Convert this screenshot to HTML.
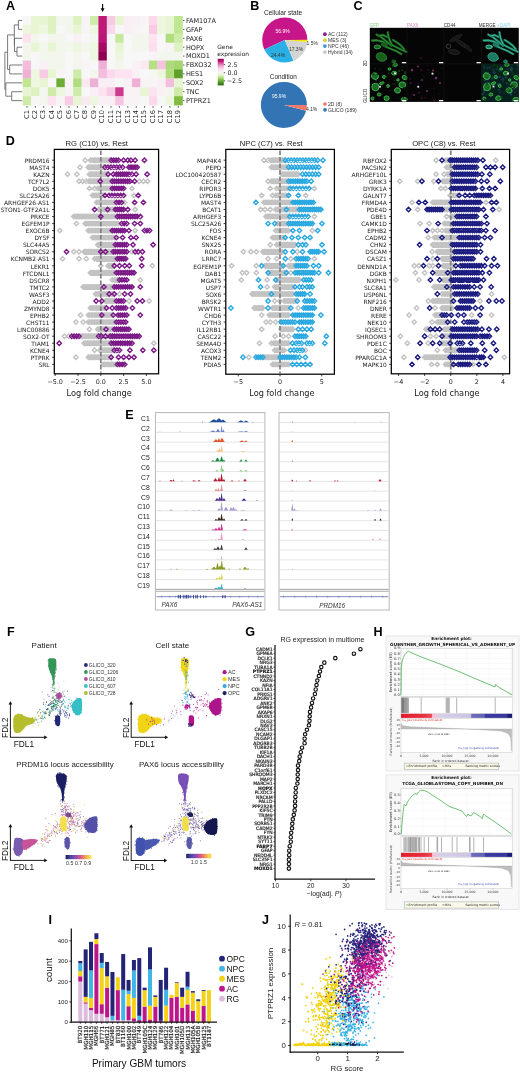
<!DOCTYPE html>
<html><head><meta charset="utf-8"><title>Figure</title>
<style>html,body{margin:0;padding:0;background:#fff;}svg{display:block;}</style></head>
<body><svg width="520" height="1072" viewBox="0 0 520 1072">
<rect width="520" height="1072" fill="#fff"/>
<text x="6.10" y="10.00" font-size="12.6" font-family='"Liberation Sans", Arial, sans-serif' font-weight="bold">A</text>
<rect x="22.70" y="16.00" width="8.71" height="9.21" fill="#f7f7f7" />
<rect x="31.11" y="16.00" width="8.71" height="9.21" fill="#e7f5d3" />
<rect x="39.52" y="16.00" width="8.71" height="9.21" fill="#e7f5d3" />
<rect x="47.93" y="16.00" width="8.71" height="9.21" fill="#ddf1c1" />
<rect x="56.34" y="16.00" width="8.71" height="9.21" fill="#f2f6ec" />
<rect x="64.75" y="16.00" width="8.71" height="9.21" fill="#f2f6ec" />
<rect x="73.16" y="16.00" width="8.71" height="9.21" fill="#ddf1c1" />
<rect x="81.57" y="16.00" width="8.71" height="9.21" fill="#f8f4f6" />
<rect x="89.98" y="16.00" width="8.71" height="9.21" fill="#cfebaa" />
<rect x="98.39" y="16.00" width="8.71" height="9.21" fill="#c01879" />
<rect x="106.81" y="16.00" width="8.71" height="9.21" fill="#f7cbe4" />
<rect x="115.22" y="16.00" width="8.71" height="9.21" fill="#e7f5d3" />
<rect x="123.63" y="16.00" width="8.71" height="9.21" fill="#f9f0f5" />
<rect x="132.04" y="16.00" width="8.71" height="9.21" fill="#f9f0f5" />
<rect x="140.45" y="16.00" width="8.71" height="9.21" fill="#f8f4f6" />
<rect x="148.86" y="16.00" width="8.71" height="9.21" fill="#fbd8eb" />
<rect x="157.27" y="16.00" width="8.71" height="9.21" fill="#edf6df" />
<rect x="165.68" y="16.00" width="8.71" height="9.21" fill="#e7f5d3" />
<rect x="174.09" y="16.00" width="8.71" height="9.21" fill="#c0e593" />
<rect x="22.70" y="24.91" width="8.71" height="9.21" fill="#edf6df" />
<rect x="31.11" y="24.91" width="8.71" height="9.21" fill="#e7f5d3" />
<rect x="39.52" y="24.91" width="8.71" height="9.21" fill="#edf6df" />
<rect x="47.93" y="24.91" width="8.71" height="9.21" fill="#ddf1c1" />
<rect x="56.34" y="24.91" width="8.71" height="9.21" fill="#f7f7f7" />
<rect x="64.75" y="24.91" width="8.71" height="9.21" fill="#f2f6ec" />
<rect x="73.16" y="24.91" width="8.71" height="9.21" fill="#e7f5d3" />
<rect x="81.57" y="24.91" width="8.71" height="9.21" fill="#f8f4f6" />
<rect x="89.98" y="24.91" width="8.71" height="9.21" fill="#edf6df" />
<rect x="98.39" y="24.91" width="8.71" height="9.21" fill="#c01879" />
<rect x="106.81" y="24.91" width="8.71" height="9.21" fill="#fbd8eb" />
<rect x="115.22" y="24.91" width="8.71" height="9.21" fill="#f7f7f7" />
<rect x="123.63" y="24.91" width="8.71" height="9.21" fill="#f9f0f5" />
<rect x="132.04" y="24.91" width="8.71" height="9.21" fill="#f8f4f6" />
<rect x="140.45" y="24.91" width="8.71" height="9.21" fill="#f7f7f7" />
<rect x="148.86" y="24.91" width="8.71" height="9.21" fill="#f7cbe4" />
<rect x="157.27" y="24.91" width="8.71" height="9.21" fill="#edf6df" />
<rect x="165.68" y="24.91" width="8.71" height="9.21" fill="#e7f5d3" />
<rect x="174.09" y="24.91" width="8.71" height="9.21" fill="#c0e593" />
<rect x="22.70" y="33.82" width="8.71" height="9.21" fill="#fde2f0" />
<rect x="31.11" y="33.82" width="8.71" height="9.21" fill="#f2f6ec" />
<rect x="39.52" y="33.82" width="8.71" height="9.21" fill="#f7f7f7" />
<rect x="47.93" y="33.82" width="8.71" height="9.21" fill="#f2f6ec" />
<rect x="56.34" y="33.82" width="8.71" height="9.21" fill="#f2f6ec" />
<rect x="64.75" y="33.82" width="8.71" height="9.21" fill="#f7f7f7" />
<rect x="73.16" y="33.82" width="8.71" height="9.21" fill="#f9f0f5" />
<rect x="81.57" y="33.82" width="8.71" height="9.21" fill="#f7f7f7" />
<rect x="89.98" y="33.82" width="8.71" height="9.21" fill="#f2f6ec" />
<rect x="98.39" y="33.82" width="8.71" height="9.21" fill="#bb1675" />
<rect x="106.81" y="33.82" width="8.71" height="9.21" fill="#f7f7f7" />
<rect x="115.22" y="33.82" width="8.71" height="9.21" fill="#c7e89f" />
<rect x="123.63" y="33.82" width="8.71" height="9.21" fill="#f7f7f7" />
<rect x="132.04" y="33.82" width="8.71" height="9.21" fill="#f2f6ec" />
<rect x="140.45" y="33.82" width="8.71" height="9.21" fill="#f2f6ec" />
<rect x="148.86" y="33.82" width="8.71" height="9.21" fill="#fde2f0" />
<rect x="157.27" y="33.82" width="8.71" height="9.21" fill="#f7f7f7" />
<rect x="165.68" y="33.82" width="8.71" height="9.21" fill="#b2dd7f" />
<rect x="174.09" y="33.82" width="8.71" height="9.21" fill="#cfebaa" />
<rect x="22.70" y="42.73" width="8.71" height="9.21" fill="#f2f6ec" />
<rect x="31.11" y="42.73" width="8.71" height="9.21" fill="#e7f5d3" />
<rect x="39.52" y="42.73" width="8.71" height="9.21" fill="#f2f6ec" />
<rect x="47.93" y="42.73" width="8.71" height="9.21" fill="#e7f5d3" />
<rect x="56.34" y="42.73" width="8.71" height="9.21" fill="#f2f6ec" />
<rect x="64.75" y="42.73" width="8.71" height="9.21" fill="#f2f6ec" />
<rect x="73.16" y="42.73" width="8.71" height="9.21" fill="#edf6df" />
<rect x="81.57" y="42.73" width="8.71" height="9.21" fill="#f2f6ec" />
<rect x="89.98" y="42.73" width="8.71" height="9.21" fill="#edf6df" />
<rect x="98.39" y="42.73" width="8.71" height="9.21" fill="#a40b63" />
<rect x="106.81" y="42.73" width="8.71" height="9.21" fill="#f7f7f7" />
<rect x="115.22" y="42.73" width="8.71" height="9.21" fill="#e7f5d3" />
<rect x="123.63" y="42.73" width="8.71" height="9.21" fill="#f7f7f7" />
<rect x="132.04" y="42.73" width="8.71" height="9.21" fill="#f2f6ec" />
<rect x="140.45" y="42.73" width="8.71" height="9.21" fill="#f2f6ec" />
<rect x="148.86" y="42.73" width="8.71" height="9.21" fill="#fddeee" />
<rect x="157.27" y="42.73" width="8.71" height="9.21" fill="#f7f7f7" />
<rect x="165.68" y="42.73" width="8.71" height="9.21" fill="#f8f4f6" />
<rect x="174.09" y="42.73" width="8.71" height="9.21" fill="#ddf1c1" />
<rect x="22.70" y="51.64" width="8.71" height="9.21" fill="#f2f6ec" />
<rect x="31.11" y="51.64" width="8.71" height="9.21" fill="#f7f7f7" />
<rect x="39.52" y="51.64" width="8.71" height="9.21" fill="#f2f6ec" />
<rect x="47.93" y="51.64" width="8.71" height="9.21" fill="#f2f6ec" />
<rect x="56.34" y="51.64" width="8.71" height="9.21" fill="#f2f6ec" />
<rect x="64.75" y="51.64" width="8.71" height="9.21" fill="#f7f7f7" />
<rect x="73.16" y="51.64" width="8.71" height="9.21" fill="#f2f6ec" />
<rect x="81.57" y="51.64" width="8.71" height="9.21" fill="#f7f7f7" />
<rect x="89.98" y="51.64" width="8.71" height="9.21" fill="#edf6df" />
<rect x="98.39" y="51.64" width="8.71" height="9.21" fill="#8e0152" />
<rect x="106.81" y="51.64" width="8.71" height="9.21" fill="#f7f7f7" />
<rect x="115.22" y="51.64" width="8.71" height="9.21" fill="#edf6df" />
<rect x="123.63" y="51.64" width="8.71" height="9.21" fill="#f7f7f7" />
<rect x="132.04" y="51.64" width="8.71" height="9.21" fill="#f7f7f7" />
<rect x="140.45" y="51.64" width="8.71" height="9.21" fill="#f7f7f7" />
<rect x="148.86" y="51.64" width="8.71" height="9.21" fill="#f8f4f6" />
<rect x="157.27" y="51.64" width="8.71" height="9.21" fill="#f2f6ec" />
<rect x="165.68" y="51.64" width="8.71" height="9.21" fill="#f2f6ec" />
<rect x="174.09" y="51.64" width="8.71" height="9.21" fill="#f2f6ec" />
<rect x="22.70" y="60.55" width="8.71" height="9.21" fill="#f3bdde" />
<rect x="31.11" y="60.55" width="8.71" height="9.21" fill="#f7f7f7" />
<rect x="39.52" y="60.55" width="8.71" height="9.21" fill="#f9f0f5" />
<rect x="47.93" y="60.55" width="8.71" height="9.21" fill="#f2f6ec" />
<rect x="56.34" y="60.55" width="8.71" height="9.21" fill="#f2f6ec" />
<rect x="64.75" y="60.55" width="8.71" height="9.21" fill="#f7f7f7" />
<rect x="73.16" y="60.55" width="8.71" height="9.21" fill="#f2f6ec" />
<rect x="81.57" y="60.55" width="8.71" height="9.21" fill="#f8f4f6" />
<rect x="89.98" y="60.55" width="8.71" height="9.21" fill="#f7f7f7" />
<rect x="98.39" y="60.55" width="8.71" height="9.21" fill="#efb0d6" />
<rect x="106.81" y="60.55" width="8.71" height="9.21" fill="#f7f7f7" />
<rect x="115.22" y="60.55" width="8.71" height="9.21" fill="#f2f6ec" />
<rect x="123.63" y="60.55" width="8.71" height="9.21" fill="#f7f7f7" />
<rect x="132.04" y="60.55" width="8.71" height="9.21" fill="#f9f0f5" />
<rect x="140.45" y="60.55" width="8.71" height="9.21" fill="#fbe9f2" />
<rect x="148.86" y="60.55" width="8.71" height="9.21" fill="#b7e085" />
<rect x="157.27" y="60.55" width="8.71" height="9.21" fill="#f5c4e1" />
<rect x="165.68" y="60.55" width="8.71" height="9.21" fill="#aeda7a" />
<rect x="174.09" y="60.55" width="8.71" height="9.21" fill="#a5d56f" />
<rect x="22.70" y="69.46" width="8.71" height="9.21" fill="#efb0d6" />
<rect x="31.11" y="69.46" width="8.71" height="9.21" fill="#edf6df" />
<rect x="39.52" y="69.46" width="8.71" height="9.21" fill="#f7cbe4" />
<rect x="47.93" y="69.46" width="8.71" height="9.21" fill="#e7f5d3" />
<rect x="56.34" y="69.46" width="8.71" height="9.21" fill="#f8f4f6" />
<rect x="64.75" y="69.46" width="8.71" height="9.21" fill="#f7f7f7" />
<rect x="73.16" y="69.46" width="8.71" height="9.21" fill="#cfebaa" />
<rect x="81.57" y="69.46" width="8.71" height="9.21" fill="#f7f7f7" />
<rect x="89.98" y="69.46" width="8.71" height="9.21" fill="#f2f6ec" />
<rect x="98.39" y="69.46" width="8.71" height="9.21" fill="#f3bdde" />
<rect x="106.81" y="69.46" width="8.71" height="9.21" fill="#fbd8eb" />
<rect x="115.22" y="69.46" width="8.71" height="9.21" fill="#fde2f0" />
<rect x="123.63" y="69.46" width="8.71" height="9.21" fill="#fde2f0" />
<rect x="132.04" y="69.46" width="8.71" height="9.21" fill="#f9f0f5" />
<rect x="140.45" y="69.46" width="8.71" height="9.21" fill="#f7f7f7" />
<rect x="148.86" y="69.46" width="8.71" height="9.21" fill="#f5f7f2" />
<rect x="157.27" y="69.46" width="8.71" height="9.21" fill="#edf6df" />
<rect x="165.68" y="69.46" width="8.71" height="9.21" fill="#b2dd7f" />
<rect x="174.09" y="69.46" width="8.71" height="9.21" fill="#5ea02c" />
<rect x="22.70" y="78.37" width="8.71" height="9.21" fill="#c0e593" />
<rect x="31.11" y="78.37" width="8.71" height="9.21" fill="#edf6df" />
<rect x="39.52" y="78.37" width="8.71" height="9.21" fill="#e7f5d3" />
<rect x="47.93" y="78.37" width="8.71" height="9.21" fill="#f7f7f7" />
<rect x="56.34" y="78.37" width="8.71" height="9.21" fill="#6dad36" />
<rect x="64.75" y="78.37" width="8.71" height="9.21" fill="#f8f4f6" />
<rect x="73.16" y="78.37" width="8.71" height="9.21" fill="#b2dd7f" />
<rect x="81.57" y="78.37" width="8.71" height="9.21" fill="#fbe9f2" />
<rect x="89.98" y="78.37" width="8.71" height="9.21" fill="#efb0d6" />
<rect x="98.39" y="78.37" width="8.71" height="9.21" fill="#f9f0f5" />
<rect x="106.81" y="78.37" width="8.71" height="9.21" fill="#f9f0f5" />
<rect x="115.22" y="78.37" width="8.71" height="9.21" fill="#f7f7f7" />
<rect x="123.63" y="78.37" width="8.71" height="9.21" fill="#f9f0f5" />
<rect x="132.04" y="78.37" width="8.71" height="9.21" fill="#efb0d6" />
<rect x="140.45" y="78.37" width="8.71" height="9.21" fill="#f8f4f6" />
<rect x="148.86" y="78.37" width="8.71" height="9.21" fill="#f8f4f6" />
<rect x="157.27" y="78.37" width="8.71" height="9.21" fill="#f9f0f5" />
<rect x="165.68" y="78.37" width="8.71" height="9.21" fill="#f3bdde" />
<rect x="174.09" y="78.37" width="8.71" height="9.21" fill="#e7f5d3" />
<rect x="22.70" y="87.28" width="8.71" height="9.21" fill="#e7f5d3" />
<rect x="31.11" y="87.28" width="8.71" height="9.21" fill="#ddf1c1" />
<rect x="39.52" y="87.28" width="8.71" height="9.21" fill="#f2f6ec" />
<rect x="47.93" y="87.28" width="8.71" height="9.21" fill="#cfebaa" />
<rect x="56.34" y="87.28" width="8.71" height="9.21" fill="#edf6df" />
<rect x="64.75" y="87.28" width="8.71" height="9.21" fill="#f8f4f6" />
<rect x="73.16" y="87.28" width="8.71" height="9.21" fill="#cfebaa" />
<rect x="81.57" y="87.28" width="8.71" height="9.21" fill="#f7f7f7" />
<rect x="89.98" y="87.28" width="8.71" height="9.21" fill="#f9f0f5" />
<rect x="98.39" y="87.28" width="8.71" height="9.21" fill="#fde2f0" />
<rect x="106.81" y="87.28" width="8.71" height="9.21" fill="#f7cbe4" />
<rect x="115.22" y="87.28" width="8.71" height="9.21" fill="#cd3a8d" />
<rect x="123.63" y="87.28" width="8.71" height="9.21" fill="#f8f4f6" />
<rect x="132.04" y="87.28" width="8.71" height="9.21" fill="#f8f4f6" />
<rect x="140.45" y="87.28" width="8.71" height="9.21" fill="#e7f5d3" />
<rect x="148.86" y="87.28" width="8.71" height="9.21" fill="#fde2f0" />
<rect x="157.27" y="87.28" width="8.71" height="9.21" fill="#f9f0f5" />
<rect x="165.68" y="87.28" width="8.71" height="9.21" fill="#f2f6ec" />
<rect x="174.09" y="87.28" width="8.71" height="9.21" fill="#cfebaa" />
<rect x="22.70" y="96.19" width="8.71" height="9.21" fill="#cfebaa" />
<rect x="31.11" y="96.19" width="8.71" height="9.21" fill="#f7f7f7" />
<rect x="39.52" y="96.19" width="8.71" height="9.21" fill="#f2f6ec" />
<rect x="47.93" y="96.19" width="8.71" height="9.21" fill="#fde2f0" />
<rect x="56.34" y="96.19" width="8.71" height="9.21" fill="#f8f4f6" />
<rect x="64.75" y="96.19" width="8.71" height="9.21" fill="#f7cbe4" />
<rect x="73.16" y="96.19" width="8.71" height="9.21" fill="#e7f5d3" />
<rect x="81.57" y="96.19" width="8.71" height="9.21" fill="#fbe9f2" />
<rect x="89.98" y="96.19" width="8.71" height="9.21" fill="#edf6df" />
<rect x="98.39" y="96.19" width="8.71" height="9.21" fill="#f9f0f5" />
<rect x="106.81" y="96.19" width="8.71" height="9.21" fill="#f9f0f5" />
<rect x="115.22" y="96.19" width="8.71" height="9.21" fill="#f5c4e1" />
<rect x="123.63" y="96.19" width="8.71" height="9.21" fill="#f8f4f6" />
<rect x="132.04" y="96.19" width="8.71" height="9.21" fill="#f8f4f6" />
<rect x="140.45" y="96.19" width="8.71" height="9.21" fill="#f5f7f2" />
<rect x="148.86" y="96.19" width="8.71" height="9.21" fill="#fbd8eb" />
<rect x="157.27" y="96.19" width="8.71" height="9.21" fill="#f5f7f2" />
<rect x="165.68" y="96.19" width="8.71" height="9.21" fill="#edf6df" />
<rect x="174.09" y="96.19" width="8.71" height="9.21" fill="#7fbc41" />
<line x1="102.60" y1="4.00" x2="102.60" y2="9.00" stroke="#000" stroke-width="1.1" />
<path d="M100.70,8.2 L104.50,8.2 L102.60,11.9 Z" fill="#000" />
<line x1="183.10" y1="20.45" x2="184.40" y2="20.45" stroke="#222" stroke-width="0.8" />
<text x="185.90" y="22.82" font-size="6.5" font-family='"DejaVu Sans", sans-serif' fill="#222">FAM107A</text>
<line x1="183.10" y1="29.37" x2="184.40" y2="29.37" stroke="#222" stroke-width="0.8" />
<text x="185.90" y="31.73" font-size="6.5" font-family='"DejaVu Sans", sans-serif' fill="#222">GFAP</text>
<line x1="183.10" y1="38.27" x2="184.40" y2="38.27" stroke="#222" stroke-width="0.8" />
<text x="185.90" y="40.64" font-size="6.5" font-family='"DejaVu Sans", sans-serif' fill="#222">PAX6</text>
<line x1="183.10" y1="47.19" x2="184.40" y2="47.19" stroke="#222" stroke-width="0.8" />
<text x="185.90" y="49.55" font-size="6.5" font-family='"DejaVu Sans", sans-serif' fill="#222">HOPX</text>
<line x1="183.10" y1="56.09" x2="184.40" y2="56.09" stroke="#222" stroke-width="0.8" />
<text x="185.90" y="58.46" font-size="6.5" font-family='"DejaVu Sans", sans-serif' fill="#222">MOXD1</text>
<line x1="183.10" y1="65.00" x2="184.40" y2="65.00" stroke="#222" stroke-width="0.8" />
<text x="185.90" y="67.37" font-size="6.5" font-family='"DejaVu Sans", sans-serif' fill="#222">FBXO32</text>
<line x1="183.10" y1="73.91" x2="184.40" y2="73.91" stroke="#222" stroke-width="0.8" />
<text x="185.90" y="76.28" font-size="6.5" font-family='"DejaVu Sans", sans-serif' fill="#222">HES1</text>
<line x1="183.10" y1="82.83" x2="184.40" y2="82.83" stroke="#222" stroke-width="0.8" />
<text x="185.90" y="85.19" font-size="6.5" font-family='"DejaVu Sans", sans-serif' fill="#222">SOX2</text>
<line x1="183.10" y1="91.73" x2="184.40" y2="91.73" stroke="#222" stroke-width="0.8" />
<text x="185.90" y="94.10" font-size="6.5" font-family='"DejaVu Sans", sans-serif' fill="#222">TNC</text>
<line x1="183.10" y1="100.64" x2="184.40" y2="100.64" stroke="#222" stroke-width="0.8" />
<text x="185.90" y="103.01" font-size="6.5" font-family='"DejaVu Sans", sans-serif' fill="#222">PTPRZ1</text>
<line x1="26.91" y1="106.10" x2="26.91" y2="107.70" stroke="#222" stroke-width="0.8" />
<text x="28.61" y="110.00" font-size="6.7" font-family='"DejaVu Sans", sans-serif' text-anchor="end" fill="#222" transform="rotate(-90 28.61 110.00)">C1</text>
<line x1="35.32" y1="106.10" x2="35.32" y2="107.70" stroke="#222" stroke-width="0.8" />
<text x="37.02" y="110.00" font-size="6.7" font-family='"DejaVu Sans", sans-serif' text-anchor="end" fill="#222" transform="rotate(-90 37.02 110.00)">C2</text>
<line x1="43.73" y1="106.10" x2="43.73" y2="107.70" stroke="#222" stroke-width="0.8" />
<text x="45.43" y="110.00" font-size="6.7" font-family='"DejaVu Sans", sans-serif' text-anchor="end" fill="#222" transform="rotate(-90 45.43 110.00)">C3</text>
<line x1="52.14" y1="106.10" x2="52.14" y2="107.70" stroke="#222" stroke-width="0.8" />
<text x="53.84" y="110.00" font-size="6.7" font-family='"DejaVu Sans", sans-serif' text-anchor="end" fill="#222" transform="rotate(-90 53.84 110.00)">C4</text>
<line x1="60.55" y1="106.10" x2="60.55" y2="107.70" stroke="#222" stroke-width="0.8" />
<text x="62.25" y="110.00" font-size="6.7" font-family='"DejaVu Sans", sans-serif' text-anchor="end" fill="#222" transform="rotate(-90 62.25 110.00)">C5</text>
<line x1="68.96" y1="106.10" x2="68.96" y2="107.70" stroke="#222" stroke-width="0.8" />
<text x="70.66" y="110.00" font-size="6.7" font-family='"DejaVu Sans", sans-serif' text-anchor="end" fill="#222" transform="rotate(-90 70.66 110.00)">C6</text>
<line x1="77.37" y1="106.10" x2="77.37" y2="107.70" stroke="#222" stroke-width="0.8" />
<text x="79.07" y="110.00" font-size="6.7" font-family='"DejaVu Sans", sans-serif' text-anchor="end" fill="#222" transform="rotate(-90 79.07 110.00)">C7</text>
<line x1="85.78" y1="106.10" x2="85.78" y2="107.70" stroke="#222" stroke-width="0.8" />
<text x="87.48" y="110.00" font-size="6.7" font-family='"DejaVu Sans", sans-serif' text-anchor="end" fill="#222" transform="rotate(-90 87.48 110.00)">C8</text>
<line x1="94.19" y1="106.10" x2="94.19" y2="107.70" stroke="#222" stroke-width="0.8" />
<text x="95.89" y="110.00" font-size="6.7" font-family='"DejaVu Sans", sans-serif' text-anchor="end" fill="#222" transform="rotate(-90 95.89 110.00)">C9</text>
<line x1="102.60" y1="106.10" x2="102.60" y2="107.70" stroke="#222" stroke-width="0.8" />
<text x="104.30" y="110.00" font-size="6.7" font-family='"DejaVu Sans", sans-serif' text-anchor="end" fill="#222" transform="rotate(-90 104.30 110.00)">C10</text>
<line x1="111.01" y1="106.10" x2="111.01" y2="107.70" stroke="#222" stroke-width="0.8" />
<text x="112.71" y="110.00" font-size="6.7" font-family='"DejaVu Sans", sans-serif' text-anchor="end" fill="#222" transform="rotate(-90 112.71 110.00)">C11</text>
<line x1="119.42" y1="106.10" x2="119.42" y2="107.70" stroke="#222" stroke-width="0.8" />
<text x="121.12" y="110.00" font-size="6.7" font-family='"DejaVu Sans", sans-serif' text-anchor="end" fill="#222" transform="rotate(-90 121.12 110.00)">C12</text>
<line x1="127.83" y1="106.10" x2="127.83" y2="107.70" stroke="#222" stroke-width="0.8" />
<text x="129.53" y="110.00" font-size="6.7" font-family='"DejaVu Sans", sans-serif' text-anchor="end" fill="#222" transform="rotate(-90 129.53 110.00)">C13</text>
<line x1="136.24" y1="106.10" x2="136.24" y2="107.70" stroke="#222" stroke-width="0.8" />
<text x="137.94" y="110.00" font-size="6.7" font-family='"DejaVu Sans", sans-serif' text-anchor="end" fill="#222" transform="rotate(-90 137.94 110.00)">C14</text>
<line x1="144.65" y1="106.10" x2="144.65" y2="107.70" stroke="#222" stroke-width="0.8" />
<text x="146.35" y="110.00" font-size="6.7" font-family='"DejaVu Sans", sans-serif' text-anchor="end" fill="#222" transform="rotate(-90 146.35 110.00)">C15</text>
<line x1="153.06" y1="106.10" x2="153.06" y2="107.70" stroke="#222" stroke-width="0.8" />
<text x="154.76" y="110.00" font-size="6.7" font-family='"DejaVu Sans", sans-serif' text-anchor="end" fill="#222" transform="rotate(-90 154.76 110.00)">C16</text>
<line x1="161.47" y1="106.10" x2="161.47" y2="107.70" stroke="#222" stroke-width="0.8" />
<text x="163.17" y="110.00" font-size="6.7" font-family='"DejaVu Sans", sans-serif' text-anchor="end" fill="#222" transform="rotate(-90 163.17 110.00)">C17</text>
<line x1="169.88" y1="106.10" x2="169.88" y2="107.70" stroke="#222" stroke-width="0.8" />
<text x="171.58" y="110.00" font-size="6.7" font-family='"DejaVu Sans", sans-serif' text-anchor="end" fill="#222" transform="rotate(-90 171.58 110.00)">C18</text>
<line x1="178.29" y1="106.10" x2="178.29" y2="107.70" stroke="#222" stroke-width="0.8" />
<text x="179.99" y="110.00" font-size="6.7" font-family='"DejaVu Sans", sans-serif' text-anchor="end" fill="#222" transform="rotate(-90 179.99 110.00)">C19</text>
<path d="M22.20,20.45 H18.40 V29.37 H22.20" fill="none" stroke="#6a6a6a" stroke-width="0.9" />
<path d="M22.20,47.19 H17.00 V56.09 H22.20" fill="none" stroke="#6a6a6a" stroke-width="0.9" />
<path d="M22.20,38.27 H14.50 V51.64 H17.00" fill="none" stroke="#6a6a6a" stroke-width="0.9" />
<path d="M18.40,24.91 H14.30 V44.96 H14.50" fill="none" stroke="#6a6a6a" stroke-width="0.9" />
<path d="M22.20,65.00 H9.70 V73.91 H22.20" fill="none" stroke="#6a6a6a" stroke-width="0.9" />
<path d="M14.30,34.93 H7.60 V69.46 H9.70" fill="none" stroke="#6a6a6a" stroke-width="0.9" />
<path d="M22.20,91.73 H11.70 V100.64 H22.20" fill="none" stroke="#6a6a6a" stroke-width="0.9" />
<path d="M22.20,82.83 H5.80 V96.19 H11.70" fill="none" stroke="#6a6a6a" stroke-width="0.9" />
<path d="M7.60,52.20 H4.90 V89.51 H5.80" fill="none" stroke="#6a6a6a" stroke-width="0.9" />
<defs><linearGradient id="gA" x1="0" y1="1" x2="0" y2="0"><stop offset="0.000" stop-color="#276419"/><stop offset="0.050" stop-color="#397a1d"/><stop offset="0.100" stop-color="#4c9121"/><stop offset="0.150" stop-color="#66a731"/><stop offset="0.200" stop-color="#7fbc41"/><stop offset="0.250" stop-color="#9ccf64"/><stop offset="0.300" stop-color="#b7e085"/><stop offset="0.350" stop-color="#cfebaa"/><stop offset="0.400" stop-color="#e6f5d0"/><stop offset="0.450" stop-color="#eff6e4"/><stop offset="0.500" stop-color="#f7f7f7"/><stop offset="0.550" stop-color="#faecf3"/><stop offset="0.600" stop-color="#fde0ef"/><stop offset="0.650" stop-color="#f7cbe4"/><stop offset="0.700" stop-color="#f1b5d9"/><stop offset="0.750" stop-color="#e795c3"/><stop offset="0.800" stop-color="#de77ae"/><stop offset="0.850" stop-color="#d14895"/><stop offset="0.900" stop-color="#c41a7c"/><stop offset="0.950" stop-color="#a80d66"/><stop offset="1.000" stop-color="#8e0152"/></linearGradient></defs>
<rect x="217.70" y="58.80" width="6.10" height="26.60" fill="url(#gA)" />
<line x1="223.80" y1="64.64" x2="225.10" y2="64.64" stroke="#222" stroke-width="0.8" />
<text x="227.50" y="66.94" font-size="6.3" font-family='"DejaVu Sans", sans-serif' fill="#222">2.5</text>
<line x1="223.80" y1="72.75" x2="225.10" y2="72.75" stroke="#222" stroke-width="0.8" />
<text x="227.50" y="75.05" font-size="6.3" font-family='"DejaVu Sans", sans-serif' fill="#222">0.0</text>
<line x1="223.80" y1="80.86" x2="225.10" y2="80.86" stroke="#222" stroke-width="0.8" />
<text x="226.70" y="83.15" font-size="6.3" font-family='"DejaVu Sans", sans-serif' fill="#222">−2.5</text>
<text x="217.30" y="49.40" font-size="5.9" font-family='"DejaVu Sans", sans-serif' fill="#222">Gene</text>
<text x="217.30" y="56.00" font-size="5.9" font-family='"DejaVu Sans", sans-serif' fill="#222">expression</text>
<text x="250.37" y="10.00" font-size="12.6" font-family='"Liberation Sans", Arial, sans-serif' font-weight="bold">B</text>
<text x="283.10" y="14.55" font-size="6.55" font-family='"Liberation Sans", Arial, sans-serif' text-anchor="middle" fill="#222">Cellular state</text>
<path d="M284.80,40.00 L307.40,40.00 A22.6,22.6 0 1 0 264.29,49.49 Z" fill="#c7168a" />
<path d="M284.80,40.00 L264.29,49.49 A22.6,22.6 0 0 0 293.51,60.85 Z" fill="#2ab0e4" />
<path d="M284.80,40.00 L293.51,60.85 A22.6,22.6 0 0 0 307.31,41.99 Z" fill="#d4d4d4" />
<path d="M284.80,40.00 L307.31,41.99 A22.6,22.6 0 0 0 307.40,39.86 Z" fill="#f2e600" />
<text x="282.60" y="33.02" font-size="5.0" font-family='"Liberation Sans", Arial, sans-serif' text-anchor="middle" fill="#fff">56.9%</text>
<text x="278.00" y="57.12" font-size="5.0" font-family='"Liberation Sans", Arial, sans-serif' text-anchor="middle" fill="#333">24.4%</text>
<text x="296.00" y="51.22" font-size="5.0" font-family='"Liberation Sans", Arial, sans-serif' text-anchor="middle" fill="#333">17.3%</text>
<text x="312.30" y="45.32" font-size="5.0" font-family='"Liberation Sans", Arial, sans-serif' text-anchor="middle" fill="#333">1.5%</text>
<circle cx="324.90" cy="34.20" r="1.85" fill="#8e1a8e" />
<text x="328.00" y="35.92" font-size="5.0" font-family='"Liberation Sans", Arial, sans-serif' fill="#333">AC (112)</text>
<circle cx="324.90" cy="40.15" r="1.85" fill="#cfd23a" />
<text x="328.00" y="41.87" font-size="5.0" font-family='"Liberation Sans", Arial, sans-serif' fill="#333">MES (3)</text>
<circle cx="324.90" cy="46.10" r="1.85" fill="#3a98d8" />
<text x="328.00" y="47.82" font-size="5.0" font-family='"Liberation Sans", Arial, sans-serif' fill="#333">NPC (46)</text>
<circle cx="324.90" cy="52.05" r="1.85" fill="#c8c8c8" />
<text x="328.00" y="53.77" font-size="5.0" font-family='"Liberation Sans", Arial, sans-serif' fill="#333">Hybrid (34)</text>
<text x="283.30" y="78.90" font-size="6.4" font-family='"Liberation Sans", Arial, sans-serif' text-anchor="middle" fill="#222">Condition</text>
<path d="M283.90,104.90 L306.90,104.90 A23.0,23.0 0 1 0 306.14,110.76 Z" fill="#3274b4" />
<path d="M283.90,104.90 L306.14,110.76 A23.0,23.0 0 0 0 306.90,104.90 Z" fill="#f07a6a" />
<text x="279.00" y="97.72" font-size="5.0" font-family='"Liberation Sans", Arial, sans-serif' text-anchor="middle" fill="#fff">95.9%</text>
<text x="311.60" y="111.12" font-size="5.0" font-family='"Liberation Sans", Arial, sans-serif' text-anchor="middle" fill="#333">4.1%</text>
<circle cx="325.00" cy="104.00" r="1.85" fill="#f07a6a" />
<text x="328.00" y="105.72" font-size="5.0" font-family='"Liberation Sans", Arial, sans-serif' fill="#333">2D (8)</text>
<circle cx="325.00" cy="109.80" r="1.85" fill="#3274b4" />
<text x="328.00" y="111.52" font-size="5.0" font-family='"Liberation Sans", Arial, sans-serif' fill="#333">GLICO (189)</text>
<text x="353.58" y="10.10" font-size="12.6" font-family='"Liberation Sans", Arial, sans-serif' font-weight="bold">C</text>
<defs><filter id="bl" x="-20%" y="-20%" width="140%" height="140%"><feGaussianBlur stdDeviation="0.6"/></filter><filter id="bl2" x="-20%" y="-20%" width="140%" height="140%"><feGaussianBlur stdDeviation="0.35"/></filter><clipPath id="cC"><rect x="369.8" y="27.8" width="149" height="74.1"/></clipPath></defs>
<rect x="369.80" y="27.80" width="149.00" height="74.10" fill="#050505" />
<g clip-path="url(#cC)">
<g filter="url(#bl2)" opacity="1.0" fill="none" stroke-linecap="round" stroke-linejoin="round">
<path d="M376.5 34.5 L381.0 37.0 L386.0 41.0 L391.5 45.8" stroke="#17601f" stroke-width="2.4"/>
<path d="M376.5 34.5 L381.0 37.0 L386.0 41.0 L391.5 45.8" stroke="#40a84c" stroke-width="0.7"/>
<path d="M387.8 32.3 L388.5 37.0 L390.0 41.0 L392.0 45.0" stroke="#17601f" stroke-width="2.4"/>
<path d="M387.8 32.3 L388.5 37.0 L390.0 41.0 L392.0 45.0" stroke="#40a84c" stroke-width="0.7"/>
<path d="M372.0 40.5 L377.0 40.3 L382.0 41.5 L386.0 43.0" stroke="#17601f" stroke-width="2.4"/>
<path d="M372.0 40.5 L377.0 40.3 L382.0 41.5 L386.0 43.0" stroke="#40a84c" stroke-width="0.7"/>
<path d="M384.0 45.8 L390.0 48.5 L396.0 51.0 L401.3 54.0" stroke="#17601f" stroke-width="2.4"/>
<path d="M384.0 45.8 L390.0 48.5 L396.0 51.0 L401.3 54.0" stroke="#40a84c" stroke-width="0.7"/>
<path d="M392.0 45.0 L397.0 47.5 L402.0 50.0 L406.5 51.8" stroke="#17601f" stroke-width="2.4"/>
<path d="M392.0 45.0 L397.0 47.5 L402.0 50.0 L406.5 51.8" stroke="#40a84c" stroke-width="0.7"/>
<path d="M379.0 36.0 L383.0 35.0 L387.0 37.0" stroke="#17601f" stroke-width="2.4"/>
<path d="M379.0 36.0 L383.0 35.0 L387.0 37.0" stroke="#40a84c" stroke-width="0.7"/>
<path d="M393.0 40.0 L397.0 42.5 L401.0 45.5 L404.0 49.0" stroke="#17601f" stroke-width="2.4"/>
<path d="M393.0 40.0 L397.0 42.5 L401.0 45.5 L404.0 49.0" stroke="#40a84c" stroke-width="0.7"/>
<ellipse cx="377.3" cy="46.9" rx="3.2" ry="1.9" fill="#17601f" stroke="#40a84c" stroke-width="0.9"/>
<ellipse cx="384.5" cy="44.5" rx="3.5" ry="2.2" fill="#17601f"/>
<ellipse cx="381.4" cy="57" rx="5.4" ry="4.2" fill="#17601f" stroke="#40a84c" stroke-width="0.5" transform="rotate(20 381.4 57)"/>
<ellipse cx="393.8" cy="61.5" rx="2.4" ry="2.0" fill="#17601f"/>
</g>
<g filter="url(#bl2)">
<circle cx="448.50" cy="46.30" r="2.20" fill="none" stroke="#6a6a6a" stroke-width="0.5" />
<ellipse cx="456.00" cy="38" rx="7" ry="1.8" fill="#161616" stroke="#2e2e2e" stroke-width="0.5" transform="rotate(-30 456.00 38)"/>
<ellipse cx="462.00" cy="44" rx="8" ry="1.8" fill="#161616" stroke="#2e2e2e" stroke-width="0.5" transform="rotate(35 462.00 44)"/>
<ellipse cx="454.00" cy="52" rx="6" ry="2.5" fill="#161616" stroke="#2e2e2e" stroke-width="0.5" transform="rotate(10 454.00 52)"/>
<ellipse cx="468.00" cy="48" rx="5" ry="1.5" fill="#161616" stroke="#2e2e2e" stroke-width="0.5" transform="rotate(40 468.00 48)"/>
</g>
<g filter="url(#bl2)" opacity="1.0" fill="none" stroke-linecap="round" stroke-linejoin="round">
<path d="M488.2 34.5 L492.7 37.0 L497.7 41.0 L503.2 45.8" stroke="#1b7a62" stroke-width="2.4"/>
<path d="M488.2 34.5 L492.7 37.0 L497.7 41.0 L503.2 45.8" stroke="#4ad0a8" stroke-width="0.7"/>
<path d="M499.5 32.3 L500.2 37.0 L501.7 41.0 L503.7 45.0" stroke="#1b7a62" stroke-width="2.4"/>
<path d="M499.5 32.3 L500.2 37.0 L501.7 41.0 L503.7 45.0" stroke="#4ad0a8" stroke-width="0.7"/>
<path d="M483.7 40.5 L488.7 40.3 L493.7 41.5 L497.7 43.0" stroke="#1b7a62" stroke-width="2.4"/>
<path d="M483.7 40.5 L488.7 40.3 L493.7 41.5 L497.7 43.0" stroke="#4ad0a8" stroke-width="0.7"/>
<path d="M495.7 45.8 L501.7 48.5 L507.7 51.0 L513.0 54.0" stroke="#1b7a62" stroke-width="2.4"/>
<path d="M495.7 45.8 L501.7 48.5 L507.7 51.0 L513.0 54.0" stroke="#4ad0a8" stroke-width="0.7"/>
<path d="M503.7 45.0 L508.7 47.5 L513.7 50.0 L518.2 51.8" stroke="#1b7a62" stroke-width="2.4"/>
<path d="M503.7 45.0 L508.7 47.5 L513.7 50.0 L518.2 51.8" stroke="#4ad0a8" stroke-width="0.7"/>
<path d="M490.7 36.0 L494.7 35.0 L498.7 37.0" stroke="#1b7a62" stroke-width="2.4"/>
<path d="M490.7 36.0 L494.7 35.0 L498.7 37.0" stroke="#4ad0a8" stroke-width="0.7"/>
<path d="M504.7 40.0 L508.7 42.5 L512.7 45.5 L515.7 49.0" stroke="#1b7a62" stroke-width="2.4"/>
<path d="M504.7 40.0 L508.7 42.5 L512.7 45.5 L515.7 49.0" stroke="#4ad0a8" stroke-width="0.7"/>
<ellipse cx="489.0" cy="46.9" rx="3.2" ry="1.9" fill="#1b7a62" stroke="#4ad0a8" stroke-width="0.9"/>
<ellipse cx="496.2" cy="44.5" rx="3.5" ry="2.2" fill="#1b7a62"/>
<ellipse cx="493.1" cy="57" rx="5.4" ry="4.2" fill="#1b7a62" stroke="#4ad0a8" stroke-width="0.5" transform="rotate(20 493.1 57)"/>
<ellipse cx="505.5" cy="61.5" rx="2.4" ry="2.0" fill="#1b7a62"/>
</g>
<circle cx="420.90" cy="58.00" r="1.50" fill="#2a0a20" />
<rect x="481.50" y="63.80" width="37.30" height="38.10" fill="#07201c" />
<g filter="url(#bl2)">
<circle cx="493.66" cy="69.88" r="1.19" fill="#123c44" />
<circle cx="511.57" cy="67.78" r="1.12" fill="#22305a" />
<circle cx="489.73" cy="67.48" r="0.98" fill="#183a5a" />
<circle cx="485.27" cy="80.01" r="1.34" fill="#123c44" />
<circle cx="516.11" cy="87.63" r="1.12" fill="#123c44" />
<circle cx="502.78" cy="78.98" r="1.48" fill="#123c44" />
<circle cx="502.04" cy="69.23" r="0.98" fill="#22305a" />
<circle cx="486.24" cy="75.71" r="1.33" fill="#183a5a" />
<circle cx="485.71" cy="85.43" r="0.77" fill="#123c44" />
<circle cx="501.72" cy="66.62" r="0.65" fill="#183a5a" />
<circle cx="499.87" cy="83.97" r="1.30" fill="#1a4a4a" />
<circle cx="503.08" cy="81.07" r="0.87" fill="#183a5a" />
<circle cx="507.16" cy="73.33" r="1.12" fill="#22305a" />
<circle cx="499.82" cy="77.01" r="1.00" fill="#22305a" />
<circle cx="517.29" cy="68.67" r="0.98" fill="#0f3030" />
<circle cx="487.47" cy="82.39" r="0.64" fill="#123c44" />
<circle cx="509.52" cy="85.50" r="1.39" fill="#0f3030" />
<circle cx="494.24" cy="77.26" r="1.05" fill="#1a4a4a" />
<circle cx="484.48" cy="67.76" r="0.84" fill="#123c44" />
<circle cx="484.18" cy="90.26" r="1.18" fill="#1a4a4a" />
<circle cx="492.25" cy="78.57" r="1.20" fill="#123c44" />
<circle cx="515.86" cy="77.45" r="1.15" fill="#1a4a4a" />
<circle cx="484.12" cy="92.72" r="0.72" fill="#183a5a" />
<circle cx="496.32" cy="98.22" r="1.05" fill="#183a5a" />
<circle cx="498.17" cy="84.63" r="1.40" fill="#1a4a4a" />
<circle cx="513.10" cy="74.60" r="0.97" fill="#0f3030" />
<circle cx="506.58" cy="78.38" r="0.81" fill="#123c44" />
<circle cx="488.34" cy="72.88" r="0.81" fill="#1a4a4a" />
<circle cx="511.92" cy="71.05" r="0.85" fill="#183a5a" />
<circle cx="497.08" cy="77.96" r="1.11" fill="#183a5a" />
<circle cx="506.86" cy="83.37" r="1.16" fill="#123c44" />
<circle cx="498.44" cy="96.53" r="1.46" fill="#22305a" />
<circle cx="496.13" cy="79.06" r="0.69" fill="#1a4a4a" />
<circle cx="484.24" cy="66.79" r="0.79" fill="#183a5a" />
<circle cx="485.96" cy="86.53" r="0.69" fill="#22305a" />
<circle cx="487.45" cy="68.05" r="0.93" fill="#123c44" />
<circle cx="484.53" cy="71.99" r="0.94" fill="#0f3030" />
<circle cx="516.40" cy="86.58" r="1.03" fill="#123c44" />
<circle cx="512.56" cy="101.04" r="1.02" fill="#1a4a4a" />
<circle cx="493.23" cy="69.63" r="1.27" fill="#0f3030" />
<circle cx="499.23" cy="89.91" r="1.06" fill="#183a5a" />
<circle cx="516.24" cy="83.85" r="0.73" fill="#22305a" />
<circle cx="514.91" cy="92.35" r="0.87" fill="#123c44" />
<circle cx="507.06" cy="73.96" r="0.93" fill="#183a5a" />
<circle cx="494.81" cy="72.54" r="1.09" fill="#22305a" />
<circle cx="493.87" cy="72.55" r="1.33" fill="#183a5a" />
<circle cx="511.02" cy="94.58" r="1.27" fill="#183a5a" />
<circle cx="489.20" cy="82.53" r="1.26" fill="#123c44" />
<circle cx="510.44" cy="81.77" r="0.77" fill="#22305a" />
<circle cx="516.43" cy="80.85" r="1.44" fill="#0f3030" />
<circle cx="516.38" cy="77.79" r="0.80" fill="#183a5a" />
<circle cx="498.92" cy="76.80" r="1.03" fill="#22305a" />
<circle cx="512.26" cy="82.04" r="1.19" fill="#123c44" />
<circle cx="512.05" cy="68.74" r="0.95" fill="#183a5a" />
<circle cx="499.21" cy="70.91" r="1.31" fill="#0f3030" />
<circle cx="485.12" cy="99.31" r="1.25" fill="#1a4a4a" />
<circle cx="496.45" cy="99.33" r="1.25" fill="#183a5a" />
<circle cx="517.75" cy="65.32" r="1.13" fill="#1a4a4a" />
<circle cx="511.03" cy="69.71" r="1.34" fill="#1a4a4a" />
<circle cx="505.66" cy="77.27" r="1.09" fill="#183a5a" />
<circle cx="482.77" cy="93.88" r="1.25" fill="#123c44" />
<circle cx="500.96" cy="98.84" r="0.99" fill="#183a5a" />
<circle cx="511.74" cy="72.11" r="0.83" fill="#0f3030" />
<circle cx="500.04" cy="92.56" r="0.89" fill="#22305a" />
<circle cx="497.08" cy="69.15" r="1.42" fill="#0f3030" />
<circle cx="514.32" cy="88.81" r="1.33" fill="#22305a" />
<circle cx="497.14" cy="98.26" r="1.05" fill="#22305a" />
<circle cx="487.47" cy="83.19" r="1.39" fill="#183a5a" />
<circle cx="503.91" cy="93.01" r="0.73" fill="#183a5a" />
<circle cx="499.05" cy="91.13" r="1.10" fill="#0f3030" />
<ellipse cx="375.0" cy="76.2" rx="3.6" ry="3.2" fill="#1a6a26" stroke="#46c456" stroke-width="0.8" transform="rotate(30 375.0 76.2)"/>
<ellipse cx="375.4" cy="87.0" rx="3.6" ry="3.8" fill="#1a6a26" stroke="#46c456" stroke-width="0.8" transform="rotate(0 375.4 87.0)"/>
<ellipse cx="384.0" cy="76.9" rx="1.6" ry="1.6" fill="#1a6a26" stroke="#46c456" stroke-width="0.8" transform="rotate(0 384.0 76.9)"/>
<ellipse cx="381.8" cy="83.3" rx="2.4" ry="1.2" fill="#1a6a26" stroke="#46c456" stroke-width="0.8" transform="rotate(-20 381.8 83.3)"/>
<ellipse cx="394.2" cy="73.2" rx="2.6" ry="1.9" fill="#1a6a26" stroke="#46c456" stroke-width="0.8" transform="rotate(0 394.2 73.2)"/>
<ellipse cx="402.4" cy="84.8" rx="3.4" ry="3.0" fill="#1a6a26" stroke="#46c456" stroke-width="0.8" transform="rotate(0 402.4 84.8)"/>
<ellipse cx="397.5" cy="90.4" rx="3.0" ry="2.6" fill="#1a6a26" stroke="#46c456" stroke-width="0.8" transform="rotate(20 397.5 90.4)"/>
<ellipse cx="386.6" cy="98.2" rx="2.6" ry="2.3" fill="#1a6a26" stroke="#46c456" stroke-width="0.8" transform="rotate(0 386.6 98.2)"/>
<ellipse cx="404.6" cy="77.6" rx="2.6" ry="1.9" fill="#1a6a26" stroke="#46c456" stroke-width="0.8" transform="rotate(30 404.6 77.6)"/>
<ellipse cx="379.2" cy="94.5" rx="1.9" ry="1.6" fill="#1a6a26" stroke="#46c456" stroke-width="0.8" transform="rotate(0 379.2 94.5)"/>
<ellipse cx="404.3" cy="99.4" rx="3.0" ry="2.0" fill="#1a6a26" stroke="#46c456" stroke-width="0.8" transform="rotate(0 404.3 99.4)"/>
<ellipse cx="395.2" cy="64.8" rx="2.2" ry="1.6" fill="#1a6a26" stroke="#46c456" stroke-width="0.8" transform="rotate(0 395.2 64.8)"/>
<ellipse cx="389.5" cy="69.0" rx="1.5" ry="1.2" fill="#1a6a26" stroke="#46c456" stroke-width="0.8" transform="rotate(0 389.5 69.0)"/>
<ellipse cx="372.5" cy="98.5" rx="1.5" ry="1.5" fill="#1a6a26" stroke="#46c456" stroke-width="0.8" transform="rotate(0 372.5 98.5)"/>
<ellipse cx="388.0" cy="86.0" rx="1.4" ry="1.4" fill="#1a6a26" stroke="#46c456" stroke-width="0.8" transform="rotate(0 388.0 86.0)"/>
<ellipse cx="398.0" cy="80.0" rx="1.2" ry="1.2" fill="#1a6a26" stroke="#46c456" stroke-width="0.8" transform="rotate(0 398.0 80.0)"/>
<circle cx="394.86" cy="83.94" r="0.84" fill="#0d3312" />
<circle cx="402.10" cy="66.40" r="0.63" fill="#0d3312" />
<circle cx="398.10" cy="83.09" r="0.89" fill="#0d3312" />
<circle cx="386.26" cy="86.96" r="0.85" fill="#0a2a0f" />
<circle cx="377.48" cy="74.56" r="0.86" fill="#123e18" />
<circle cx="388.58" cy="73.46" r="0.87" fill="#123e18" />
<circle cx="403.52" cy="97.33" r="0.64" fill="#123e18" />
<circle cx="375.24" cy="68.80" r="0.81" fill="#0d3312" />
<circle cx="394.46" cy="80.15" r="0.65" fill="#123e18" />
<circle cx="398.52" cy="97.49" r="0.61" fill="#0a2a0f" />
<circle cx="393.46" cy="77.85" r="0.68" fill="#0d3312" />
<circle cx="405.13" cy="72.42" r="1.17" fill="#123e18" />
<circle cx="402.16" cy="70.32" r="0.97" fill="#0d3312" />
<circle cx="376.11" cy="80.27" r="0.86" fill="#123e18" />
<circle cx="385.47" cy="77.49" r="0.56" fill="#123e18" />
<circle cx="371.00" cy="84.80" r="0.81" fill="#0d3312" />
<circle cx="384.14" cy="83.45" r="0.71" fill="#0d3312" />
<circle cx="374.36" cy="98.29" r="0.66" fill="#0d3312" />
<circle cx="373.33" cy="74.36" r="1.13" fill="#0d3312" />
<circle cx="380.04" cy="69.09" r="0.80" fill="#0a2a0f" />
<circle cx="399.78" cy="73.87" r="0.60" fill="#0a2a0f" />
<circle cx="390.84" cy="90.22" r="0.56" fill="#0d3312" />
<circle cx="399.09" cy="71.08" r="1.13" fill="#123e18" />
<circle cx="404.08" cy="87.77" r="1.06" fill="#0d3312" />
<circle cx="392.19" cy="72.53" r="0.69" fill="#0d3312" />
<circle cx="386.64" cy="76.85" r="0.89" fill="#123e18" />
<circle cx="392.68" cy="65.90" r="1.00" fill="#0d3312" />
<circle cx="405.19" cy="73.99" r="0.63" fill="#123e18" />
<circle cx="392.93" cy="83.95" r="0.64" fill="#123e18" />
<circle cx="388.30" cy="70.88" r="0.74" fill="#0d3312" />
<ellipse cx="486.7" cy="76.2" rx="3.6" ry="3.2" fill="#1a6a26" stroke="#46c456" stroke-width="0.8" transform="rotate(30 486.7 76.2)"/>
<ellipse cx="487.1" cy="87.0" rx="3.6" ry="3.8" fill="#1a6a26" stroke="#46c456" stroke-width="0.8" transform="rotate(0 487.1 87.0)"/>
<ellipse cx="495.7" cy="76.9" rx="1.6" ry="1.6" fill="#1a6a26" stroke="#46c456" stroke-width="0.8" transform="rotate(0 495.7 76.9)"/>
<ellipse cx="493.5" cy="83.3" rx="2.4" ry="1.2" fill="#1a6a26" stroke="#46c456" stroke-width="0.8" transform="rotate(-20 493.5 83.3)"/>
<ellipse cx="505.9" cy="73.2" rx="2.6" ry="1.9" fill="#1a6a26" stroke="#46c456" stroke-width="0.8" transform="rotate(0 505.9 73.2)"/>
<ellipse cx="514.1" cy="84.8" rx="3.4" ry="3.0" fill="#1a6a26" stroke="#46c456" stroke-width="0.8" transform="rotate(0 514.1 84.8)"/>
<ellipse cx="509.2" cy="90.4" rx="3.0" ry="2.6" fill="#1a6a26" stroke="#46c456" stroke-width="0.8" transform="rotate(20 509.2 90.4)"/>
<ellipse cx="498.3" cy="98.2" rx="2.6" ry="2.3" fill="#1a6a26" stroke="#46c456" stroke-width="0.8" transform="rotate(0 498.3 98.2)"/>
<ellipse cx="516.3" cy="77.6" rx="2.6" ry="1.9" fill="#1a6a26" stroke="#46c456" stroke-width="0.8" transform="rotate(30 516.3 77.6)"/>
<ellipse cx="490.9" cy="94.5" rx="1.9" ry="1.6" fill="#1a6a26" stroke="#46c456" stroke-width="0.8" transform="rotate(0 490.9 94.5)"/>
<ellipse cx="516.0" cy="99.4" rx="3.0" ry="2.0" fill="#1a6a26" stroke="#46c456" stroke-width="0.8" transform="rotate(0 516.0 99.4)"/>
<ellipse cx="506.9" cy="64.8" rx="2.2" ry="1.6" fill="#1a6a26" stroke="#46c456" stroke-width="0.8" transform="rotate(0 506.9 64.8)"/>
<ellipse cx="501.2" cy="69.0" rx="1.5" ry="1.2" fill="#1a6a26" stroke="#46c456" stroke-width="0.8" transform="rotate(0 501.2 69.0)"/>
<ellipse cx="484.2" cy="98.5" rx="1.5" ry="1.5" fill="#1a6a26" stroke="#46c456" stroke-width="0.8" transform="rotate(0 484.2 98.5)"/>
<ellipse cx="499.7" cy="86.0" rx="1.4" ry="1.4" fill="#1a6a26" stroke="#46c456" stroke-width="0.8" transform="rotate(0 499.7 86.0)"/>
<ellipse cx="509.7" cy="80.0" rx="1.2" ry="1.2" fill="#1a6a26" stroke="#46c456" stroke-width="0.8" transform="rotate(0 509.7 80.0)"/>
<circle cx="517.80" cy="65.67" r="0.51" fill="#0a2a0f" />
<circle cx="501.84" cy="71.31" r="0.83" fill="#123e18" />
<circle cx="485.83" cy="94.60" r="0.80" fill="#123e18" />
<circle cx="501.65" cy="97.18" r="1.18" fill="#123e18" />
<circle cx="506.76" cy="100.65" r="0.74" fill="#0a2a0f" />
<circle cx="508.24" cy="69.47" r="1.19" fill="#0d3312" />
<circle cx="512.13" cy="64.83" r="0.94" fill="#123e18" />
<circle cx="497.51" cy="66.35" r="0.97" fill="#123e18" />
<circle cx="513.34" cy="89.11" r="0.70" fill="#0d3312" />
<circle cx="506.94" cy="65.97" r="0.63" fill="#123e18" />
<circle cx="498.05" cy="74.04" r="1.17" fill="#0a2a0f" />
<circle cx="493.65" cy="65.57" r="1.12" fill="#0d3312" />
<circle cx="494.84" cy="64.34" r="0.77" fill="#123e18" />
<circle cx="492.04" cy="88.57" r="0.67" fill="#0d3312" />
<circle cx="485.27" cy="94.53" r="0.60" fill="#0a2a0f" />
<circle cx="483.50" cy="65.13" r="0.71" fill="#0d3312" />
<circle cx="485.04" cy="99.73" r="1.10" fill="#0d3312" />
<circle cx="505.67" cy="90.79" r="1.12" fill="#123e18" />
<circle cx="509.52" cy="90.97" r="0.85" fill="#123e18" />
<circle cx="508.07" cy="88.10" r="0.53" fill="#0a2a0f" />
<circle cx="514.11" cy="87.51" r="1.01" fill="#0a2a0f" />
<circle cx="487.02" cy="83.68" r="0.85" fill="#0d3312" />
<circle cx="511.75" cy="85.91" r="1.12" fill="#0a2a0f" />
<circle cx="516.42" cy="88.09" r="0.56" fill="#0d3312" />
<circle cx="486.79" cy="77.65" r="0.57" fill="#123e18" />
<circle cx="502.11" cy="87.53" r="0.94" fill="#0a2a0f" />
<circle cx="490.80" cy="74.06" r="0.82" fill="#0d3312" />
<circle cx="508.94" cy="82.91" r="0.87" fill="#0a2a0f" />
<circle cx="500.94" cy="91.89" r="0.83" fill="#0d3312" />
<circle cx="512.46" cy="72.99" r="1.03" fill="#0d3312" />
<circle cx="433.79" cy="99.93" r="0.70" fill="#4a1444" />
<circle cx="410.59" cy="97.58" r="0.57" fill="#3a1034" />
<circle cx="429.49" cy="87.94" r="0.45" fill="#3a1034" />
<circle cx="419.51" cy="88.26" r="0.82" fill="#2a0a28" />
<circle cx="427.77" cy="65.25" r="0.44" fill="#4a1444" />
<circle cx="441.94" cy="68.38" r="0.53" fill="#4a1444" />
<circle cx="418.08" cy="83.40" r="0.68" fill="#4a1444" />
<circle cx="434.75" cy="100.56" r="0.73" fill="#4a1444" />
<circle cx="442.13" cy="98.51" r="0.41" fill="#4a1444" />
<circle cx="410.58" cy="83.04" r="1.00" fill="#4a1444" />
<circle cx="421.44" cy="97.80" r="0.96" fill="#3a1034" />
<circle cx="428.25" cy="69.90" r="0.71" fill="#4a1444" />
<circle cx="412.54" cy="94.33" r="0.71" fill="#3a1034" />
<circle cx="432.52" cy="73.13" r="0.94" fill="#4a1444" />
<circle cx="421.69" cy="70.53" r="0.97" fill="#2a0a28" />
<circle cx="423.68" cy="75.67" r="0.48" fill="#4a1444" />
<circle cx="421.06" cy="69.15" r="0.60" fill="#4a1444" />
<circle cx="434.18" cy="95.01" r="0.47" fill="#3a1034" />
<circle cx="432.86" cy="97.26" r="0.57" fill="#4a1444" />
<circle cx="410.17" cy="78.85" r="0.92" fill="#3a1034" />
<circle cx="420.52" cy="80.21" r="0.57" fill="#3a1034" />
<circle cx="417.72" cy="66.66" r="0.80" fill="#2a0a28" />
<circle cx="440.65" cy="73.78" r="0.56" fill="#2a0a28" />
<circle cx="418.95" cy="92.63" r="0.87" fill="#4a1444" />
<circle cx="438.85" cy="94.03" r="0.78" fill="#2a0a28" />
<circle cx="427.12" cy="90.70" r="0.43" fill="#2a0a28" />
<circle cx="422.28" cy="86.94" r="0.48" fill="#4a1444" />
<circle cx="424.90" cy="97.63" r="0.73" fill="#3a1034" />
<circle cx="424.43" cy="77.17" r="0.58" fill="#2a0a28" />
<circle cx="433.76" cy="88.30" r="0.64" fill="#3a1034" />
<circle cx="412.00" cy="70.00" r="1.20" fill="#7a2c70" />
<circle cx="418.00" cy="66.50" r="1.00" fill="#7a2c70" />
<circle cx="436.00" cy="78.00" r="1.30" fill="#7a2c70" />
<circle cx="440.00" cy="83.00" r="1.00" fill="#7a2c70" />
<circle cx="427.00" cy="91.00" r="1.10" fill="#7a2c70" />
<circle cx="414.00" cy="95.00" r="0.90" fill="#7a2c70" />
<circle cx="433.00" cy="70.50" r="1.00" fill="#7a2c70" />
<circle cx="422.00" cy="80.00" r="0.90" fill="#7a2c70" />
</g>
<rect x="379.10" y="85.80" width="1.80" height="1.80" fill="#f0f0f0" />
<rect x="394.10" y="72.40" width="1.80" height="1.80" fill="#f0f0f0" />
<rect x="431.60" y="72.80" width="1.80" height="1.80" fill="#f0f0f0" />
<rect x="417.30" y="85.80" width="1.80" height="1.80" fill="#f0f0f0" />
<rect x="492.60" y="85.60" width="1.80" height="1.80" fill="#f0f0f0" />
<rect x="507.10" y="72.60" width="1.80" height="1.80" fill="#f0f0f0" />
</g>
<line x1="406.90" y1="27.80" x2="406.90" y2="101.90" stroke="#1c1c1c" stroke-width="0.5" />
<line x1="444.00" y1="27.80" x2="444.00" y2="101.90" stroke="#1c1c1c" stroke-width="0.5" />
<line x1="481.50" y1="27.80" x2="481.50" y2="101.90" stroke="#1c1c1c" stroke-width="0.5" />
<line x1="369.80" y1="63.80" x2="518.80" y2="63.80" stroke="#1c1c1c" stroke-width="0.5" />
<rect x="401.90" y="62.00" width="4.30" height="1.30" fill="#f2f2f2" />
<rect x="401.90" y="100.00" width="4.30" height="1.30" fill="#f2f2f2" />
<rect x="439.00" y="62.00" width="4.30" height="1.30" fill="#f2f2f2" />
<rect x="439.00" y="100.00" width="4.30" height="1.30" fill="#f2f2f2" />
<rect x="476.50" y="62.00" width="4.30" height="1.30" fill="#f2f2f2" />
<rect x="476.50" y="100.00" width="4.30" height="1.30" fill="#f2f2f2" />
<rect x="513.80" y="62.00" width="4.30" height="1.30" fill="#f2f2f2" />
<rect x="513.80" y="100.00" width="4.30" height="1.30" fill="#f2f2f2" />
<text x="369.60" y="26.58" font-size="4.6" font-family='"Liberation Sans", Arial, sans-serif' fill="#86cc86">GFP</text>
<text x="407.00" y="26.78" font-size="4.6" font-family='"Liberation Sans", Arial, sans-serif' fill="#d890c0">PAX6</text>
<text x="443.80" y="26.78" font-size="4.6" font-family='"Liberation Sans", Arial, sans-serif' fill="#333">CD44</text>
<text x="478.80" y="26.78" font-size="4.6" font-family='"Liberation Sans", Arial, sans-serif' fill="#333">MERGE</text>
<text x="497.20" y="26.78" font-size="4.6" font-family='"Liberation Sans", Arial, sans-serif' fill="#8ad4e0">+DAPI</text>
<text x="367.10" y="66.30" font-size="4.6" font-family='"Liberation Sans", Arial, sans-serif' fill="#333" transform="rotate(-90 367.10 66.30)">2D</text>
<text x="367.10" y="103.00" font-size="4.6" font-family='"Liberation Sans", Arial, sans-serif' fill="#333" transform="rotate(-90 367.10 103.00)">GLICO</text>
<text x="5.77" y="145.40" font-size="12.6" font-family='"Liberation Sans", Arial, sans-serif' font-weight="bold">D</text>
<text x="96.80" y="145.73" font-size="7.65" font-family='"Liberation Sans", Arial, sans-serif' text-anchor="middle" fill="#222">RG (C10) vs. Rest</text>
<path d="M83.0 160.2l2.2 -2.2 2.2 2.2 -2.2 2.2zM88.2 160.2l2.2 -2.2 2.2 2.2 -2.2 2.2zM90.3 160.2l2.2 -2.2 2.2 2.2 -2.2 2.2zM91.9 160.2l2.2 -2.2 2.2 2.2 -2.2 2.2zM93.4 160.2l2.2 -2.2 2.2 2.2 -2.2 2.2zM95.0 160.2l2.2 -2.2 2.2 2.2 -2.2 2.2zM96.5 160.2l2.2 -2.2 2.2 2.2 -2.2 2.2zM98.1 160.2l2.2 -2.2 2.2 2.2 -2.2 2.2zM99.6 160.2l2.2 -2.2 2.2 2.2 -2.2 2.2zM101.2 160.2l2.2 -2.2 2.2 2.2 -2.2 2.2zM102.8 160.2l2.2 -2.2 2.2 2.2 -2.2 2.2zM104.3 160.2l2.2 -2.2 2.2 2.2 -2.2 2.2zM105.9 160.2l2.2 -2.2 2.2 2.2 -2.2 2.2zM107.4 160.2l2.2 -2.2 2.2 2.2 -2.2 2.2zM109.0 160.2l2.2 -2.2 2.2 2.2 -2.2 2.2zM77.8 167.2l2.2 -2.2 2.2 2.2 -2.2 2.2zM86.1 167.2l2.2 -2.2 2.2 2.2 -2.2 2.2zM87.6 167.2l2.2 -2.2 2.2 2.2 -2.2 2.2zM89.1 167.2l2.2 -2.2 2.2 2.2 -2.2 2.2zM90.7 167.2l2.2 -2.2 2.2 2.2 -2.2 2.2zM92.2 167.2l2.2 -2.2 2.2 2.2 -2.2 2.2zM93.7 167.2l2.2 -2.2 2.2 2.2 -2.2 2.2zM95.2 167.2l2.2 -2.2 2.2 2.2 -2.2 2.2zM96.7 167.2l2.2 -2.2 2.2 2.2 -2.2 2.2zM98.2 167.2l2.2 -2.2 2.2 2.2 -2.2 2.2zM99.8 167.2l2.2 -2.2 2.2 2.2 -2.2 2.2zM101.3 167.2l2.2 -2.2 2.2 2.2 -2.2 2.2zM102.8 167.2l2.2 -2.2 2.2 2.2 -2.2 2.2zM65.4 174.3l2.2 -2.2 2.2 2.2 -2.2 2.2zM74.7 174.3l2.2 -2.2 2.2 2.2 -2.2 2.2zM87.2 174.3l2.2 -2.2 2.2 2.2 -2.2 2.2zM88.7 174.3l2.2 -2.2 2.2 2.2 -2.2 2.2zM90.1 174.3l2.2 -2.2 2.2 2.2 -2.2 2.2zM91.6 174.3l2.2 -2.2 2.2 2.2 -2.2 2.2zM93.1 174.3l2.2 -2.2 2.2 2.2 -2.2 2.2zM94.5 174.3l2.2 -2.2 2.2 2.2 -2.2 2.2zM96.0 174.3l2.2 -2.2 2.2 2.2 -2.2 2.2zM97.5 174.3l2.2 -2.2 2.2 2.2 -2.2 2.2zM98.9 174.3l2.2 -2.2 2.2 2.2 -2.2 2.2zM100.4 174.3l2.2 -2.2 2.2 2.2 -2.2 2.2zM101.9 174.3l2.2 -2.2 2.2 2.2 -2.2 2.2zM103.3 174.3l2.2 -2.2 2.2 2.2 -2.2 2.2zM104.8 174.3l2.2 -2.2 2.2 2.2 -2.2 2.2zM76.8 181.3l2.2 -2.2 2.2 2.2 -2.2 2.2zM80.4 181.3l2.2 -2.2 2.2 2.2 -2.2 2.2zM84.0 181.3l2.2 -2.2 2.2 2.2 -2.2 2.2zM86.7 181.3l2.2 -2.2 2.2 2.2 -2.2 2.2zM88.2 181.3l2.2 -2.2 2.2 2.2 -2.2 2.2zM89.7 181.3l2.2 -2.2 2.2 2.2 -2.2 2.2zM91.1 181.3l2.2 -2.2 2.2 2.2 -2.2 2.2zM92.6 181.3l2.2 -2.2 2.2 2.2 -2.2 2.2zM94.0 181.3l2.2 -2.2 2.2 2.2 -2.2 2.2zM95.5 181.3l2.2 -2.2 2.2 2.2 -2.2 2.2zM96.9 181.3l2.2 -2.2 2.2 2.2 -2.2 2.2zM98.4 181.3l2.2 -2.2 2.2 2.2 -2.2 2.2zM99.8 181.3l2.2 -2.2 2.2 2.2 -2.2 2.2zM101.3 181.3l2.2 -2.2 2.2 2.2 -2.2 2.2zM102.7 181.3l2.2 -2.2 2.2 2.2 -2.2 2.2zM104.2 181.3l2.2 -2.2 2.2 2.2 -2.2 2.2zM105.6 181.3l2.2 -2.2 2.2 2.2 -2.2 2.2zM107.1 181.3l2.2 -2.2 2.2 2.2 -2.2 2.2zM108.5 181.3l2.2 -2.2 2.2 2.2 -2.2 2.2zM110.0 181.3l2.2 -2.2 2.2 2.2 -2.2 2.2zM137.0 181.3l2.2 -2.2 2.2 2.2 -2.2 2.2zM141.2 181.3l2.2 -2.2 2.2 2.2 -2.2 2.2zM145.4 181.3l2.2 -2.2 2.2 2.2 -2.2 2.2zM87.2 188.4l2.2 -2.2 2.2 2.2 -2.2 2.2zM92.4 188.4l2.2 -2.2 2.2 2.2 -2.2 2.2zM95.5 188.4l2.2 -2.2 2.2 2.2 -2.2 2.2zM96.9 188.4l2.2 -2.2 2.2 2.2 -2.2 2.2zM98.4 188.4l2.2 -2.2 2.2 2.2 -2.2 2.2zM99.8 188.4l2.2 -2.2 2.2 2.2 -2.2 2.2zM101.3 188.4l2.2 -2.2 2.2 2.2 -2.2 2.2zM102.7 188.4l2.2 -2.2 2.2 2.2 -2.2 2.2zM104.2 188.4l2.2 -2.2 2.2 2.2 -2.2 2.2zM105.6 188.4l2.2 -2.2 2.2 2.2 -2.2 2.2zM107.1 188.4l2.2 -2.2 2.2 2.2 -2.2 2.2zM108.5 188.4l2.2 -2.2 2.2 2.2 -2.2 2.2zM110.0 188.4l2.2 -2.2 2.2 2.2 -2.2 2.2zM129.8 188.4l2.2 -2.2 2.2 2.2 -2.2 2.2zM90.3 195.4l2.2 -2.2 2.2 2.2 -2.2 2.2zM91.7 195.4l2.2 -2.2 2.2 2.2 -2.2 2.2zM93.2 195.4l2.2 -2.2 2.2 2.2 -2.2 2.2zM94.6 195.4l2.2 -2.2 2.2 2.2 -2.2 2.2zM96.0 195.4l2.2 -2.2 2.2 2.2 -2.2 2.2zM97.4 195.4l2.2 -2.2 2.2 2.2 -2.2 2.2zM98.9 195.4l2.2 -2.2 2.2 2.2 -2.2 2.2zM100.3 195.4l2.2 -2.2 2.2 2.2 -2.2 2.2zM101.7 195.4l2.2 -2.2 2.2 2.2 -2.2 2.2zM131.8 195.4l2.2 -2.2 2.2 2.2 -2.2 2.2zM94.4 202.4l2.2 -2.2 2.2 2.2 -2.2 2.2zM95.9 202.4l2.2 -2.2 2.2 2.2 -2.2 2.2zM97.4 202.4l2.2 -2.2 2.2 2.2 -2.2 2.2zM99.0 202.4l2.2 -2.2 2.2 2.2 -2.2 2.2zM100.5 202.4l2.2 -2.2 2.2 2.2 -2.2 2.2zM102.0 202.4l2.2 -2.2 2.2 2.2 -2.2 2.2zM103.5 202.4l2.2 -2.2 2.2 2.2 -2.2 2.2zM105.1 202.4l2.2 -2.2 2.2 2.2 -2.2 2.2zM106.6 202.4l2.2 -2.2 2.2 2.2 -2.2 2.2zM108.1 202.4l2.2 -2.2 2.2 2.2 -2.2 2.2zM109.6 202.4l2.2 -2.2 2.2 2.2 -2.2 2.2zM111.2 202.4l2.2 -2.2 2.2 2.2 -2.2 2.2zM112.7 202.4l2.2 -2.2 2.2 2.2 -2.2 2.2zM114.2 202.4l2.2 -2.2 2.2 2.2 -2.2 2.2zM122.5 202.4l2.2 -2.2 2.2 2.2 -2.2 2.2zM96.5 209.5l2.2 -2.2 2.2 2.2 -2.2 2.2zM98.1 209.5l2.2 -2.2 2.2 2.2 -2.2 2.2zM99.6 209.5l2.2 -2.2 2.2 2.2 -2.2 2.2zM101.2 209.5l2.2 -2.2 2.2 2.2 -2.2 2.2zM102.7 209.5l2.2 -2.2 2.2 2.2 -2.2 2.2zM104.3 209.5l2.2 -2.2 2.2 2.2 -2.2 2.2zM105.9 209.5l2.2 -2.2 2.2 2.2 -2.2 2.2zM107.4 209.5l2.2 -2.2 2.2 2.2 -2.2 2.2zM109.0 209.5l2.2 -2.2 2.2 2.2 -2.2 2.2zM110.5 209.5l2.2 -2.2 2.2 2.2 -2.2 2.2zM112.1 209.5l2.2 -2.2 2.2 2.2 -2.2 2.2zM132.9 209.5l2.2 -2.2 2.2 2.2 -2.2 2.2zM71.6 216.5l2.2 -2.2 2.2 2.2 -2.2 2.2zM73.1 216.5l2.2 -2.2 2.2 2.2 -2.2 2.2zM74.6 216.5l2.2 -2.2 2.2 2.2 -2.2 2.2zM76.2 216.5l2.2 -2.2 2.2 2.2 -2.2 2.2zM77.7 216.5l2.2 -2.2 2.2 2.2 -2.2 2.2zM79.2 216.5l2.2 -2.2 2.2 2.2 -2.2 2.2zM80.7 216.5l2.2 -2.2 2.2 2.2 -2.2 2.2zM82.3 216.5l2.2 -2.2 2.2 2.2 -2.2 2.2zM83.8 216.5l2.2 -2.2 2.2 2.2 -2.2 2.2zM85.3 216.5l2.2 -2.2 2.2 2.2 -2.2 2.2zM86.8 216.5l2.2 -2.2 2.2 2.2 -2.2 2.2zM88.3 216.5l2.2 -2.2 2.2 2.2 -2.2 2.2zM89.9 216.5l2.2 -2.2 2.2 2.2 -2.2 2.2zM91.4 216.5l2.2 -2.2 2.2 2.2 -2.2 2.2zM92.9 216.5l2.2 -2.2 2.2 2.2 -2.2 2.2zM94.4 216.5l2.2 -2.2 2.2 2.2 -2.2 2.2zM95.9 216.5l2.2 -2.2 2.2 2.2 -2.2 2.2zM97.5 216.5l2.2 -2.2 2.2 2.2 -2.2 2.2zM99.0 216.5l2.2 -2.2 2.2 2.2 -2.2 2.2zM100.5 216.5l2.2 -2.2 2.2 2.2 -2.2 2.2zM102.0 216.5l2.2 -2.2 2.2 2.2 -2.2 2.2zM103.5 216.5l2.2 -2.2 2.2 2.2 -2.2 2.2zM105.1 216.5l2.2 -2.2 2.2 2.2 -2.2 2.2zM106.6 216.5l2.2 -2.2 2.2 2.2 -2.2 2.2zM108.1 216.5l2.2 -2.2 2.2 2.2 -2.2 2.2zM109.6 216.5l2.2 -2.2 2.2 2.2 -2.2 2.2zM111.2 216.5l2.2 -2.2 2.2 2.2 -2.2 2.2zM112.7 216.5l2.2 -2.2 2.2 2.2 -2.2 2.2zM114.2 216.5l2.2 -2.2 2.2 2.2 -2.2 2.2zM74.2 223.6l2.2 -2.2 2.2 2.2 -2.2 2.2zM83.0 223.6l2.2 -2.2 2.2 2.2 -2.2 2.2zM84.5 223.6l2.2 -2.2 2.2 2.2 -2.2 2.2zM86.0 223.6l2.2 -2.2 2.2 2.2 -2.2 2.2zM87.5 223.6l2.2 -2.2 2.2 2.2 -2.2 2.2zM89.1 223.6l2.2 -2.2 2.2 2.2 -2.2 2.2zM90.6 223.6l2.2 -2.2 2.2 2.2 -2.2 2.2zM92.1 223.6l2.2 -2.2 2.2 2.2 -2.2 2.2zM93.6 223.6l2.2 -2.2 2.2 2.2 -2.2 2.2zM95.1 223.6l2.2 -2.2 2.2 2.2 -2.2 2.2zM96.6 223.6l2.2 -2.2 2.2 2.2 -2.2 2.2zM98.1 223.6l2.2 -2.2 2.2 2.2 -2.2 2.2zM99.6 223.6l2.2 -2.2 2.2 2.2 -2.2 2.2zM101.2 223.6l2.2 -2.2 2.2 2.2 -2.2 2.2zM102.7 223.6l2.2 -2.2 2.2 2.2 -2.2 2.2zM104.2 223.6l2.2 -2.2 2.2 2.2 -2.2 2.2zM105.7 223.6l2.2 -2.2 2.2 2.2 -2.2 2.2zM107.2 223.6l2.2 -2.2 2.2 2.2 -2.2 2.2zM108.7 223.6l2.2 -2.2 2.2 2.2 -2.2 2.2zM110.2 223.6l2.2 -2.2 2.2 2.2 -2.2 2.2zM111.8 223.6l2.2 -2.2 2.2 2.2 -2.2 2.2zM113.3 223.6l2.2 -2.2 2.2 2.2 -2.2 2.2zM114.8 223.6l2.2 -2.2 2.2 2.2 -2.2 2.2zM116.3 223.6l2.2 -2.2 2.2 2.2 -2.2 2.2zM57.6 230.6l2.2 -2.2 2.2 2.2 -2.2 2.2zM86.1 230.6l2.2 -2.2 2.2 2.2 -2.2 2.2zM87.6 230.6l2.2 -2.2 2.2 2.2 -2.2 2.2zM89.1 230.6l2.2 -2.2 2.2 2.2 -2.2 2.2zM90.6 230.6l2.2 -2.2 2.2 2.2 -2.2 2.2zM92.1 230.6l2.2 -2.2 2.2 2.2 -2.2 2.2zM93.6 230.6l2.2 -2.2 2.2 2.2 -2.2 2.2zM95.1 230.6l2.2 -2.2 2.2 2.2 -2.2 2.2zM96.6 230.6l2.2 -2.2 2.2 2.2 -2.2 2.2zM98.1 230.6l2.2 -2.2 2.2 2.2 -2.2 2.2zM99.5 230.6l2.2 -2.2 2.2 2.2 -2.2 2.2zM101.0 230.6l2.2 -2.2 2.2 2.2 -2.2 2.2zM102.5 230.6l2.2 -2.2 2.2 2.2 -2.2 2.2zM104.0 230.6l2.2 -2.2 2.2 2.2 -2.2 2.2zM105.5 230.6l2.2 -2.2 2.2 2.2 -2.2 2.2zM107.0 230.6l2.2 -2.2 2.2 2.2 -2.2 2.2zM108.5 230.6l2.2 -2.2 2.2 2.2 -2.2 2.2zM110.0 230.6l2.2 -2.2 2.2 2.2 -2.2 2.2zM132.9 230.6l2.2 -2.2 2.2 2.2 -2.2 2.2zM90.3 237.6l2.2 -2.2 2.2 2.2 -2.2 2.2zM91.8 237.6l2.2 -2.2 2.2 2.2 -2.2 2.2zM93.2 237.6l2.2 -2.2 2.2 2.2 -2.2 2.2zM94.7 237.6l2.2 -2.2 2.2 2.2 -2.2 2.2zM96.1 237.6l2.2 -2.2 2.2 2.2 -2.2 2.2zM97.6 237.6l2.2 -2.2 2.2 2.2 -2.2 2.2zM99.0 237.6l2.2 -2.2 2.2 2.2 -2.2 2.2zM100.5 237.6l2.2 -2.2 2.2 2.2 -2.2 2.2zM101.9 237.6l2.2 -2.2 2.2 2.2 -2.2 2.2zM103.4 237.6l2.2 -2.2 2.2 2.2 -2.2 2.2zM104.8 237.6l2.2 -2.2 2.2 2.2 -2.2 2.2zM106.3 237.6l2.2 -2.2 2.2 2.2 -2.2 2.2zM107.7 237.6l2.2 -2.2 2.2 2.2 -2.2 2.2zM109.2 237.6l2.2 -2.2 2.2 2.2 -2.2 2.2zM110.6 237.6l2.2 -2.2 2.2 2.2 -2.2 2.2zM112.1 237.6l2.2 -2.2 2.2 2.2 -2.2 2.2zM95.5 244.7l2.2 -2.2 2.2 2.2 -2.2 2.2zM97.0 244.7l2.2 -2.2 2.2 2.2 -2.2 2.2zM98.5 244.7l2.2 -2.2 2.2 2.2 -2.2 2.2zM100.0 244.7l2.2 -2.2 2.2 2.2 -2.2 2.2zM101.5 244.7l2.2 -2.2 2.2 2.2 -2.2 2.2zM103.0 244.7l2.2 -2.2 2.2 2.2 -2.2 2.2zM104.6 244.7l2.2 -2.2 2.2 2.2 -2.2 2.2zM106.1 244.7l2.2 -2.2 2.2 2.2 -2.2 2.2zM107.6 244.7l2.2 -2.2 2.2 2.2 -2.2 2.2zM109.1 244.7l2.2 -2.2 2.2 2.2 -2.2 2.2zM110.6 244.7l2.2 -2.2 2.2 2.2 -2.2 2.2zM112.1 244.7l2.2 -2.2 2.2 2.2 -2.2 2.2zM71.6 251.7l2.2 -2.2 2.2 2.2 -2.2 2.2zM76.8 251.7l2.2 -2.2 2.2 2.2 -2.2 2.2zM82.0 251.7l2.2 -2.2 2.2 2.2 -2.2 2.2zM83.5 251.7l2.2 -2.2 2.2 2.2 -2.2 2.2zM85.0 251.7l2.2 -2.2 2.2 2.2 -2.2 2.2zM86.5 251.7l2.2 -2.2 2.2 2.2 -2.2 2.2zM88.0 251.7l2.2 -2.2 2.2 2.2 -2.2 2.2zM89.5 251.7l2.2 -2.2 2.2 2.2 -2.2 2.2zM91.0 251.7l2.2 -2.2 2.2 2.2 -2.2 2.2zM92.5 251.7l2.2 -2.2 2.2 2.2 -2.2 2.2zM94.0 251.7l2.2 -2.2 2.2 2.2 -2.2 2.2zM95.5 251.7l2.2 -2.2 2.2 2.2 -2.2 2.2zM97.0 251.7l2.2 -2.2 2.2 2.2 -2.2 2.2zM98.6 251.7l2.2 -2.2 2.2 2.2 -2.2 2.2zM100.1 251.7l2.2 -2.2 2.2 2.2 -2.2 2.2zM101.6 251.7l2.2 -2.2 2.2 2.2 -2.2 2.2zM103.1 251.7l2.2 -2.2 2.2 2.2 -2.2 2.2zM104.6 251.7l2.2 -2.2 2.2 2.2 -2.2 2.2zM106.1 251.7l2.2 -2.2 2.2 2.2 -2.2 2.2zM107.6 251.7l2.2 -2.2 2.2 2.2 -2.2 2.2zM109.1 251.7l2.2 -2.2 2.2 2.2 -2.2 2.2zM110.6 251.7l2.2 -2.2 2.2 2.2 -2.2 2.2zM112.1 251.7l2.2 -2.2 2.2 2.2 -2.2 2.2zM129.6 251.7l2.2 -2.2 2.2 2.2 -2.2 2.2zM60.3 258.8l2.2 -2.2 2.2 2.2 -2.2 2.2zM76.8 258.8l2.2 -2.2 2.2 2.2 -2.2 2.2zM84.1 258.8l2.2 -2.2 2.2 2.2 -2.2 2.2zM92.4 258.8l2.2 -2.2 2.2 2.2 -2.2 2.2zM94.4 258.8l2.2 -2.2 2.2 2.2 -2.2 2.2zM95.9 258.8l2.2 -2.2 2.2 2.2 -2.2 2.2zM97.4 258.8l2.2 -2.2 2.2 2.2 -2.2 2.2zM99.0 258.8l2.2 -2.2 2.2 2.2 -2.2 2.2zM100.5 258.8l2.2 -2.2 2.2 2.2 -2.2 2.2zM102.0 258.8l2.2 -2.2 2.2 2.2 -2.2 2.2zM103.5 258.8l2.2 -2.2 2.2 2.2 -2.2 2.2zM105.1 258.8l2.2 -2.2 2.2 2.2 -2.2 2.2zM106.6 258.8l2.2 -2.2 2.2 2.2 -2.2 2.2zM108.1 258.8l2.2 -2.2 2.2 2.2 -2.2 2.2zM109.6 258.8l2.2 -2.2 2.2 2.2 -2.2 2.2zM111.2 258.8l2.2 -2.2 2.2 2.2 -2.2 2.2zM112.7 258.8l2.2 -2.2 2.2 2.2 -2.2 2.2zM114.2 258.8l2.2 -2.2 2.2 2.2 -2.2 2.2zM98.6 265.8l2.2 -2.2 2.2 2.2 -2.2 2.2zM105.9 265.8l2.2 -2.2 2.2 2.2 -2.2 2.2zM107.4 265.8l2.2 -2.2 2.2 2.2 -2.2 2.2zM109.0 265.8l2.2 -2.2 2.2 2.2 -2.2 2.2zM110.5 265.8l2.2 -2.2 2.2 2.2 -2.2 2.2zM112.1 265.8l2.2 -2.2 2.2 2.2 -2.2 2.2zM150.1 265.8l2.2 -2.2 2.2 2.2 -2.2 2.2zM88.2 272.8l2.2 -2.2 2.2 2.2 -2.2 2.2zM89.7 272.8l2.2 -2.2 2.2 2.2 -2.2 2.2zM91.2 272.8l2.2 -2.2 2.2 2.2 -2.2 2.2zM92.7 272.8l2.2 -2.2 2.2 2.2 -2.2 2.2zM94.2 272.8l2.2 -2.2 2.2 2.2 -2.2 2.2zM95.7 272.8l2.2 -2.2 2.2 2.2 -2.2 2.2zM97.2 272.8l2.2 -2.2 2.2 2.2 -2.2 2.2zM98.7 272.8l2.2 -2.2 2.2 2.2 -2.2 2.2zM100.2 272.8l2.2 -2.2 2.2 2.2 -2.2 2.2zM101.6 272.8l2.2 -2.2 2.2 2.2 -2.2 2.2zM103.1 272.8l2.2 -2.2 2.2 2.2 -2.2 2.2zM104.6 272.8l2.2 -2.2 2.2 2.2 -2.2 2.2zM106.1 272.8l2.2 -2.2 2.2 2.2 -2.2 2.2zM107.6 272.8l2.2 -2.2 2.2 2.2 -2.2 2.2zM109.1 272.8l2.2 -2.2 2.2 2.2 -2.2 2.2zM110.6 272.8l2.2 -2.2 2.2 2.2 -2.2 2.2zM112.1 272.8l2.2 -2.2 2.2 2.2 -2.2 2.2zM110.0 279.9l2.2 -2.2 2.2 2.2 -2.2 2.2zM112.3 279.9l2.2 -2.2 2.2 2.2 -2.2 2.2zM114.0 279.9l2.2 -2.2 2.2 2.2 -2.2 2.2zM115.6 279.9l2.2 -2.2 2.2 2.2 -2.2 2.2zM117.3 279.9l2.2 -2.2 2.2 2.2 -2.2 2.2zM138.1 279.9l2.2 -2.2 2.2 2.2 -2.2 2.2zM80.9 286.9l2.2 -2.2 2.2 2.2 -2.2 2.2zM82.4 286.9l2.2 -2.2 2.2 2.2 -2.2 2.2zM83.9 286.9l2.2 -2.2 2.2 2.2 -2.2 2.2zM85.4 286.9l2.2 -2.2 2.2 2.2 -2.2 2.2zM86.8 286.9l2.2 -2.2 2.2 2.2 -2.2 2.2zM88.3 286.9l2.2 -2.2 2.2 2.2 -2.2 2.2zM89.8 286.9l2.2 -2.2 2.2 2.2 -2.2 2.2zM91.3 286.9l2.2 -2.2 2.2 2.2 -2.2 2.2zM92.8 286.9l2.2 -2.2 2.2 2.2 -2.2 2.2zM94.3 286.9l2.2 -2.2 2.2 2.2 -2.2 2.2zM95.8 286.9l2.2 -2.2 2.2 2.2 -2.2 2.2zM97.2 286.9l2.2 -2.2 2.2 2.2 -2.2 2.2zM98.7 286.9l2.2 -2.2 2.2 2.2 -2.2 2.2zM100.2 286.9l2.2 -2.2 2.2 2.2 -2.2 2.2zM101.7 286.9l2.2 -2.2 2.2 2.2 -2.2 2.2zM103.2 286.9l2.2 -2.2 2.2 2.2 -2.2 2.2zM104.7 286.9l2.2 -2.2 2.2 2.2 -2.2 2.2zM106.2 286.9l2.2 -2.2 2.2 2.2 -2.2 2.2zM107.6 286.9l2.2 -2.2 2.2 2.2 -2.2 2.2zM109.1 286.9l2.2 -2.2 2.2 2.2 -2.2 2.2zM110.6 286.9l2.2 -2.2 2.2 2.2 -2.2 2.2zM112.1 286.9l2.2 -2.2 2.2 2.2 -2.2 2.2zM93.4 294.0l2.2 -2.2 2.2 2.2 -2.2 2.2zM95.0 294.0l2.2 -2.2 2.2 2.2 -2.2 2.2zM96.5 294.0l2.2 -2.2 2.2 2.2 -2.2 2.2zM98.1 294.0l2.2 -2.2 2.2 2.2 -2.2 2.2zM99.6 294.0l2.2 -2.2 2.2 2.2 -2.2 2.2zM101.2 294.0l2.2 -2.2 2.2 2.2 -2.2 2.2zM102.7 294.0l2.2 -2.2 2.2 2.2 -2.2 2.2zM104.3 294.0l2.2 -2.2 2.2 2.2 -2.2 2.2zM105.9 294.0l2.2 -2.2 2.2 2.2 -2.2 2.2zM107.4 294.0l2.2 -2.2 2.2 2.2 -2.2 2.2zM109.0 294.0l2.2 -2.2 2.2 2.2 -2.2 2.2zM110.5 294.0l2.2 -2.2 2.2 2.2 -2.2 2.2zM112.1 294.0l2.2 -2.2 2.2 2.2 -2.2 2.2zM117.3 294.0l2.2 -2.2 2.2 2.2 -2.2 2.2zM103.2 301.0l2.2 -2.2 2.2 2.2 -2.2 2.2zM104.6 301.0l2.2 -2.2 2.2 2.2 -2.2 2.2zM106.1 301.0l2.2 -2.2 2.2 2.2 -2.2 2.2zM107.6 301.0l2.2 -2.2 2.2 2.2 -2.2 2.2zM109.1 301.0l2.2 -2.2 2.2 2.2 -2.2 2.2zM110.6 301.0l2.2 -2.2 2.2 2.2 -2.2 2.2zM112.1 301.0l2.2 -2.2 2.2 2.2 -2.2 2.2zM126.9 301.0l2.2 -2.2 2.2 2.2 -2.2 2.2zM147.0 301.0l2.2 -2.2 2.2 2.2 -2.2 2.2zM88.2 308.0l2.2 -2.2 2.2 2.2 -2.2 2.2zM89.8 308.0l2.2 -2.2 2.2 2.2 -2.2 2.2zM91.3 308.0l2.2 -2.2 2.2 2.2 -2.2 2.2zM92.9 308.0l2.2 -2.2 2.2 2.2 -2.2 2.2zM94.4 308.0l2.2 -2.2 2.2 2.2 -2.2 2.2zM96.0 308.0l2.2 -2.2 2.2 2.2 -2.2 2.2zM97.6 308.0l2.2 -2.2 2.2 2.2 -2.2 2.2zM99.1 308.0l2.2 -2.2 2.2 2.2 -2.2 2.2zM100.7 308.0l2.2 -2.2 2.2 2.2 -2.2 2.2zM102.2 308.0l2.2 -2.2 2.2 2.2 -2.2 2.2zM103.8 308.0l2.2 -2.2 2.2 2.2 -2.2 2.2zM78.4 315.1l2.2 -2.2 2.2 2.2 -2.2 2.2zM86.1 315.1l2.2 -2.2 2.2 2.2 -2.2 2.2zM87.6 315.1l2.2 -2.2 2.2 2.2 -2.2 2.2zM89.1 315.1l2.2 -2.2 2.2 2.2 -2.2 2.2zM90.6 315.1l2.2 -2.2 2.2 2.2 -2.2 2.2zM92.1 315.1l2.2 -2.2 2.2 2.2 -2.2 2.2zM93.6 315.1l2.2 -2.2 2.2 2.2 -2.2 2.2zM95.1 315.1l2.2 -2.2 2.2 2.2 -2.2 2.2zM96.6 315.1l2.2 -2.2 2.2 2.2 -2.2 2.2zM98.1 315.1l2.2 -2.2 2.2 2.2 -2.2 2.2zM99.5 315.1l2.2 -2.2 2.2 2.2 -2.2 2.2zM101.0 315.1l2.2 -2.2 2.2 2.2 -2.2 2.2zM102.5 315.1l2.2 -2.2 2.2 2.2 -2.2 2.2zM104.0 315.1l2.2 -2.2 2.2 2.2 -2.2 2.2zM105.5 315.1l2.2 -2.2 2.2 2.2 -2.2 2.2zM107.0 315.1l2.2 -2.2 2.2 2.2 -2.2 2.2zM108.5 315.1l2.2 -2.2 2.2 2.2 -2.2 2.2zM110.0 315.1l2.2 -2.2 2.2 2.2 -2.2 2.2zM73.7 322.1l2.2 -2.2 2.2 2.2 -2.2 2.2zM80.9 322.1l2.2 -2.2 2.2 2.2 -2.2 2.2zM86.1 322.1l2.2 -2.2 2.2 2.2 -2.2 2.2zM87.6 322.1l2.2 -2.2 2.2 2.2 -2.2 2.2zM89.2 322.1l2.2 -2.2 2.2 2.2 -2.2 2.2zM90.7 322.1l2.2 -2.2 2.2 2.2 -2.2 2.2zM92.2 322.1l2.2 -2.2 2.2 2.2 -2.2 2.2zM93.8 322.1l2.2 -2.2 2.2 2.2 -2.2 2.2zM95.3 322.1l2.2 -2.2 2.2 2.2 -2.2 2.2zM96.8 322.1l2.2 -2.2 2.2 2.2 -2.2 2.2zM98.3 322.1l2.2 -2.2 2.2 2.2 -2.2 2.2zM99.9 322.1l2.2 -2.2 2.2 2.2 -2.2 2.2zM101.4 322.1l2.2 -2.2 2.2 2.2 -2.2 2.2zM102.9 322.1l2.2 -2.2 2.2 2.2 -2.2 2.2zM104.5 322.1l2.2 -2.2 2.2 2.2 -2.2 2.2zM106.0 322.1l2.2 -2.2 2.2 2.2 -2.2 2.2zM107.5 322.1l2.2 -2.2 2.2 2.2 -2.2 2.2zM109.0 322.1l2.2 -2.2 2.2 2.2 -2.2 2.2zM110.6 322.1l2.2 -2.2 2.2 2.2 -2.2 2.2zM112.1 322.1l2.2 -2.2 2.2 2.2 -2.2 2.2zM87.2 329.2l2.2 -2.2 2.2 2.2 -2.2 2.2zM95.5 329.2l2.2 -2.2 2.2 2.2 -2.2 2.2zM96.9 329.2l2.2 -2.2 2.2 2.2 -2.2 2.2zM98.4 329.2l2.2 -2.2 2.2 2.2 -2.2 2.2zM99.8 329.2l2.2 -2.2 2.2 2.2 -2.2 2.2zM101.3 329.2l2.2 -2.2 2.2 2.2 -2.2 2.2zM102.7 329.2l2.2 -2.2 2.2 2.2 -2.2 2.2zM104.2 329.2l2.2 -2.2 2.2 2.2 -2.2 2.2zM105.6 329.2l2.2 -2.2 2.2 2.2 -2.2 2.2zM107.1 329.2l2.2 -2.2 2.2 2.2 -2.2 2.2zM108.5 329.2l2.2 -2.2 2.2 2.2 -2.2 2.2zM110.0 329.2l2.2 -2.2 2.2 2.2 -2.2 2.2zM62.2 336.2l2.2 -2.2 2.2 2.2 -2.2 2.2zM66.4 336.2l2.2 -2.2 2.2 2.2 -2.2 2.2zM78.9 336.2l2.2 -2.2 2.2 2.2 -2.2 2.2zM80.4 336.2l2.2 -2.2 2.2 2.2 -2.2 2.2zM81.9 336.2l2.2 -2.2 2.2 2.2 -2.2 2.2zM83.4 336.2l2.2 -2.2 2.2 2.2 -2.2 2.2zM84.9 336.2l2.2 -2.2 2.2 2.2 -2.2 2.2zM86.4 336.2l2.2 -2.2 2.2 2.2 -2.2 2.2zM88.0 336.2l2.2 -2.2 2.2 2.2 -2.2 2.2zM89.5 336.2l2.2 -2.2 2.2 2.2 -2.2 2.2zM91.0 336.2l2.2 -2.2 2.2 2.2 -2.2 2.2zM92.5 336.2l2.2 -2.2 2.2 2.2 -2.2 2.2zM94.0 336.2l2.2 -2.2 2.2 2.2 -2.2 2.2zM95.5 336.2l2.2 -2.2 2.2 2.2 -2.2 2.2zM97.0 336.2l2.2 -2.2 2.2 2.2 -2.2 2.2zM98.5 336.2l2.2 -2.2 2.2 2.2 -2.2 2.2zM100.0 336.2l2.2 -2.2 2.2 2.2 -2.2 2.2zM101.5 336.2l2.2 -2.2 2.2 2.2 -2.2 2.2zM103.0 336.2l2.2 -2.2 2.2 2.2 -2.2 2.2zM104.6 336.2l2.2 -2.2 2.2 2.2 -2.2 2.2zM106.1 336.2l2.2 -2.2 2.2 2.2 -2.2 2.2zM107.6 336.2l2.2 -2.2 2.2 2.2 -2.2 2.2zM109.1 336.2l2.2 -2.2 2.2 2.2 -2.2 2.2zM110.6 336.2l2.2 -2.2 2.2 2.2 -2.2 2.2zM112.1 336.2l2.2 -2.2 2.2 2.2 -2.2 2.2zM82.0 343.2l2.2 -2.2 2.2 2.2 -2.2 2.2zM83.5 343.2l2.2 -2.2 2.2 2.2 -2.2 2.2zM85.1 343.2l2.2 -2.2 2.2 2.2 -2.2 2.2zM86.6 343.2l2.2 -2.2 2.2 2.2 -2.2 2.2zM88.1 343.2l2.2 -2.2 2.2 2.2 -2.2 2.2zM89.6 343.2l2.2 -2.2 2.2 2.2 -2.2 2.2zM91.2 343.2l2.2 -2.2 2.2 2.2 -2.2 2.2zM92.7 343.2l2.2 -2.2 2.2 2.2 -2.2 2.2zM94.2 343.2l2.2 -2.2 2.2 2.2 -2.2 2.2zM95.8 343.2l2.2 -2.2 2.2 2.2 -2.2 2.2zM97.3 343.2l2.2 -2.2 2.2 2.2 -2.2 2.2zM98.8 343.2l2.2 -2.2 2.2 2.2 -2.2 2.2zM100.3 343.2l2.2 -2.2 2.2 2.2 -2.2 2.2zM101.9 343.2l2.2 -2.2 2.2 2.2 -2.2 2.2zM103.4 343.2l2.2 -2.2 2.2 2.2 -2.2 2.2zM104.9 343.2l2.2 -2.2 2.2 2.2 -2.2 2.2zM106.5 343.2l2.2 -2.2 2.2 2.2 -2.2 2.2zM108.0 343.2l2.2 -2.2 2.2 2.2 -2.2 2.2zM151.6 343.2l2.2 -2.2 2.2 2.2 -2.2 2.2zM92.4 350.3l2.2 -2.2 2.2 2.2 -2.2 2.2zM97.7 350.3l2.2 -2.2 2.2 2.2 -2.2 2.2zM99.1 350.3l2.2 -2.2 2.2 2.2 -2.2 2.2zM100.6 350.3l2.2 -2.2 2.2 2.2 -2.2 2.2zM102.0 350.3l2.2 -2.2 2.2 2.2 -2.2 2.2zM103.5 350.3l2.2 -2.2 2.2 2.2 -2.2 2.2zM104.9 350.3l2.2 -2.2 2.2 2.2 -2.2 2.2zM106.3 350.3l2.2 -2.2 2.2 2.2 -2.2 2.2zM107.8 350.3l2.2 -2.2 2.2 2.2 -2.2 2.2zM109.2 350.3l2.2 -2.2 2.2 2.2 -2.2 2.2zM110.7 350.3l2.2 -2.2 2.2 2.2 -2.2 2.2zM112.1 350.3l2.2 -2.2 2.2 2.2 -2.2 2.2zM73.7 357.3l2.2 -2.2 2.2 2.2 -2.2 2.2zM86.1 357.3l2.2 -2.2 2.2 2.2 -2.2 2.2zM87.6 357.3l2.2 -2.2 2.2 2.2 -2.2 2.2zM89.0 357.3l2.2 -2.2 2.2 2.2 -2.2 2.2zM90.5 357.3l2.2 -2.2 2.2 2.2 -2.2 2.2zM91.9 357.3l2.2 -2.2 2.2 2.2 -2.2 2.2zM93.4 357.3l2.2 -2.2 2.2 2.2 -2.2 2.2zM94.9 357.3l2.2 -2.2 2.2 2.2 -2.2 2.2zM96.3 357.3l2.2 -2.2 2.2 2.2 -2.2 2.2zM97.8 357.3l2.2 -2.2 2.2 2.2 -2.2 2.2zM99.2 357.3l2.2 -2.2 2.2 2.2 -2.2 2.2zM100.7 357.3l2.2 -2.2 2.2 2.2 -2.2 2.2zM102.2 357.3l2.2 -2.2 2.2 2.2 -2.2 2.2zM103.6 357.3l2.2 -2.2 2.2 2.2 -2.2 2.2zM105.1 357.3l2.2 -2.2 2.2 2.2 -2.2 2.2zM106.5 357.3l2.2 -2.2 2.2 2.2 -2.2 2.2zM108.0 357.3l2.2 -2.2 2.2 2.2 -2.2 2.2zM100.7 364.4l2.2 -2.2 2.2 2.2 -2.2 2.2zM102.2 364.4l2.2 -2.2 2.2 2.2 -2.2 2.2zM103.7 364.4l2.2 -2.2 2.2 2.2 -2.2 2.2zM105.2 364.4l2.2 -2.2 2.2 2.2 -2.2 2.2zM106.7 364.4l2.2 -2.2 2.2 2.2 -2.2 2.2zM108.2 364.4l2.2 -2.2 2.2 2.2 -2.2 2.2zM109.7 364.4l2.2 -2.2 2.2 2.2 -2.2 2.2zM111.2 364.4l2.2 -2.2 2.2 2.2 -2.2 2.2zM112.7 364.4l2.2 -2.2 2.2 2.2 -2.2 2.2zM114.2 364.4l2.2 -2.2 2.2 2.2 -2.2 2.2z" fill="none" stroke="#c3c3c3" stroke-width="1.4" stroke-linejoin="miter"/>
<line x1="100.80" y1="150.40" x2="100.80" y2="372.80" stroke="#808080" stroke-width="1.7" stroke-dasharray="4.5,2"/>
<path d="M109.0 160.2l2.2 -2.2 2.2 2.2 -2.2 2.2zM111.4 160.2l2.2 -2.2 2.2 2.2 -2.2 2.2zM113.9 160.2l2.2 -2.2 2.2 2.2 -2.2 2.2zM116.3 160.2l2.2 -2.2 2.2 2.2 -2.2 2.2zM121.4 160.2l2.2 -2.2 2.2 2.2 -2.2 2.2zM125.6 160.2l2.2 -2.2 2.2 2.2 -2.2 2.2zM128.7 160.2l2.2 -2.2 2.2 2.2 -2.2 2.2zM132.9 160.2l2.2 -2.2 2.2 2.2 -2.2 2.2zM142.2 160.2l2.2 -2.2 2.2 2.2 -2.2 2.2zM102.8 167.2l2.2 -2.2 2.2 2.2 -2.2 2.2zM105.7 167.2l2.2 -2.2 2.2 2.2 -2.2 2.2zM108.7 167.2l2.2 -2.2 2.2 2.2 -2.2 2.2zM111.6 167.2l2.2 -2.2 2.2 2.2 -2.2 2.2zM114.5 167.2l2.2 -2.2 2.2 2.2 -2.2 2.2zM117.5 167.2l2.2 -2.2 2.2 2.2 -2.2 2.2zM120.4 167.2l2.2 -2.2 2.2 2.2 -2.2 2.2zM126.7 167.2l2.2 -2.2 2.2 2.2 -2.2 2.2zM128.8 167.2l2.2 -2.2 2.2 2.2 -2.2 2.2zM130.8 167.2l2.2 -2.2 2.2 2.2 -2.2 2.2zM132.9 167.2l2.2 -2.2 2.2 2.2 -2.2 2.2zM135.0 167.2l2.2 -2.2 2.2 2.2 -2.2 2.2zM105.9 174.3l2.2 -2.2 2.2 2.2 -2.2 2.2zM111.1 174.3l2.2 -2.2 2.2 2.2 -2.2 2.2zM114.1 174.3l2.2 -2.2 2.2 2.2 -2.2 2.2zM116.2 174.3l2.2 -2.2 2.2 2.2 -2.2 2.2zM118.4 174.3l2.2 -2.2 2.2 2.2 -2.2 2.2zM120.5 174.3l2.2 -2.2 2.2 2.2 -2.2 2.2zM122.6 174.3l2.2 -2.2 2.2 2.2 -2.2 2.2zM124.7 174.3l2.2 -2.2 2.2 2.2 -2.2 2.2zM126.9 174.3l2.2 -2.2 2.2 2.2 -2.2 2.2zM129.8 174.3l2.2 -2.2 2.2 2.2 -2.2 2.2zM133.9 174.3l2.2 -2.2 2.2 2.2 -2.2 2.2zM144.9 174.3l2.2 -2.2 2.2 2.2 -2.2 2.2zM98.0 181.3l2.2 -2.2 2.2 2.2 -2.2 2.2zM110.0 181.3l2.2 -2.2 2.2 2.2 -2.2 2.2zM112.2 181.3l2.2 -2.2 2.2 2.2 -2.2 2.2zM114.4 181.3l2.2 -2.2 2.2 2.2 -2.2 2.2zM116.6 181.3l2.2 -2.2 2.2 2.2 -2.2 2.2zM118.8 181.3l2.2 -2.2 2.2 2.2 -2.2 2.2zM121.1 181.3l2.2 -2.2 2.2 2.2 -2.2 2.2zM123.3 181.3l2.2 -2.2 2.2 2.2 -2.2 2.2zM125.5 181.3l2.2 -2.2 2.2 2.2 -2.2 2.2zM127.7 181.3l2.2 -2.2 2.2 2.2 -2.2 2.2zM132.4 181.3l2.2 -2.2 2.2 2.2 -2.2 2.2zM110.0 188.4l2.2 -2.2 2.2 2.2 -2.2 2.2zM112.3 188.4l2.2 -2.2 2.2 2.2 -2.2 2.2zM114.6 188.4l2.2 -2.2 2.2 2.2 -2.2 2.2zM116.8 188.4l2.2 -2.2 2.2 2.2 -2.2 2.2zM119.1 188.4l2.2 -2.2 2.2 2.2 -2.2 2.2zM121.4 188.4l2.2 -2.2 2.2 2.2 -2.2 2.2zM102.8 195.4l2.2 -2.2 2.2 2.2 -2.2 2.2zM106.8 195.4l2.2 -2.2 2.2 2.2 -2.2 2.2zM109.7 195.4l2.2 -2.2 2.2 2.2 -2.2 2.2zM112.6 195.4l2.2 -2.2 2.2 2.2 -2.2 2.2zM115.6 195.4l2.2 -2.2 2.2 2.2 -2.2 2.2zM118.5 195.4l2.2 -2.2 2.2 2.2 -2.2 2.2zM121.4 195.4l2.2 -2.2 2.2 2.2 -2.2 2.2zM136.0 195.4l2.2 -2.2 2.2 2.2 -2.2 2.2zM114.2 202.4l2.2 -2.2 2.2 2.2 -2.2 2.2zM116.8 202.4l2.2 -2.2 2.2 2.2 -2.2 2.2zM119.4 202.4l2.2 -2.2 2.2 2.2 -2.2 2.2zM132.4 202.4l2.2 -2.2 2.2 2.2 -2.2 2.2zM141.2 202.4l2.2 -2.2 2.2 2.2 -2.2 2.2zM92.4 209.5l2.2 -2.2 2.2 2.2 -2.2 2.2zM105.4 209.5l2.2 -2.2 2.2 2.2 -2.2 2.2zM113.2 209.5l2.2 -2.2 2.2 2.2 -2.2 2.2zM115.2 209.5l2.2 -2.2 2.2 2.2 -2.2 2.2zM117.3 209.5l2.2 -2.2 2.2 2.2 -2.2 2.2zM119.3 209.5l2.2 -2.2 2.2 2.2 -2.2 2.2zM121.4 209.5l2.2 -2.2 2.2 2.2 -2.2 2.2zM125.6 209.5l2.2 -2.2 2.2 2.2 -2.2 2.2zM98.6 216.5l2.2 -2.2 2.2 2.2 -2.2 2.2zM115.2 216.5l2.2 -2.2 2.2 2.2 -2.2 2.2zM117.4 216.5l2.2 -2.2 2.2 2.2 -2.2 2.2zM119.6 216.5l2.2 -2.2 2.2 2.2 -2.2 2.2zM121.8 216.5l2.2 -2.2 2.2 2.2 -2.2 2.2zM124.0 216.5l2.2 -2.2 2.2 2.2 -2.2 2.2zM126.2 216.5l2.2 -2.2 2.2 2.2 -2.2 2.2zM128.4 216.5l2.2 -2.2 2.2 2.2 -2.2 2.2zM130.6 216.5l2.2 -2.2 2.2 2.2 -2.2 2.2zM132.8 216.5l2.2 -2.2 2.2 2.2 -2.2 2.2zM135.0 216.5l2.2 -2.2 2.2 2.2 -2.2 2.2zM138.1 216.5l2.2 -2.2 2.2 2.2 -2.2 2.2zM119.4 223.6l2.2 -2.2 2.2 2.2 -2.2 2.2zM122.0 223.6l2.2 -2.2 2.2 2.2 -2.2 2.2zM124.6 223.6l2.2 -2.2 2.2 2.2 -2.2 2.2zM132.4 223.6l2.2 -2.2 2.2 2.2 -2.2 2.2zM138.1 223.6l2.2 -2.2 2.2 2.2 -2.2 2.2zM110.0 230.6l2.2 -2.2 2.2 2.2 -2.2 2.2zM112.1 230.6l2.2 -2.2 2.2 2.2 -2.2 2.2zM114.2 230.6l2.2 -2.2 2.2 2.2 -2.2 2.2zM116.2 230.6l2.2 -2.2 2.2 2.2 -2.2 2.2zM118.3 230.6l2.2 -2.2 2.2 2.2 -2.2 2.2zM120.4 230.6l2.2 -2.2 2.2 2.2 -2.2 2.2zM122.5 230.6l2.2 -2.2 2.2 2.2 -2.2 2.2zM126.7 230.6l2.2 -2.2 2.2 2.2 -2.2 2.2zM142.2 230.6l2.2 -2.2 2.2 2.2 -2.2 2.2zM144.8 230.6l2.2 -2.2 2.2 2.2 -2.2 2.2zM147.4 230.6l2.2 -2.2 2.2 2.2 -2.2 2.2zM114.2 237.6l2.2 -2.2 2.2 2.2 -2.2 2.2zM120.4 237.6l2.2 -2.2 2.2 2.2 -2.2 2.2zM128.7 237.6l2.2 -2.2 2.2 2.2 -2.2 2.2zM133.9 237.6l2.2 -2.2 2.2 2.2 -2.2 2.2zM113.2 244.7l2.2 -2.2 2.2 2.2 -2.2 2.2zM115.5 244.7l2.2 -2.2 2.2 2.2 -2.2 2.2zM117.8 244.7l2.2 -2.2 2.2 2.2 -2.2 2.2zM120.0 244.7l2.2 -2.2 2.2 2.2 -2.2 2.2zM122.3 244.7l2.2 -2.2 2.2 2.2 -2.2 2.2zM124.6 244.7l2.2 -2.2 2.2 2.2 -2.2 2.2zM130.8 244.7l2.2 -2.2 2.2 2.2 -2.2 2.2zM150.9 244.7l2.2 -2.2 2.2 2.2 -2.2 2.2zM64.3 251.7l2.2 -2.2 2.2 2.2 -2.2 2.2zM98.6 251.7l2.2 -2.2 2.2 2.2 -2.2 2.2zM103.3 251.7l2.2 -2.2 2.2 2.2 -2.2 2.2zM111.1 251.7l2.2 -2.2 2.2 2.2 -2.2 2.2zM113.3 251.7l2.2 -2.2 2.2 2.2 -2.2 2.2zM115.6 251.7l2.2 -2.2 2.2 2.2 -2.2 2.2zM117.8 251.7l2.2 -2.2 2.2 2.2 -2.2 2.2zM120.1 251.7l2.2 -2.2 2.2 2.2 -2.2 2.2zM122.3 251.7l2.2 -2.2 2.2 2.2 -2.2 2.2zM124.6 251.7l2.2 -2.2 2.2 2.2 -2.2 2.2zM132.9 251.7l2.2 -2.2 2.2 2.2 -2.2 2.2zM136.0 251.7l2.2 -2.2 2.2 2.2 -2.2 2.2zM140.2 251.7l2.2 -2.2 2.2 2.2 -2.2 2.2zM115.2 258.8l2.2 -2.2 2.2 2.2 -2.2 2.2zM117.3 258.8l2.2 -2.2 2.2 2.2 -2.2 2.2zM119.3 258.8l2.2 -2.2 2.2 2.2 -2.2 2.2zM121.4 258.8l2.2 -2.2 2.2 2.2 -2.2 2.2zM123.5 258.8l2.2 -2.2 2.2 2.2 -2.2 2.2zM139.5 258.8l2.2 -2.2 2.2 2.2 -2.2 2.2zM112.1 265.8l2.2 -2.2 2.2 2.2 -2.2 2.2zM117.3 265.8l2.2 -2.2 2.2 2.2 -2.2 2.2zM122.5 265.8l2.2 -2.2 2.2 2.2 -2.2 2.2zM127.1 265.8l2.2 -2.2 2.2 2.2 -2.2 2.2zM139.5 265.8l2.2 -2.2 2.2 2.2 -2.2 2.2zM114.2 272.8l2.2 -2.2 2.2 2.2 -2.2 2.2zM116.4 272.8l2.2 -2.2 2.2 2.2 -2.2 2.2zM118.6 272.8l2.2 -2.2 2.2 2.2 -2.2 2.2zM120.8 272.8l2.2 -2.2 2.2 2.2 -2.2 2.2zM123.0 272.8l2.2 -2.2 2.2 2.2 -2.2 2.2zM125.2 272.8l2.2 -2.2 2.2 2.2 -2.2 2.2zM127.4 272.8l2.2 -2.2 2.2 2.2 -2.2 2.2zM129.6 272.8l2.2 -2.2 2.2 2.2 -2.2 2.2zM131.8 272.8l2.2 -2.2 2.2 2.2 -2.2 2.2zM117.3 279.9l2.2 -2.2 2.2 2.2 -2.2 2.2zM119.7 279.9l2.2 -2.2 2.2 2.2 -2.2 2.2zM122.2 279.9l2.2 -2.2 2.2 2.2 -2.2 2.2zM124.6 279.9l2.2 -2.2 2.2 2.2 -2.2 2.2zM101.7 286.9l2.2 -2.2 2.2 2.2 -2.2 2.2zM112.1 286.9l2.2 -2.2 2.2 2.2 -2.2 2.2zM114.3 286.9l2.2 -2.2 2.2 2.2 -2.2 2.2zM116.5 286.9l2.2 -2.2 2.2 2.2 -2.2 2.2zM118.7 286.9l2.2 -2.2 2.2 2.2 -2.2 2.2zM120.9 286.9l2.2 -2.2 2.2 2.2 -2.2 2.2zM123.2 286.9l2.2 -2.2 2.2 2.2 -2.2 2.2zM125.4 286.9l2.2 -2.2 2.2 2.2 -2.2 2.2zM127.6 286.9l2.2 -2.2 2.2 2.2 -2.2 2.2zM129.8 286.9l2.2 -2.2 2.2 2.2 -2.2 2.2zM138.1 286.9l2.2 -2.2 2.2 2.2 -2.2 2.2zM106.9 294.0l2.2 -2.2 2.2 2.2 -2.2 2.2zM112.1 294.0l2.2 -2.2 2.2 2.2 -2.2 2.2zM122.5 294.0l2.2 -2.2 2.2 2.2 -2.2 2.2zM128.3 294.0l2.2 -2.2 2.2 2.2 -2.2 2.2zM93.9 301.0l2.2 -2.2 2.2 2.2 -2.2 2.2zM99.6 301.0l2.2 -2.2 2.2 2.2 -2.2 2.2zM114.2 301.0l2.2 -2.2 2.2 2.2 -2.2 2.2zM116.6 301.0l2.2 -2.2 2.2 2.2 -2.2 2.2zM119.0 301.0l2.2 -2.2 2.2 2.2 -2.2 2.2zM121.4 301.0l2.2 -2.2 2.2 2.2 -2.2 2.2zM135.0 301.0l2.2 -2.2 2.2 2.2 -2.2 2.2zM140.2 301.0l2.2 -2.2 2.2 2.2 -2.2 2.2zM104.3 308.0l2.2 -2.2 2.2 2.2 -2.2 2.2zM110.0 308.0l2.2 -2.2 2.2 2.2 -2.2 2.2zM114.2 308.0l2.2 -2.2 2.2 2.2 -2.2 2.2zM116.5 308.0l2.2 -2.2 2.2 2.2 -2.2 2.2zM118.8 308.0l2.2 -2.2 2.2 2.2 -2.2 2.2zM121.2 308.0l2.2 -2.2 2.2 2.2 -2.2 2.2zM123.5 308.0l2.2 -2.2 2.2 2.2 -2.2 2.2zM130.2 308.0l2.2 -2.2 2.2 2.2 -2.2 2.2zM99.6 315.1l2.2 -2.2 2.2 2.2 -2.2 2.2zM111.1 315.1l2.2 -2.2 2.2 2.2 -2.2 2.2zM115.8 315.1l2.2 -2.2 2.2 2.2 -2.2 2.2zM118.0 315.1l2.2 -2.2 2.2 2.2 -2.2 2.2zM120.2 315.1l2.2 -2.2 2.2 2.2 -2.2 2.2zM122.4 315.1l2.2 -2.2 2.2 2.2 -2.2 2.2zM124.6 315.1l2.2 -2.2 2.2 2.2 -2.2 2.2zM138.1 315.1l2.2 -2.2 2.2 2.2 -2.2 2.2zM114.2 322.1l2.2 -2.2 2.2 2.2 -2.2 2.2zM116.5 322.1l2.2 -2.2 2.2 2.2 -2.2 2.2zM118.8 322.1l2.2 -2.2 2.2 2.2 -2.2 2.2zM121.2 322.1l2.2 -2.2 2.2 2.2 -2.2 2.2zM123.5 322.1l2.2 -2.2 2.2 2.2 -2.2 2.2zM103.8 329.2l2.2 -2.2 2.2 2.2 -2.2 2.2zM112.1 329.2l2.2 -2.2 2.2 2.2 -2.2 2.2zM114.2 329.2l2.2 -2.2 2.2 2.2 -2.2 2.2zM116.3 329.2l2.2 -2.2 2.2 2.2 -2.2 2.2zM118.4 329.2l2.2 -2.2 2.2 2.2 -2.2 2.2zM120.4 329.2l2.2 -2.2 2.2 2.2 -2.2 2.2zM122.5 329.2l2.2 -2.2 2.2 2.2 -2.2 2.2zM124.6 329.2l2.2 -2.2 2.2 2.2 -2.2 2.2zM126.7 329.2l2.2 -2.2 2.2 2.2 -2.2 2.2zM69.5 336.2l2.2 -2.2 2.2 2.2 -2.2 2.2zM71.9 336.2l2.2 -2.2 2.2 2.2 -2.2 2.2zM74.4 336.2l2.2 -2.2 2.2 2.2 -2.2 2.2zM76.8 336.2l2.2 -2.2 2.2 2.2 -2.2 2.2zM96.5 336.2l2.2 -2.2 2.2 2.2 -2.2 2.2zM99.2 336.2l2.2 -2.2 2.2 2.2 -2.2 2.2zM103.3 336.2l2.2 -2.2 2.2 2.2 -2.2 2.2zM108.0 336.2l2.2 -2.2 2.2 2.2 -2.2 2.2zM110.2 336.2l2.2 -2.2 2.2 2.2 -2.2 2.2zM112.5 336.2l2.2 -2.2 2.2 2.2 -2.2 2.2zM114.7 336.2l2.2 -2.2 2.2 2.2 -2.2 2.2zM116.9 336.2l2.2 -2.2 2.2 2.2 -2.2 2.2zM119.1 336.2l2.2 -2.2 2.2 2.2 -2.2 2.2zM121.4 336.2l2.2 -2.2 2.2 2.2 -2.2 2.2zM123.6 336.2l2.2 -2.2 2.2 2.2 -2.2 2.2zM125.8 336.2l2.2 -2.2 2.2 2.2 -2.2 2.2zM128.1 336.2l2.2 -2.2 2.2 2.2 -2.2 2.2zM130.3 336.2l2.2 -2.2 2.2 2.2 -2.2 2.2zM132.5 336.2l2.2 -2.2 2.2 2.2 -2.2 2.2zM134.8 336.2l2.2 -2.2 2.2 2.2 -2.2 2.2zM137.0 336.2l2.2 -2.2 2.2 2.2 -2.2 2.2zM57.0 343.2l2.2 -2.2 2.2 2.2 -2.2 2.2zM109.0 343.2l2.2 -2.2 2.2 2.2 -2.2 2.2zM111.3 343.2l2.2 -2.2 2.2 2.2 -2.2 2.2zM113.6 343.2l2.2 -2.2 2.2 2.2 -2.2 2.2zM115.9 343.2l2.2 -2.2 2.2 2.2 -2.2 2.2zM118.2 343.2l2.2 -2.2 2.2 2.2 -2.2 2.2zM120.5 343.2l2.2 -2.2 2.2 2.2 -2.2 2.2zM122.9 343.2l2.2 -2.2 2.2 2.2 -2.2 2.2zM125.2 343.2l2.2 -2.2 2.2 2.2 -2.2 2.2zM127.5 343.2l2.2 -2.2 2.2 2.2 -2.2 2.2zM129.8 343.2l2.2 -2.2 2.2 2.2 -2.2 2.2zM112.1 350.3l2.2 -2.2 2.2 2.2 -2.2 2.2zM114.7 350.3l2.2 -2.2 2.2 2.2 -2.2 2.2zM117.3 350.3l2.2 -2.2 2.2 2.2 -2.2 2.2zM127.7 350.3l2.2 -2.2 2.2 2.2 -2.2 2.2zM140.6 350.3l2.2 -2.2 2.2 2.2 -2.2 2.2zM151.6 350.3l2.2 -2.2 2.2 2.2 -2.2 2.2zM109.0 357.3l2.2 -2.2 2.2 2.2 -2.2 2.2zM116.3 357.3l2.2 -2.2 2.2 2.2 -2.2 2.2zM121.4 357.3l2.2 -2.2 2.2 2.2 -2.2 2.2zM126.7 357.3l2.2 -2.2 2.2 2.2 -2.2 2.2zM131.8 357.3l2.2 -2.2 2.2 2.2 -2.2 2.2zM115.2 364.4l2.2 -2.2 2.2 2.2 -2.2 2.2zM117.6 364.4l2.2 -2.2 2.2 2.2 -2.2 2.2zM120.1 364.4l2.2 -2.2 2.2 2.2 -2.2 2.2zM122.5 364.4l2.2 -2.2 2.2 2.2 -2.2 2.2z" fill="none" stroke="#7b1a87" stroke-width="1.4" stroke-linejoin="miter"/>
<rect x="54.30" y="149.40" width="104.30" height="224.40" fill="none" stroke="#000" stroke-width="1.25" />
<line x1="52.10" y1="160.20" x2="54.30" y2="160.20" stroke="#111" stroke-width="0.8" />
<text x="49.60" y="162.92" font-size="5.95" font-family='"DejaVu Sans", sans-serif' text-anchor="end" fill="#222">PRDM16</text>
<line x1="52.10" y1="167.24" x2="54.30" y2="167.24" stroke="#111" stroke-width="0.8" />
<text x="49.60" y="169.96" font-size="5.95" font-family='"DejaVu Sans", sans-serif' text-anchor="end" fill="#222">MAST4</text>
<line x1="52.10" y1="174.28" x2="54.30" y2="174.28" stroke="#111" stroke-width="0.8" />
<text x="49.60" y="177.00" font-size="5.95" font-family='"DejaVu Sans", sans-serif' text-anchor="end" fill="#222">KAZN</text>
<line x1="52.10" y1="181.32" x2="54.30" y2="181.32" stroke="#111" stroke-width="0.8" />
<text x="49.60" y="184.04" font-size="5.95" font-family='"DejaVu Sans", sans-serif' text-anchor="end" fill="#222">TCF7L2</text>
<line x1="52.10" y1="188.36" x2="54.30" y2="188.36" stroke="#111" stroke-width="0.8" />
<text x="49.60" y="191.08" font-size="5.95" font-family='"DejaVu Sans", sans-serif' text-anchor="end" fill="#222">DOK5</text>
<line x1="52.10" y1="195.40" x2="54.30" y2="195.40" stroke="#111" stroke-width="0.8" />
<text x="49.60" y="198.12" font-size="5.95" font-family='"DejaVu Sans", sans-serif' text-anchor="end" fill="#222">SLC25A26</text>
<line x1="52.10" y1="202.44" x2="54.30" y2="202.44" stroke="#111" stroke-width="0.8" />
<text x="49.60" y="205.16" font-size="5.95" font-family='"DejaVu Sans", sans-serif' text-anchor="end" fill="#222">ARHGEF26-AS1</text>
<line x1="52.10" y1="209.48" x2="54.30" y2="209.48" stroke="#111" stroke-width="0.8" />
<text x="49.60" y="212.20" font-size="5.95" font-family='"DejaVu Sans", sans-serif' text-anchor="end" fill="#222">STON1-GTF2A1L</text>
<line x1="52.10" y1="216.52" x2="54.30" y2="216.52" stroke="#111" stroke-width="0.8" />
<text x="49.60" y="219.24" font-size="5.95" font-family='"DejaVu Sans", sans-serif' text-anchor="end" fill="#222">PRKCE</text>
<line x1="52.10" y1="223.56" x2="54.30" y2="223.56" stroke="#111" stroke-width="0.8" />
<text x="49.60" y="226.28" font-size="5.95" font-family='"DejaVu Sans", sans-serif' text-anchor="end" fill="#222">EGFEM1P</text>
<line x1="52.10" y1="230.60" x2="54.30" y2="230.60" stroke="#111" stroke-width="0.8" />
<text x="49.60" y="233.32" font-size="5.95" font-family='"DejaVu Sans", sans-serif' text-anchor="end" fill="#222">EXOC6B</text>
<line x1="52.10" y1="237.64" x2="54.30" y2="237.64" stroke="#111" stroke-width="0.8" />
<text x="49.60" y="240.36" font-size="5.95" font-family='"DejaVu Sans", sans-serif' text-anchor="end" fill="#222">DYSF</text>
<line x1="52.10" y1="244.68" x2="54.30" y2="244.68" stroke="#111" stroke-width="0.8" />
<text x="49.60" y="247.40" font-size="5.95" font-family='"DejaVu Sans", sans-serif' text-anchor="end" fill="#222">SLC44A5</text>
<line x1="52.10" y1="251.72" x2="54.30" y2="251.72" stroke="#111" stroke-width="0.8" />
<text x="49.60" y="254.44" font-size="5.95" font-family='"DejaVu Sans", sans-serif' text-anchor="end" fill="#222">SORCS2</text>
<line x1="52.10" y1="258.76" x2="54.30" y2="258.76" stroke="#111" stroke-width="0.8" />
<text x="49.60" y="261.48" font-size="5.95" font-family='"DejaVu Sans", sans-serif' text-anchor="end" fill="#222">KCNMB2-AS1</text>
<line x1="52.10" y1="265.80" x2="54.30" y2="265.80" stroke="#111" stroke-width="0.8" />
<text x="49.60" y="268.52" font-size="5.95" font-family='"DejaVu Sans", sans-serif' text-anchor="end" fill="#222">LEKR1</text>
<line x1="52.10" y1="272.84" x2="54.30" y2="272.84" stroke="#111" stroke-width="0.8" />
<text x="49.60" y="275.56" font-size="5.95" font-family='"DejaVu Sans", sans-serif' text-anchor="end" fill="#222">FTCDNL1</text>
<line x1="52.10" y1="279.88" x2="54.30" y2="279.88" stroke="#111" stroke-width="0.8" />
<text x="49.60" y="282.60" font-size="5.95" font-family='"DejaVu Sans", sans-serif' text-anchor="end" fill="#222">DSCR8</text>
<line x1="52.10" y1="286.92" x2="54.30" y2="286.92" stroke="#111" stroke-width="0.8" />
<text x="49.60" y="289.64" font-size="5.95" font-family='"DejaVu Sans", sans-serif' text-anchor="end" fill="#222">TMTC2</text>
<line x1="52.10" y1="293.96" x2="54.30" y2="293.96" stroke="#111" stroke-width="0.8" />
<text x="49.60" y="296.68" font-size="5.95" font-family='"DejaVu Sans", sans-serif' text-anchor="end" fill="#222">WASF3</text>
<line x1="52.10" y1="301.00" x2="54.30" y2="301.00" stroke="#111" stroke-width="0.8" />
<text x="49.60" y="303.72" font-size="5.95" font-family='"DejaVu Sans", sans-serif' text-anchor="end" fill="#222">ADD2</text>
<line x1="52.10" y1="308.04" x2="54.30" y2="308.04" stroke="#111" stroke-width="0.8" />
<text x="49.60" y="310.76" font-size="5.95" font-family='"DejaVu Sans", sans-serif' text-anchor="end" fill="#222">ZMYND8</text>
<line x1="52.10" y1="315.08" x2="54.30" y2="315.08" stroke="#111" stroke-width="0.8" />
<text x="49.60" y="317.80" font-size="5.95" font-family='"DejaVu Sans", sans-serif' text-anchor="end" fill="#222">EPHB2</text>
<line x1="52.10" y1="322.12" x2="54.30" y2="322.12" stroke="#111" stroke-width="0.8" />
<text x="49.60" y="324.84" font-size="5.95" font-family='"DejaVu Sans", sans-serif' text-anchor="end" fill="#222">CHST11</text>
<line x1="52.10" y1="329.16" x2="54.30" y2="329.16" stroke="#111" stroke-width="0.8" />
<text x="49.60" y="331.88" font-size="5.95" font-family='"DejaVu Sans", sans-serif' text-anchor="end" fill="#222">LINC00886</text>
<line x1="52.10" y1="336.20" x2="54.30" y2="336.20" stroke="#111" stroke-width="0.8" />
<text x="49.60" y="338.92" font-size="5.95" font-family='"DejaVu Sans", sans-serif' text-anchor="end" fill="#222">SOX2-OT</text>
<line x1="52.10" y1="343.24" x2="54.30" y2="343.24" stroke="#111" stroke-width="0.8" />
<text x="49.60" y="345.96" font-size="5.95" font-family='"DejaVu Sans", sans-serif' text-anchor="end" fill="#222">TIAM1</text>
<line x1="52.10" y1="350.28" x2="54.30" y2="350.28" stroke="#111" stroke-width="0.8" />
<text x="49.60" y="353.00" font-size="5.95" font-family='"DejaVu Sans", sans-serif' text-anchor="end" fill="#222">KCNE4</text>
<line x1="52.10" y1="357.32" x2="54.30" y2="357.32" stroke="#111" stroke-width="0.8" />
<text x="49.60" y="360.04" font-size="5.95" font-family='"DejaVu Sans", sans-serif' text-anchor="end" fill="#222">PTPRK</text>
<line x1="52.10" y1="364.36" x2="54.30" y2="364.36" stroke="#111" stroke-width="0.8" />
<text x="49.60" y="367.08" font-size="5.95" font-family='"DejaVu Sans", sans-serif' text-anchor="end" fill="#222">SRL</text>
<line x1="55.20" y1="373.80" x2="55.20" y2="376.00" stroke="#111" stroke-width="0.8" />
<text x="55.20" y="383.73" font-size="6.4" font-family='"DejaVu Sans", sans-serif' text-anchor="middle" fill="#222">−5.0</text>
<line x1="78.00" y1="373.80" x2="78.00" y2="376.00" stroke="#111" stroke-width="0.8" />
<text x="78.00" y="383.73" font-size="6.4" font-family='"DejaVu Sans", sans-serif' text-anchor="middle" fill="#222">−2.5</text>
<line x1="100.80" y1="373.80" x2="100.80" y2="376.00" stroke="#111" stroke-width="0.8" />
<text x="100.80" y="383.73" font-size="6.4" font-family='"DejaVu Sans", sans-serif' text-anchor="middle" fill="#222">0.0</text>
<line x1="123.60" y1="373.80" x2="123.60" y2="376.00" stroke="#111" stroke-width="0.8" />
<text x="123.60" y="383.73" font-size="6.4" font-family='"DejaVu Sans", sans-serif' text-anchor="middle" fill="#222">2.5</text>
<line x1="146.40" y1="373.80" x2="146.40" y2="376.00" stroke="#111" stroke-width="0.8" />
<text x="146.40" y="383.73" font-size="6.4" font-family='"DejaVu Sans", sans-serif' text-anchor="middle" fill="#222">5.0</text>
<text x="99.20" y="395.99" font-size="8.2" font-family='"DejaVu Sans", sans-serif' text-anchor="middle" fill="#222">Log fold change</text>
<text x="271.20" y="145.73" font-size="7.65" font-family='"Liberation Sans", Arial, sans-serif' text-anchor="middle" fill="#222">NPC (C7) vs. Rest</text>
<path d="M261.7 160.2l2.2 -2.2 2.2 2.2 -2.2 2.2zM265.9 160.2l2.2 -2.2 2.2 2.2 -2.2 2.2zM268.6 160.2l2.2 -2.2 2.2 2.2 -2.2 2.2zM270.3 160.2l2.2 -2.2 2.2 2.2 -2.2 2.2zM271.8 160.2l2.2 -2.2 2.2 2.2 -2.2 2.2zM273.2 160.2l2.2 -2.2 2.2 2.2 -2.2 2.2zM274.7 160.2l2.2 -2.2 2.2 2.2 -2.2 2.2zM276.2 160.2l2.2 -2.2 2.2 2.2 -2.2 2.2zM277.7 160.2l2.2 -2.2 2.2 2.2 -2.2 2.2zM279.2 160.2l2.2 -2.2 2.2 2.2 -2.2 2.2zM280.7 160.2l2.2 -2.2 2.2 2.2 -2.2 2.2zM282.1 160.2l2.2 -2.2 2.2 2.2 -2.2 2.2zM269.2 167.2l2.2 -2.2 2.2 2.2 -2.2 2.2zM270.8 167.2l2.2 -2.2 2.2 2.2 -2.2 2.2zM272.3 167.2l2.2 -2.2 2.2 2.2 -2.2 2.2zM273.9 167.2l2.2 -2.2 2.2 2.2 -2.2 2.2zM275.5 167.2l2.2 -2.2 2.2 2.2 -2.2 2.2zM277.0 167.2l2.2 -2.2 2.2 2.2 -2.2 2.2zM278.6 167.2l2.2 -2.2 2.2 2.2 -2.2 2.2zM280.1 167.2l2.2 -2.2 2.2 2.2 -2.2 2.2zM281.7 167.2l2.2 -2.2 2.2 2.2 -2.2 2.2zM283.3 167.2l2.2 -2.2 2.2 2.2 -2.2 2.2zM284.8 167.2l2.2 -2.2 2.2 2.2 -2.2 2.2zM286.4 167.2l2.2 -2.2 2.2 2.2 -2.2 2.2zM280.0 174.3l2.2 -2.2 2.2 2.2 -2.2 2.2zM281.4 174.3l2.2 -2.2 2.2 2.2 -2.2 2.2zM282.9 174.3l2.2 -2.2 2.2 2.2 -2.2 2.2zM284.4 174.3l2.2 -2.2 2.2 2.2 -2.2 2.2zM285.8 174.3l2.2 -2.2 2.2 2.2 -2.2 2.2zM287.3 174.3l2.2 -2.2 2.2 2.2 -2.2 2.2zM288.8 174.3l2.2 -2.2 2.2 2.2 -2.2 2.2zM290.2 174.3l2.2 -2.2 2.2 2.2 -2.2 2.2zM291.7 174.3l2.2 -2.2 2.2 2.2 -2.2 2.2zM293.2 174.3l2.2 -2.2 2.2 2.2 -2.2 2.2zM294.6 174.3l2.2 -2.2 2.2 2.2 -2.2 2.2zM296.1 174.3l2.2 -2.2 2.2 2.2 -2.2 2.2zM265.9 181.3l2.2 -2.2 2.2 2.2 -2.2 2.2zM269.2 181.3l2.2 -2.2 2.2 2.2 -2.2 2.2zM270.8 181.3l2.2 -2.2 2.2 2.2 -2.2 2.2zM272.3 181.3l2.2 -2.2 2.2 2.2 -2.2 2.2zM273.9 181.3l2.2 -2.2 2.2 2.2 -2.2 2.2zM275.5 181.3l2.2 -2.2 2.2 2.2 -2.2 2.2zM277.0 181.3l2.2 -2.2 2.2 2.2 -2.2 2.2zM278.6 181.3l2.2 -2.2 2.2 2.2 -2.2 2.2zM280.1 181.3l2.2 -2.2 2.2 2.2 -2.2 2.2zM281.7 181.3l2.2 -2.2 2.2 2.2 -2.2 2.2zM283.3 181.3l2.2 -2.2 2.2 2.2 -2.2 2.2zM284.8 181.3l2.2 -2.2 2.2 2.2 -2.2 2.2zM286.4 181.3l2.2 -2.2 2.2 2.2 -2.2 2.2zM268.1 188.4l2.2 -2.2 2.2 2.2 -2.2 2.2zM274.5 188.4l2.2 -2.2 2.2 2.2 -2.2 2.2zM277.0 188.4l2.2 -2.2 2.2 2.2 -2.2 2.2zM278.4 188.4l2.2 -2.2 2.2 2.2 -2.2 2.2zM279.9 188.4l2.2 -2.2 2.2 2.2 -2.2 2.2zM281.3 188.4l2.2 -2.2 2.2 2.2 -2.2 2.2zM282.8 188.4l2.2 -2.2 2.2 2.2 -2.2 2.2zM284.3 188.4l2.2 -2.2 2.2 2.2 -2.2 2.2zM285.7 188.4l2.2 -2.2 2.2 2.2 -2.2 2.2zM287.2 188.4l2.2 -2.2 2.2 2.2 -2.2 2.2zM288.7 188.4l2.2 -2.2 2.2 2.2 -2.2 2.2zM312.2 188.4l2.2 -2.2 2.2 2.2 -2.2 2.2zM259.5 195.4l2.2 -2.2 2.2 2.2 -2.2 2.2zM270.3 195.4l2.2 -2.2 2.2 2.2 -2.2 2.2zM273.6 195.4l2.2 -2.2 2.2 2.2 -2.2 2.2zM275.2 195.4l2.2 -2.2 2.2 2.2 -2.2 2.2zM276.7 195.4l2.2 -2.2 2.2 2.2 -2.2 2.2zM278.3 195.4l2.2 -2.2 2.2 2.2 -2.2 2.2zM279.8 195.4l2.2 -2.2 2.2 2.2 -2.2 2.2zM281.4 195.4l2.2 -2.2 2.2 2.2 -2.2 2.2zM282.9 195.4l2.2 -2.2 2.2 2.2 -2.2 2.2zM284.5 195.4l2.2 -2.2 2.2 2.2 -2.2 2.2zM303.6 195.4l2.2 -2.2 2.2 2.2 -2.2 2.2zM261.7 202.4l2.2 -2.2 2.2 2.2 -2.2 2.2zM263.2 202.4l2.2 -2.2 2.2 2.2 -2.2 2.2zM264.7 202.4l2.2 -2.2 2.2 2.2 -2.2 2.2zM266.2 202.4l2.2 -2.2 2.2 2.2 -2.2 2.2zM267.7 202.4l2.2 -2.2 2.2 2.2 -2.2 2.2zM269.2 202.4l2.2 -2.2 2.2 2.2 -2.2 2.2zM270.6 202.4l2.2 -2.2 2.2 2.2 -2.2 2.2zM272.1 202.4l2.2 -2.2 2.2 2.2 -2.2 2.2zM273.6 202.4l2.2 -2.2 2.2 2.2 -2.2 2.2zM275.1 202.4l2.2 -2.2 2.2 2.2 -2.2 2.2zM276.6 202.4l2.2 -2.2 2.2 2.2 -2.2 2.2zM278.1 202.4l2.2 -2.2 2.2 2.2 -2.2 2.2zM279.6 202.4l2.2 -2.2 2.2 2.2 -2.2 2.2zM281.1 202.4l2.2 -2.2 2.2 2.2 -2.2 2.2zM282.6 202.4l2.2 -2.2 2.2 2.2 -2.2 2.2zM284.1 202.4l2.2 -2.2 2.2 2.2 -2.2 2.2zM285.6 202.4l2.2 -2.2 2.2 2.2 -2.2 2.2zM287.1 202.4l2.2 -2.2 2.2 2.2 -2.2 2.2zM288.6 202.4l2.2 -2.2 2.2 2.2 -2.2 2.2zM258.4 209.5l2.2 -2.2 2.2 2.2 -2.2 2.2zM262.8 209.5l2.2 -2.2 2.2 2.2 -2.2 2.2zM268.1 209.5l2.2 -2.2 2.2 2.2 -2.2 2.2zM273.5 209.5l2.2 -2.2 2.2 2.2 -2.2 2.2zM275.0 209.5l2.2 -2.2 2.2 2.2 -2.2 2.2zM276.5 209.5l2.2 -2.2 2.2 2.2 -2.2 2.2zM278.0 209.5l2.2 -2.2 2.2 2.2 -2.2 2.2zM279.5 209.5l2.2 -2.2 2.2 2.2 -2.2 2.2zM281.0 209.5l2.2 -2.2 2.2 2.2 -2.2 2.2zM282.5 209.5l2.2 -2.2 2.2 2.2 -2.2 2.2zM284.0 209.5l2.2 -2.2 2.2 2.2 -2.2 2.2zM285.5 209.5l2.2 -2.2 2.2 2.2 -2.2 2.2zM287.0 209.5l2.2 -2.2 2.2 2.2 -2.2 2.2zM288.5 209.5l2.2 -2.2 2.2 2.2 -2.2 2.2zM290.1 209.5l2.2 -2.2 2.2 2.2 -2.2 2.2zM291.6 209.5l2.2 -2.2 2.2 2.2 -2.2 2.2zM293.1 209.5l2.2 -2.2 2.2 2.2 -2.2 2.2zM294.6 209.5l2.2 -2.2 2.2 2.2 -2.2 2.2zM296.1 209.5l2.2 -2.2 2.2 2.2 -2.2 2.2zM263.8 216.5l2.2 -2.2 2.2 2.2 -2.2 2.2zM265.3 216.5l2.2 -2.2 2.2 2.2 -2.2 2.2zM266.8 216.5l2.2 -2.2 2.2 2.2 -2.2 2.2zM268.3 216.5l2.2 -2.2 2.2 2.2 -2.2 2.2zM269.8 216.5l2.2 -2.2 2.2 2.2 -2.2 2.2zM271.3 216.5l2.2 -2.2 2.2 2.2 -2.2 2.2zM272.8 216.5l2.2 -2.2 2.2 2.2 -2.2 2.2zM274.3 216.5l2.2 -2.2 2.2 2.2 -2.2 2.2zM275.8 216.5l2.2 -2.2 2.2 2.2 -2.2 2.2zM277.3 216.5l2.2 -2.2 2.2 2.2 -2.2 2.2zM278.9 216.5l2.2 -2.2 2.2 2.2 -2.2 2.2zM280.4 216.5l2.2 -2.2 2.2 2.2 -2.2 2.2zM281.9 216.5l2.2 -2.2 2.2 2.2 -2.2 2.2zM283.4 216.5l2.2 -2.2 2.2 2.2 -2.2 2.2zM284.9 216.5l2.2 -2.2 2.2 2.2 -2.2 2.2zM286.4 216.5l2.2 -2.2 2.2 2.2 -2.2 2.2zM312.2 216.5l2.2 -2.2 2.2 2.2 -2.2 2.2zM275.3 223.6l2.2 -2.2 2.2 2.2 -2.2 2.2zM276.9 223.6l2.2 -2.2 2.2 2.2 -2.2 2.2zM278.5 223.6l2.2 -2.2 2.2 2.2 -2.2 2.2zM280.1 223.6l2.2 -2.2 2.2 2.2 -2.2 2.2zM281.6 223.6l2.2 -2.2 2.2 2.2 -2.2 2.2zM283.2 223.6l2.2 -2.2 2.2 2.2 -2.2 2.2zM284.8 223.6l2.2 -2.2 2.2 2.2 -2.2 2.2zM286.4 223.6l2.2 -2.2 2.2 2.2 -2.2 2.2zM273.5 230.6l2.2 -2.2 2.2 2.2 -2.2 2.2zM275.6 230.6l2.2 -2.2 2.2 2.2 -2.2 2.2zM277.2 230.6l2.2 -2.2 2.2 2.2 -2.2 2.2zM278.7 230.6l2.2 -2.2 2.2 2.2 -2.2 2.2zM280.2 230.6l2.2 -2.2 2.2 2.2 -2.2 2.2zM281.8 230.6l2.2 -2.2 2.2 2.2 -2.2 2.2zM283.3 230.6l2.2 -2.2 2.2 2.2 -2.2 2.2zM284.9 230.6l2.2 -2.2 2.2 2.2 -2.2 2.2zM286.4 230.6l2.2 -2.2 2.2 2.2 -2.2 2.2zM310.1 230.6l2.2 -2.2 2.2 2.2 -2.2 2.2zM270.3 237.6l2.2 -2.2 2.2 2.2 -2.2 2.2zM271.8 237.6l2.2 -2.2 2.2 2.2 -2.2 2.2zM273.4 237.6l2.2 -2.2 2.2 2.2 -2.2 2.2zM274.9 237.6l2.2 -2.2 2.2 2.2 -2.2 2.2zM276.4 237.6l2.2 -2.2 2.2 2.2 -2.2 2.2zM278.0 237.6l2.2 -2.2 2.2 2.2 -2.2 2.2zM279.5 237.6l2.2 -2.2 2.2 2.2 -2.2 2.2zM281.1 237.6l2.2 -2.2 2.2 2.2 -2.2 2.2zM268.1 244.7l2.2 -2.2 2.2 2.2 -2.2 2.2zM274.5 244.7l2.2 -2.2 2.2 2.2 -2.2 2.2zM276.7 244.7l2.2 -2.2 2.2 2.2 -2.2 2.2zM278.2 244.7l2.2 -2.2 2.2 2.2 -2.2 2.2zM279.6 244.7l2.2 -2.2 2.2 2.2 -2.2 2.2zM281.1 244.7l2.2 -2.2 2.2 2.2 -2.2 2.2zM282.6 244.7l2.2 -2.2 2.2 2.2 -2.2 2.2zM284.0 244.7l2.2 -2.2 2.2 2.2 -2.2 2.2zM285.5 244.7l2.2 -2.2 2.2 2.2 -2.2 2.2zM287.0 244.7l2.2 -2.2 2.2 2.2 -2.2 2.2zM288.4 244.7l2.2 -2.2 2.2 2.2 -2.2 2.2zM289.9 244.7l2.2 -2.2 2.2 2.2 -2.2 2.2zM291.4 244.7l2.2 -2.2 2.2 2.2 -2.2 2.2zM292.8 244.7l2.2 -2.2 2.2 2.2 -2.2 2.2zM241.2 251.7l2.2 -2.2 2.2 2.2 -2.2 2.2zM248.7 251.7l2.2 -2.2 2.2 2.2 -2.2 2.2zM254.1 251.7l2.2 -2.2 2.2 2.2 -2.2 2.2zM260.6 251.7l2.2 -2.2 2.2 2.2 -2.2 2.2zM262.1 251.7l2.2 -2.2 2.2 2.2 -2.2 2.2zM263.6 251.7l2.2 -2.2 2.2 2.2 -2.2 2.2zM265.1 251.7l2.2 -2.2 2.2 2.2 -2.2 2.2zM266.6 251.7l2.2 -2.2 2.2 2.2 -2.2 2.2zM268.0 251.7l2.2 -2.2 2.2 2.2 -2.2 2.2zM269.5 251.7l2.2 -2.2 2.2 2.2 -2.2 2.2zM271.0 251.7l2.2 -2.2 2.2 2.2 -2.2 2.2zM272.5 251.7l2.2 -2.2 2.2 2.2 -2.2 2.2zM274.0 251.7l2.2 -2.2 2.2 2.2 -2.2 2.2zM275.5 251.7l2.2 -2.2 2.2 2.2 -2.2 2.2zM277.0 251.7l2.2 -2.2 2.2 2.2 -2.2 2.2zM278.5 251.7l2.2 -2.2 2.2 2.2 -2.2 2.2zM280.0 251.7l2.2 -2.2 2.2 2.2 -2.2 2.2zM295.0 251.7l2.2 -2.2 2.2 2.2 -2.2 2.2zM265.9 258.8l2.2 -2.2 2.2 2.2 -2.2 2.2zM274.5 258.8l2.2 -2.2 2.2 2.2 -2.2 2.2zM288.6 258.8l2.2 -2.2 2.2 2.2 -2.2 2.2zM312.2 258.8l2.2 -2.2 2.2 2.2 -2.2 2.2zM229.4 265.8l2.2 -2.2 2.2 2.2 -2.2 2.2zM254.1 265.8l2.2 -2.2 2.2 2.2 -2.2 2.2zM262.8 265.8l2.2 -2.2 2.2 2.2 -2.2 2.2zM264.3 265.8l2.2 -2.2 2.2 2.2 -2.2 2.2zM265.9 265.8l2.2 -2.2 2.2 2.2 -2.2 2.2zM267.5 265.8l2.2 -2.2 2.2 2.2 -2.2 2.2zM269.0 265.8l2.2 -2.2 2.2 2.2 -2.2 2.2zM270.6 265.8l2.2 -2.2 2.2 2.2 -2.2 2.2zM272.2 265.8l2.2 -2.2 2.2 2.2 -2.2 2.2zM273.7 265.8l2.2 -2.2 2.2 2.2 -2.2 2.2zM275.3 265.8l2.2 -2.2 2.2 2.2 -2.2 2.2zM276.8 265.8l2.2 -2.2 2.2 2.2 -2.2 2.2zM278.4 265.8l2.2 -2.2 2.2 2.2 -2.2 2.2zM280.0 265.8l2.2 -2.2 2.2 2.2 -2.2 2.2zM286.2 265.8l2.2 -2.2 2.2 2.2 -2.2 2.2zM287.8 265.8l2.2 -2.2 2.2 2.2 -2.2 2.2zM289.5 265.8l2.2 -2.2 2.2 2.2 -2.2 2.2zM291.2 265.8l2.2 -2.2 2.2 2.2 -2.2 2.2zM292.8 265.8l2.2 -2.2 2.2 2.2 -2.2 2.2zM240.2 272.8l2.2 -2.2 2.2 2.2 -2.2 2.2zM244.4 272.8l2.2 -2.2 2.2 2.2 -2.2 2.2zM254.1 272.8l2.2 -2.2 2.2 2.2 -2.2 2.2zM267.0 272.8l2.2 -2.2 2.2 2.2 -2.2 2.2zM268.6 272.8l2.2 -2.2 2.2 2.2 -2.2 2.2zM270.2 272.8l2.2 -2.2 2.2 2.2 -2.2 2.2zM271.7 272.8l2.2 -2.2 2.2 2.2 -2.2 2.2zM273.3 272.8l2.2 -2.2 2.2 2.2 -2.2 2.2zM274.8 272.8l2.2 -2.2 2.2 2.2 -2.2 2.2zM276.4 272.8l2.2 -2.2 2.2 2.2 -2.2 2.2zM278.0 272.8l2.2 -2.2 2.2 2.2 -2.2 2.2zM279.5 272.8l2.2 -2.2 2.2 2.2 -2.2 2.2zM281.1 272.8l2.2 -2.2 2.2 2.2 -2.2 2.2zM282.7 272.8l2.2 -2.2 2.2 2.2 -2.2 2.2zM284.2 272.8l2.2 -2.2 2.2 2.2 -2.2 2.2zM288.6 272.8l2.2 -2.2 2.2 2.2 -2.2 2.2zM239.1 279.9l2.2 -2.2 2.2 2.2 -2.2 2.2zM264.9 279.9l2.2 -2.2 2.2 2.2 -2.2 2.2zM274.5 279.9l2.2 -2.2 2.2 2.2 -2.2 2.2zM276.1 279.9l2.2 -2.2 2.2 2.2 -2.2 2.2zM277.6 279.9l2.2 -2.2 2.2 2.2 -2.2 2.2zM279.1 279.9l2.2 -2.2 2.2 2.2 -2.2 2.2zM280.6 279.9l2.2 -2.2 2.2 2.2 -2.2 2.2zM282.1 279.9l2.2 -2.2 2.2 2.2 -2.2 2.2zM283.6 279.9l2.2 -2.2 2.2 2.2 -2.2 2.2zM285.1 279.9l2.2 -2.2 2.2 2.2 -2.2 2.2zM286.6 279.9l2.2 -2.2 2.2 2.2 -2.2 2.2zM288.1 279.9l2.2 -2.2 2.2 2.2 -2.2 2.2zM289.6 279.9l2.2 -2.2 2.2 2.2 -2.2 2.2zM291.1 279.9l2.2 -2.2 2.2 2.2 -2.2 2.2zM292.6 279.9l2.2 -2.2 2.2 2.2 -2.2 2.2zM294.2 279.9l2.2 -2.2 2.2 2.2 -2.2 2.2zM295.7 279.9l2.2 -2.2 2.2 2.2 -2.2 2.2zM297.2 279.9l2.2 -2.2 2.2 2.2 -2.2 2.2zM264.9 286.9l2.2 -2.2 2.2 2.2 -2.2 2.2zM272.5 286.9l2.2 -2.2 2.2 2.2 -2.2 2.2zM274.5 286.9l2.2 -2.2 2.2 2.2 -2.2 2.2zM276.0 286.9l2.2 -2.2 2.2 2.2 -2.2 2.2zM277.5 286.9l2.2 -2.2 2.2 2.2 -2.2 2.2zM279.0 286.9l2.2 -2.2 2.2 2.2 -2.2 2.2zM280.4 286.9l2.2 -2.2 2.2 2.2 -2.2 2.2zM281.9 286.9l2.2 -2.2 2.2 2.2 -2.2 2.2zM283.4 286.9l2.2 -2.2 2.2 2.2 -2.2 2.2zM284.9 286.9l2.2 -2.2 2.2 2.2 -2.2 2.2zM286.3 286.9l2.2 -2.2 2.2 2.2 -2.2 2.2zM287.8 286.9l2.2 -2.2 2.2 2.2 -2.2 2.2zM289.3 286.9l2.2 -2.2 2.2 2.2 -2.2 2.2zM290.7 286.9l2.2 -2.2 2.2 2.2 -2.2 2.2zM249.8 294.0l2.2 -2.2 2.2 2.2 -2.2 2.2zM251.4 294.0l2.2 -2.2 2.2 2.2 -2.2 2.2zM252.9 294.0l2.2 -2.2 2.2 2.2 -2.2 2.2zM254.4 294.0l2.2 -2.2 2.2 2.2 -2.2 2.2zM255.9 294.0l2.2 -2.2 2.2 2.2 -2.2 2.2zM257.4 294.0l2.2 -2.2 2.2 2.2 -2.2 2.2zM259.0 294.0l2.2 -2.2 2.2 2.2 -2.2 2.2zM260.5 294.0l2.2 -2.2 2.2 2.2 -2.2 2.2zM262.0 294.0l2.2 -2.2 2.2 2.2 -2.2 2.2zM263.5 294.0l2.2 -2.2 2.2 2.2 -2.2 2.2zM265.1 294.0l2.2 -2.2 2.2 2.2 -2.2 2.2zM266.6 294.0l2.2 -2.2 2.2 2.2 -2.2 2.2zM268.1 294.0l2.2 -2.2 2.2 2.2 -2.2 2.2zM270.3 294.0l2.2 -2.2 2.2 2.2 -2.2 2.2zM271.7 294.0l2.2 -2.2 2.2 2.2 -2.2 2.2zM273.2 294.0l2.2 -2.2 2.2 2.2 -2.2 2.2zM274.7 294.0l2.2 -2.2 2.2 2.2 -2.2 2.2zM276.1 294.0l2.2 -2.2 2.2 2.2 -2.2 2.2zM277.6 294.0l2.2 -2.2 2.2 2.2 -2.2 2.2zM279.1 294.0l2.2 -2.2 2.2 2.2 -2.2 2.2zM280.5 294.0l2.2 -2.2 2.2 2.2 -2.2 2.2zM282.0 294.0l2.2 -2.2 2.2 2.2 -2.2 2.2zM283.4 294.0l2.2 -2.2 2.2 2.2 -2.2 2.2zM284.9 294.0l2.2 -2.2 2.2 2.2 -2.2 2.2zM286.4 294.0l2.2 -2.2 2.2 2.2 -2.2 2.2zM287.8 294.0l2.2 -2.2 2.2 2.2 -2.2 2.2zM289.3 294.0l2.2 -2.2 2.2 2.2 -2.2 2.2zM290.7 294.0l2.2 -2.2 2.2 2.2 -2.2 2.2zM272.5 301.0l2.2 -2.2 2.2 2.2 -2.2 2.2zM277.8 301.0l2.2 -2.2 2.2 2.2 -2.2 2.2zM282.0 301.0l2.2 -2.2 2.2 2.2 -2.2 2.2zM283.5 301.0l2.2 -2.2 2.2 2.2 -2.2 2.2zM285.1 301.0l2.2 -2.2 2.2 2.2 -2.2 2.2zM286.6 301.0l2.2 -2.2 2.2 2.2 -2.2 2.2zM288.2 301.0l2.2 -2.2 2.2 2.2 -2.2 2.2zM289.7 301.0l2.2 -2.2 2.2 2.2 -2.2 2.2zM291.3 301.0l2.2 -2.2 2.2 2.2 -2.2 2.2zM292.8 301.0l2.2 -2.2 2.2 2.2 -2.2 2.2zM252.0 308.0l2.2 -2.2 2.2 2.2 -2.2 2.2zM253.4 308.0l2.2 -2.2 2.2 2.2 -2.2 2.2zM254.9 308.0l2.2 -2.2 2.2 2.2 -2.2 2.2zM256.3 308.0l2.2 -2.2 2.2 2.2 -2.2 2.2zM257.7 308.0l2.2 -2.2 2.2 2.2 -2.2 2.2zM259.2 308.0l2.2 -2.2 2.2 2.2 -2.2 2.2zM260.6 308.0l2.2 -2.2 2.2 2.2 -2.2 2.2zM270.3 308.0l2.2 -2.2 2.2 2.2 -2.2 2.2zM271.8 308.0l2.2 -2.2 2.2 2.2 -2.2 2.2zM273.2 308.0l2.2 -2.2 2.2 2.2 -2.2 2.2zM274.7 308.0l2.2 -2.2 2.2 2.2 -2.2 2.2zM276.1 308.0l2.2 -2.2 2.2 2.2 -2.2 2.2zM277.6 308.0l2.2 -2.2 2.2 2.2 -2.2 2.2zM279.1 308.0l2.2 -2.2 2.2 2.2 -2.2 2.2zM280.5 308.0l2.2 -2.2 2.2 2.2 -2.2 2.2zM282.0 308.0l2.2 -2.2 2.2 2.2 -2.2 2.2zM283.5 308.0l2.2 -2.2 2.2 2.2 -2.2 2.2zM284.9 308.0l2.2 -2.2 2.2 2.2 -2.2 2.2zM286.4 308.0l2.2 -2.2 2.2 2.2 -2.2 2.2zM296.1 308.0l2.2 -2.2 2.2 2.2 -2.2 2.2zM259.5 315.1l2.2 -2.2 2.2 2.2 -2.2 2.2zM267.0 315.1l2.2 -2.2 2.2 2.2 -2.2 2.2zM268.5 315.1l2.2 -2.2 2.2 2.2 -2.2 2.2zM270.0 315.1l2.2 -2.2 2.2 2.2 -2.2 2.2zM271.5 315.1l2.2 -2.2 2.2 2.2 -2.2 2.2zM273.0 315.1l2.2 -2.2 2.2 2.2 -2.2 2.2zM274.5 315.1l2.2 -2.2 2.2 2.2 -2.2 2.2zM276.0 315.1l2.2 -2.2 2.2 2.2 -2.2 2.2zM277.5 315.1l2.2 -2.2 2.2 2.2 -2.2 2.2zM278.9 315.1l2.2 -2.2 2.2 2.2 -2.2 2.2zM280.4 315.1l2.2 -2.2 2.2 2.2 -2.2 2.2zM281.9 315.1l2.2 -2.2 2.2 2.2 -2.2 2.2zM283.4 315.1l2.2 -2.2 2.2 2.2 -2.2 2.2zM284.9 315.1l2.2 -2.2 2.2 2.2 -2.2 2.2zM286.4 315.1l2.2 -2.2 2.2 2.2 -2.2 2.2zM263.8 322.1l2.2 -2.2 2.2 2.2 -2.2 2.2zM268.1 322.1l2.2 -2.2 2.2 2.2 -2.2 2.2zM273.5 322.1l2.2 -2.2 2.2 2.2 -2.2 2.2zM259.5 329.2l2.2 -2.2 2.2 2.2 -2.2 2.2zM278.9 329.2l2.2 -2.2 2.2 2.2 -2.2 2.2zM280.4 329.2l2.2 -2.2 2.2 2.2 -2.2 2.2zM281.8 329.2l2.2 -2.2 2.2 2.2 -2.2 2.2zM283.3 329.2l2.2 -2.2 2.2 2.2 -2.2 2.2zM284.8 329.2l2.2 -2.2 2.2 2.2 -2.2 2.2zM286.3 329.2l2.2 -2.2 2.2 2.2 -2.2 2.2zM287.8 329.2l2.2 -2.2 2.2 2.2 -2.2 2.2zM289.3 329.2l2.2 -2.2 2.2 2.2 -2.2 2.2zM290.7 329.2l2.2 -2.2 2.2 2.2 -2.2 2.2zM272.9 336.2l2.2 -2.2 2.2 2.2 -2.2 2.2zM281.1 336.2l2.2 -2.2 2.2 2.2 -2.2 2.2zM286.4 336.2l2.2 -2.2 2.2 2.2 -2.2 2.2zM257.3 343.2l2.2 -2.2 2.2 2.2 -2.2 2.2zM269.2 343.2l2.2 -2.2 2.2 2.2 -2.2 2.2zM271.4 343.2l2.2 -2.2 2.2 2.2 -2.2 2.2zM272.9 343.2l2.2 -2.2 2.2 2.2 -2.2 2.2zM274.4 343.2l2.2 -2.2 2.2 2.2 -2.2 2.2zM275.9 343.2l2.2 -2.2 2.2 2.2 -2.2 2.2zM277.4 343.2l2.2 -2.2 2.2 2.2 -2.2 2.2zM278.9 343.2l2.2 -2.2 2.2 2.2 -2.2 2.2zM280.4 343.2l2.2 -2.2 2.2 2.2 -2.2 2.2zM281.9 343.2l2.2 -2.2 2.2 2.2 -2.2 2.2zM283.4 343.2l2.2 -2.2 2.2 2.2 -2.2 2.2zM284.9 343.2l2.2 -2.2 2.2 2.2 -2.2 2.2zM286.4 343.2l2.2 -2.2 2.2 2.2 -2.2 2.2zM272.5 350.3l2.2 -2.2 2.2 2.2 -2.2 2.2zM274.1 350.3l2.2 -2.2 2.2 2.2 -2.2 2.2zM275.7 350.3l2.2 -2.2 2.2 2.2 -2.2 2.2zM277.3 350.3l2.2 -2.2 2.2 2.2 -2.2 2.2zM278.9 350.3l2.2 -2.2 2.2 2.2 -2.2 2.2zM280.5 350.3l2.2 -2.2 2.2 2.2 -2.2 2.2zM282.1 350.3l2.2 -2.2 2.2 2.2 -2.2 2.2zM303.2 350.3l2.2 -2.2 2.2 2.2 -2.2 2.2zM246.6 357.3l2.2 -2.2 2.2 2.2 -2.2 2.2zM261.7 357.3l2.2 -2.2 2.2 2.2 -2.2 2.2zM263.1 357.3l2.2 -2.2 2.2 2.2 -2.2 2.2zM264.6 357.3l2.2 -2.2 2.2 2.2 -2.2 2.2zM266.1 357.3l2.2 -2.2 2.2 2.2 -2.2 2.2zM267.5 357.3l2.2 -2.2 2.2 2.2 -2.2 2.2zM269.0 357.3l2.2 -2.2 2.2 2.2 -2.2 2.2zM270.5 357.3l2.2 -2.2 2.2 2.2 -2.2 2.2zM271.9 357.3l2.2 -2.2 2.2 2.2 -2.2 2.2zM273.4 357.3l2.2 -2.2 2.2 2.2 -2.2 2.2zM274.9 357.3l2.2 -2.2 2.2 2.2 -2.2 2.2zM276.3 357.3l2.2 -2.2 2.2 2.2 -2.2 2.2zM277.8 357.3l2.2 -2.2 2.2 2.2 -2.2 2.2zM270.3 364.4l2.2 -2.2 2.2 2.2 -2.2 2.2zM271.8 364.4l2.2 -2.2 2.2 2.2 -2.2 2.2zM273.2 364.4l2.2 -2.2 2.2 2.2 -2.2 2.2zM274.7 364.4l2.2 -2.2 2.2 2.2 -2.2 2.2zM276.1 364.4l2.2 -2.2 2.2 2.2 -2.2 2.2zM277.6 364.4l2.2 -2.2 2.2 2.2 -2.2 2.2zM279.1 364.4l2.2 -2.2 2.2 2.2 -2.2 2.2zM280.5 364.4l2.2 -2.2 2.2 2.2 -2.2 2.2zM282.0 364.4l2.2 -2.2 2.2 2.2 -2.2 2.2zM283.5 364.4l2.2 -2.2 2.2 2.2 -2.2 2.2zM284.9 364.4l2.2 -2.2 2.2 2.2 -2.2 2.2zM286.4 364.4l2.2 -2.2 2.2 2.2 -2.2 2.2z" fill="none" stroke="#c3c3c3" stroke-width="1.4" stroke-linejoin="miter"/>
<line x1="280.00" y1="150.40" x2="280.00" y2="373.20" stroke="#808080" stroke-width="1.7" stroke-dasharray="4.5,2"/>
<path d="M283.1 160.2l2.2 -2.2 2.2 2.2 -2.2 2.2zM286.1 160.2l2.2 -2.2 2.2 2.2 -2.2 2.2zM289.0 160.2l2.2 -2.2 2.2 2.2 -2.2 2.2zM291.9 160.2l2.2 -2.2 2.2 2.2 -2.2 2.2zM294.9 160.2l2.2 -2.2 2.2 2.2 -2.2 2.2zM297.8 160.2l2.2 -2.2 2.2 2.2 -2.2 2.2zM300.7 160.2l2.2 -2.2 2.2 2.2 -2.2 2.2zM303.7 160.2l2.2 -2.2 2.2 2.2 -2.2 2.2zM306.6 160.2l2.2 -2.2 2.2 2.2 -2.2 2.2zM309.5 160.2l2.2 -2.2 2.2 2.2 -2.2 2.2zM312.4 160.2l2.2 -2.2 2.2 2.2 -2.2 2.2zM315.4 160.2l2.2 -2.2 2.2 2.2 -2.2 2.2zM320.8 160.2l2.2 -2.2 2.2 2.2 -2.2 2.2zM286.4 167.2l2.2 -2.2 2.2 2.2 -2.2 2.2zM289.4 167.2l2.2 -2.2 2.2 2.2 -2.2 2.2zM292.4 167.2l2.2 -2.2 2.2 2.2 -2.2 2.2zM295.4 167.2l2.2 -2.2 2.2 2.2 -2.2 2.2zM298.5 167.2l2.2 -2.2 2.2 2.2 -2.2 2.2zM301.5 167.2l2.2 -2.2 2.2 2.2 -2.2 2.2zM304.5 167.2l2.2 -2.2 2.2 2.2 -2.2 2.2zM307.5 167.2l2.2 -2.2 2.2 2.2 -2.2 2.2zM310.5 167.2l2.2 -2.2 2.2 2.2 -2.2 2.2zM313.5 167.2l2.2 -2.2 2.2 2.2 -2.2 2.2zM316.5 167.2l2.2 -2.2 2.2 2.2 -2.2 2.2zM300.3 174.3l2.2 -2.2 2.2 2.2 -2.2 2.2zM303.6 174.3l2.2 -2.2 2.2 2.2 -2.2 2.2zM306.8 174.3l2.2 -2.2 2.2 2.2 -2.2 2.2zM310.1 174.3l2.2 -2.2 2.2 2.2 -2.2 2.2zM313.3 174.3l2.2 -2.2 2.2 2.2 -2.2 2.2zM316.5 174.3l2.2 -2.2 2.2 2.2 -2.2 2.2zM286.4 181.3l2.2 -2.2 2.2 2.2 -2.2 2.2zM288.7 181.3l2.2 -2.2 2.2 2.2 -2.2 2.2zM291.0 181.3l2.2 -2.2 2.2 2.2 -2.2 2.2zM293.3 181.3l2.2 -2.2 2.2 2.2 -2.2 2.2zM295.5 181.3l2.2 -2.2 2.2 2.2 -2.2 2.2zM297.8 181.3l2.2 -2.2 2.2 2.2 -2.2 2.2zM300.1 181.3l2.2 -2.2 2.2 2.2 -2.2 2.2zM302.4 181.3l2.2 -2.2 2.2 2.2 -2.2 2.2zM304.7 181.3l2.2 -2.2 2.2 2.2 -2.2 2.2zM309.0 181.3l2.2 -2.2 2.2 2.2 -2.2 2.2zM287.8 188.4l2.2 -2.2 2.2 2.2 -2.2 2.2zM291.0 188.4l2.2 -2.2 2.2 2.2 -2.2 2.2zM294.2 188.4l2.2 -2.2 2.2 2.2 -2.2 2.2zM297.3 188.4l2.2 -2.2 2.2 2.2 -2.2 2.2zM300.5 188.4l2.2 -2.2 2.2 2.2 -2.2 2.2zM303.7 188.4l2.2 -2.2 2.2 2.2 -2.2 2.2zM306.9 188.4l2.2 -2.2 2.2 2.2 -2.2 2.2zM286.4 195.4l2.2 -2.2 2.2 2.2 -2.2 2.2zM296.1 195.4l2.2 -2.2 2.2 2.2 -2.2 2.2zM253.7 202.4l2.2 -2.2 2.2 2.2 -2.2 2.2zM290.7 202.4l2.2 -2.2 2.2 2.2 -2.2 2.2zM293.0 202.4l2.2 -2.2 2.2 2.2 -2.2 2.2zM295.3 202.4l2.2 -2.2 2.2 2.2 -2.2 2.2zM297.6 202.4l2.2 -2.2 2.2 2.2 -2.2 2.2zM299.8 202.4l2.2 -2.2 2.2 2.2 -2.2 2.2zM302.1 202.4l2.2 -2.2 2.2 2.2 -2.2 2.2zM304.4 202.4l2.2 -2.2 2.2 2.2 -2.2 2.2zM306.7 202.4l2.2 -2.2 2.2 2.2 -2.2 2.2zM308.9 202.4l2.2 -2.2 2.2 2.2 -2.2 2.2zM311.2 202.4l2.2 -2.2 2.2 2.2 -2.2 2.2zM284.2 209.5l2.2 -2.2 2.2 2.2 -2.2 2.2zM297.2 209.5l2.2 -2.2 2.2 2.2 -2.2 2.2zM299.3 209.5l2.2 -2.2 2.2 2.2 -2.2 2.2zM301.5 209.5l2.2 -2.2 2.2 2.2 -2.2 2.2zM303.6 209.5l2.2 -2.2 2.2 2.2 -2.2 2.2zM305.8 209.5l2.2 -2.2 2.2 2.2 -2.2 2.2zM307.9 209.5l2.2 -2.2 2.2 2.2 -2.2 2.2zM310.1 209.5l2.2 -2.2 2.2 2.2 -2.2 2.2zM312.3 209.5l2.2 -2.2 2.2 2.2 -2.2 2.2zM314.4 209.5l2.2 -2.2 2.2 2.2 -2.2 2.2zM316.6 209.5l2.2 -2.2 2.2 2.2 -2.2 2.2zM318.7 209.5l2.2 -2.2 2.2 2.2 -2.2 2.2zM287.5 216.5l2.2 -2.2 2.2 2.2 -2.2 2.2zM290.5 216.5l2.2 -2.2 2.2 2.2 -2.2 2.2zM293.6 216.5l2.2 -2.2 2.2 2.2 -2.2 2.2zM296.6 216.5l2.2 -2.2 2.2 2.2 -2.2 2.2zM299.7 216.5l2.2 -2.2 2.2 2.2 -2.2 2.2zM302.7 216.5l2.2 -2.2 2.2 2.2 -2.2 2.2zM305.8 216.5l2.2 -2.2 2.2 2.2 -2.2 2.2zM265.9 223.6l2.2 -2.2 2.2 2.2 -2.2 2.2zM272.5 223.6l2.2 -2.2 2.2 2.2 -2.2 2.2zM286.4 223.6l2.2 -2.2 2.2 2.2 -2.2 2.2zM288.6 223.6l2.2 -2.2 2.2 2.2 -2.2 2.2zM290.7 223.6l2.2 -2.2 2.2 2.2 -2.2 2.2zM292.9 223.6l2.2 -2.2 2.2 2.2 -2.2 2.2zM295.0 223.6l2.2 -2.2 2.2 2.2 -2.2 2.2zM297.2 223.6l2.2 -2.2 2.2 2.2 -2.2 2.2zM299.3 223.6l2.2 -2.2 2.2 2.2 -2.2 2.2zM301.5 223.6l2.2 -2.2 2.2 2.2 -2.2 2.2zM303.6 223.6l2.2 -2.2 2.2 2.2 -2.2 2.2zM305.8 223.6l2.2 -2.2 2.2 2.2 -2.2 2.2zM308.0 223.6l2.2 -2.2 2.2 2.2 -2.2 2.2zM310.1 223.6l2.2 -2.2 2.2 2.2 -2.2 2.2zM319.8 223.6l2.2 -2.2 2.2 2.2 -2.2 2.2zM290.7 230.6l2.2 -2.2 2.2 2.2 -2.2 2.2zM297.2 230.6l2.2 -2.2 2.2 2.2 -2.2 2.2zM315.5 230.6l2.2 -2.2 2.2 2.2 -2.2 2.2zM283.1 237.6l2.2 -2.2 2.2 2.2 -2.2 2.2zM289.7 237.6l2.2 -2.2 2.2 2.2 -2.2 2.2zM296.1 237.6l2.2 -2.2 2.2 2.2 -2.2 2.2zM302.5 237.6l2.2 -2.2 2.2 2.2 -2.2 2.2zM307.9 237.6l2.2 -2.2 2.2 2.2 -2.2 2.2zM296.1 244.7l2.2 -2.2 2.2 2.2 -2.2 2.2zM300.3 244.7l2.2 -2.2 2.2 2.2 -2.2 2.2zM303.6 244.7l2.2 -2.2 2.2 2.2 -2.2 2.2zM319.8 244.7l2.2 -2.2 2.2 2.2 -2.2 2.2zM283.1 251.7l2.2 -2.2 2.2 2.2 -2.2 2.2zM290.7 251.7l2.2 -2.2 2.2 2.2 -2.2 2.2zM300.3 251.7l2.2 -2.2 2.2 2.2 -2.2 2.2zM307.9 251.7l2.2 -2.2 2.2 2.2 -2.2 2.2zM310.0 251.7l2.2 -2.2 2.2 2.2 -2.2 2.2zM312.2 251.7l2.2 -2.2 2.2 2.2 -2.2 2.2zM314.4 251.7l2.2 -2.2 2.2 2.2 -2.2 2.2zM316.5 251.7l2.2 -2.2 2.2 2.2 -2.2 2.2zM321.9 251.7l2.2 -2.2 2.2 2.2 -2.2 2.2zM283.1 258.8l2.2 -2.2 2.2 2.2 -2.2 2.2zM293.9 258.8l2.2 -2.2 2.2 2.2 -2.2 2.2zM296.3 258.8l2.2 -2.2 2.2 2.2 -2.2 2.2zM298.7 258.8l2.2 -2.2 2.2 2.2 -2.2 2.2zM301.0 258.8l2.2 -2.2 2.2 2.2 -2.2 2.2zM303.4 258.8l2.2 -2.2 2.2 2.2 -2.2 2.2zM305.8 258.8l2.2 -2.2 2.2 2.2 -2.2 2.2zM259.5 265.8l2.2 -2.2 2.2 2.2 -2.2 2.2zM281.1 265.8l2.2 -2.2 2.2 2.2 -2.2 2.2zM293.9 265.8l2.2 -2.2 2.2 2.2 -2.2 2.2zM296.1 265.8l2.2 -2.2 2.2 2.2 -2.2 2.2zM298.2 265.8l2.2 -2.2 2.2 2.2 -2.2 2.2zM300.4 265.8l2.2 -2.2 2.2 2.2 -2.2 2.2zM302.5 265.8l2.2 -2.2 2.2 2.2 -2.2 2.2zM304.7 265.8l2.2 -2.2 2.2 2.2 -2.2 2.2zM311.2 265.8l2.2 -2.2 2.2 2.2 -2.2 2.2zM316.5 265.8l2.2 -2.2 2.2 2.2 -2.2 2.2zM265.9 272.8l2.2 -2.2 2.2 2.2 -2.2 2.2zM284.2 272.8l2.2 -2.2 2.2 2.2 -2.2 2.2zM292.8 272.8l2.2 -2.2 2.2 2.2 -2.2 2.2zM295.0 272.8l2.2 -2.2 2.2 2.2 -2.2 2.2zM297.1 272.8l2.2 -2.2 2.2 2.2 -2.2 2.2zM299.3 272.8l2.2 -2.2 2.2 2.2 -2.2 2.2zM301.4 272.8l2.2 -2.2 2.2 2.2 -2.2 2.2zM303.6 272.8l2.2 -2.2 2.2 2.2 -2.2 2.2zM305.7 272.8l2.2 -2.2 2.2 2.2 -2.2 2.2zM307.9 272.8l2.2 -2.2 2.2 2.2 -2.2 2.2zM310.0 272.8l2.2 -2.2 2.2 2.2 -2.2 2.2zM312.2 272.8l2.2 -2.2 2.2 2.2 -2.2 2.2zM316.5 272.8l2.2 -2.2 2.2 2.2 -2.2 2.2zM326.2 272.8l2.2 -2.2 2.2 2.2 -2.2 2.2zM256.3 279.9l2.2 -2.2 2.2 2.2 -2.2 2.2zM273.5 279.9l2.2 -2.2 2.2 2.2 -2.2 2.2zM301.5 279.9l2.2 -2.2 2.2 2.2 -2.2 2.2zM304.0 279.9l2.2 -2.2 2.2 2.2 -2.2 2.2zM306.5 279.9l2.2 -2.2 2.2 2.2 -2.2 2.2zM309.0 279.9l2.2 -2.2 2.2 2.2 -2.2 2.2zM258.4 286.9l2.2 -2.2 2.2 2.2 -2.2 2.2zM292.8 286.9l2.2 -2.2 2.2 2.2 -2.2 2.2zM297.2 286.9l2.2 -2.2 2.2 2.2 -2.2 2.2zM300.3 286.9l2.2 -2.2 2.2 2.2 -2.2 2.2zM304.7 286.9l2.2 -2.2 2.2 2.2 -2.2 2.2zM307.4 286.9l2.2 -2.2 2.2 2.2 -2.2 2.2zM310.1 286.9l2.2 -2.2 2.2 2.2 -2.2 2.2zM269.2 294.0l2.2 -2.2 2.2 2.2 -2.2 2.2zM293.9 294.0l2.2 -2.2 2.2 2.2 -2.2 2.2zM296.1 294.0l2.2 -2.2 2.2 2.2 -2.2 2.2zM298.2 294.0l2.2 -2.2 2.2 2.2 -2.2 2.2zM300.4 294.0l2.2 -2.2 2.2 2.2 -2.2 2.2zM302.5 294.0l2.2 -2.2 2.2 2.2 -2.2 2.2zM307.9 294.0l2.2 -2.2 2.2 2.2 -2.2 2.2zM265.9 301.0l2.2 -2.2 2.2 2.2 -2.2 2.2zM295.0 301.0l2.2 -2.2 2.2 2.2 -2.2 2.2zM302.5 301.0l2.2 -2.2 2.2 2.2 -2.2 2.2zM304.9 301.0l2.2 -2.2 2.2 2.2 -2.2 2.2zM307.4 301.0l2.2 -2.2 2.2 2.2 -2.2 2.2zM309.8 301.0l2.2 -2.2 2.2 2.2 -2.2 2.2zM312.2 301.0l2.2 -2.2 2.2 2.2 -2.2 2.2zM228.7 308.0l2.2 -2.2 2.2 2.2 -2.2 2.2zM265.9 308.0l2.2 -2.2 2.2 2.2 -2.2 2.2zM288.6 308.0l2.2 -2.2 2.2 2.2 -2.2 2.2zM301.5 308.0l2.2 -2.2 2.2 2.2 -2.2 2.2zM303.7 308.0l2.2 -2.2 2.2 2.2 -2.2 2.2zM305.8 308.0l2.2 -2.2 2.2 2.2 -2.2 2.2zM307.9 308.0l2.2 -2.2 2.2 2.2 -2.2 2.2zM310.1 308.0l2.2 -2.2 2.2 2.2 -2.2 2.2zM312.2 308.0l2.2 -2.2 2.2 2.2 -2.2 2.2zM290.7 315.1l2.2 -2.2 2.2 2.2 -2.2 2.2zM292.9 315.1l2.2 -2.2 2.2 2.2 -2.2 2.2zM295.0 315.1l2.2 -2.2 2.2 2.2 -2.2 2.2zM297.2 315.1l2.2 -2.2 2.2 2.2 -2.2 2.2zM299.4 315.1l2.2 -2.2 2.2 2.2 -2.2 2.2zM301.5 315.1l2.2 -2.2 2.2 2.2 -2.2 2.2zM303.7 315.1l2.2 -2.2 2.2 2.2 -2.2 2.2zM305.8 315.1l2.2 -2.2 2.2 2.2 -2.2 2.2zM308.0 315.1l2.2 -2.2 2.2 2.2 -2.2 2.2zM310.1 315.1l2.2 -2.2 2.2 2.2 -2.2 2.2zM318.7 315.1l2.2 -2.2 2.2 2.2 -2.2 2.2zM278.9 322.1l2.2 -2.2 2.2 2.2 -2.2 2.2zM281.2 322.1l2.2 -2.2 2.2 2.2 -2.2 2.2zM283.5 322.1l2.2 -2.2 2.2 2.2 -2.2 2.2zM285.9 322.1l2.2 -2.2 2.2 2.2 -2.2 2.2zM288.2 322.1l2.2 -2.2 2.2 2.2 -2.2 2.2zM290.5 322.1l2.2 -2.2 2.2 2.2 -2.2 2.2zM292.8 322.1l2.2 -2.2 2.2 2.2 -2.2 2.2zM297.2 322.1l2.2 -2.2 2.2 2.2 -2.2 2.2zM299.3 322.1l2.2 -2.2 2.2 2.2 -2.2 2.2zM301.5 322.1l2.2 -2.2 2.2 2.2 -2.2 2.2zM303.6 322.1l2.2 -2.2 2.2 2.2 -2.2 2.2zM305.8 322.1l2.2 -2.2 2.2 2.2 -2.2 2.2zM308.0 322.1l2.2 -2.2 2.2 2.2 -2.2 2.2zM310.1 322.1l2.2 -2.2 2.2 2.2 -2.2 2.2zM296.1 329.2l2.2 -2.2 2.2 2.2 -2.2 2.2zM300.3 329.2l2.2 -2.2 2.2 2.2 -2.2 2.2zM304.7 329.2l2.2 -2.2 2.2 2.2 -2.2 2.2zM309.0 329.2l2.2 -2.2 2.2 2.2 -2.2 2.2zM292.8 336.2l2.2 -2.2 2.2 2.2 -2.2 2.2zM295.0 336.2l2.2 -2.2 2.2 2.2 -2.2 2.2zM297.1 336.2l2.2 -2.2 2.2 2.2 -2.2 2.2zM299.3 336.2l2.2 -2.2 2.2 2.2 -2.2 2.2zM301.4 336.2l2.2 -2.2 2.2 2.2 -2.2 2.2zM303.6 336.2l2.2 -2.2 2.2 2.2 -2.2 2.2zM324.1 336.2l2.2 -2.2 2.2 2.2 -2.2 2.2zM290.3 343.2l2.2 -2.2 2.2 2.2 -2.2 2.2zM293.9 343.2l2.2 -2.2 2.2 2.2 -2.2 2.2zM296.6 343.2l2.2 -2.2 2.2 2.2 -2.2 2.2zM299.3 343.2l2.2 -2.2 2.2 2.2 -2.2 2.2zM304.7 343.2l2.2 -2.2 2.2 2.2 -2.2 2.2zM307.4 343.2l2.2 -2.2 2.2 2.2 -2.2 2.2zM310.1 343.2l2.2 -2.2 2.2 2.2 -2.2 2.2zM322.6 343.2l2.2 -2.2 2.2 2.2 -2.2 2.2zM288.2 350.3l2.2 -2.2 2.2 2.2 -2.2 2.2zM291.8 350.3l2.2 -2.2 2.2 2.2 -2.2 2.2zM295.0 350.3l2.2 -2.2 2.2 2.2 -2.2 2.2zM297.7 350.3l2.2 -2.2 2.2 2.2 -2.2 2.2zM300.3 350.3l2.2 -2.2 2.2 2.2 -2.2 2.2zM240.8 357.3l2.2 -2.2 2.2 2.2 -2.2 2.2zM253.7 357.3l2.2 -2.2 2.2 2.2 -2.2 2.2zM256.0 357.3l2.2 -2.2 2.2 2.2 -2.2 2.2zM258.3 357.3l2.2 -2.2 2.2 2.2 -2.2 2.2zM260.6 357.3l2.2 -2.2 2.2 2.2 -2.2 2.2zM277.8 357.3l2.2 -2.2 2.2 2.2 -2.2 2.2zM280.1 357.3l2.2 -2.2 2.2 2.2 -2.2 2.2zM282.4 357.3l2.2 -2.2 2.2 2.2 -2.2 2.2zM284.7 357.3l2.2 -2.2 2.2 2.2 -2.2 2.2zM287.0 357.3l2.2 -2.2 2.2 2.2 -2.2 2.2zM289.3 357.3l2.2 -2.2 2.2 2.2 -2.2 2.2zM291.6 357.3l2.2 -2.2 2.2 2.2 -2.2 2.2zM293.9 357.3l2.2 -2.2 2.2 2.2 -2.2 2.2zM297.2 357.3l2.2 -2.2 2.2 2.2 -2.2 2.2zM303.2 357.3l2.2 -2.2 2.2 2.2 -2.2 2.2zM290.3 364.4l2.2 -2.2 2.2 2.2 -2.2 2.2zM294.5 364.4l2.2 -2.2 2.2 2.2 -2.2 2.2zM298.8 364.4l2.2 -2.2 2.2 2.2 -2.2 2.2zM303.2 364.4l2.2 -2.2 2.2 2.2 -2.2 2.2zM307.9 364.4l2.2 -2.2 2.2 2.2 -2.2 2.2z" fill="none" stroke="#2aa8e0" stroke-width="1.4" stroke-linejoin="miter"/>
<rect x="225.80" y="149.40" width="108.60" height="224.80" fill="none" stroke="#000" stroke-width="1.25" />
<line x1="223.60" y1="160.20" x2="225.80" y2="160.20" stroke="#111" stroke-width="0.8" />
<text x="221.30" y="162.92" font-size="5.95" font-family='"DejaVu Sans", sans-serif' text-anchor="end" fill="#222">MAP4K4</text>
<line x1="223.60" y1="167.24" x2="225.80" y2="167.24" stroke="#111" stroke-width="0.8" />
<text x="221.30" y="169.96" font-size="5.95" font-family='"DejaVu Sans", sans-serif' text-anchor="end" fill="#222">PEPD</text>
<line x1="223.60" y1="174.28" x2="225.80" y2="174.28" stroke="#111" stroke-width="0.8" />
<text x="221.30" y="177.00" font-size="5.95" font-family='"DejaVu Sans", sans-serif' text-anchor="end" fill="#222">LOC100420587</text>
<line x1="223.60" y1="181.32" x2="225.80" y2="181.32" stroke="#111" stroke-width="0.8" />
<text x="221.30" y="184.04" font-size="5.95" font-family='"DejaVu Sans", sans-serif' text-anchor="end" fill="#222">CECR2</text>
<line x1="223.60" y1="188.36" x2="225.80" y2="188.36" stroke="#111" stroke-width="0.8" />
<text x="221.30" y="191.08" font-size="5.95" font-family='"DejaVu Sans", sans-serif' text-anchor="end" fill="#222">RIPOR3</text>
<line x1="223.60" y1="195.40" x2="225.80" y2="195.40" stroke="#111" stroke-width="0.8" />
<text x="221.30" y="198.12" font-size="5.95" font-family='"DejaVu Sans", sans-serif' text-anchor="end" fill="#222">LYPD6B</text>
<line x1="223.60" y1="202.44" x2="225.80" y2="202.44" stroke="#111" stroke-width="0.8" />
<text x="221.30" y="205.16" font-size="5.95" font-family='"DejaVu Sans", sans-serif' text-anchor="end" fill="#222">MAST4</text>
<line x1="223.60" y1="209.48" x2="225.80" y2="209.48" stroke="#111" stroke-width="0.8" />
<text x="221.30" y="212.20" font-size="5.95" font-family='"DejaVu Sans", sans-serif' text-anchor="end" fill="#222">BCAT1</text>
<line x1="223.60" y1="216.52" x2="225.80" y2="216.52" stroke="#111" stroke-width="0.8" />
<text x="221.30" y="219.24" font-size="5.95" font-family='"DejaVu Sans", sans-serif' text-anchor="end" fill="#222">ARHGEF3</text>
<line x1="223.60" y1="223.56" x2="225.80" y2="223.56" stroke="#111" stroke-width="0.8" />
<text x="221.30" y="226.28" font-size="5.95" font-family='"DejaVu Sans", sans-serif' text-anchor="end" fill="#222">SLC25A26</text>
<line x1="223.60" y1="230.60" x2="225.80" y2="230.60" stroke="#111" stroke-width="0.8" />
<text x="221.30" y="233.32" font-size="5.95" font-family='"DejaVu Sans", sans-serif' text-anchor="end" fill="#222">FOS</text>
<line x1="223.60" y1="237.64" x2="225.80" y2="237.64" stroke="#111" stroke-width="0.8" />
<text x="221.30" y="240.36" font-size="5.95" font-family='"DejaVu Sans", sans-serif' text-anchor="end" fill="#222">KCNE4</text>
<line x1="223.60" y1="244.68" x2="225.80" y2="244.68" stroke="#111" stroke-width="0.8" />
<text x="221.30" y="247.40" font-size="5.95" font-family='"DejaVu Sans", sans-serif' text-anchor="end" fill="#222">SNX25</text>
<line x1="223.60" y1="251.72" x2="225.80" y2="251.72" stroke="#111" stroke-width="0.8" />
<text x="221.30" y="254.44" font-size="5.95" font-family='"DejaVu Sans", sans-serif' text-anchor="end" fill="#222">RORA</text>
<line x1="223.60" y1="258.76" x2="225.80" y2="258.76" stroke="#111" stroke-width="0.8" />
<text x="221.30" y="261.48" font-size="5.95" font-family='"DejaVu Sans", sans-serif' text-anchor="end" fill="#222">LRRC7</text>
<line x1="223.60" y1="265.80" x2="225.80" y2="265.80" stroke="#111" stroke-width="0.8" />
<text x="221.30" y="268.52" font-size="5.95" font-family='"DejaVu Sans", sans-serif' text-anchor="end" fill="#222">EGFEM1P</text>
<line x1="223.60" y1="272.84" x2="225.80" y2="272.84" stroke="#111" stroke-width="0.8" />
<text x="221.30" y="275.56" font-size="5.95" font-family='"DejaVu Sans", sans-serif' text-anchor="end" fill="#222">DAB1</text>
<line x1="223.60" y1="279.88" x2="225.80" y2="279.88" stroke="#111" stroke-width="0.8" />
<text x="221.30" y="282.60" font-size="5.95" font-family='"DejaVu Sans", sans-serif' text-anchor="end" fill="#222">MGAT5</text>
<line x1="223.60" y1="286.92" x2="225.80" y2="286.92" stroke="#111" stroke-width="0.8" />
<text x="221.30" y="289.64" font-size="5.95" font-family='"DejaVu Sans", sans-serif' text-anchor="end" fill="#222">USP7</text>
<line x1="223.60" y1="293.96" x2="225.80" y2="293.96" stroke="#111" stroke-width="0.8" />
<text x="221.30" y="296.68" font-size="5.95" font-family='"DejaVu Sans", sans-serif' text-anchor="end" fill="#222">SOX6</text>
<line x1="223.60" y1="301.00" x2="225.80" y2="301.00" stroke="#111" stroke-width="0.8" />
<text x="221.30" y="303.72" font-size="5.95" font-family='"DejaVu Sans", sans-serif' text-anchor="end" fill="#222">BRSK2</text>
<line x1="223.60" y1="308.04" x2="225.80" y2="308.04" stroke="#111" stroke-width="0.8" />
<text x="221.30" y="310.76" font-size="5.95" font-family='"DejaVu Sans", sans-serif' text-anchor="end" fill="#222">WWTR1</text>
<line x1="223.60" y1="315.08" x2="225.80" y2="315.08" stroke="#111" stroke-width="0.8" />
<text x="221.30" y="317.80" font-size="5.95" font-family='"DejaVu Sans", sans-serif' text-anchor="end" fill="#222">CHD6</text>
<line x1="223.60" y1="322.12" x2="225.80" y2="322.12" stroke="#111" stroke-width="0.8" />
<text x="221.30" y="324.84" font-size="5.95" font-family='"DejaVu Sans", sans-serif' text-anchor="end" fill="#222">CYTH3</text>
<line x1="223.60" y1="329.16" x2="225.80" y2="329.16" stroke="#111" stroke-width="0.8" />
<text x="221.30" y="331.88" font-size="5.95" font-family='"DejaVu Sans", sans-serif' text-anchor="end" fill="#222">IL12RB1</text>
<line x1="223.60" y1="336.20" x2="225.80" y2="336.20" stroke="#111" stroke-width="0.8" />
<text x="221.30" y="338.92" font-size="5.95" font-family='"DejaVu Sans", sans-serif' text-anchor="end" fill="#222">CASC22</text>
<line x1="223.60" y1="343.24" x2="225.80" y2="343.24" stroke="#111" stroke-width="0.8" />
<text x="221.30" y="345.96" font-size="5.95" font-family='"DejaVu Sans", sans-serif' text-anchor="end" fill="#222">SEMA4D</text>
<line x1="223.60" y1="350.28" x2="225.80" y2="350.28" stroke="#111" stroke-width="0.8" />
<text x="221.30" y="353.00" font-size="5.95" font-family='"DejaVu Sans", sans-serif' text-anchor="end" fill="#222">ACOX3</text>
<line x1="223.60" y1="357.32" x2="225.80" y2="357.32" stroke="#111" stroke-width="0.8" />
<text x="221.30" y="360.04" font-size="5.95" font-family='"DejaVu Sans", sans-serif' text-anchor="end" fill="#222">TENM2</text>
<line x1="223.60" y1="364.36" x2="225.80" y2="364.36" stroke="#111" stroke-width="0.8" />
<text x="221.30" y="367.08" font-size="5.95" font-family='"DejaVu Sans", sans-serif' text-anchor="end" fill="#222">PDIA5</text>
<line x1="238.25" y1="374.20" x2="238.25" y2="376.40" stroke="#111" stroke-width="0.8" />
<text x="238.25" y="383.73" font-size="6.4" font-family='"DejaVu Sans", sans-serif' text-anchor="middle" fill="#222">−5</text>
<line x1="280.00" y1="374.20" x2="280.00" y2="376.40" stroke="#111" stroke-width="0.8" />
<text x="280.00" y="383.73" font-size="6.4" font-family='"DejaVu Sans", sans-serif' text-anchor="middle" fill="#222">0</text>
<line x1="321.75" y1="374.20" x2="321.75" y2="376.40" stroke="#111" stroke-width="0.8" />
<text x="321.75" y="383.73" font-size="6.4" font-family='"DejaVu Sans", sans-serif' text-anchor="middle" fill="#222">5</text>
<text x="281.90" y="395.99" font-size="8.2" font-family='"DejaVu Sans", sans-serif' text-anchor="middle" fill="#222">Log fold change</text>
<text x="443.80" y="145.73" font-size="7.65" font-family='"Liberation Sans", Arial, sans-serif' text-anchor="middle" fill="#222">OPC (C8) vs. Rest</text>
<path d="M433.9 160.2l2.2 -2.2 2.2 2.2 -2.2 2.2zM443.3 160.2l2.2 -2.2 2.2 2.2 -2.2 2.2zM445.1 160.2l2.2 -2.2 2.2 2.2 -2.2 2.2zM446.8 160.2l2.2 -2.2 2.2 2.2 -2.2 2.2zM448.6 160.2l2.2 -2.2 2.2 2.2 -2.2 2.2zM493.6 160.2l2.2 -2.2 2.2 2.2 -2.2 2.2zM444.4 167.2l2.2 -2.2 2.2 2.2 -2.2 2.2zM446.0 167.2l2.2 -2.2 2.2 2.2 -2.2 2.2zM447.6 167.2l2.2 -2.2 2.2 2.2 -2.2 2.2zM449.2 167.2l2.2 -2.2 2.2 2.2 -2.2 2.2zM450.8 167.2l2.2 -2.2 2.2 2.2 -2.2 2.2zM452.5 167.2l2.2 -2.2 2.2 2.2 -2.2 2.2zM433.9 174.3l2.2 -2.2 2.2 2.2 -2.2 2.2zM442.0 174.3l2.2 -2.2 2.2 2.2 -2.2 2.2zM445.3 174.3l2.2 -2.2 2.2 2.2 -2.2 2.2zM446.9 174.3l2.2 -2.2 2.2 2.2 -2.2 2.2zM448.5 174.3l2.2 -2.2 2.2 2.2 -2.2 2.2zM450.1 174.3l2.2 -2.2 2.2 2.2 -2.2 2.2zM397.5 181.3l2.2 -2.2 2.2 2.2 -2.2 2.2zM415.5 181.3l2.2 -2.2 2.2 2.2 -2.2 2.2zM431.6 181.3l2.2 -2.2 2.2 2.2 -2.2 2.2zM440.7 181.3l2.2 -2.2 2.2 2.2 -2.2 2.2zM442.3 181.3l2.2 -2.2 2.2 2.2 -2.2 2.2zM443.9 181.3l2.2 -2.2 2.2 2.2 -2.2 2.2zM445.4 181.3l2.2 -2.2 2.2 2.2 -2.2 2.2zM447.0 181.3l2.2 -2.2 2.2 2.2 -2.2 2.2zM448.6 181.3l2.2 -2.2 2.2 2.2 -2.2 2.2zM450.1 181.3l2.2 -2.2 2.2 2.2 -2.2 2.2zM438.6 188.4l2.2 -2.2 2.2 2.2 -2.2 2.2zM443.2 188.4l2.2 -2.2 2.2 2.2 -2.2 2.2zM447.9 195.4l2.2 -2.2 2.2 2.2 -2.2 2.2zM449.3 195.4l2.2 -2.2 2.2 2.2 -2.2 2.2zM450.8 195.4l2.2 -2.2 2.2 2.2 -2.2 2.2zM452.2 195.4l2.2 -2.2 2.2 2.2 -2.2 2.2zM453.6 195.4l2.2 -2.2 2.2 2.2 -2.2 2.2zM455.1 195.4l2.2 -2.2 2.2 2.2 -2.2 2.2zM409.8 202.4l2.2 -2.2 2.2 2.2 -2.2 2.2zM430.5 202.4l2.2 -2.2 2.2 2.2 -2.2 2.2zM432.0 202.4l2.2 -2.2 2.2 2.2 -2.2 2.2zM433.4 202.4l2.2 -2.2 2.2 2.2 -2.2 2.2zM434.9 202.4l2.2 -2.2 2.2 2.2 -2.2 2.2zM436.3 202.4l2.2 -2.2 2.2 2.2 -2.2 2.2zM437.8 202.4l2.2 -2.2 2.2 2.2 -2.2 2.2zM439.2 202.4l2.2 -2.2 2.2 2.2 -2.2 2.2zM440.7 202.4l2.2 -2.2 2.2 2.2 -2.2 2.2zM442.1 202.4l2.2 -2.2 2.2 2.2 -2.2 2.2zM443.6 202.4l2.2 -2.2 2.2 2.2 -2.2 2.2zM445.0 202.4l2.2 -2.2 2.2 2.2 -2.2 2.2zM446.5 202.4l2.2 -2.2 2.2 2.2 -2.2 2.2zM447.9 202.4l2.2 -2.2 2.2 2.2 -2.2 2.2zM483.8 202.4l2.2 -2.2 2.2 2.2 -2.2 2.2zM415.5 209.5l2.2 -2.2 2.2 2.2 -2.2 2.2zM440.7 209.5l2.2 -2.2 2.2 2.2 -2.2 2.2zM442.3 209.5l2.2 -2.2 2.2 2.2 -2.2 2.2zM443.9 209.5l2.2 -2.2 2.2 2.2 -2.2 2.2zM445.4 209.5l2.2 -2.2 2.2 2.2 -2.2 2.2zM447.0 209.5l2.2 -2.2 2.2 2.2 -2.2 2.2zM448.6 209.5l2.2 -2.2 2.2 2.2 -2.2 2.2zM496.8 209.5l2.2 -2.2 2.2 2.2 -2.2 2.2zM444.4 216.5l2.2 -2.2 2.2 2.2 -2.2 2.2zM448.6 216.5l2.2 -2.2 2.2 2.2 -2.2 2.2zM450.3 216.5l2.2 -2.2 2.2 2.2 -2.2 2.2zM452.0 216.5l2.2 -2.2 2.2 2.2 -2.2 2.2zM453.8 216.5l2.2 -2.2 2.2 2.2 -2.2 2.2zM417.9 223.6l2.2 -2.2 2.2 2.2 -2.2 2.2zM427.0 223.6l2.2 -2.2 2.2 2.2 -2.2 2.2zM442.0 223.6l2.2 -2.2 2.2 2.2 -2.2 2.2zM443.6 223.6l2.2 -2.2 2.2 2.2 -2.2 2.2zM445.3 223.6l2.2 -2.2 2.2 2.2 -2.2 2.2zM446.9 223.6l2.2 -2.2 2.2 2.2 -2.2 2.2zM448.5 223.6l2.2 -2.2 2.2 2.2 -2.2 2.2zM450.1 223.6l2.2 -2.2 2.2 2.2 -2.2 2.2zM430.5 230.6l2.2 -2.2 2.2 2.2 -2.2 2.2zM435.1 230.6l2.2 -2.2 2.2 2.2 -2.2 2.2zM439.8 230.6l2.2 -2.2 2.2 2.2 -2.2 2.2zM443.3 230.6l2.2 -2.2 2.2 2.2 -2.2 2.2zM444.7 230.6l2.2 -2.2 2.2 2.2 -2.2 2.2zM446.0 230.6l2.2 -2.2 2.2 2.2 -2.2 2.2zM447.4 230.6l2.2 -2.2 2.2 2.2 -2.2 2.2zM448.8 230.6l2.2 -2.2 2.2 2.2 -2.2 2.2zM450.1 230.6l2.2 -2.2 2.2 2.2 -2.2 2.2zM426.0 237.6l2.2 -2.2 2.2 2.2 -2.2 2.2zM432.2 237.6l2.2 -2.2 2.2 2.2 -2.2 2.2zM433.8 237.6l2.2 -2.2 2.2 2.2 -2.2 2.2zM435.3 237.6l2.2 -2.2 2.2 2.2 -2.2 2.2zM436.8 237.6l2.2 -2.2 2.2 2.2 -2.2 2.2zM438.3 237.6l2.2 -2.2 2.2 2.2 -2.2 2.2zM439.9 237.6l2.2 -2.2 2.2 2.2 -2.2 2.2zM441.4 237.6l2.2 -2.2 2.2 2.2 -2.2 2.2zM442.9 237.6l2.2 -2.2 2.2 2.2 -2.2 2.2zM444.4 237.6l2.2 -2.2 2.2 2.2 -2.2 2.2zM445.9 237.6l2.2 -2.2 2.2 2.2 -2.2 2.2zM447.5 237.6l2.2 -2.2 2.2 2.2 -2.2 2.2zM449.0 237.6l2.2 -2.2 2.2 2.2 -2.2 2.2zM450.5 237.6l2.2 -2.2 2.2 2.2 -2.2 2.2zM452.0 237.6l2.2 -2.2 2.2 2.2 -2.2 2.2zM453.6 237.6l2.2 -2.2 2.2 2.2 -2.2 2.2zM455.1 237.6l2.2 -2.2 2.2 2.2 -2.2 2.2zM430.5 244.7l2.2 -2.2 2.2 2.2 -2.2 2.2zM432.1 244.7l2.2 -2.2 2.2 2.2 -2.2 2.2zM433.6 244.7l2.2 -2.2 2.2 2.2 -2.2 2.2zM435.2 244.7l2.2 -2.2 2.2 2.2 -2.2 2.2zM436.7 244.7l2.2 -2.2 2.2 2.2 -2.2 2.2zM438.3 244.7l2.2 -2.2 2.2 2.2 -2.2 2.2zM439.8 244.7l2.2 -2.2 2.2 2.2 -2.2 2.2zM441.4 244.7l2.2 -2.2 2.2 2.2 -2.2 2.2zM442.9 244.7l2.2 -2.2 2.2 2.2 -2.2 2.2zM444.4 244.7l2.2 -2.2 2.2 2.2 -2.2 2.2zM446.0 244.7l2.2 -2.2 2.2 2.2 -2.2 2.2zM447.5 244.7l2.2 -2.2 2.2 2.2 -2.2 2.2zM449.1 244.7l2.2 -2.2 2.2 2.2 -2.2 2.2zM429.9 251.7l2.2 -2.2 2.2 2.2 -2.2 2.2zM435.1 251.7l2.2 -2.2 2.2 2.2 -2.2 2.2zM436.6 251.7l2.2 -2.2 2.2 2.2 -2.2 2.2zM438.0 251.7l2.2 -2.2 2.2 2.2 -2.2 2.2zM439.5 251.7l2.2 -2.2 2.2 2.2 -2.2 2.2zM440.9 251.7l2.2 -2.2 2.2 2.2 -2.2 2.2zM442.4 251.7l2.2 -2.2 2.2 2.2 -2.2 2.2zM443.9 251.7l2.2 -2.2 2.2 2.2 -2.2 2.2zM445.3 251.7l2.2 -2.2 2.2 2.2 -2.2 2.2zM446.8 251.7l2.2 -2.2 2.2 2.2 -2.2 2.2zM448.2 251.7l2.2 -2.2 2.2 2.2 -2.2 2.2zM449.7 251.7l2.2 -2.2 2.2 2.2 -2.2 2.2zM451.2 251.7l2.2 -2.2 2.2 2.2 -2.2 2.2zM430.5 258.8l2.2 -2.2 2.2 2.2 -2.2 2.2zM439.8 258.8l2.2 -2.2 2.2 2.2 -2.2 2.2zM441.2 258.8l2.2 -2.2 2.2 2.2 -2.2 2.2zM442.7 258.8l2.2 -2.2 2.2 2.2 -2.2 2.2zM444.1 258.8l2.2 -2.2 2.2 2.2 -2.2 2.2zM445.5 258.8l2.2 -2.2 2.2 2.2 -2.2 2.2zM447.0 258.8l2.2 -2.2 2.2 2.2 -2.2 2.2zM448.4 258.8l2.2 -2.2 2.2 2.2 -2.2 2.2zM449.9 258.8l2.2 -2.2 2.2 2.2 -2.2 2.2zM412.0 265.8l2.2 -2.2 2.2 2.2 -2.2 2.2zM416.7 265.8l2.2 -2.2 2.2 2.2 -2.2 2.2zM427.0 265.8l2.2 -2.2 2.2 2.2 -2.2 2.2zM430.5 265.8l2.2 -2.2 2.2 2.2 -2.2 2.2zM441.0 265.8l2.2 -2.2 2.2 2.2 -2.2 2.2zM442.4 265.8l2.2 -2.2 2.2 2.2 -2.2 2.2zM443.9 265.8l2.2 -2.2 2.2 2.2 -2.2 2.2zM445.3 265.8l2.2 -2.2 2.2 2.2 -2.2 2.2zM446.8 265.8l2.2 -2.2 2.2 2.2 -2.2 2.2zM448.3 265.8l2.2 -2.2 2.2 2.2 -2.2 2.2zM449.7 265.8l2.2 -2.2 2.2 2.2 -2.2 2.2zM451.2 265.8l2.2 -2.2 2.2 2.2 -2.2 2.2zM413.2 272.8l2.2 -2.2 2.2 2.2 -2.2 2.2zM422.4 272.8l2.2 -2.2 2.2 2.2 -2.2 2.2zM433.9 272.8l2.2 -2.2 2.2 2.2 -2.2 2.2zM435.4 272.8l2.2 -2.2 2.2 2.2 -2.2 2.2zM437.0 272.8l2.2 -2.2 2.2 2.2 -2.2 2.2zM438.5 272.8l2.2 -2.2 2.2 2.2 -2.2 2.2zM440.0 272.8l2.2 -2.2 2.2 2.2 -2.2 2.2zM441.5 272.8l2.2 -2.2 2.2 2.2 -2.2 2.2zM443.0 272.8l2.2 -2.2 2.2 2.2 -2.2 2.2zM444.5 272.8l2.2 -2.2 2.2 2.2 -2.2 2.2zM446.0 272.8l2.2 -2.2 2.2 2.2 -2.2 2.2zM447.6 272.8l2.2 -2.2 2.2 2.2 -2.2 2.2zM449.1 272.8l2.2 -2.2 2.2 2.2 -2.2 2.2zM393.6 279.9l2.2 -2.2 2.2 2.2 -2.2 2.2zM416.7 279.9l2.2 -2.2 2.2 2.2 -2.2 2.2zM441.0 279.9l2.2 -2.2 2.2 2.2 -2.2 2.2zM442.6 279.9l2.2 -2.2 2.2 2.2 -2.2 2.2zM444.2 279.9l2.2 -2.2 2.2 2.2 -2.2 2.2zM445.8 279.9l2.2 -2.2 2.2 2.2 -2.2 2.2zM447.5 279.9l2.2 -2.2 2.2 2.2 -2.2 2.2zM449.1 279.9l2.2 -2.2 2.2 2.2 -2.2 2.2zM431.7 286.9l2.2 -2.2 2.2 2.2 -2.2 2.2zM433.2 286.9l2.2 -2.2 2.2 2.2 -2.2 2.2zM434.6 286.9l2.2 -2.2 2.2 2.2 -2.2 2.2zM436.1 286.9l2.2 -2.2 2.2 2.2 -2.2 2.2zM437.5 286.9l2.2 -2.2 2.2 2.2 -2.2 2.2zM438.9 286.9l2.2 -2.2 2.2 2.2 -2.2 2.2zM440.4 286.9l2.2 -2.2 2.2 2.2 -2.2 2.2zM441.8 286.9l2.2 -2.2 2.2 2.2 -2.2 2.2zM443.3 286.9l2.2 -2.2 2.2 2.2 -2.2 2.2zM444.7 286.9l2.2 -2.2 2.2 2.2 -2.2 2.2zM446.2 286.9l2.2 -2.2 2.2 2.2 -2.2 2.2zM447.6 286.9l2.2 -2.2 2.2 2.2 -2.2 2.2zM449.1 286.9l2.2 -2.2 2.2 2.2 -2.2 2.2zM439.8 294.0l2.2 -2.2 2.2 2.2 -2.2 2.2zM442.0 294.0l2.2 -2.2 2.2 2.2 -2.2 2.2zM443.6 294.0l2.2 -2.2 2.2 2.2 -2.2 2.2zM445.2 294.0l2.2 -2.2 2.2 2.2 -2.2 2.2zM446.7 294.0l2.2 -2.2 2.2 2.2 -2.2 2.2zM448.3 294.0l2.2 -2.2 2.2 2.2 -2.2 2.2zM449.9 294.0l2.2 -2.2 2.2 2.2 -2.2 2.2zM489.4 294.0l2.2 -2.2 2.2 2.2 -2.2 2.2zM426.0 301.0l2.2 -2.2 2.2 2.2 -2.2 2.2zM430.5 301.0l2.2 -2.2 2.2 2.2 -2.2 2.2zM432.0 301.0l2.2 -2.2 2.2 2.2 -2.2 2.2zM433.5 301.0l2.2 -2.2 2.2 2.2 -2.2 2.2zM435.0 301.0l2.2 -2.2 2.2 2.2 -2.2 2.2zM436.5 301.0l2.2 -2.2 2.2 2.2 -2.2 2.2zM438.0 301.0l2.2 -2.2 2.2 2.2 -2.2 2.2zM439.5 301.0l2.2 -2.2 2.2 2.2 -2.2 2.2zM440.9 301.0l2.2 -2.2 2.2 2.2 -2.2 2.2zM442.4 301.0l2.2 -2.2 2.2 2.2 -2.2 2.2zM443.9 301.0l2.2 -2.2 2.2 2.2 -2.2 2.2zM445.4 301.0l2.2 -2.2 2.2 2.2 -2.2 2.2zM446.9 301.0l2.2 -2.2 2.2 2.2 -2.2 2.2zM448.4 301.0l2.2 -2.2 2.2 2.2 -2.2 2.2zM449.9 301.0l2.2 -2.2 2.2 2.2 -2.2 2.2zM477.9 301.0l2.2 -2.2 2.2 2.2 -2.2 2.2zM414.4 308.0l2.2 -2.2 2.2 2.2 -2.2 2.2zM432.9 308.0l2.2 -2.2 2.2 2.2 -2.2 2.2zM439.8 308.0l2.2 -2.2 2.2 2.2 -2.2 2.2zM441.2 308.0l2.2 -2.2 2.2 2.2 -2.2 2.2zM442.7 308.0l2.2 -2.2 2.2 2.2 -2.2 2.2zM444.1 308.0l2.2 -2.2 2.2 2.2 -2.2 2.2zM445.5 308.0l2.2 -2.2 2.2 2.2 -2.2 2.2zM447.0 308.0l2.2 -2.2 2.2 2.2 -2.2 2.2zM448.4 308.0l2.2 -2.2 2.2 2.2 -2.2 2.2zM449.9 308.0l2.2 -2.2 2.2 2.2 -2.2 2.2zM406.8 315.1l2.2 -2.2 2.2 2.2 -2.2 2.2zM432.9 315.1l2.2 -2.2 2.2 2.2 -2.2 2.2zM434.3 315.1l2.2 -2.2 2.2 2.2 -2.2 2.2zM435.7 315.1l2.2 -2.2 2.2 2.2 -2.2 2.2zM437.0 315.1l2.2 -2.2 2.2 2.2 -2.2 2.2zM438.4 315.1l2.2 -2.2 2.2 2.2 -2.2 2.2zM439.8 315.1l2.2 -2.2 2.2 2.2 -2.2 2.2zM469.4 315.1l2.2 -2.2 2.2 2.2 -2.2 2.2zM489.4 315.1l2.2 -2.2 2.2 2.2 -2.2 2.2zM412.0 322.1l2.2 -2.2 2.2 2.2 -2.2 2.2zM429.9 322.1l2.2 -2.2 2.2 2.2 -2.2 2.2zM435.1 322.1l2.2 -2.2 2.2 2.2 -2.2 2.2zM436.6 322.1l2.2 -2.2 2.2 2.2 -2.2 2.2zM438.1 322.1l2.2 -2.2 2.2 2.2 -2.2 2.2zM439.6 322.1l2.2 -2.2 2.2 2.2 -2.2 2.2zM441.1 322.1l2.2 -2.2 2.2 2.2 -2.2 2.2zM442.6 322.1l2.2 -2.2 2.2 2.2 -2.2 2.2zM444.1 322.1l2.2 -2.2 2.2 2.2 -2.2 2.2zM445.5 322.1l2.2 -2.2 2.2 2.2 -2.2 2.2zM423.8 329.2l2.2 -2.2 2.2 2.2 -2.2 2.2zM425.2 329.2l2.2 -2.2 2.2 2.2 -2.2 2.2zM426.7 329.2l2.2 -2.2 2.2 2.2 -2.2 2.2zM428.2 329.2l2.2 -2.2 2.2 2.2 -2.2 2.2zM442.0 329.2l2.2 -2.2 2.2 2.2 -2.2 2.2zM443.6 329.2l2.2 -2.2 2.2 2.2 -2.2 2.2zM445.2 329.2l2.2 -2.2 2.2 2.2 -2.2 2.2zM446.7 329.2l2.2 -2.2 2.2 2.2 -2.2 2.2zM448.3 329.2l2.2 -2.2 2.2 2.2 -2.2 2.2zM449.9 329.2l2.2 -2.2 2.2 2.2 -2.2 2.2zM398.2 336.2l2.2 -2.2 2.2 2.2 -2.2 2.2zM428.2 336.2l2.2 -2.2 2.2 2.2 -2.2 2.2zM433.9 336.2l2.2 -2.2 2.2 2.2 -2.2 2.2zM442.0 336.2l2.2 -2.2 2.2 2.2 -2.2 2.2zM443.4 336.2l2.2 -2.2 2.2 2.2 -2.2 2.2zM444.8 336.2l2.2 -2.2 2.2 2.2 -2.2 2.2zM446.3 336.2l2.2 -2.2 2.2 2.2 -2.2 2.2zM447.7 336.2l2.2 -2.2 2.2 2.2 -2.2 2.2zM449.1 336.2l2.2 -2.2 2.2 2.2 -2.2 2.2zM405.1 343.2l2.2 -2.2 2.2 2.2 -2.2 2.2zM426.0 343.2l2.2 -2.2 2.2 2.2 -2.2 2.2zM439.8 343.2l2.2 -2.2 2.2 2.2 -2.2 2.2zM441.4 343.2l2.2 -2.2 2.2 2.2 -2.2 2.2zM442.9 343.2l2.2 -2.2 2.2 2.2 -2.2 2.2zM444.4 343.2l2.2 -2.2 2.2 2.2 -2.2 2.2zM446.0 343.2l2.2 -2.2 2.2 2.2 -2.2 2.2zM447.5 343.2l2.2 -2.2 2.2 2.2 -2.2 2.2zM449.1 343.2l2.2 -2.2 2.2 2.2 -2.2 2.2zM435.1 350.3l2.2 -2.2 2.2 2.2 -2.2 2.2zM443.3 350.3l2.2 -2.2 2.2 2.2 -2.2 2.2zM444.8 350.3l2.2 -2.2 2.2 2.2 -2.2 2.2zM446.2 350.3l2.2 -2.2 2.2 2.2 -2.2 2.2zM447.6 350.3l2.2 -2.2 2.2 2.2 -2.2 2.2zM449.1 350.3l2.2 -2.2 2.2 2.2 -2.2 2.2zM450.5 350.3l2.2 -2.2 2.2 2.2 -2.2 2.2zM451.9 350.3l2.2 -2.2 2.2 2.2 -2.2 2.2zM453.4 350.3l2.2 -2.2 2.2 2.2 -2.2 2.2zM454.8 350.3l2.2 -2.2 2.2 2.2 -2.2 2.2zM401.7 357.3l2.2 -2.2 2.2 2.2 -2.2 2.2zM422.4 357.3l2.2 -2.2 2.2 2.2 -2.2 2.2zM423.9 357.3l2.2 -2.2 2.2 2.2 -2.2 2.2zM425.4 357.3l2.2 -2.2 2.2 2.2 -2.2 2.2zM426.9 357.3l2.2 -2.2 2.2 2.2 -2.2 2.2zM428.4 357.3l2.2 -2.2 2.2 2.2 -2.2 2.2zM429.9 357.3l2.2 -2.2 2.2 2.2 -2.2 2.2zM431.4 357.3l2.2 -2.2 2.2 2.2 -2.2 2.2zM432.9 357.3l2.2 -2.2 2.2 2.2 -2.2 2.2zM434.4 357.3l2.2 -2.2 2.2 2.2 -2.2 2.2zM435.9 357.3l2.2 -2.2 2.2 2.2 -2.2 2.2zM437.4 357.3l2.2 -2.2 2.2 2.2 -2.2 2.2zM438.9 357.3l2.2 -2.2 2.2 2.2 -2.2 2.2zM440.4 357.3l2.2 -2.2 2.2 2.2 -2.2 2.2zM441.9 357.3l2.2 -2.2 2.2 2.2 -2.2 2.2zM443.4 357.3l2.2 -2.2 2.2 2.2 -2.2 2.2zM444.9 357.3l2.2 -2.2 2.2 2.2 -2.2 2.2zM446.4 357.3l2.2 -2.2 2.2 2.2 -2.2 2.2zM447.9 357.3l2.2 -2.2 2.2 2.2 -2.2 2.2zM502.1 357.3l2.2 -2.2 2.2 2.2 -2.2 2.2zM429.4 364.4l2.2 -2.2 2.2 2.2 -2.2 2.2zM435.1 364.4l2.2 -2.2 2.2 2.2 -2.2 2.2zM443.3 364.4l2.2 -2.2 2.2 2.2 -2.2 2.2zM445.0 364.4l2.2 -2.2 2.2 2.2 -2.2 2.2zM446.6 364.4l2.2 -2.2 2.2 2.2 -2.2 2.2zM448.2 364.4l2.2 -2.2 2.2 2.2 -2.2 2.2zM449.9 364.4l2.2 -2.2 2.2 2.2 -2.2 2.2zM471.0 364.4l2.2 -2.2 2.2 2.2 -2.2 2.2z" fill="none" stroke="#c3c3c3" stroke-width="1.4" stroke-linejoin="miter"/>
<line x1="450.75" y1="150.40" x2="450.75" y2="372.80" stroke="#808080" stroke-width="1.7" stroke-dasharray="4.5,2"/>
<path d="M439.8 160.2l2.2 -2.2 2.2 2.2 -2.2 2.2zM447.9 160.2l2.2 -2.2 2.2 2.2 -2.2 2.2zM450.0 160.2l2.2 -2.2 2.2 2.2 -2.2 2.2zM452.2 160.2l2.2 -2.2 2.2 2.2 -2.2 2.2zM454.3 160.2l2.2 -2.2 2.2 2.2 -2.2 2.2zM456.4 160.2l2.2 -2.2 2.2 2.2 -2.2 2.2zM458.5 160.2l2.2 -2.2 2.2 2.2 -2.2 2.2zM460.7 160.2l2.2 -2.2 2.2 2.2 -2.2 2.2zM462.8 160.2l2.2 -2.2 2.2 2.2 -2.2 2.2zM464.9 160.2l2.2 -2.2 2.2 2.2 -2.2 2.2zM467.1 160.2l2.2 -2.2 2.2 2.2 -2.2 2.2zM469.2 160.2l2.2 -2.2 2.2 2.2 -2.2 2.2zM471.3 160.2l2.2 -2.2 2.2 2.2 -2.2 2.2zM473.4 160.2l2.2 -2.2 2.2 2.2 -2.2 2.2zM475.6 160.2l2.2 -2.2 2.2 2.2 -2.2 2.2zM480.7 160.2l2.2 -2.2 2.2 2.2 -2.2 2.2zM452.5 167.2l2.2 -2.2 2.2 2.2 -2.2 2.2zM454.7 167.2l2.2 -2.2 2.2 2.2 -2.2 2.2zM456.8 167.2l2.2 -2.2 2.2 2.2 -2.2 2.2zM459.0 167.2l2.2 -2.2 2.2 2.2 -2.2 2.2zM461.2 167.2l2.2 -2.2 2.2 2.2 -2.2 2.2zM463.4 167.2l2.2 -2.2 2.2 2.2 -2.2 2.2zM465.6 167.2l2.2 -2.2 2.2 2.2 -2.2 2.2zM467.8 167.2l2.2 -2.2 2.2 2.2 -2.2 2.2zM470.0 167.2l2.2 -2.2 2.2 2.2 -2.2 2.2zM472.2 167.2l2.2 -2.2 2.2 2.2 -2.2 2.2zM474.4 167.2l2.2 -2.2 2.2 2.2 -2.2 2.2zM483.7 167.2l2.2 -2.2 2.2 2.2 -2.2 2.2zM488.2 167.2l2.2 -2.2 2.2 2.2 -2.2 2.2zM492.9 167.2l2.2 -2.2 2.2 2.2 -2.2 2.2zM500.5 167.2l2.2 -2.2 2.2 2.2 -2.2 2.2zM450.1 174.3l2.2 -2.2 2.2 2.2 -2.2 2.2zM452.2 174.3l2.2 -2.2 2.2 2.2 -2.2 2.2zM454.4 174.3l2.2 -2.2 2.2 2.2 -2.2 2.2zM456.5 174.3l2.2 -2.2 2.2 2.2 -2.2 2.2zM458.6 174.3l2.2 -2.2 2.2 2.2 -2.2 2.2zM460.7 174.3l2.2 -2.2 2.2 2.2 -2.2 2.2zM462.8 174.3l2.2 -2.2 2.2 2.2 -2.2 2.2zM465.0 174.3l2.2 -2.2 2.2 2.2 -2.2 2.2zM467.1 174.3l2.2 -2.2 2.2 2.2 -2.2 2.2zM469.2 174.3l2.2 -2.2 2.2 2.2 -2.2 2.2zM471.3 174.3l2.2 -2.2 2.2 2.2 -2.2 2.2zM473.4 174.3l2.2 -2.2 2.2 2.2 -2.2 2.2zM475.6 174.3l2.2 -2.2 2.2 2.2 -2.2 2.2zM479.7 174.3l2.2 -2.2 2.2 2.2 -2.2 2.2zM487.6 174.3l2.2 -2.2 2.2 2.2 -2.2 2.2zM419.7 181.3l2.2 -2.2 2.2 2.2 -2.2 2.2zM436.3 181.3l2.2 -2.2 2.2 2.2 -2.2 2.2zM450.1 181.3l2.2 -2.2 2.2 2.2 -2.2 2.2zM452.4 181.3l2.2 -2.2 2.2 2.2 -2.2 2.2zM454.7 181.3l2.2 -2.2 2.2 2.2 -2.2 2.2zM457.0 181.3l2.2 -2.2 2.2 2.2 -2.2 2.2zM459.4 181.3l2.2 -2.2 2.2 2.2 -2.2 2.2zM461.7 181.3l2.2 -2.2 2.2 2.2 -2.2 2.2zM464.0 181.3l2.2 -2.2 2.2 2.2 -2.2 2.2zM466.3 181.3l2.2 -2.2 2.2 2.2 -2.2 2.2zM468.6 181.3l2.2 -2.2 2.2 2.2 -2.2 2.2zM470.9 181.3l2.2 -2.2 2.2 2.2 -2.2 2.2zM473.2 181.3l2.2 -2.2 2.2 2.2 -2.2 2.2zM479.1 181.3l2.2 -2.2 2.2 2.2 -2.2 2.2zM484.8 181.3l2.2 -2.2 2.2 2.2 -2.2 2.2zM498.1 181.3l2.2 -2.2 2.2 2.2 -2.2 2.2zM449.1 188.4l2.2 -2.2 2.2 2.2 -2.2 2.2zM451.3 188.4l2.2 -2.2 2.2 2.2 -2.2 2.2zM453.5 188.4l2.2 -2.2 2.2 2.2 -2.2 2.2zM455.7 188.4l2.2 -2.2 2.2 2.2 -2.2 2.2zM457.9 188.4l2.2 -2.2 2.2 2.2 -2.2 2.2zM460.0 188.4l2.2 -2.2 2.2 2.2 -2.2 2.2zM462.2 188.4l2.2 -2.2 2.2 2.2 -2.2 2.2zM464.4 188.4l2.2 -2.2 2.2 2.2 -2.2 2.2zM466.6 188.4l2.2 -2.2 2.2 2.2 -2.2 2.2zM468.8 188.4l2.2 -2.2 2.2 2.2 -2.2 2.2zM471.0 188.4l2.2 -2.2 2.2 2.2 -2.2 2.2zM473.2 188.4l2.2 -2.2 2.2 2.2 -2.2 2.2zM480.1 188.4l2.2 -2.2 2.2 2.2 -2.2 2.2zM487.2 188.4l2.2 -2.2 2.2 2.2 -2.2 2.2zM492.9 188.4l2.2 -2.2 2.2 2.2 -2.2 2.2zM457.0 195.4l2.2 -2.2 2.2 2.2 -2.2 2.2zM462.9 195.4l2.2 -2.2 2.2 2.2 -2.2 2.2zM467.5 195.4l2.2 -2.2 2.2 2.2 -2.2 2.2zM472.0 195.4l2.2 -2.2 2.2 2.2 -2.2 2.2zM474.4 195.4l2.2 -2.2 2.2 2.2 -2.2 2.2zM476.7 195.4l2.2 -2.2 2.2 2.2 -2.2 2.2zM479.0 195.4l2.2 -2.2 2.2 2.2 -2.2 2.2zM481.3 195.4l2.2 -2.2 2.2 2.2 -2.2 2.2zM483.6 195.4l2.2 -2.2 2.2 2.2 -2.2 2.2zM485.9 195.4l2.2 -2.2 2.2 2.2 -2.2 2.2zM488.2 195.4l2.2 -2.2 2.2 2.2 -2.2 2.2zM416.7 202.4l2.2 -2.2 2.2 2.2 -2.2 2.2zM423.0 202.4l2.2 -2.2 2.2 2.2 -2.2 2.2zM449.1 202.4l2.2 -2.2 2.2 2.2 -2.2 2.2zM451.3 202.4l2.2 -2.2 2.2 2.2 -2.2 2.2zM453.5 202.4l2.2 -2.2 2.2 2.2 -2.2 2.2zM455.7 202.4l2.2 -2.2 2.2 2.2 -2.2 2.2zM457.9 202.4l2.2 -2.2 2.2 2.2 -2.2 2.2zM460.2 202.4l2.2 -2.2 2.2 2.2 -2.2 2.2zM462.4 202.4l2.2 -2.2 2.2 2.2 -2.2 2.2zM464.6 202.4l2.2 -2.2 2.2 2.2 -2.2 2.2zM466.8 202.4l2.2 -2.2 2.2 2.2 -2.2 2.2zM469.0 202.4l2.2 -2.2 2.2 2.2 -2.2 2.2zM471.3 202.4l2.2 -2.2 2.2 2.2 -2.2 2.2zM473.5 202.4l2.2 -2.2 2.2 2.2 -2.2 2.2zM475.7 202.4l2.2 -2.2 2.2 2.2 -2.2 2.2zM477.9 202.4l2.2 -2.2 2.2 2.2 -2.2 2.2zM489.4 202.4l2.2 -2.2 2.2 2.2 -2.2 2.2zM494.1 202.4l2.2 -2.2 2.2 2.2 -2.2 2.2zM406.3 209.5l2.2 -2.2 2.2 2.2 -2.2 2.2zM424.8 209.5l2.2 -2.2 2.2 2.2 -2.2 2.2zM426.9 209.5l2.2 -2.2 2.2 2.2 -2.2 2.2zM429.1 209.5l2.2 -2.2 2.2 2.2 -2.2 2.2zM431.2 209.5l2.2 -2.2 2.2 2.2 -2.2 2.2zM433.4 209.5l2.2 -2.2 2.2 2.2 -2.2 2.2zM435.5 209.5l2.2 -2.2 2.2 2.2 -2.2 2.2zM437.7 209.5l2.2 -2.2 2.2 2.2 -2.2 2.2zM439.8 209.5l2.2 -2.2 2.2 2.2 -2.2 2.2zM449.1 209.5l2.2 -2.2 2.2 2.2 -2.2 2.2zM451.2 209.5l2.2 -2.2 2.2 2.2 -2.2 2.2zM453.3 209.5l2.2 -2.2 2.2 2.2 -2.2 2.2zM455.5 209.5l2.2 -2.2 2.2 2.2 -2.2 2.2zM457.6 209.5l2.2 -2.2 2.2 2.2 -2.2 2.2zM459.7 209.5l2.2 -2.2 2.2 2.2 -2.2 2.2zM461.8 209.5l2.2 -2.2 2.2 2.2 -2.2 2.2zM464.0 209.5l2.2 -2.2 2.2 2.2 -2.2 2.2zM466.1 209.5l2.2 -2.2 2.2 2.2 -2.2 2.2zM468.2 209.5l2.2 -2.2 2.2 2.2 -2.2 2.2zM470.4 209.5l2.2 -2.2 2.2 2.2 -2.2 2.2zM472.5 209.5l2.2 -2.2 2.2 2.2 -2.2 2.2zM474.6 209.5l2.2 -2.2 2.2 2.2 -2.2 2.2zM476.7 209.5l2.2 -2.2 2.2 2.2 -2.2 2.2zM481.3 209.5l2.2 -2.2 2.2 2.2 -2.2 2.2zM490.6 209.5l2.2 -2.2 2.2 2.2 -2.2 2.2zM454.8 216.5l2.2 -2.2 2.2 2.2 -2.2 2.2zM457.0 216.5l2.2 -2.2 2.2 2.2 -2.2 2.2zM459.2 216.5l2.2 -2.2 2.2 2.2 -2.2 2.2zM461.3 216.5l2.2 -2.2 2.2 2.2 -2.2 2.2zM463.5 216.5l2.2 -2.2 2.2 2.2 -2.2 2.2zM465.7 216.5l2.2 -2.2 2.2 2.2 -2.2 2.2zM467.9 216.5l2.2 -2.2 2.2 2.2 -2.2 2.2zM470.0 216.5l2.2 -2.2 2.2 2.2 -2.2 2.2zM472.2 216.5l2.2 -2.2 2.2 2.2 -2.2 2.2zM474.4 216.5l2.2 -2.2 2.2 2.2 -2.2 2.2zM483.7 216.5l2.2 -2.2 2.2 2.2 -2.2 2.2zM435.9 223.6l2.2 -2.2 2.2 2.2 -2.2 2.2zM451.3 223.6l2.2 -2.2 2.2 2.2 -2.2 2.2zM453.4 223.6l2.2 -2.2 2.2 2.2 -2.2 2.2zM455.6 223.6l2.2 -2.2 2.2 2.2 -2.2 2.2zM457.7 223.6l2.2 -2.2 2.2 2.2 -2.2 2.2zM459.8 223.6l2.2 -2.2 2.2 2.2 -2.2 2.2zM462.0 223.6l2.2 -2.2 2.2 2.2 -2.2 2.2zM464.1 223.6l2.2 -2.2 2.2 2.2 -2.2 2.2zM466.3 223.6l2.2 -2.2 2.2 2.2 -2.2 2.2zM468.4 223.6l2.2 -2.2 2.2 2.2 -2.2 2.2zM470.5 223.6l2.2 -2.2 2.2 2.2 -2.2 2.2zM472.7 223.6l2.2 -2.2 2.2 2.2 -2.2 2.2zM474.8 223.6l2.2 -2.2 2.2 2.2 -2.2 2.2zM476.9 223.6l2.2 -2.2 2.2 2.2 -2.2 2.2zM479.1 223.6l2.2 -2.2 2.2 2.2 -2.2 2.2zM484.8 223.6l2.2 -2.2 2.2 2.2 -2.2 2.2zM424.8 230.6l2.2 -2.2 2.2 2.2 -2.2 2.2zM450.1 230.6l2.2 -2.2 2.2 2.2 -2.2 2.2zM452.3 230.6l2.2 -2.2 2.2 2.2 -2.2 2.2zM454.6 230.6l2.2 -2.2 2.2 2.2 -2.2 2.2zM456.8 230.6l2.2 -2.2 2.2 2.2 -2.2 2.2zM459.0 230.6l2.2 -2.2 2.2 2.2 -2.2 2.2zM461.3 230.6l2.2 -2.2 2.2 2.2 -2.2 2.2zM463.5 230.6l2.2 -2.2 2.2 2.2 -2.2 2.2zM465.7 230.6l2.2 -2.2 2.2 2.2 -2.2 2.2zM467.9 230.6l2.2 -2.2 2.2 2.2 -2.2 2.2zM470.2 230.6l2.2 -2.2 2.2 2.2 -2.2 2.2zM472.4 230.6l2.2 -2.2 2.2 2.2 -2.2 2.2zM474.6 230.6l2.2 -2.2 2.2 2.2 -2.2 2.2zM476.9 230.6l2.2 -2.2 2.2 2.2 -2.2 2.2zM479.1 230.6l2.2 -2.2 2.2 2.2 -2.2 2.2zM483.7 230.6l2.2 -2.2 2.2 2.2 -2.2 2.2zM492.9 230.6l2.2 -2.2 2.2 2.2 -2.2 2.2zM439.8 237.6l2.2 -2.2 2.2 2.2 -2.2 2.2zM457.0 237.6l2.2 -2.2 2.2 2.2 -2.2 2.2zM459.2 237.6l2.2 -2.2 2.2 2.2 -2.2 2.2zM461.4 237.6l2.2 -2.2 2.2 2.2 -2.2 2.2zM463.6 237.6l2.2 -2.2 2.2 2.2 -2.2 2.2zM465.8 237.6l2.2 -2.2 2.2 2.2 -2.2 2.2zM468.0 237.6l2.2 -2.2 2.2 2.2 -2.2 2.2zM470.2 237.6l2.2 -2.2 2.2 2.2 -2.2 2.2zM472.4 237.6l2.2 -2.2 2.2 2.2 -2.2 2.2zM474.5 237.6l2.2 -2.2 2.2 2.2 -2.2 2.2zM476.7 237.6l2.2 -2.2 2.2 2.2 -2.2 2.2zM482.5 237.6l2.2 -2.2 2.2 2.2 -2.2 2.2zM488.2 237.6l2.2 -2.2 2.2 2.2 -2.2 2.2zM417.4 244.7l2.2 -2.2 2.2 2.2 -2.2 2.2zM450.1 244.7l2.2 -2.2 2.2 2.2 -2.2 2.2zM452.3 244.7l2.2 -2.2 2.2 2.2 -2.2 2.2zM454.5 244.7l2.2 -2.2 2.2 2.2 -2.2 2.2zM456.7 244.7l2.2 -2.2 2.2 2.2 -2.2 2.2zM458.9 244.7l2.2 -2.2 2.2 2.2 -2.2 2.2zM461.1 244.7l2.2 -2.2 2.2 2.2 -2.2 2.2zM463.4 244.7l2.2 -2.2 2.2 2.2 -2.2 2.2zM465.6 244.7l2.2 -2.2 2.2 2.2 -2.2 2.2zM467.8 244.7l2.2 -2.2 2.2 2.2 -2.2 2.2zM470.0 244.7l2.2 -2.2 2.2 2.2 -2.2 2.2zM472.2 244.7l2.2 -2.2 2.2 2.2 -2.2 2.2zM474.4 244.7l2.2 -2.2 2.2 2.2 -2.2 2.2zM478.3 244.7l2.2 -2.2 2.2 2.2 -2.2 2.2zM452.5 251.7l2.2 -2.2 2.2 2.2 -2.2 2.2zM454.7 251.7l2.2 -2.2 2.2 2.2 -2.2 2.2zM456.8 251.7l2.2 -2.2 2.2 2.2 -2.2 2.2zM459.0 251.7l2.2 -2.2 2.2 2.2 -2.2 2.2zM461.2 251.7l2.2 -2.2 2.2 2.2 -2.2 2.2zM463.4 251.7l2.2 -2.2 2.2 2.2 -2.2 2.2zM465.6 251.7l2.2 -2.2 2.2 2.2 -2.2 2.2zM467.8 251.7l2.2 -2.2 2.2 2.2 -2.2 2.2zM470.0 251.7l2.2 -2.2 2.2 2.2 -2.2 2.2zM472.2 251.7l2.2 -2.2 2.2 2.2 -2.2 2.2zM474.4 251.7l2.2 -2.2 2.2 2.2 -2.2 2.2zM478.3 251.7l2.2 -2.2 2.2 2.2 -2.2 2.2zM424.8 258.8l2.2 -2.2 2.2 2.2 -2.2 2.2zM435.1 258.8l2.2 -2.2 2.2 2.2 -2.2 2.2zM451.3 258.8l2.2 -2.2 2.2 2.2 -2.2 2.2zM453.5 258.8l2.2 -2.2 2.2 2.2 -2.2 2.2zM455.7 258.8l2.2 -2.2 2.2 2.2 -2.2 2.2zM457.9 258.8l2.2 -2.2 2.2 2.2 -2.2 2.2zM460.0 258.8l2.2 -2.2 2.2 2.2 -2.2 2.2zM462.2 258.8l2.2 -2.2 2.2 2.2 -2.2 2.2zM464.4 258.8l2.2 -2.2 2.2 2.2 -2.2 2.2zM466.6 258.8l2.2 -2.2 2.2 2.2 -2.2 2.2zM468.8 258.8l2.2 -2.2 2.2 2.2 -2.2 2.2zM471.0 258.8l2.2 -2.2 2.2 2.2 -2.2 2.2zM484.3 258.8l2.2 -2.2 2.2 2.2 -2.2 2.2zM491.7 258.8l2.2 -2.2 2.2 2.2 -2.2 2.2zM421.3 265.8l2.2 -2.2 2.2 2.2 -2.2 2.2zM436.3 265.8l2.2 -2.2 2.2 2.2 -2.2 2.2zM453.6 265.8l2.2 -2.2 2.2 2.2 -2.2 2.2zM458.2 265.8l2.2 -2.2 2.2 2.2 -2.2 2.2zM460.5 265.8l2.2 -2.2 2.2 2.2 -2.2 2.2zM462.8 265.8l2.2 -2.2 2.2 2.2 -2.2 2.2zM465.2 265.8l2.2 -2.2 2.2 2.2 -2.2 2.2zM467.5 265.8l2.2 -2.2 2.2 2.2 -2.2 2.2zM469.8 265.8l2.2 -2.2 2.2 2.2 -2.2 2.2zM472.1 265.8l2.2 -2.2 2.2 2.2 -2.2 2.2zM474.4 265.8l2.2 -2.2 2.2 2.2 -2.2 2.2zM476.8 265.8l2.2 -2.2 2.2 2.2 -2.2 2.2zM479.1 265.8l2.2 -2.2 2.2 2.2 -2.2 2.2zM482.5 265.8l2.2 -2.2 2.2 2.2 -2.2 2.2zM489.4 265.8l2.2 -2.2 2.2 2.2 -2.2 2.2zM495.3 265.8l2.2 -2.2 2.2 2.2 -2.2 2.2zM430.5 272.8l2.2 -2.2 2.2 2.2 -2.2 2.2zM445.5 272.8l2.2 -2.2 2.2 2.2 -2.2 2.2zM451.3 272.8l2.2 -2.2 2.2 2.2 -2.2 2.2zM453.4 272.8l2.2 -2.2 2.2 2.2 -2.2 2.2zM455.5 272.8l2.2 -2.2 2.2 2.2 -2.2 2.2zM457.7 272.8l2.2 -2.2 2.2 2.2 -2.2 2.2zM459.8 272.8l2.2 -2.2 2.2 2.2 -2.2 2.2zM461.9 272.8l2.2 -2.2 2.2 2.2 -2.2 2.2zM464.0 272.8l2.2 -2.2 2.2 2.2 -2.2 2.2zM466.1 272.8l2.2 -2.2 2.2 2.2 -2.2 2.2zM468.3 272.8l2.2 -2.2 2.2 2.2 -2.2 2.2zM470.4 272.8l2.2 -2.2 2.2 2.2 -2.2 2.2zM472.5 272.8l2.2 -2.2 2.2 2.2 -2.2 2.2zM474.6 272.8l2.2 -2.2 2.2 2.2 -2.2 2.2zM476.7 272.8l2.2 -2.2 2.2 2.2 -2.2 2.2zM480.1 272.8l2.2 -2.2 2.2 2.2 -2.2 2.2zM487.2 272.8l2.2 -2.2 2.2 2.2 -2.2 2.2zM428.2 279.9l2.2 -2.2 2.2 2.2 -2.2 2.2zM437.5 279.9l2.2 -2.2 2.2 2.2 -2.2 2.2zM449.1 279.9l2.2 -2.2 2.2 2.2 -2.2 2.2zM451.2 279.9l2.2 -2.2 2.2 2.2 -2.2 2.2zM453.3 279.9l2.2 -2.2 2.2 2.2 -2.2 2.2zM455.5 279.9l2.2 -2.2 2.2 2.2 -2.2 2.2zM457.6 279.9l2.2 -2.2 2.2 2.2 -2.2 2.2zM459.7 279.9l2.2 -2.2 2.2 2.2 -2.2 2.2zM461.8 279.9l2.2 -2.2 2.2 2.2 -2.2 2.2zM464.0 279.9l2.2 -2.2 2.2 2.2 -2.2 2.2zM466.1 279.9l2.2 -2.2 2.2 2.2 -2.2 2.2zM468.2 279.9l2.2 -2.2 2.2 2.2 -2.2 2.2zM470.4 279.9l2.2 -2.2 2.2 2.2 -2.2 2.2zM472.5 279.9l2.2 -2.2 2.2 2.2 -2.2 2.2zM474.6 279.9l2.2 -2.2 2.2 2.2 -2.2 2.2zM476.7 279.9l2.2 -2.2 2.2 2.2 -2.2 2.2zM481.3 279.9l2.2 -2.2 2.2 2.2 -2.2 2.2zM444.6 286.9l2.2 -2.2 2.2 2.2 -2.2 2.2zM451.3 286.9l2.2 -2.2 2.2 2.2 -2.2 2.2zM453.6 286.9l2.2 -2.2 2.2 2.2 -2.2 2.2zM455.9 286.9l2.2 -2.2 2.2 2.2 -2.2 2.2zM458.2 286.9l2.2 -2.2 2.2 2.2 -2.2 2.2zM460.5 286.9l2.2 -2.2 2.2 2.2 -2.2 2.2zM462.8 286.9l2.2 -2.2 2.2 2.2 -2.2 2.2zM465.2 286.9l2.2 -2.2 2.2 2.2 -2.2 2.2zM467.5 286.9l2.2 -2.2 2.2 2.2 -2.2 2.2zM472.0 286.9l2.2 -2.2 2.2 2.2 -2.2 2.2zM477.9 286.9l2.2 -2.2 2.2 2.2 -2.2 2.2zM489.0 286.9l2.2 -2.2 2.2 2.2 -2.2 2.2zM435.1 294.0l2.2 -2.2 2.2 2.2 -2.2 2.2zM452.5 294.0l2.2 -2.2 2.2 2.2 -2.2 2.2zM454.8 294.0l2.2 -2.2 2.2 2.2 -2.2 2.2zM457.1 294.0l2.2 -2.2 2.2 2.2 -2.2 2.2zM459.4 294.0l2.2 -2.2 2.2 2.2 -2.2 2.2zM461.7 294.0l2.2 -2.2 2.2 2.2 -2.2 2.2zM464.0 294.0l2.2 -2.2 2.2 2.2 -2.2 2.2zM466.3 294.0l2.2 -2.2 2.2 2.2 -2.2 2.2zM468.6 294.0l2.2 -2.2 2.2 2.2 -2.2 2.2zM470.9 294.0l2.2 -2.2 2.2 2.2 -2.2 2.2zM473.3 294.0l2.2 -2.2 2.2 2.2 -2.2 2.2zM475.6 294.0l2.2 -2.2 2.2 2.2 -2.2 2.2zM451.3 301.0l2.2 -2.2 2.2 2.2 -2.2 2.2zM458.2 301.0l2.2 -2.2 2.2 2.2 -2.2 2.2zM460.3 301.0l2.2 -2.2 2.2 2.2 -2.2 2.2zM462.5 301.0l2.2 -2.2 2.2 2.2 -2.2 2.2zM464.6 301.0l2.2 -2.2 2.2 2.2 -2.2 2.2zM466.7 301.0l2.2 -2.2 2.2 2.2 -2.2 2.2zM468.9 301.0l2.2 -2.2 2.2 2.2 -2.2 2.2zM471.0 301.0l2.2 -2.2 2.2 2.2 -2.2 2.2zM486.7 301.0l2.2 -2.2 2.2 2.2 -2.2 2.2zM494.1 301.0l2.2 -2.2 2.2 2.2 -2.2 2.2zM499.8 301.0l2.2 -2.2 2.2 2.2 -2.2 2.2zM427.5 308.0l2.2 -2.2 2.2 2.2 -2.2 2.2zM454.8 308.0l2.2 -2.2 2.2 2.2 -2.2 2.2zM456.9 308.0l2.2 -2.2 2.2 2.2 -2.2 2.2zM459.0 308.0l2.2 -2.2 2.2 2.2 -2.2 2.2zM461.1 308.0l2.2 -2.2 2.2 2.2 -2.2 2.2zM463.3 308.0l2.2 -2.2 2.2 2.2 -2.2 2.2zM465.4 308.0l2.2 -2.2 2.2 2.2 -2.2 2.2zM467.5 308.0l2.2 -2.2 2.2 2.2 -2.2 2.2zM473.2 308.0l2.2 -2.2 2.2 2.2 -2.2 2.2zM479.1 308.0l2.2 -2.2 2.2 2.2 -2.2 2.2zM439.8 315.1l2.2 -2.2 2.2 2.2 -2.2 2.2zM442.1 315.1l2.2 -2.2 2.2 2.2 -2.2 2.2zM444.4 315.1l2.2 -2.2 2.2 2.2 -2.2 2.2zM449.1 315.1l2.2 -2.2 2.2 2.2 -2.2 2.2zM456.0 315.1l2.2 -2.2 2.2 2.2 -2.2 2.2zM461.7 315.1l2.2 -2.2 2.2 2.2 -2.2 2.2zM477.9 315.1l2.2 -2.2 2.2 2.2 -2.2 2.2zM445.5 322.1l2.2 -2.2 2.2 2.2 -2.2 2.2zM452.5 322.1l2.2 -2.2 2.2 2.2 -2.2 2.2zM461.7 322.1l2.2 -2.2 2.2 2.2 -2.2 2.2zM465.1 322.1l2.2 -2.2 2.2 2.2 -2.2 2.2zM467.4 322.1l2.2 -2.2 2.2 2.2 -2.2 2.2zM469.8 322.1l2.2 -2.2 2.2 2.2 -2.2 2.2zM472.1 322.1l2.2 -2.2 2.2 2.2 -2.2 2.2zM474.4 322.1l2.2 -2.2 2.2 2.2 -2.2 2.2zM428.2 329.2l2.2 -2.2 2.2 2.2 -2.2 2.2zM432.9 329.2l2.2 -2.2 2.2 2.2 -2.2 2.2zM437.5 329.2l2.2 -2.2 2.2 2.2 -2.2 2.2zM450.1 329.2l2.2 -2.2 2.2 2.2 -2.2 2.2zM452.2 329.2l2.2 -2.2 2.2 2.2 -2.2 2.2zM454.4 329.2l2.2 -2.2 2.2 2.2 -2.2 2.2zM456.5 329.2l2.2 -2.2 2.2 2.2 -2.2 2.2zM458.6 329.2l2.2 -2.2 2.2 2.2 -2.2 2.2zM460.7 329.2l2.2 -2.2 2.2 2.2 -2.2 2.2zM462.8 329.2l2.2 -2.2 2.2 2.2 -2.2 2.2zM465.0 329.2l2.2 -2.2 2.2 2.2 -2.2 2.2zM467.1 329.2l2.2 -2.2 2.2 2.2 -2.2 2.2zM469.2 329.2l2.2 -2.2 2.2 2.2 -2.2 2.2zM471.3 329.2l2.2 -2.2 2.2 2.2 -2.2 2.2zM473.4 329.2l2.2 -2.2 2.2 2.2 -2.2 2.2zM475.6 329.2l2.2 -2.2 2.2 2.2 -2.2 2.2zM479.7 329.2l2.2 -2.2 2.2 2.2 -2.2 2.2zM486.7 329.2l2.2 -2.2 2.2 2.2 -2.2 2.2zM494.5 329.2l2.2 -2.2 2.2 2.2 -2.2 2.2zM422.4 336.2l2.2 -2.2 2.2 2.2 -2.2 2.2zM439.8 336.2l2.2 -2.2 2.2 2.2 -2.2 2.2zM449.1 336.2l2.2 -2.2 2.2 2.2 -2.2 2.2zM451.2 336.2l2.2 -2.2 2.2 2.2 -2.2 2.2zM453.3 336.2l2.2 -2.2 2.2 2.2 -2.2 2.2zM455.4 336.2l2.2 -2.2 2.2 2.2 -2.2 2.2zM457.5 336.2l2.2 -2.2 2.2 2.2 -2.2 2.2zM459.6 336.2l2.2 -2.2 2.2 2.2 -2.2 2.2zM461.7 336.2l2.2 -2.2 2.2 2.2 -2.2 2.2zM463.8 336.2l2.2 -2.2 2.2 2.2 -2.2 2.2zM465.9 336.2l2.2 -2.2 2.2 2.2 -2.2 2.2zM468.1 336.2l2.2 -2.2 2.2 2.2 -2.2 2.2zM470.2 336.2l2.2 -2.2 2.2 2.2 -2.2 2.2zM472.3 336.2l2.2 -2.2 2.2 2.2 -2.2 2.2zM474.4 336.2l2.2 -2.2 2.2 2.2 -2.2 2.2zM477.9 336.2l2.2 -2.2 2.2 2.2 -2.2 2.2zM480.2 336.2l2.2 -2.2 2.2 2.2 -2.2 2.2zM482.5 336.2l2.2 -2.2 2.2 2.2 -2.2 2.2zM484.9 336.2l2.2 -2.2 2.2 2.2 -2.2 2.2zM487.2 336.2l2.2 -2.2 2.2 2.2 -2.2 2.2zM417.9 343.2l2.2 -2.2 2.2 2.2 -2.2 2.2zM430.5 343.2l2.2 -2.2 2.2 2.2 -2.2 2.2zM437.5 343.2l2.2 -2.2 2.2 2.2 -2.2 2.2zM447.9 343.2l2.2 -2.2 2.2 2.2 -2.2 2.2zM455.1 343.2l2.2 -2.2 2.2 2.2 -2.2 2.2zM457.7 343.2l2.2 -2.2 2.2 2.2 -2.2 2.2zM460.3 343.2l2.2 -2.2 2.2 2.2 -2.2 2.2zM468.6 343.2l2.2 -2.2 2.2 2.2 -2.2 2.2zM480.1 343.2l2.2 -2.2 2.2 2.2 -2.2 2.2zM491.2 343.2l2.2 -2.2 2.2 2.2 -2.2 2.2zM457.0 350.3l2.2 -2.2 2.2 2.2 -2.2 2.2zM459.2 350.3l2.2 -2.2 2.2 2.2 -2.2 2.2zM461.4 350.3l2.2 -2.2 2.2 2.2 -2.2 2.2zM463.5 350.3l2.2 -2.2 2.2 2.2 -2.2 2.2zM465.7 350.3l2.2 -2.2 2.2 2.2 -2.2 2.2zM467.9 350.3l2.2 -2.2 2.2 2.2 -2.2 2.2zM470.0 350.3l2.2 -2.2 2.2 2.2 -2.2 2.2zM472.2 350.3l2.2 -2.2 2.2 2.2 -2.2 2.2zM474.4 350.3l2.2 -2.2 2.2 2.2 -2.2 2.2zM482.5 350.3l2.2 -2.2 2.2 2.2 -2.2 2.2zM494.1 350.3l2.2 -2.2 2.2 2.2 -2.2 2.2zM415.5 357.3l2.2 -2.2 2.2 2.2 -2.2 2.2zM447.9 357.3l2.2 -2.2 2.2 2.2 -2.2 2.2zM450.1 357.3l2.2 -2.2 2.2 2.2 -2.2 2.2zM452.3 357.3l2.2 -2.2 2.2 2.2 -2.2 2.2zM454.5 357.3l2.2 -2.2 2.2 2.2 -2.2 2.2zM456.7 357.3l2.2 -2.2 2.2 2.2 -2.2 2.2zM458.9 357.3l2.2 -2.2 2.2 2.2 -2.2 2.2zM461.1 357.3l2.2 -2.2 2.2 2.2 -2.2 2.2zM463.4 357.3l2.2 -2.2 2.2 2.2 -2.2 2.2zM465.6 357.3l2.2 -2.2 2.2 2.2 -2.2 2.2zM467.8 357.3l2.2 -2.2 2.2 2.2 -2.2 2.2zM470.0 357.3l2.2 -2.2 2.2 2.2 -2.2 2.2zM472.2 357.3l2.2 -2.2 2.2 2.2 -2.2 2.2zM474.4 357.3l2.2 -2.2 2.2 2.2 -2.2 2.2zM477.3 357.3l2.2 -2.2 2.2 2.2 -2.2 2.2zM479.2 357.3l2.2 -2.2 2.2 2.2 -2.2 2.2zM481.2 357.3l2.2 -2.2 2.2 2.2 -2.2 2.2zM488.2 357.3l2.2 -2.2 2.2 2.2 -2.2 2.2zM409.8 364.4l2.2 -2.2 2.2 2.2 -2.2 2.2zM451.3 364.4l2.2 -2.2 2.2 2.2 -2.2 2.2zM456.0 364.4l2.2 -2.2 2.2 2.2 -2.2 2.2zM458.3 364.4l2.2 -2.2 2.2 2.2 -2.2 2.2zM460.6 364.4l2.2 -2.2 2.2 2.2 -2.2 2.2zM462.9 364.4l2.2 -2.2 2.2 2.2 -2.2 2.2zM465.2 364.4l2.2 -2.2 2.2 2.2 -2.2 2.2zM467.5 364.4l2.2 -2.2 2.2 2.2 -2.2 2.2zM476.7 364.4l2.2 -2.2 2.2 2.2 -2.2 2.2zM483.7 364.4l2.2 -2.2 2.2 2.2 -2.2 2.2z" fill="none" stroke="#1c1c80" stroke-width="1.4" stroke-linejoin="miter"/>
<rect x="391.30" y="149.40" width="118.30" height="224.40" fill="none" stroke="#000" stroke-width="1.25" />
<line x1="389.10" y1="160.20" x2="391.30" y2="160.20" stroke="#111" stroke-width="0.8" />
<text x="386.80" y="162.92" font-size="5.95" font-family='"DejaVu Sans", sans-serif' text-anchor="end" fill="#222">RBFOX2</text>
<line x1="389.10" y1="167.24" x2="391.30" y2="167.24" stroke="#111" stroke-width="0.8" />
<text x="386.80" y="169.96" font-size="5.95" font-family='"DejaVu Sans", sans-serif' text-anchor="end" fill="#222">PACSIN2</text>
<line x1="389.10" y1="174.28" x2="391.30" y2="174.28" stroke="#111" stroke-width="0.8" />
<text x="386.80" y="177.00" font-size="5.95" font-family='"DejaVu Sans", sans-serif' text-anchor="end" fill="#222">ARHGEF10L</text>
<line x1="389.10" y1="181.32" x2="391.30" y2="181.32" stroke="#111" stroke-width="0.8" />
<text x="386.80" y="184.04" font-size="5.95" font-family='"DejaVu Sans", sans-serif' text-anchor="end" fill="#222">GRIK3</text>
<line x1="389.10" y1="188.36" x2="391.30" y2="188.36" stroke="#111" stroke-width="0.8" />
<text x="386.80" y="191.08" font-size="5.95" font-family='"DejaVu Sans", sans-serif' text-anchor="end" fill="#222">DYRK1A</text>
<line x1="389.10" y1="195.40" x2="391.30" y2="195.40" stroke="#111" stroke-width="0.8" />
<text x="386.80" y="198.12" font-size="5.95" font-family='"DejaVu Sans", sans-serif' text-anchor="end" fill="#222">GALNT7</text>
<line x1="389.10" y1="202.44" x2="391.30" y2="202.44" stroke="#111" stroke-width="0.8" />
<text x="386.80" y="205.16" font-size="5.95" font-family='"DejaVu Sans", sans-serif' text-anchor="end" fill="#222">FRMD4A</text>
<line x1="389.10" y1="209.48" x2="391.30" y2="209.48" stroke="#111" stroke-width="0.8" />
<text x="386.80" y="212.20" font-size="5.95" font-family='"DejaVu Sans", sans-serif' text-anchor="end" fill="#222">PDE4D</text>
<line x1="389.10" y1="216.52" x2="391.30" y2="216.52" stroke="#111" stroke-width="0.8" />
<text x="386.80" y="219.24" font-size="5.95" font-family='"DejaVu Sans", sans-serif' text-anchor="end" fill="#222">GBE1</text>
<line x1="389.10" y1="223.56" x2="391.30" y2="223.56" stroke="#111" stroke-width="0.8" />
<text x="386.80" y="226.28" font-size="5.95" font-family='"DejaVu Sans", sans-serif' text-anchor="end" fill="#222">CAMK1D</text>
<line x1="389.10" y1="230.60" x2="391.30" y2="230.60" stroke="#111" stroke-width="0.8" />
<text x="386.80" y="233.32" font-size="5.95" font-family='"DejaVu Sans", sans-serif' text-anchor="end" fill="#222">EPHB2</text>
<line x1="389.10" y1="237.64" x2="391.30" y2="237.64" stroke="#111" stroke-width="0.8" />
<text x="386.80" y="240.36" font-size="5.95" font-family='"DejaVu Sans", sans-serif' text-anchor="end" fill="#222">CADM2</text>
<line x1="389.10" y1="244.68" x2="391.30" y2="244.68" stroke="#111" stroke-width="0.8" />
<text x="386.80" y="247.40" font-size="5.95" font-family='"DejaVu Sans", sans-serif' text-anchor="end" fill="#222">CHN2</text>
<line x1="389.10" y1="251.72" x2="391.30" y2="251.72" stroke="#111" stroke-width="0.8" />
<text x="386.80" y="254.44" font-size="5.95" font-family='"DejaVu Sans", sans-serif' text-anchor="end" fill="#222">DSCAM</text>
<line x1="389.10" y1="258.76" x2="391.30" y2="258.76" stroke="#111" stroke-width="0.8" />
<text x="386.80" y="261.48" font-size="5.95" font-family='"DejaVu Sans", sans-serif' text-anchor="end" fill="#222">CASZ1</text>
<line x1="389.10" y1="265.80" x2="391.30" y2="265.80" stroke="#111" stroke-width="0.8" />
<text x="386.80" y="268.52" font-size="5.95" font-family='"DejaVu Sans", sans-serif' text-anchor="end" fill="#222">DENND1A</text>
<line x1="389.10" y1="272.84" x2="391.30" y2="272.84" stroke="#111" stroke-width="0.8" />
<text x="386.80" y="275.56" font-size="5.95" font-family='"DejaVu Sans", sans-serif' text-anchor="end" fill="#222">DGKB</text>
<line x1="389.10" y1="279.88" x2="391.30" y2="279.88" stroke="#111" stroke-width="0.8" />
<text x="386.80" y="282.60" font-size="5.95" font-family='"DejaVu Sans", sans-serif' text-anchor="end" fill="#222">NXPH1</text>
<line x1="389.10" y1="286.92" x2="391.30" y2="286.92" stroke="#111" stroke-width="0.8" />
<text x="386.80" y="289.64" font-size="5.95" font-family='"DejaVu Sans", sans-serif' text-anchor="end" fill="#222">SLC8A1</text>
<line x1="389.10" y1="293.96" x2="391.30" y2="293.96" stroke="#111" stroke-width="0.8" />
<text x="386.80" y="296.68" font-size="5.95" font-family='"DejaVu Sans", sans-serif' text-anchor="end" fill="#222">USP6NL</text>
<line x1="389.10" y1="301.00" x2="391.30" y2="301.00" stroke="#111" stroke-width="0.8" />
<text x="386.80" y="303.72" font-size="5.95" font-family='"DejaVu Sans", sans-serif' text-anchor="end" fill="#222">RNF216</text>
<line x1="389.10" y1="308.04" x2="391.30" y2="308.04" stroke="#111" stroke-width="0.8" />
<text x="386.80" y="310.76" font-size="5.95" font-family='"DejaVu Sans", sans-serif' text-anchor="end" fill="#222">DNER</text>
<line x1="389.10" y1="315.08" x2="391.30" y2="315.08" stroke="#111" stroke-width="0.8" />
<text x="386.80" y="317.80" font-size="5.95" font-family='"DejaVu Sans", sans-serif' text-anchor="end" fill="#222">RERE</text>
<line x1="389.10" y1="322.12" x2="391.30" y2="322.12" stroke="#111" stroke-width="0.8" />
<text x="386.80" y="324.84" font-size="5.95" font-family='"DejaVu Sans", sans-serif' text-anchor="end" fill="#222">NEK10</text>
<line x1="389.10" y1="329.16" x2="391.30" y2="329.16" stroke="#111" stroke-width="0.8" />
<text x="386.80" y="331.88" font-size="5.95" font-family='"DejaVu Sans", sans-serif' text-anchor="end" fill="#222">IQSEC1</text>
<line x1="389.10" y1="336.20" x2="391.30" y2="336.20" stroke="#111" stroke-width="0.8" />
<text x="386.80" y="338.92" font-size="5.95" font-family='"DejaVu Sans", sans-serif' text-anchor="end" fill="#222">SHROOM3</text>
<line x1="389.10" y1="343.24" x2="391.30" y2="343.24" stroke="#111" stroke-width="0.8" />
<text x="386.80" y="345.96" font-size="5.95" font-family='"DejaVu Sans", sans-serif' text-anchor="end" fill="#222">PDE1C</text>
<line x1="389.10" y1="350.28" x2="391.30" y2="350.28" stroke="#111" stroke-width="0.8" />
<text x="386.80" y="353.00" font-size="5.95" font-family='"DejaVu Sans", sans-serif' text-anchor="end" fill="#222">BOC</text>
<line x1="389.10" y1="357.32" x2="391.30" y2="357.32" stroke="#111" stroke-width="0.8" />
<text x="386.80" y="360.04" font-size="5.95" font-family='"DejaVu Sans", sans-serif' text-anchor="end" fill="#222">PPARGC1A</text>
<line x1="389.10" y1="364.36" x2="391.30" y2="364.36" stroke="#111" stroke-width="0.8" />
<text x="386.80" y="367.08" font-size="5.95" font-family='"DejaVu Sans", sans-serif' text-anchor="end" fill="#222">MAPK10</text>
<line x1="398.55" y1="373.80" x2="398.55" y2="376.00" stroke="#111" stroke-width="0.8" />
<text x="398.55" y="383.73" font-size="6.4" font-family='"DejaVu Sans", sans-serif' text-anchor="middle" fill="#222">−4</text>
<line x1="424.65" y1="373.80" x2="424.65" y2="376.00" stroke="#111" stroke-width="0.8" />
<text x="424.65" y="383.73" font-size="6.4" font-family='"DejaVu Sans", sans-serif' text-anchor="middle" fill="#222">−2</text>
<line x1="450.75" y1="373.80" x2="450.75" y2="376.00" stroke="#111" stroke-width="0.8" />
<text x="450.75" y="383.73" font-size="6.4" font-family='"DejaVu Sans", sans-serif' text-anchor="middle" fill="#222">0</text>
<line x1="476.85" y1="373.80" x2="476.85" y2="376.00" stroke="#111" stroke-width="0.8" />
<text x="476.85" y="383.73" font-size="6.4" font-family='"DejaVu Sans", sans-serif' text-anchor="middle" fill="#222">2</text>
<line x1="502.95" y1="373.80" x2="502.95" y2="376.00" stroke="#111" stroke-width="0.8" />
<text x="502.95" y="383.73" font-size="6.4" font-family='"DejaVu Sans", sans-serif' text-anchor="middle" fill="#222">4</text>
<text x="446.90" y="395.99" font-size="8.2" font-family='"DejaVu Sans", sans-serif' text-anchor="middle" fill="#222">Log fold change</text>
<text x="125.27" y="418.50" font-size="12.6" font-family='"Liberation Sans", Arial, sans-serif' font-weight="bold">E</text>
<rect x="155.40" y="412.60" width="109.50" height="197.40" fill="#fff" stroke="#b8b8b8" stroke-width="1.0" />
<rect x="279.00" y="412.60" width="110.20" height="197.40" fill="#fff" stroke="#b8b8b8" stroke-width="1.0" />
<line x1="155.90" y1="422.55" x2="264.40" y2="422.55" stroke="#d4d4d4" stroke-width="0.6" />
<line x1="279.50" y1="422.55" x2="388.70" y2="422.55" stroke="#d4d4d4" stroke-width="0.6" />
<text x="149.70" y="421.04" font-size="6.8" font-family='"Liberation Sans", Arial, sans-serif' text-anchor="end" fill="#222">C1</text>
<path d="M202.2 422.3L202.2 421.8L202.5 421.5L202.9 421.7L203.2 422.1L203.2 422.3ZM208.5 422.3L208.5 422.2L208.8 422.1L209.2 422.0L209.5 421.9L209.9 421.7L210.2 421.6L210.6 421.4L210.9 421.2L211.3 420.9L211.6 420.6L212.0 420.4L212.3 420.1L212.7 419.9L213.0 419.7L213.4 419.5L213.7 419.5L214.1 419.4L214.4 419.5L214.8 419.6L215.1 419.8L215.5 420.0L215.8 420.3L216.2 420.5L216.5 420.5L216.9 420.1L217.2 419.7L217.6 419.3L217.9 418.9L218.3 418.6L218.6 418.5L219.0 418.4L219.3 418.5L219.7 418.6L220.0 418.9L220.4 419.3L220.7 419.7L221.1 420.1L221.4 420.5L221.8 420.3L222.1 420.0L222.5 419.8L222.8 419.7L223.2 419.7L223.5 419.8L223.9 420.1L224.2 420.4L224.6 420.7L224.9 421.0L225.3 421.4L225.6 421.6L226.0 421.8L226.3 422.0L226.7 422.1L226.7 422.3ZM237.5 422.3L237.5 422.1L237.9 422.0L238.2 421.9L238.6 421.7L238.9 421.5L239.3 421.3L239.6 421.0L240.0 420.8L240.3 420.6L240.7 420.5L241.0 420.5L241.4 420.5L241.7 420.7L242.1 420.9L242.4 421.1L242.8 421.3L243.1 421.6L243.5 421.8L243.8 421.9L244.2 421.7L244.5 421.4L244.9 421.1L245.2 420.9L245.6 420.7L245.9 420.6L246.3 420.7L246.6 420.8L247.0 421.0L247.3 421.3L247.7 421.6L248.0 421.8L248.4 422.0L248.7 422.1L248.7 422.3ZM252.2 422.3L252.2 422.1L252.6 421.9L252.9 421.8L253.3 421.9L253.6 422.1L253.6 422.3Z" fill="#23509e" />
<path d="M291.9 422.3L291.9 421.8L292.3 421.5L292.6 421.7L293.0 422.1L293.0 422.3ZM354.6 422.3L354.6 422.0L354.9 421.8L355.3 421.9L355.6 422.1L355.6 422.3ZM380.5 422.3L380.5 422.1L380.8 421.8L381.2 421.8L381.5 422.1L381.5 422.3Z" fill="#23509e" />
<line x1="155.90" y1="432.36" x2="264.40" y2="432.36" stroke="#d4d4d4" stroke-width="0.6" />
<line x1="279.50" y1="432.36" x2="388.70" y2="432.36" stroke="#d4d4d4" stroke-width="0.6" />
<text x="149.70" y="430.85" font-size="6.8" font-family='"Liberation Sans", Arial, sans-serif' text-anchor="end" fill="#222">C2</text>
<path d="M159.5 432.1L159.5 431.9L159.8 431.6L160.2 431.7L160.5 431.9L160.5 432.1ZM179.4 432.1L179.4 431.8L179.8 431.6L180.1 431.6L180.5 431.8L180.8 432.0L180.8 432.1ZM209.5 432.1L209.5 432.0L209.9 431.9L210.2 431.7L210.6 431.6L210.9 431.4L211.3 431.2L211.6 431.0L212.0 430.8L212.3 430.7L212.7 430.6L213.0 430.6L213.4 430.6L213.7 430.7L214.1 430.9L214.4 431.1L214.8 431.3L215.1 431.5L215.5 431.6L215.8 431.8L216.2 431.5L216.5 431.1L216.9 430.4L217.2 429.7L217.6 429.1L217.9 428.9L218.3 429.0L218.6 429.5L219.0 430.2L219.3 430.9L219.7 431.4L220.0 431.8L220.4 432.0L220.7 431.0L221.1 428.6L221.4 426.0L221.8 426.2L222.1 429.0L222.5 431.2L222.8 430.9L223.2 429.9L223.5 429.5L223.9 430.2L224.2 431.2L224.6 431.8L224.6 432.1ZM236.8 432.1L236.8 432.0L237.2 431.9L237.5 431.9L237.9 431.8L238.2 431.7L238.6 431.7L238.9 431.6L239.3 431.5L239.6 431.5L240.0 431.4L240.3 431.4L240.7 431.3L241.0 431.3L241.4 431.3L241.7 431.4L242.1 431.4L242.4 431.5L242.8 431.5L243.1 431.6L243.5 431.7L243.8 431.8L244.2 431.7L244.5 431.6L244.9 431.4L245.2 431.2L245.6 431.1L245.9 431.1L246.3 431.1L246.6 431.2L247.0 431.3L247.3 431.5L247.7 431.7L248.0 431.8L248.4 431.9L248.4 432.1Z" fill="#6f84c9" />
<path d="M291.9 432.1L291.9 431.8L292.3 431.5L292.6 431.7L292.6 432.1Z" fill="#6f84c9" />
<line x1="155.90" y1="442.17" x2="264.40" y2="442.17" stroke="#d4d4d4" stroke-width="0.6" />
<line x1="279.50" y1="442.17" x2="388.70" y2="442.17" stroke="#d4d4d4" stroke-width="0.6" />
<text x="149.70" y="440.66" font-size="6.8" font-family='"Liberation Sans", Arial, sans-serif' text-anchor="end" fill="#222">C3</text>
<path d="M213.0 441.9L213.0 441.7L213.4 441.6L213.7 441.4L214.1 441.0L214.4 440.7L214.8 440.2L215.1 439.8L215.5 439.5L215.8 439.3L216.2 439.4L216.5 439.5L216.9 439.9L217.2 440.3L217.6 440.7L217.9 440.5L218.3 439.5L218.6 438.6L219.0 438.3L219.3 438.6L219.7 439.5L220.0 440.5L220.4 440.4L220.7 439.7L221.1 439.0L221.4 438.4L221.8 438.1L222.1 438.1L222.5 438.4L222.8 438.9L223.2 439.6L223.5 440.3L223.9 440.9L224.2 441.3L224.6 441.6L224.6 441.9ZM239.3 441.9L239.3 441.8L239.6 441.7L240.0 441.5L240.3 441.3L240.7 441.1L241.0 440.9L241.4 440.8L241.7 440.6L242.1 440.6L242.4 440.7L242.8 440.8L243.1 441.0L243.5 441.3L243.8 441.5L244.2 441.6L244.5 441.7L244.9 441.4L245.2 441.1L245.6 440.8L245.9 440.6L246.3 440.7L246.6 441.0L247.0 441.4L247.3 441.6L247.3 441.9Z" fill="#e4572e" />
<path d="M291.6 441.9L291.6 441.6L291.9 440.7L292.3 439.9L292.6 440.4L293.0 441.4L293.0 441.9Z" fill="#e4572e" />
<line x1="155.90" y1="451.98" x2="264.40" y2="451.98" stroke="#d4d4d4" stroke-width="0.6" />
<line x1="279.50" y1="451.98" x2="388.70" y2="451.98" stroke="#d4d4d4" stroke-width="0.6" />
<text x="149.70" y="450.47" font-size="6.8" font-family='"Liberation Sans", Arial, sans-serif' text-anchor="end" fill="#222">C4</text>
<path d="M216.2 451.7L216.2 451.6L216.5 451.4L216.9 451.0L217.2 450.5L217.6 450.0L217.9 449.8L218.3 449.9L218.6 450.4L219.0 449.5L219.3 448.2L219.7 448.4L220.0 449.7L220.4 450.9L220.7 450.1L221.1 447.7L221.4 445.5L221.8 445.7L222.1 448.0L222.5 450.3L222.8 451.4L222.8 451.7ZM240.7 451.7L240.7 451.6L241.0 451.5L241.4 451.4L241.7 451.2L242.1 451.1L242.4 451.0L242.8 451.0L243.1 451.0L243.5 451.0L243.8 451.1L244.2 451.2L244.5 451.4L244.9 451.5L245.2 451.6L245.2 451.7Z" fill="#f3c07e" />
<line x1="155.90" y1="461.79" x2="264.40" y2="461.79" stroke="#d4d4d4" stroke-width="0.6" />
<line x1="279.50" y1="461.79" x2="388.70" y2="461.79" stroke="#d4d4d4" stroke-width="0.6" />
<text x="149.70" y="460.28" font-size="6.8" font-family='"Liberation Sans", Arial, sans-serif' text-anchor="end" fill="#222">C5</text>
<path d="M210.9 461.5L210.9 461.4L211.3 461.3L211.6 461.0L212.0 460.8L212.3 460.5L212.7 460.3L213.0 460.2L213.4 460.3L213.7 460.6L214.1 460.9L214.4 461.1L214.8 461.3L215.1 461.0L215.5 460.7L215.8 460.1L216.2 459.5L216.5 458.7L216.9 458.1L217.2 457.7L217.6 457.7L217.9 457.9L218.3 458.5L218.6 459.2L219.0 459.8L219.3 460.4L219.7 460.9L220.0 460.6L220.4 459.7L220.7 458.4L221.1 457.2L221.4 456.4L221.8 456.5L222.1 457.3L222.5 458.6L222.8 459.8L223.2 460.6L223.5 460.0L223.9 459.6L224.2 459.7L224.6 460.3L224.9 460.9L225.3 461.3L225.3 461.5ZM239.3 461.5L239.3 461.4L239.6 461.1L240.0 460.7L240.3 460.2L240.7 459.7L241.0 459.6L241.4 459.8L241.7 460.3L242.1 460.8L242.4 461.2L242.8 461.4L242.8 461.5ZM244.2 461.5L244.2 461.4L244.5 461.2L244.9 460.8L245.2 460.3L245.6 459.8L245.9 459.6L246.3 459.7L246.6 460.2L247.0 460.7L247.3 461.1L247.7 461.4L247.7 461.5Z" fill="#1d8a3c" />
<path d="M291.6 461.5L291.6 461.4L291.9 460.9L292.3 460.5L292.6 460.8L293.0 461.3L293.0 461.5Z" fill="#1d8a3c" />
<line x1="155.90" y1="471.60" x2="264.40" y2="471.60" stroke="#d4d4d4" stroke-width="0.6" />
<line x1="279.50" y1="471.60" x2="388.70" y2="471.60" stroke="#d4d4d4" stroke-width="0.6" />
<text x="149.70" y="470.09" font-size="6.8" font-family='"Liberation Sans", Arial, sans-serif' text-anchor="end" fill="#222">C6</text>
<path d="M215.5 471.4L215.5 471.2L215.8 470.9L216.2 470.6L216.5 470.3L216.9 470.1L217.2 470.1L217.6 470.4L217.9 470.7L218.3 471.0L218.6 471.2L218.6 471.4ZM220.4 471.4L220.4 470.9L220.7 469.7L221.1 467.3L221.4 465.1L221.8 465.3L222.1 467.7L222.5 469.7L222.8 468.9L223.2 468.9L223.5 469.9L223.9 470.8L224.2 471.2L224.2 471.4ZM239.6 471.4L239.6 471.1L240.0 470.8L240.3 470.4L240.7 470.1L241.0 470.1L241.4 470.2L241.7 470.5L242.1 470.9L242.4 471.1L242.4 471.4ZM244.5 471.4L244.5 471.1L244.9 470.9L245.2 470.5L245.6 470.2L245.9 470.1L246.3 470.1L246.6 470.4L247.0 470.8L247.3 471.1L247.3 471.4Z" fill="#88c880" />
<line x1="155.90" y1="481.41" x2="264.40" y2="481.41" stroke="#d4d4d4" stroke-width="0.6" />
<line x1="279.50" y1="481.41" x2="388.70" y2="481.41" stroke="#d4d4d4" stroke-width="0.6" />
<text x="149.70" y="479.90" font-size="6.8" font-family='"Liberation Sans", Arial, sans-serif' text-anchor="end" fill="#222">C7</text>
<path d="M159.5 481.2L159.5 480.9L159.8 480.6L160.2 480.6L160.5 480.9L160.5 481.2ZM169.6 481.2L169.6 480.9L170.0 480.6L170.3 480.2L170.7 480.0L171.0 479.9L171.4 480.0L171.7 480.3L172.1 480.7L172.4 480.9L172.8 480.4L173.1 479.7L173.5 479.3L173.8 479.7L174.2 480.4L174.5 480.9L174.5 481.2ZM181.5 481.2L181.5 480.9L181.9 480.7L182.2 480.7L182.6 481.0L182.6 481.2ZM192.4 481.2L192.4 480.9L192.7 480.8L193.1 480.6L193.4 480.4L193.8 480.3L194.1 480.3L194.5 480.4L194.8 480.5L195.2 480.7L195.5 480.9L195.9 481.0L195.9 481.2ZM197.6 481.2L197.6 480.9L198.0 480.7L198.3 480.4L198.7 480.2L199.0 480.1L199.4 480.2L199.7 480.5L200.1 480.8L200.4 481.0L200.4 481.2ZM213.4 481.2L213.4 480.9L213.7 480.6L214.1 480.2L214.4 479.6L214.8 479.0L215.1 478.5L215.5 478.3L215.8 478.5L216.2 479.0L216.5 479.6L216.9 480.2L217.2 480.6L217.6 480.8L217.9 480.1L218.3 479.0L218.6 477.8L219.0 477.3L219.3 477.8L219.7 479.0L220.0 480.1L220.4 479.8L220.7 478.0L221.1 475.6L221.4 473.8L221.8 474.0L222.1 475.9L222.5 478.3L222.8 480.0L223.2 480.2L223.5 479.5L223.9 479.1L224.2 479.2L224.6 479.8L224.9 480.5L225.3 480.9L225.3 481.2ZM230.5 481.2L230.5 480.9L230.9 480.8L231.2 480.7L231.6 480.6L231.9 480.5L232.3 480.5L232.6 480.6L233.0 480.8L233.3 480.9L233.7 481.0L233.7 481.2ZM238.2 481.2L238.2 480.9L238.6 480.7L238.9 480.5L239.3 480.6L239.6 480.9L239.6 481.2ZM243.1 481.2L243.1 481.0L243.5 480.8L243.8 480.4L244.2 479.8L244.5 479.2L244.9 478.8L245.2 478.9L245.6 479.4L245.9 480.1L246.3 480.6L246.6 480.9L246.6 481.2Z" fill="#b3182c" />
<path d="M291.2 481.2L291.2 481.0L291.6 480.6L291.9 480.0L292.3 479.6L292.6 479.8L293.0 480.5L293.3 480.9L293.3 481.2ZM296.1 481.2L296.1 480.9L296.5 480.6L296.8 480.6L297.2 480.9L297.2 481.2ZM309.1 481.2L309.1 480.9L309.4 480.6L309.8 480.3L310.1 480.3L310.5 480.4L310.8 480.7L311.2 481.0L311.2 481.2ZM333.9 481.2L333.9 481.0L334.3 480.8L334.6 480.5L335.0 480.4L335.3 480.5L335.7 480.7L336.0 480.9L336.0 481.2ZM336.7 481.2L336.7 480.9L337.1 480.6L337.4 480.4L337.8 480.5L338.1 480.8L338.5 481.0L338.5 481.2ZM378.4 481.2L378.4 481.0L378.7 480.7L379.1 480.2L379.4 479.7L379.8 479.3L380.1 479.2L380.5 479.5L380.8 480.0L381.2 480.5L381.5 480.9L381.5 481.2Z" fill="#b3182c" />
<line x1="155.90" y1="491.22" x2="264.40" y2="491.22" stroke="#d4d4d4" stroke-width="0.6" />
<line x1="279.50" y1="491.22" x2="388.70" y2="491.22" stroke="#d4d4d4" stroke-width="0.6" />
<text x="149.70" y="489.71" font-size="6.8" font-family='"Liberation Sans", Arial, sans-serif' text-anchor="end" fill="#222">C8</text>
<path d="M214.8 491.0L214.8 490.6L215.1 490.2L215.5 489.5L215.8 489.1L216.2 489.1L216.5 489.6L216.9 490.2L217.2 490.6L217.6 490.0L217.9 489.2L218.3 488.5L218.6 488.4L219.0 489.0L219.3 489.9L219.7 490.5L220.0 490.8L220.4 490.5L220.7 489.3L221.1 486.9L221.4 484.7L221.8 484.9L222.1 487.3L222.5 489.5L222.8 490.6L222.8 491.0ZM243.1 491.0L243.1 490.8L243.5 490.7L243.8 490.5L244.2 490.2L244.5 490.0L244.9 489.9L245.2 490.0L245.6 490.1L245.9 490.3L246.3 490.5L246.6 490.7L247.0 490.8L247.0 491.0Z" fill="#e38a8a" />
<path d="M291.9 491.0L291.9 490.7L292.3 490.5L292.6 490.6L292.6 491.0ZM374.5 491.0L374.5 490.8L374.9 490.5L375.2 490.5L375.6 490.8L375.6 491.0Z" fill="#e38a8a" />
<line x1="155.90" y1="501.03" x2="264.40" y2="501.03" stroke="#d4d4d4" stroke-width="0.6" />
<line x1="279.50" y1="501.03" x2="388.70" y2="501.03" stroke="#d4d4d4" stroke-width="0.6" />
<text x="149.70" y="499.52" font-size="6.8" font-family='"Liberation Sans", Arial, sans-serif' text-anchor="end" fill="#222">C9</text>
<path d="M214.8 500.8L214.8 500.6L215.1 500.4L215.5 500.0L215.8 499.5L216.2 498.9L216.5 498.4L216.9 498.2L217.2 498.3L217.6 498.6L217.9 499.2L218.3 499.7L218.6 499.1L219.0 497.9L219.3 497.0L219.7 497.1L220.0 498.1L220.4 499.3L220.7 498.1L221.1 495.4L221.4 493.2L221.8 493.4L222.1 495.8L222.5 498.4L222.8 499.9L223.2 499.3L223.5 498.6L223.9 498.2L224.2 498.3L224.6 498.9L224.9 499.6L225.3 500.1L225.6 500.5L225.6 500.8ZM241.4 500.8L241.4 500.6L241.7 500.4L242.1 500.2L242.4 499.8L242.8 499.4L243.1 499.0L243.5 498.6L243.8 498.5L244.2 498.5L244.5 498.7L244.9 499.0L245.2 499.5L245.6 499.9L245.9 500.2L246.3 500.5L246.6 500.6L246.6 500.8ZM256.1 500.8L256.1 500.6L256.4 500.4L256.8 500.2L257.1 500.2L257.5 500.4L257.8 500.6L257.8 500.8Z" fill="#4a2a8c" />
<path d="M291.9 500.8L291.9 500.5L292.3 500.3L292.6 500.4L292.6 500.8Z" fill="#4a2a8c" />
<line x1="155.90" y1="510.84" x2="264.40" y2="510.84" stroke="#d4d4d4" stroke-width="0.6" />
<line x1="279.50" y1="510.84" x2="388.70" y2="510.84" stroke="#d4d4d4" stroke-width="0.6" />
<text x="149.70" y="509.33" font-size="6.8" font-family='"Liberation Sans", Arial, sans-serif' text-anchor="end" fill="#222">C10</text>
<path d="M159.1 510.6L159.1 510.4L159.5 510.3L159.8 510.2L160.2 510.2L160.5 510.3L160.9 510.4L160.9 510.6ZM169.6 510.6L169.6 510.3L170.0 510.0L170.3 509.7L170.7 509.4L171.0 509.3L171.4 509.5L171.7 509.8L172.1 510.1L172.4 510.4L172.4 510.6ZM183.3 510.6L183.3 510.4L183.6 510.4L184.0 510.4L184.3 510.3L184.7 510.3L185.0 510.2L185.4 510.2L185.7 510.2L186.1 510.2L186.4 510.2L186.8 510.2L187.1 510.3L187.5 510.3L187.8 510.3L188.2 510.4L188.5 510.4L188.9 510.5L188.9 510.6ZM192.0 510.6L192.0 510.4L192.4 510.3L192.7 510.3L193.1 510.2L193.4 510.1L193.8 510.1L194.1 510.1L194.5 510.1L194.8 510.2L195.2 510.3L195.5 510.3L195.9 510.4L195.9 510.6ZM197.3 510.6L197.3 510.4L197.6 510.3L198.0 510.1L198.3 510.0L198.7 509.8L199.0 509.8L199.4 509.9L199.7 510.0L200.1 510.2L200.4 510.3L200.8 510.5L200.8 510.6ZM216.9 510.6L216.9 510.4L217.2 510.2L217.6 509.9L217.9 509.4L218.3 509.0L218.6 508.6L219.0 508.5L219.3 508.6L219.7 509.0L220.0 509.4L220.4 509.9L220.7 508.2L221.1 504.9L221.4 501.9L221.8 502.1L222.1 505.4L222.5 508.6L222.8 510.1L222.8 510.6ZM223.5 510.6L223.5 510.4L223.9 510.1L224.2 509.7L224.6 509.1L224.9 508.4L225.3 507.7L225.6 507.2L226.0 507.0L226.3 507.2L226.7 507.7L227.0 508.4L227.4 509.1L227.7 509.7L228.1 510.1L228.4 510.4L228.4 510.6ZM229.1 510.6L229.1 510.4L229.5 510.1L229.8 509.5L230.2 508.6L230.5 507.7L230.9 507.2L231.2 507.4L231.6 508.1L231.9 509.0L232.3 509.5L232.6 508.6L233.0 507.6L233.3 507.0L233.7 507.1L234.0 507.8L234.4 508.7L234.7 509.6L235.1 509.7L235.4 509.5L235.8 509.3L236.1 509.3L236.5 509.5L236.8 509.7L237.2 510.0L237.5 510.2L237.9 510.4L237.9 510.6ZM240.0 510.6L240.0 510.4L240.3 510.4L240.7 510.3L241.0 510.3L241.4 510.2L241.7 510.2L242.1 510.1L242.4 510.1L242.8 510.1L243.1 510.1L243.5 510.1L243.8 510.1L244.2 510.2L244.5 510.2L244.9 510.3L245.2 510.3L245.6 510.4L245.9 510.4L246.3 510.5L246.3 510.6Z" fill="#a393cf" />
<path d="M291.2 510.6L291.2 510.2L291.6 508.8L291.9 505.8L292.3 503.5L292.6 504.9L293.0 508.0L293.3 510.0L293.7 509.8L294.0 509.1L294.4 508.7L294.7 508.7L295.1 509.2L295.4 509.9L295.8 510.3L295.8 510.6ZM296.5 510.6L296.5 510.3L296.8 509.9L297.2 509.9L297.5 510.3L297.5 510.6ZM367.2 510.6L367.2 510.4L367.5 510.1L367.9 509.8L368.2 509.9L368.6 510.1L368.9 510.4L368.9 510.6ZM374.2 510.6L374.2 510.3L374.5 509.9L374.9 509.6L375.2 509.6L375.6 510.0L375.9 510.4L375.9 510.6ZM379.1 510.6L379.1 510.4L379.4 510.1L379.8 509.5L380.1 508.9L380.5 508.5L380.8 508.7L381.2 509.3L381.5 510.0L381.9 510.4L381.9 510.6ZM384.3 510.6L384.3 510.5L384.7 510.2L385.0 509.9L385.4 510.2L385.7 510.5L385.7 510.6Z" fill="#a393cf" />
<line x1="155.90" y1="520.65" x2="264.40" y2="520.65" stroke="#d4d4d4" stroke-width="0.6" />
<line x1="279.50" y1="520.65" x2="388.70" y2="520.65" stroke="#d4d4d4" stroke-width="0.6" />
<text x="149.70" y="519.14" font-size="6.8" font-family='"Liberation Sans", Arial, sans-serif' text-anchor="end" fill="#222">C11</text>
<path d="M214.4 520.4L214.4 520.2L214.8 520.0L215.1 519.7L215.5 519.3L215.8 519.1L216.2 519.1L216.5 519.4L216.9 519.7L217.2 520.0L217.6 519.8L217.9 519.1L218.3 518.2L218.6 517.5L219.0 517.1L219.3 517.5L219.7 518.2L220.0 519.1L220.4 519.2L220.7 517.7L221.1 515.6L221.4 514.1L221.8 514.2L222.1 515.9L222.5 517.9L222.8 519.4L223.2 519.5L223.5 518.9L223.9 518.5L224.2 518.6L224.6 519.1L224.9 519.7L225.3 520.1L225.3 520.4ZM240.3 520.4L240.3 520.3L240.7 520.1L241.0 519.8L241.4 519.4L241.7 519.2L242.1 519.1L242.4 519.3L242.8 519.6L243.1 520.0L243.5 520.2L243.5 520.4ZM244.5 520.4L244.5 520.2L244.9 519.9L245.2 519.6L245.6 519.3L245.9 519.1L246.3 519.2L246.6 519.5L247.0 519.8L247.3 520.1L247.3 520.4Z" fill="#3b2518" />
<path d="M291.6 520.4L291.6 520.0L291.9 519.0L292.3 518.1L292.6 518.7L293.0 519.8L293.0 520.4ZM374.2 520.4L374.2 520.0L374.5 519.4L374.9 518.9L375.2 519.0L375.6 519.5L375.9 520.1L375.9 520.4ZM379.4 520.4L379.4 520.2L379.8 519.7L380.1 519.0L380.5 518.5L380.8 518.8L381.2 519.5L381.5 520.1L381.5 520.4Z" fill="#3b2518" />
<line x1="155.90" y1="530.46" x2="264.40" y2="530.46" stroke="#d4d4d4" stroke-width="0.6" />
<line x1="279.50" y1="530.46" x2="388.70" y2="530.46" stroke="#d4d4d4" stroke-width="0.6" />
<text x="149.70" y="528.95" font-size="6.8" font-family='"Liberation Sans", Arial, sans-serif' text-anchor="end" fill="#222">C13</text>
<path d="M212.0 530.2L212.0 529.9L212.3 529.6L212.7 529.3L213.0 529.2L213.4 529.4L213.7 529.7L214.1 529.9L214.4 529.6L214.8 529.2L215.1 528.8L215.5 528.4L215.8 528.2L216.2 528.2L216.5 528.4L216.9 528.9L217.2 529.3L217.6 529.7L217.9 529.3L218.3 528.3L218.6 527.3L219.0 526.8L219.3 527.3L219.7 528.3L220.0 529.3L220.4 529.4L220.7 528.0L221.1 525.7L221.4 523.9L221.8 524.1L222.1 526.1L222.5 528.3L222.8 529.6L222.8 530.2ZM242.4 530.2L242.4 530.1L242.8 530.0L243.1 529.8L243.5 529.7L243.8 529.5L244.2 529.4L244.5 529.2L244.9 529.2L245.2 529.2L245.6 529.3L245.9 529.4L246.3 529.6L246.6 529.8L247.0 529.9L247.3 530.0L247.3 530.2Z" fill="#d0238c" />
<path d="M291.6 530.2L291.6 530.1L291.9 529.6L292.3 529.2L292.6 529.4L293.0 530.0L293.0 530.2Z" fill="#d0238c" />
<line x1="155.90" y1="540.27" x2="264.40" y2="540.27" stroke="#d4d4d4" stroke-width="0.6" />
<line x1="279.50" y1="540.27" x2="388.70" y2="540.27" stroke="#d4d4d4" stroke-width="0.6" />
<text x="149.70" y="538.76" font-size="6.8" font-family='"Liberation Sans", Arial, sans-serif' text-anchor="end" fill="#222">C14</text>
<path d="M211.3 540.0L211.3 539.9L211.6 539.6L212.0 539.4L212.3 539.6L212.7 539.9L212.7 540.0ZM215.1 540.0L215.1 539.7L215.5 539.5L215.8 539.4L216.2 539.4L216.5 539.6L216.9 539.8L216.9 540.0ZM217.6 540.0L217.6 539.9L217.9 539.7L218.3 539.3L218.6 538.9L219.0 538.7L219.3 538.9L219.7 539.3L220.0 539.7L220.4 539.1L220.7 537.3L221.1 534.6L221.4 532.5L221.8 532.7L222.1 535.0L222.5 537.7L222.8 539.2L222.8 540.0ZM241.7 540.0L241.7 539.9L242.1 539.6L242.4 539.3L242.8 539.0L243.1 539.0L243.5 539.2L243.8 539.6L244.2 539.8L244.2 540.0Z" fill="#ef9cc2" />
<path d="M372.1 540.0L372.1 539.7L372.4 539.2L372.8 538.5L373.1 538.4L373.5 538.9L373.8 539.5L374.2 539.9L374.2 540.0ZM379.1 540.0L379.1 539.7L379.4 539.0L379.8 538.3L380.1 538.1L380.5 538.7L380.8 539.4L381.2 539.9L381.2 540.0Z" fill="#ef9cc2" />
<line x1="155.90" y1="550.08" x2="264.40" y2="550.08" stroke="#d4d4d4" stroke-width="0.6" />
<line x1="279.50" y1="550.08" x2="388.70" y2="550.08" stroke="#d4d4d4" stroke-width="0.6" />
<text x="149.70" y="548.57" font-size="6.8" font-family='"Liberation Sans", Arial, sans-serif' text-anchor="end" fill="#222">C15</text>
<path d="M213.0 549.8L213.0 549.6L213.4 549.4L213.7 549.2L214.1 548.8L214.4 548.5L214.8 548.3L215.1 548.3L215.5 548.5L215.8 548.8L216.2 549.1L216.5 548.8L216.9 548.1L217.2 547.4L217.6 546.8L217.9 546.6L218.3 546.7L218.6 547.2L219.0 547.9L219.3 548.6L219.7 549.1L220.0 549.5L220.4 548.9L220.7 547.6L221.1 546.0L221.4 544.8L221.8 544.9L222.1 546.2L222.5 547.9L222.8 549.0L223.2 549.6L223.2 549.8ZM244.2 549.8L244.2 549.6L244.5 549.3L244.9 548.8L245.2 548.3L245.6 547.7L245.9 547.5L246.3 547.6L246.6 548.1L247.0 548.7L247.3 549.2L247.7 549.5L247.7 549.8Z" fill="#3a3a3a" />
<line x1="155.90" y1="559.89" x2="264.40" y2="559.89" stroke="#d4d4d4" stroke-width="0.6" />
<line x1="279.50" y1="559.89" x2="388.70" y2="559.89" stroke="#d4d4d4" stroke-width="0.6" />
<text x="149.70" y="558.38" font-size="6.8" font-family='"Liberation Sans", Arial, sans-serif' text-anchor="end" fill="#222">C16</text>
<path d="M216.9 559.6L216.9 559.4L217.2 559.1L217.6 558.8L217.9 558.6L218.3 558.7L218.6 559.0L219.0 559.3L219.0 559.6ZM220.4 559.6L220.4 559.4L220.7 558.6L221.1 557.2L221.4 555.9L221.8 556.0L222.1 557.4L222.5 558.8L222.8 559.4L222.8 559.6Z" fill="#c4c4c4" />
<line x1="155.90" y1="569.70" x2="264.40" y2="569.70" stroke="#d4d4d4" stroke-width="0.6" />
<line x1="279.50" y1="569.70" x2="388.70" y2="569.70" stroke="#d4d4d4" stroke-width="0.6" />
<text x="149.70" y="568.19" font-size="6.8" font-family='"Liberation Sans", Arial, sans-serif' text-anchor="end" fill="#222">C17</text>
<path d="M170.3 569.5L170.3 569.1L170.7 568.8L171.0 568.7L171.4 568.9L171.7 569.2L171.7 569.5ZM176.3 569.5L176.3 569.1L176.6 568.8L177.0 568.7L177.3 568.8L177.7 569.1L177.7 569.5ZM206.0 569.5L206.0 569.2L206.4 569.0L206.7 568.8L207.1 568.8L207.4 568.9L207.8 569.1L208.1 569.3L208.1 569.5ZM210.9 569.5L210.9 569.3L211.3 569.2L211.6 569.0L212.0 568.7L212.3 568.3L212.7 567.9L213.0 567.5L213.4 567.1L213.7 566.9L214.1 566.9L214.4 567.0L214.8 567.3L215.1 567.7L215.5 568.1L215.8 568.5L216.2 567.9L216.5 566.4L216.9 564.6L217.2 563.3L217.6 563.0L217.9 564.0L218.3 565.6L218.6 567.3L219.0 567.8L219.3 566.7L219.7 565.8L220.0 565.6L220.4 566.0L220.7 567.0L221.1 564.4L221.4 561.6L221.8 560.4L222.1 561.6L222.5 564.4L222.8 567.0L223.2 567.9L223.5 567.3L223.9 566.9L224.2 567.0L224.6 567.5L224.9 568.2L225.3 568.8L225.6 569.2L225.6 569.5ZM228.1 569.5L228.1 569.2L228.4 568.9L228.8 568.5L229.1 568.5L229.5 568.8L229.8 569.2L229.8 569.5ZM238.9 569.5L238.9 569.2L239.3 568.9L239.6 568.6L240.0 568.4L240.3 568.6L240.7 568.9L241.0 569.2L241.0 569.5ZM242.8 569.5L242.8 569.3L243.1 569.0L243.5 568.7L243.8 568.2L244.2 567.6L244.5 567.1L244.9 566.9L245.2 566.9L245.6 567.3L245.9 567.8L246.3 568.4L246.6 568.8L247.0 569.1L247.3 568.7L247.7 568.3L248.0 568.2L248.4 568.4L248.7 568.8L249.1 569.1L249.1 569.5Z" fill="#8a9a22" />
<path d="M291.9 569.5L291.9 569.0L292.3 568.7L292.6 568.9L293.0 569.3L293.0 569.5Z" fill="#8a9a22" />
<line x1="155.90" y1="579.51" x2="264.40" y2="579.51" stroke="#d4d4d4" stroke-width="0.6" />
<line x1="279.50" y1="579.51" x2="388.70" y2="579.51" stroke="#d4d4d4" stroke-width="0.6" />
<text x="149.70" y="578.00" font-size="6.8" font-family='"Liberation Sans", Arial, sans-serif' text-anchor="end" fill="#222">C18</text>
<path d="M215.1 579.3L215.1 579.1L215.5 578.9L215.8 578.6L216.2 578.3L216.5 578.1L216.9 578.0L217.2 578.0L217.6 578.2L217.9 578.5L218.3 578.7L218.6 578.3L219.0 577.5L219.3 577.0L219.7 577.0L220.0 577.6L220.4 578.4L220.7 577.5L221.1 575.7L221.4 574.2L221.8 574.4L222.1 575.9L222.5 577.7L222.8 578.7L222.8 579.3ZM244.2 579.3L244.2 579.1L244.5 578.9L244.9 578.7L245.2 578.8L245.6 579.0L245.6 579.3Z" fill="#d6d640" />
<line x1="155.90" y1="589.32" x2="264.40" y2="589.32" stroke="#d4d4d4" stroke-width="0.6" />
<line x1="279.50" y1="589.32" x2="388.70" y2="589.32" stroke="#d4d4d4" stroke-width="0.6" />
<text x="149.70" y="587.81" font-size="6.8" font-family='"Liberation Sans", Arial, sans-serif' text-anchor="end" fill="#222">C19</text>
<path d="M214.1 589.1L214.1 588.9L214.4 588.7L214.8 588.5L215.1 588.2L215.5 587.9L215.8 587.8L216.2 587.8L216.5 588.0L216.9 588.2L217.2 588.5L217.6 588.6L217.9 588.0L218.3 587.3L218.6 586.7L219.0 586.5L219.3 586.7L219.7 587.3L220.0 588.0L220.4 588.1L220.7 586.9L221.1 585.2L221.4 584.0L221.8 584.1L222.1 585.5L222.5 587.1L222.8 588.3L223.2 588.8L223.2 589.1ZM244.2 589.1L244.2 588.8L244.5 588.4L244.9 588.0L245.2 588.1L245.6 588.5L245.9 588.9L245.9 589.1Z" fill="#2eb6c8" />
<line x1="155.90" y1="589.40" x2="264.40" y2="589.40" stroke="#8a8a8a" stroke-width="0.7" />
<line x1="155.90" y1="591.30" x2="264.40" y2="591.30" stroke="#8a8a8a" stroke-width="0.7" />
<line x1="279.50" y1="589.40" x2="388.70" y2="589.40" stroke="#8a8a8a" stroke-width="0.7" />
<line x1="279.50" y1="591.30" x2="388.70" y2="591.30" stroke="#8a8a8a" stroke-width="0.7" />
<line x1="156.50" y1="596.70" x2="264.00" y2="596.70" stroke="#2b3990" stroke-width="0.6" />
<line x1="280.00" y1="596.70" x2="388.20" y2="596.70" stroke="#2b3990" stroke-width="0.6" />
<path d="M161.3 595.9l0.9 0.8-0.9 0.8" fill="none" stroke="#2b3990" stroke-width="0.4" />
<path d="M169.3 595.9l0.9 0.8-0.9 0.8" fill="none" stroke="#2b3990" stroke-width="0.4" />
<path d="M175.3 595.9l0.9 0.8-0.9 0.8" fill="none" stroke="#2b3990" stroke-width="0.4" />
<path d="M189.3 595.9l0.9 0.8-0.9 0.8" fill="none" stroke="#2b3990" stroke-width="0.4" />
<path d="M196.3 595.9l0.9 0.8-0.9 0.8" fill="none" stroke="#2b3990" stroke-width="0.4" />
<path d="M205.3 595.9l0.9 0.8-0.9 0.8" fill="none" stroke="#2b3990" stroke-width="0.4" />
<path d="M213.3 595.9l0.9 0.8-0.9 0.8" fill="none" stroke="#2b3990" stroke-width="0.4" />
<path d="M230.3 595.9l0.9 0.8-0.9 0.8" fill="none" stroke="#2b3990" stroke-width="0.4" />
<path d="M239.3 595.9l0.9 0.8-0.9 0.8" fill="none" stroke="#2b3990" stroke-width="0.4" />
<path d="M248.3 595.9l0.9 0.8-0.9 0.8" fill="none" stroke="#2b3990" stroke-width="0.4" />
<path d="M257.3 595.9l0.9 0.8-0.9 0.8" fill="none" stroke="#2b3990" stroke-width="0.4" />
<path d="M283.3 595.9l0.9 0.8-0.9 0.8" fill="none" stroke="#2b3990" stroke-width="0.4" />
<path d="M294.3 595.9l0.9 0.8-0.9 0.8" fill="none" stroke="#2b3990" stroke-width="0.4" />
<path d="M305.3 595.9l0.9 0.8-0.9 0.8" fill="none" stroke="#2b3990" stroke-width="0.4" />
<path d="M316.3 595.9l0.9 0.8-0.9 0.8" fill="none" stroke="#2b3990" stroke-width="0.4" />
<path d="M327.3 595.9l0.9 0.8-0.9 0.8" fill="none" stroke="#2b3990" stroke-width="0.4" />
<path d="M338.3 595.9l0.9 0.8-0.9 0.8" fill="none" stroke="#2b3990" stroke-width="0.4" />
<path d="M349.3 595.9l0.9 0.8-0.9 0.8" fill="none" stroke="#2b3990" stroke-width="0.4" />
<path d="M360.3 595.9l0.9 0.8-0.9 0.8" fill="none" stroke="#2b3990" stroke-width="0.4" />
<path d="M371.3 595.9l0.9 0.8-0.9 0.8" fill="none" stroke="#2b3990" stroke-width="0.4" />
<path d="M382.3 595.9l0.9 0.8-0.9 0.8" fill="none" stroke="#2b3990" stroke-width="0.4" />
<rect x="177.85" y="595.10" width="0.90" height="3.20" fill="#1f2f8a" />
<rect x="179.70" y="594.90" width="1.20" height="3.60" fill="#1f2f8a" />
<rect x="182.80" y="594.90" width="0.80" height="3.60" fill="#1f2f8a" />
<rect x="184.60" y="594.90" width="0.80" height="3.60" fill="#1f2f8a" />
<rect x="186.15" y="594.90" width="0.90" height="3.60" fill="#1f2f8a" />
<rect x="187.70" y="594.90" width="1.00" height="3.60" fill="#1f2f8a" />
<rect x="190.45" y="595.20" width="0.70" height="3.00" fill="#1f2f8a" />
<rect x="193.20" y="594.90" width="0.80" height="3.60" fill="#1f2f8a" />
<rect x="195.40" y="594.90" width="0.80" height="3.60" fill="#1f2f8a" />
<rect x="197.25" y="594.90" width="0.70" height="3.60" fill="#1f2f8a" />
<rect x="200.15" y="595.20" width="0.70" height="3.00" fill="#1f2f8a" />
<rect x="203.15" y="595.20" width="0.70" height="3.00" fill="#1f2f8a" />
<rect x="205.70" y="595.40" width="0.60" height="2.60" fill="#1f2f8a" />
<rect x="222.30" y="595.20" width="1.00" height="3.00" fill="#1f2f8a" />
<rect x="224.60" y="595.20" width="1.00" height="3.00" fill="#1f2f8a" />
<text x="161.50" y="607.40" font-size="6.4" font-family='"Liberation Sans", Arial, sans-serif' font-style="italic" fill="#333">PAX6</text>
<text x="262.30" y="607.40" font-size="6.4" font-family='"Liberation Sans", Arial, sans-serif' text-anchor="end" font-style="italic" fill="#333">PAX6-AS1</text>
<text x="332.20" y="607.60" font-size="6.4" font-family='"Liberation Sans", Arial, sans-serif' text-anchor="middle" font-style="italic" fill="#333">PRDM16</text>
<text x="6.97" y="636.00" font-size="12.6" font-family='"Liberation Sans", Arial, sans-serif' font-weight="bold">F</text>
<text x="44.20" y="648.39" font-size="8.1" font-family='"Liberation Sans", Arial, sans-serif' text-anchor="middle" fill="#222">Patient</text>
<path d="M38.1 711.9h0M40.6 713.8h0M34.8 717.9h0M52.8 710.4h0M38.4 715.6h0M43.0 719.6h0M46.9 710.1h0M34.3 720.6h0M38.8 718.8h0M39.3 716.0h0M43.3 710.7h0M46.1 711.7h0M60.3 705.9h0M48.3 712.2h0M45.1 718.7h0M44.6 712.7h0M54.2 706.6h0M41.9 716.2h0M53.7 706.9h0M48.0 709.4h0M33.2 726.0h0M51.7 711.1h0M41.7 721.3h0M35.7 717.2h0M38.6 716.7h0M50.1 713.3h0M38.3 725.2h0M49.1 714.4h0M34.9 721.2h0M54.7 716.3h0M39.0 722.6h0M41.3 717.1h0M35.0 718.6h0M44.9 714.2h0M50.5 707.0h0M53.0 709.5h0M54.0 705.4h0M38.4 711.5h0M44.4 716.3h0M45.9 712.6h0M37.8 719.9h0M48.9 715.6h0M46.5 713.7h0M51.2 711.0h0M48.5 709.5h0" fill="none" stroke="#b5bd2a" stroke-width="0.9" stroke-linecap="round"/>
<path d="M42.2 715.9h0M35.0 723.8h0M37.4 722.5h0M48.2 714.4h0M56.9 707.1h0M47.5 709.9h0M41.8 721.2h0M49.6 710.4h0M43.2 712.0h0M42.5 716.2h0M45.4 706.8h0M48.3 705.2h0M50.8 710.7h0M55.0 705.4h0M53.2 706.4h0M44.8 714.1h0M50.7 713.8h0M58.2 703.0h0M42.4 711.5h0M44.4 713.4h0M53.7 710.5h0M45.2 718.1h0M40.2 709.4h0M42.5 717.3h0M49.1 712.5h0M51.5 704.9h0M50.9 711.3h0M34.4 720.2h0M55.3 705.4h0M46.0 713.6h0M47.8 708.9h0M51.4 709.6h0M36.2 719.1h0M35.9 719.8h0M42.7 718.5h0" fill="none" stroke="#35bfc6" stroke-width="0.9" stroke-linecap="round"/>
<path d="M53.6 706.6h0M36.2 719.9h0M47.0 709.3h0M52.3 709.3h0M49.3 715.0h0M40.3 718.1h0M43.9 712.9h0M50.6 704.6h0M49.7 713.8h0M41.7 718.5h0M50.2 712.3h0M40.8 712.6h0M47.4 709.0h0M51.8 708.5h0M53.4 705.6h0M39.7 709.8h0M37.3 712.9h0M53.9 708.0h0M49.3 715.5h0M48.6 705.3h0M45.6 713.2h0M49.7 705.2h0M46.1 713.2h0M44.6 717.3h0M46.4 709.5h0" fill="none" stroke="#232a7a" stroke-width="0.9" stroke-linecap="round"/>
<path d="M68.7 705.9h0M67.9 708.2h0M60.5 708.8h0M58.8 700.8h0M62.3 709.8h0M56.1 692.7h0M52.6 690.6h0M43.4 704.7h0M61.6 706.2h0M53.1 703.2h0M56.9 695.5h0M46.6 702.4h0M53.2 702.1h0M49.5 711.9h0M61.3 701.6h0M67.3 691.3h0M50.3 702.8h0M60.3 711.1h0M49.8 703.8h0M73.6 706.7h0M52.0 703.4h0M60.4 696.7h0M48.8 704.5h0M64.8 707.0h0M45.1 711.8h0M62.2 701.8h0M54.9 704.5h0M47.9 708.5h0M63.5 700.0h0M56.4 707.6h0M47.9 694.8h0M65.2 711.6h0M61.9 704.6h0M59.3 713.1h0M55.5 709.1h0M55.9 702.1h0M57.6 701.0h0M53.5 703.7h0M60.4 711.0h0M52.6 706.3h0M51.7 707.8h0M60.2 707.4h0M52.2 697.7h0M46.5 701.8h0M49.0 696.4h0M59.1 713.8h0M62.8 692.0h0M55.9 708.8h0M61.7 702.0h0M70.5 703.9h0" fill="none" stroke="#232a7a" stroke-width="0.9" stroke-linecap="round"/>
<path d="M66.0 707.8h0M62.3 701.2h0M72.3 710.4h0M53.7 709.2h0M67.3 708.6h0M62.6 704.1h0M65.8 712.2h0M76.4 698.1h0M68.3 708.9h0M63.4 699.1h0M61.5 702.0h0M65.6 706.0h0M70.4 706.5h0M55.3 704.4h0M65.3 707.5h0M66.3 714.2h0M76.7 704.3h0M64.8 706.0h0M69.4 703.3h0M63.5 700.6h0M55.9 706.2h0M55.6 707.9h0M72.3 705.6h0M65.1 702.4h0M53.6 707.3h0M59.7 706.8h0M66.7 710.2h0M75.6 706.0h0M66.0 697.6h0M68.4 699.6h0M56.3 708.8h0M45.9 704.6h0M64.6 701.4h0M71.4 700.6h0M64.9 696.0h0M52.4 711.0h0M69.7 699.7h0M64.1 696.5h0M55.0 709.5h0M68.0 707.0h0M62.1 705.1h0M57.7 710.6h0M59.9 702.4h0M71.4 702.5h0M58.4 711.3h0M56.3 702.4h0M43.3 718.6h0M57.2 698.9h0M64.2 691.0h0M71.2 706.0h0" fill="none" stroke="#35bfc6" stroke-width="0.9" stroke-linecap="round"/>
<path d="M56.7 695.4h0M55.7 701.1h0M58.6 705.5h0M60.1 702.6h0M62.2 695.8h0M43.9 699.2h0M42.2 691.9h0M51.1 691.7h0M63.0 703.7h0M57.1 698.2h0M59.7 698.5h0M54.0 700.6h0M50.1 700.2h0M68.2 705.2h0M51.6 703.5h0M53.1 696.7h0M55.4 708.5h0M53.2 698.2h0M56.1 695.1h0M60.7 700.4h0M59.8 700.9h0M57.1 694.0h0M63.6 694.0h0M71.2 705.6h0M58.8 699.2h0M61.4 696.4h0M43.7 702.3h0M57.2 707.3h0M64.4 696.3h0M43.4 703.3h0" fill="none" stroke="#ac4f9c" stroke-width="0.9" stroke-linecap="round"/>
<path d="M67.4 714.7h0M64.9 714.9h0M59.5 712.0h0M63.3 711.9h0M60.8 712.0h0M61.0 713.8h0M69.4 714.3h0M63.9 710.3h0M65.2 715.7h0M64.4 713.7h0M66.4 713.2h0M66.9 712.4h0M69.5 715.7h0M60.2 714.3h0M60.3 712.2h0M59.7 710.1h0M64.7 716.2h0M60.3 715.6h0M69.3 715.8h0M65.7 712.8h0M60.8 713.6h0M66.1 717.4h0M68.7 718.2h0M69.3 714.0h0M67.0 715.8h0" fill="none" stroke="#232a7a" stroke-width="0.9" stroke-linecap="round"/>
<path d="M48.5 659.5C48.9 657.9 50.0 658.4 51.0 658.3C52.0 658.1 53.6 658.1 54.5 658.6C55.4 659.1 56.0 659.6 56.3 661.0C56.5 662.4 56.2 665.0 56.0 667.0C55.8 669.0 55.2 671.2 55.0 673.0C54.8 674.8 54.7 676.2 54.6 678.0C54.5 679.8 54.5 682.9 54.3 684.0C54.1 685.1 53.5 685.3 53.2 684.5C52.9 683.7 53.0 680.8 52.6 679.0C52.2 677.2 51.7 675.8 51.0 674.0C50.3 672.2 49.0 670.4 48.6 668.0C48.2 665.6 48.1 661.1 48.5 659.5Z" fill="#35965a" />
<path d="M48.4 659.8h0M53.0 671.0h0M54.1 665.8h0M55.0 659.6h0M48.5 665.9h0M54.5 676.8h0M50.4 661.5h0M51.1 660.8h0M54.4 673.3h0M56.3 669.7h0M55.2 666.0h0M50.7 668.6h0M50.0 667.6h0M51.1 667.6h0M51.4 668.3h0M55.2 672.5h0M55.6 673.1h0M56.0 665.3h0M52.8 673.3h0M55.3 659.3h0M52.8 679.4h0M48.5 659.8h0M54.6 682.5h0M53.8 664.3h0M52.6 678.8h0M51.4 666.9h0M52.3 672.4h0M54.5 677.2h0M56.3 668.9h0M55.5 676.0h0M52.6 677.2h0M55.2 669.2h0M51.7 661.6h0M51.2 662.2h0M49.6 669.3h0M48.3 666.1h0M55.0 662.5h0M53.2 682.8h0M48.0 660.5h0M49.4 663.5h0M53.3 663.7h0M49.4 665.3h0M50.6 672.7h0M55.4 670.8h0M56.3 667.0h0M52.8 684.1h0M52.2 663.6h0M55.2 668.2h0M52.7 671.8h0M53.9 664.1h0" fill="none" stroke="#35965a" stroke-width="1.0" stroke-linecap="round"/>
<path d="M52.2 687.7h0M53.4 690.8h0M54.5 689.0h0M52.7 684.7h0M53.2 685.7h0M55.0 688.2h0M54.2 692.7h0M53.1 688.3h0M52.7 690.6h0M54.9 691.1h0M52.5 685.8h0M54.5 684.1h0" fill="none" stroke="#35965a" stroke-width="1.0" stroke-linecap="round"/>
<path d="M51.9 703.6h0M58.6 701.5h0M56.5 700.3h0M55.7 699.0h0M56.1 702.1h0M55.9 700.6h0M51.7 701.7h0M57.9 709.3h0M54.1 706.2h0M57.1 704.6h0M50.7 704.3h0M52.3 707.7h0M57.2 705.5h0M47.9 705.5h0M57.0 697.9h0M57.7 703.3h0M54.5 700.1h0M52.1 701.3h0M63.6 703.8h0M55.6 700.4h0M53.3 700.8h0M52.5 706.5h0M54.2 706.5h0M51.8 706.7h0M54.9 705.7h0M54.7 699.4h0M58.4 701.3h0M54.6 699.5h0M55.6 701.4h0M55.8 704.4h0M53.1 697.4h0M56.2 706.7h0M56.9 698.4h0M56.7 704.5h0M55.8 704.7h0M54.1 703.9h0M57.6 701.0h0M51.0 702.6h0M55.5 695.6h0M53.1 705.4h0M54.6 703.4h0M51.5 706.6h0M59.9 702.2h0M52.9 698.4h0M57.5 703.4h0" fill="none" stroke="#35965a" stroke-width="1.0" stroke-linecap="round"/>
<path d="M53.6 692.9h0M58.3 690.4h0M50.7 687.6h0M57.9 683.1h0M58.8 693.7h0M59.1 685.1h0M53.9 691.8h0M59.0 692.9h0M59.6 687.6h0M54.8 680.6h0M58.4 697.1h0M54.6 686.1h0M57.9 689.5h0M51.9 685.1h0M52.7 696.1h0M53.8 691.4h0M61.8 695.6h0M60.3 694.5h0M52.3 686.6h0M53.8 686.8h0M63.9 681.3h0M57.7 683.1h0M60.0 693.2h0M54.5 696.3h0M56.2 693.2h0" fill="none" stroke="#b9d8c4" stroke-width="0.9" stroke-linecap="round"/>
<path d="M56.4 694.5C56.7 693.6 57.7 692.9 58.5 692.8C59.3 692.7 60.9 693.2 61.4 694.0C61.9 694.8 62.0 696.7 61.6 697.5C61.2 698.3 59.8 698.9 59.0 699.0C58.2 699.1 57.0 698.8 56.6 698.0C56.2 697.2 56.1 695.4 56.4 694.5Z" fill="#ac4f9c" />
<path d="M61.2 693.4h0M59.3 692.6h0M60.1 694.4h0M60.2 697.8h0M58.2 696.6h0M57.0 695.7h0M56.6 695.0h0M59.5 693.4h0M59.1 694.1h0M59.5 694.6h0M60.2 693.1h0M62.1 696.7h0M58.8 695.2h0M59.8 697.4h0M60.8 697.9h0M58.9 699.8h0M58.4 695.4h0M59.4 699.1h0M59.2 696.1h0M58.5 699.1h0" fill="none" stroke="#ac4f9c" stroke-width="1.0" stroke-linecap="round"/>
<path d="M71.5 706.5C71.6 704.7 72.9 702.4 74.0 701.0C75.1 699.6 76.8 698.8 78.0 698.4C79.2 698.0 80.7 697.8 81.4 698.6C82.1 699.4 81.9 700.9 82.0 703.0C82.1 705.1 82.1 709.1 81.8 711.0C81.5 712.9 80.9 713.9 80.0 714.6C79.1 715.3 77.6 715.6 76.5 715.2C75.4 714.8 74.3 713.5 73.5 712.0C72.7 710.5 71.4 708.3 71.5 706.5Z" fill="#35bfc6" />
<path d="M79.5 714.2h0M79.6 708.6h0M79.8 703.2h0M77.9 698.9h0M72.2 705.8h0M76.8 704.9h0M77.1 702.0h0M74.4 704.9h0M78.8 713.5h0M75.8 712.4h0M73.4 711.3h0M77.6 714.2h0M72.2 707.5h0M73.7 703.1h0M81.5 712.6h0M75.5 704.2h0M77.8 698.4h0M74.4 706.8h0M76.4 701.4h0M81.6 701.2h0M80.8 704.1h0M76.4 700.8h0M73.1 709.2h0M79.5 703.4h0M79.3 700.1h0M79.1 714.9h0M76.1 699.1h0M73.4 703.3h0M79.3 701.2h0M72.9 701.9h0M78.7 712.1h0M75.2 709.8h0M81.4 708.5h0M73.5 703.1h0M81.9 709.9h0M74.0 709.4h0M76.0 707.3h0M77.1 698.4h0M78.0 702.8h0M73.7 712.4h0M79.8 702.1h0M74.1 707.7h0M76.3 711.4h0M75.4 714.7h0M76.7 700.9h0" fill="none" stroke="#35bfc6" stroke-width="1.0" stroke-linecap="round"/>
<path d="M55.2 717.0C55.5 715.5 56.3 715.4 57.0 715.2C57.7 715.0 59.1 715.2 59.6 716.0C60.1 716.8 60.3 718.5 60.3 720.0C60.3 721.5 60.2 724.0 59.8 725.0C59.4 726.0 58.5 726.4 57.8 726.2C57.0 726.0 55.7 725.5 55.3 724.0C54.9 722.5 54.9 718.5 55.2 717.0Z" fill="#232a7a" />
<path d="M58.1 722.5h0M56.8 722.7h0M59.6 720.9h0M57.8 725.1h0M59.0 721.0h0M59.6 716.5h0M58.5 717.4h0M57.4 724.1h0M59.7 724.4h0M56.0 720.6h0M55.9 721.7h0M57.7 714.8h0M58.4 723.4h0M58.2 725.4h0M55.6 716.3h0M54.5 720.7h0M57.3 720.0h0M56.2 724.5h0M58.2 721.2h0M59.7 717.4h0" fill="none" stroke="#232a7a" stroke-width="1.0" stroke-linecap="round"/>
<path d="M13.8 718.0C14.2 715.8 14.8 715.2 16.0 714.6C17.2 714.0 19.5 713.9 21.0 714.2C22.5 714.5 23.7 716.0 25.0 716.5C26.3 717.0 27.7 717.2 29.0 717.5C30.3 717.8 32.0 717.5 33.0 718.0C34.0 718.5 34.8 719.6 34.8 720.5C34.8 721.4 34.3 722.7 33.0 723.5C31.7 724.3 28.5 724.7 27.0 725.5C25.5 726.3 25.2 727.3 24.0 728.5C22.8 729.7 21.5 732.0 20.0 732.6C18.5 733.2 16.1 733.2 15.0 732.4C13.9 731.6 13.6 730.4 13.4 728.0C13.2 725.6 13.4 720.2 13.8 718.0Z" fill="#b5bd2a" />
<path d="M16.0 719.6h0M13.6 719.7h0M26.9 723.9h0M18.7 725.2h0M14.6 729.8h0M16.5 718.5h0M16.3 727.2h0M14.0 721.6h0M21.0 717.7h0M23.9 728.6h0M23.1 728.3h0M13.5 718.2h0M21.6 719.4h0M22.4 714.9h0M17.9 718.5h0M25.3 718.2h0M21.0 720.1h0M13.5 721.5h0M20.5 727.3h0M33.0 722.7h0M21.6 730.3h0M21.4 729.0h0M17.6 720.3h0M16.8 724.4h0M16.4 717.5h0M17.5 722.8h0M19.7 722.3h0M32.4 717.5h0M21.4 714.9h0M28.5 720.7h0M18.9 713.8h0M16.8 718.6h0M29.0 718.8h0M20.9 716.5h0M34.1 720.6h0M20.0 721.1h0M14.5 731.0h0M20.1 728.8h0M21.7 718.2h0M19.8 721.9h0M25.1 716.1h0M28.9 718.6h0M16.0 717.5h0M19.0 727.7h0M21.9 721.1h0M32.5 717.9h0M19.3 720.3h0M17.6 714.2h0M13.2 726.0h0M17.6 727.2h0M32.6 718.1h0M22.4 721.2h0M14.0 721.1h0M20.1 723.3h0M19.0 716.6h0" fill="none" stroke="#b5bd2a" stroke-width="1.0" stroke-linecap="round"/>
<circle cx="85.90" cy="665.00" r="1.90" fill="#232a7a" />
<text x="88.80" y="666.72" font-size="5.0" font-family='"Liberation Sans", Arial, sans-serif' fill="#333">GLICO_320</text>
<circle cx="85.90" cy="672.00" r="1.90" fill="#35965a" />
<text x="88.80" y="673.72" font-size="5.0" font-family='"Liberation Sans", Arial, sans-serif' fill="#333">GLICO_1206</text>
<circle cx="85.90" cy="679.00" r="1.90" fill="#ac4f9c" />
<text x="88.80" y="680.72" font-size="5.0" font-family='"Liberation Sans", Arial, sans-serif' fill="#333">GLICO_810</text>
<circle cx="85.90" cy="686.00" r="1.90" fill="#35bfc6" />
<text x="88.80" y="687.72" font-size="5.0" font-family='"Liberation Sans", Arial, sans-serif' fill="#333">GLICO_607</text>
<circle cx="85.90" cy="693.00" r="1.90" fill="#b5bd2a" />
<text x="88.80" y="694.72" font-size="5.0" font-family='"Liberation Sans", Arial, sans-serif' fill="#333">GLICO_728</text>
<line x1="10.40" y1="737.30" x2="10.40" y2="703.80" stroke="#111" stroke-width="0.95" />
<path d="M8.5 704.5L10.4 701.3L12.3 704.5Z" fill="#111" />
<line x1="9.95" y1="737.30" x2="44.90" y2="737.30" stroke="#111" stroke-width="0.95" />
<path d="M44.2 735.4L47.4 737.3L44.2 739.2Z" fill="#111" />
<text x="8.50" y="727.80" font-size="8.3" font-family='"Liberation Sans", Arial, sans-serif' text-anchor="middle" fill="#111" transform="rotate(-90 8.50 727.80)">FDL2</text>
<text x="23.90" y="747.16" font-size="8.3" font-family='"Liberation Sans", Arial, sans-serif' text-anchor="middle" fill="#111">FDL1</text>
<text x="172.40" y="648.39" font-size="8.1" font-family='"Liberation Sans", Arial, sans-serif' text-anchor="middle" fill="#222">Cell state</text>
<path d="M171.6 715.2h0M179.9 712.3h0M170.4 716.6h0M176.7 708.9h0M183.4 710.9h0M175.0 716.6h0M161.0 720.3h0M174.0 715.9h0M160.5 725.5h0M177.0 716.7h0M164.1 719.0h0M184.6 709.5h0M187.2 703.0h0M176.3 713.2h0M172.9 711.8h0M173.5 714.9h0M164.3 718.9h0M173.8 715.4h0M168.7 722.3h0M172.7 717.5h0M173.3 718.4h0M175.7 710.1h0M180.8 706.2h0M168.3 720.8h0M170.2 712.1h0M185.4 709.5h0M164.9 716.4h0M175.7 714.2h0M179.9 709.3h0M168.7 718.8h0M176.8 714.0h0M168.5 722.6h0M161.5 720.8h0M178.2 718.6h0M186.9 708.7h0" fill="none" stroke="#c9c9d6" stroke-width="0.9" stroke-linecap="round"/>
<path d="M176.7 710.7h0M181.0 714.7h0M169.1 720.2h0M185.9 705.2h0M172.7 710.9h0M184.4 707.2h0M171.7 713.6h0M171.6 718.6h0M188.1 706.6h0M176.9 712.6h0M180.8 711.6h0M164.2 718.9h0M163.4 724.8h0M189.8 707.8h0M160.9 719.8h0" fill="none" stroke="#ad168b" stroke-width="0.9" stroke-linecap="round"/>
<path d="M196.9 707.7h0M206.5 693.1h0M200.0 709.8h0M191.7 697.1h0M209.6 703.3h0M198.3 696.9h0M203.1 700.8h0M203.4 706.5h0M207.3 702.1h0M197.7 704.2h0M201.0 705.1h0M197.6 702.7h0M197.2 700.6h0M203.0 710.8h0M197.6 707.5h0M204.5 704.7h0M207.1 700.8h0M206.2 705.8h0M174.5 706.1h0M206.5 715.5h0M193.5 704.6h0M204.5 698.4h0M211.2 706.7h0M195.5 697.0h0M198.5 718.0h0M218.7 689.5h0M187.5 708.0h0M200.9 700.3h0M206.5 704.6h0M204.0 705.6h0M193.3 711.8h0M198.2 710.7h0M207.2 704.3h0M202.9 703.8h0M187.3 702.1h0M205.1 694.6h0M190.1 710.4h0M208.1 694.9h0M205.4 703.8h0M209.4 702.1h0M200.0 699.6h0M203.2 703.3h0M196.6 702.0h0M195.8 707.7h0M193.7 694.9h0M194.2 710.4h0M197.8 707.9h0M207.6 701.0h0M207.7 707.0h0M201.4 699.9h0M201.3 696.5h0M199.6 700.6h0M205.2 706.1h0M196.7 709.1h0M211.2 704.4h0M195.9 707.0h0M182.5 700.6h0M206.4 715.9h0M195.9 713.1h0M220.1 715.2h0" fill="none" stroke="#ad168b" stroke-width="0.9" stroke-linecap="round"/>
<path d="M182.8 702.5h0M186.8 702.0h0M186.2 694.0h0M186.1 704.4h0M187.8 695.6h0M187.1 701.3h0M187.4 696.8h0M185.5 693.3h0M185.8 694.3h0M184.0 690.0h0M187.9 691.5h0M184.4 696.8h0M188.8 703.3h0M185.9 691.9h0M185.7 692.5h0M185.6 699.4h0M184.8 693.1h0M186.1 696.9h0M185.3 693.1h0M184.7 693.3h0M187.3 695.8h0M181.6 700.1h0M186.4 692.7h0M186.1 682.0h0M183.9 702.8h0M189.9 707.9h0M185.3 697.2h0M187.7 690.9h0M189.3 693.4h0M187.1 691.3h0M187.1 696.9h0M188.2 691.3h0M186.5 706.1h0M184.6 698.8h0M187.2 694.5h0M186.1 704.1h0M188.3 699.8h0M186.9 691.3h0M186.6 706.0h0M188.2 690.2h0M183.2 693.7h0M186.8 694.3h0M186.0 698.7h0M187.9 698.1h0M188.5 689.9h0" fill="none" stroke="#3aa9e2" stroke-width="1.0" stroke-linecap="round"/>
<path d="M181.1 659.5C181.5 657.9 182.6 658.4 183.6 658.3C184.6 658.1 186.2 658.1 187.1 658.6C188.0 659.1 188.7 659.6 188.9 661.0C189.2 662.4 188.8 665.0 188.6 667.0C188.4 669.0 187.9 671.2 187.6 673.0C187.4 674.8 187.3 676.2 187.2 678.0C187.1 679.8 187.2 682.9 186.9 684.0C186.7 685.1 186.1 685.3 185.8 684.5C185.5 683.7 185.6 680.8 185.2 679.0C184.9 677.2 184.3 675.8 183.6 674.0C183.0 672.2 181.6 670.4 181.2 668.0C180.8 665.6 180.7 661.1 181.1 659.5Z" fill="#f0d416" />
<path d="M181.4 662.6h0M186.1 682.6h0M184.4 657.9h0M183.5 666.3h0M186.2 665.2h0M186.0 676.8h0M182.0 661.1h0M186.8 670.5h0M181.5 660.7h0M183.7 663.0h0M187.2 667.5h0M183.2 668.8h0M184.2 670.2h0M185.1 683.7h0M186.7 670.1h0M189.1 668.3h0M187.3 674.2h0M184.5 659.3h0M184.3 665.3h0M186.6 664.3h0M184.2 661.2h0M188.7 664.5h0M184.3 667.0h0M185.9 672.7h0M181.1 667.6h0M186.6 667.1h0M184.7 667.6h0M184.7 666.3h0M186.6 674.3h0M188.1 675.6h0M184.1 675.7h0M182.3 667.8h0M181.7 668.5h0M187.3 659.8h0M186.2 678.1h0M187.2 679.1h0M181.4 670.5h0M180.5 667.3h0M185.4 672.3h0M183.2 671.6h0M181.5 660.0h0M185.1 665.7h0M187.6 664.4h0M184.2 659.0h0M182.4 670.1h0M185.6 670.3h0M188.3 660.4h0M188.3 661.8h0M184.1 674.5h0M184.2 657.8h0" fill="none" stroke="#f0d416" stroke-width="1.0" stroke-linecap="round"/>
<path d="M185.5 691.1h0M187.4 690.0h0M185.5 688.3h0M185.1 684.3h0M187.1 691.3h0M185.2 687.2h0M185.3 685.7h0M186.1 687.9h0M187.1 691.7h0M188.1 688.7h0M186.6 691.9h0M186.3 686.1h0" fill="none" stroke="#f0d416" stroke-width="1.0" stroke-linecap="round"/>
<path d="M186.5 666.6h0M185.9 677.5h0M185.8 673.0h0M185.7 675.2h0M187.9 676.1h0M187.4 675.2h0M185.7 669.9h0M186.6 675.2h0M186.0 676.4h0M185.9 672.5h0M186.5 663.9h0M187.3 672.4h0M186.6 671.8h0M184.8 662.1h0M185.8 679.1h0M186.0 676.3h0M185.7 666.1h0M186.1 679.5h0M185.2 670.8h0M186.8 673.0h0M186.5 677.6h0M186.7 664.9h0M187.0 666.5h0M186.2 682.3h0M188.5 682.3h0" fill="none" stroke="#3aa9e2" stroke-width="0.9" stroke-linecap="round"/>
<path d="M186.1 660.3h0M184.7 664.0h0M186.0 659.4h0M187.5 662.4h0M187.2 662.1h0M183.0 660.4h0M185.4 661.3h0M187.4 660.5h0M185.5 661.4h0M185.5 659.9h0M184.1 657.6h0M186.0 661.2h0M185.9 659.9h0M185.6 660.0h0" fill="none" stroke="#1f2270" stroke-width="1.2" stroke-linecap="round"/>
<path d="M191.0 696.0h0M193.5 696.4h0M192.4 694.9h0M194.6 697.4h0M191.6 693.9h0M193.1 696.0h0M191.1 699.0h0M189.3 694.2h0M192.9 697.0h0M189.7 694.9h0M194.7 697.6h0M192.1 695.6h0M191.2 696.1h0M190.9 692.4h0M190.2 695.6h0M190.5 697.2h0M194.4 697.0h0M193.5 697.2h0" fill="none" stroke="#1f2270" stroke-width="1.1" stroke-linecap="round"/>
<path d="M187.4 707.7h0M187.8 707.6h0M185.4 705.6h0M185.4 707.7h0M187.8 705.4h0M185.4 705.7h0M188.4 706.3h0M186.6 705.5h0M186.8 708.8h0M185.9 706.0h0M189.7 707.5h0M185.2 708.0h0M185.0 707.3h0M182.9 705.1h0M188.5 705.7h0M185.8 706.6h0M187.0 705.8h0M185.9 709.0h0M189.4 707.0h0M185.2 705.8h0M186.5 707.2h0M189.6 705.8h0M187.2 705.9h0M187.2 705.5h0M187.6 708.1h0M186.4 706.0h0M187.2 704.7h0M189.9 704.6h0M186.4 705.3h0M189.4 705.8h0" fill="none" stroke="#ad168b" stroke-width="1.2" stroke-linecap="round"/>
<path d="M208.8 706.5C208.9 704.7 210.5 702.4 211.8 701.0C213.1 699.6 215.1 698.8 216.6 698.4C218.0 698.0 219.8 697.8 220.6 698.6C221.4 699.4 221.3 700.9 221.4 703.0C221.4 705.1 221.5 709.1 221.1 711.0C220.7 712.9 220.0 713.9 219.0 714.6C217.9 715.3 216.1 715.6 214.8 715.2C213.5 714.8 212.2 713.5 211.2 712.0C210.2 710.5 208.7 708.3 208.8 706.5Z" fill="#ad168b" />
<path d="M212.1 713.4h0M218.3 702.5h0M215.6 702.3h0M212.1 702.3h0M209.8 706.5h0M211.8 702.8h0M211.9 707.0h0M220.4 700.5h0M220.2 713.3h0M216.6 707.6h0M218.4 707.4h0M217.3 714.5h0M219.0 702.4h0M213.1 712.1h0M211.3 705.9h0M213.2 711.0h0M221.4 706.9h0M216.0 704.0h0M217.3 698.9h0M220.8 699.5h0M216.0 699.8h0M222.0 703.3h0M220.3 698.7h0M217.4 698.8h0M221.9 710.2h0M220.1 712.0h0M215.4 699.0h0M215.4 701.0h0M215.4 704.1h0M215.0 701.2h0M218.0 705.3h0M214.9 699.0h0M214.9 707.9h0M221.8 707.9h0M209.9 703.1h0M212.7 710.5h0M208.2 706.6h0M216.3 710.2h0M216.7 708.9h0M221.2 699.2h0M215.3 715.3h0M219.7 710.3h0M215.3 708.3h0M218.7 712.5h0M219.8 705.1h0" fill="none" stroke="#ad168b" stroke-width="1.0" stroke-linecap="round"/>
<path d="M188.8 717.0C189.1 715.5 190.0 715.4 190.7 715.2C191.5 715.0 192.9 715.2 193.5 716.0C194.0 716.8 194.2 718.5 194.2 720.0C194.2 721.5 194.1 724.0 193.7 725.0C193.2 726.0 192.4 726.4 191.6 726.2C190.8 726.0 189.4 725.5 189.0 724.0C188.5 722.5 188.6 718.5 188.8 717.0Z" fill="#ad168b" />
<path d="M190.4 718.8h0M189.9 721.8h0M191.7 718.6h0M192.7 720.1h0M189.3 716.3h0M189.8 720.4h0M193.5 718.6h0M189.7 722.6h0M189.9 721.0h0M189.8 725.5h0M189.3 717.3h0M190.1 718.6h0M193.1 722.9h0M193.5 721.2h0M188.6 724.0h0M189.7 717.1h0M190.6 718.9h0M190.7 716.1h0M193.5 724.3h0M190.4 724.4h0" fill="none" stroke="#ad168b" stroke-width="1.0" stroke-linecap="round"/>
<path d="M189.6 725.1h0M188.8 723.6h0M188.4 724.8h0M191.4 724.6h0M189.9 724.8h0M190.7 724.2h0M190.8 726.5h0M192.4 723.9h0M188.9 726.4h0M191.2 725.7h0M190.8 724.3h0M191.2 725.6h0" fill="none" stroke="#1f2270" stroke-width="1.2" stroke-linecap="round"/>
<path d="M138.4 718.0C138.9 715.8 139.5 715.2 140.8 714.6C142.2 714.0 144.7 713.9 146.3 714.2C148.0 714.5 149.3 716.0 150.7 716.5C152.2 717.0 153.7 717.2 155.1 717.5C156.6 717.8 158.5 717.5 159.5 718.0C160.6 718.5 161.5 719.6 161.5 720.5C161.5 721.4 161.0 722.7 159.5 723.5C158.1 724.3 154.6 724.7 152.9 725.5C151.3 726.3 150.9 727.3 149.6 728.5C148.4 729.7 146.9 732.0 145.2 732.6C143.6 733.2 141.0 733.2 139.7 732.4C138.5 731.6 138.2 730.4 138.0 728.0C137.8 725.6 138.0 720.2 138.4 718.0Z" fill="#f0d416" />
<path d="M161.1 722.5h0M146.5 715.8h0M144.1 732.2h0M139.0 717.1h0M145.9 714.4h0M144.9 717.1h0M140.3 723.9h0M150.8 724.8h0M156.4 723.9h0M142.8 714.9h0M145.0 728.6h0M160.4 723.5h0M141.2 720.0h0M151.5 719.3h0M148.7 725.5h0M158.5 722.7h0M142.0 732.3h0M156.4 721.4h0M138.5 716.7h0M141.5 728.1h0M142.5 713.8h0M142.7 729.4h0M149.7 726.5h0M148.9 717.1h0M137.6 719.5h0M138.2 718.6h0M152.7 720.8h0M149.1 725.9h0M145.2 720.5h0M147.7 724.2h0M148.8 720.0h0M160.2 718.1h0M144.4 716.8h0M155.4 718.1h0M151.9 716.6h0M161.0 719.1h0M139.6 727.1h0M145.9 724.6h0M150.1 721.0h0M144.0 724.9h0M153.1 722.6h0M139.4 723.4h0M149.3 726.2h0M148.3 715.1h0M157.3 718.1h0M143.6 731.5h0M149.9 721.9h0M149.5 723.0h0M144.5 730.2h0M149.8 720.2h0M142.1 717.7h0M157.3 716.9h0M157.7 719.5h0M143.3 731.8h0M137.8 723.6h0" fill="none" stroke="#f0d416" stroke-width="1.0" stroke-linecap="round"/>
<path d="M148.6 724.2h0M146.8 719.9h0M154.3 721.1h0M154.4 722.9h0M156.5 724.7h0M152.5 721.1h0M152.5 724.1h0M151.4 717.7h0M150.1 721.5h0M150.9 721.5h0M153.9 720.1h0M152.1 719.0h0" fill="none" stroke="#ad168b" stroke-width="1.0" stroke-linecap="round"/>
<circle cx="224.60" cy="672.20" r="2.10" fill="#ad168b" />
<text x="227.90" y="674.09" font-size="5.5" font-family='"Liberation Sans", Arial, sans-serif' fill="#333">AC</text>
<circle cx="224.60" cy="679.15" r="2.10" fill="#f0d416" />
<text x="227.90" y="681.04" font-size="5.5" font-family='"Liberation Sans", Arial, sans-serif' fill="#333">MES</text>
<circle cx="224.60" cy="686.10" r="2.10" fill="#3aa9e2" />
<text x="227.90" y="687.99" font-size="5.5" font-family='"Liberation Sans", Arial, sans-serif' fill="#333">NPC</text>
<circle cx="224.60" cy="693.05" r="2.10" fill="#1f2270" />
<text x="227.90" y="694.94" font-size="5.5" font-family='"Liberation Sans", Arial, sans-serif' fill="#333">OPC</text>
<line x1="131.20" y1="737.30" x2="131.20" y2="703.80" stroke="#111" stroke-width="0.95" />
<path d="M129.3 704.5L131.2 701.3L133.1 704.5Z" fill="#111" />
<line x1="130.75" y1="737.30" x2="165.70" y2="737.30" stroke="#111" stroke-width="0.95" />
<path d="M165.0 735.4L168.2 737.3L165.0 739.2Z" fill="#111" />
<text x="129.30" y="727.80" font-size="8.3" font-family='"Liberation Sans", Arial, sans-serif' text-anchor="middle" fill="#111" transform="rotate(-90 129.30 727.80)">FDL2</text>
<text x="144.70" y="747.16" font-size="8.3" font-family='"Liberation Sans", Arial, sans-serif' text-anchor="middle" fill="#111">FDL1</text>
<text x="65.00" y="766.93" font-size="7.95" font-family='"Liberation Sans", Arial, sans-serif' text-anchor="middle" fill="#222">PRDM16 locus accessibility</text>
<path d="M57.0 830.8h0M49.2 835.5h0M44.3 846.1h0M42.9 833.8h0M53.0 829.9h0M48.4 841.4h0M57.9 829.4h0M62.6 824.9h0M55.4 820.6h0M56.0 830.9h0M51.2 833.2h0M55.8 826.6h0M56.6 831.3h0M53.3 834.8h0M45.1 841.7h0M56.1 831.7h0M47.9 836.2h0M52.4 833.6h0M48.1 830.0h0M48.2 827.1h0M59.9 830.4h0M60.0 824.7h0" fill="none" stroke="#efd24a" stroke-width="0.9" stroke-linecap="round"/>
<path d="M70.3 820.3h0M75.9 831.2h0M68.2 835.6h0M69.0 816.1h0M71.2 811.5h0M67.6 814.5h0M66.5 824.6h0M50.3 826.1h0M72.1 821.2h0M75.7 825.7h0M67.1 814.9h0M75.8 829.1h0M58.2 817.1h0M60.5 829.6h0M65.4 813.0h0M82.1 826.6h0M71.9 824.9h0M68.5 823.2h0M77.1 826.5h0M66.3 823.7h0M85.0 818.5h0M59.4 823.9h0" fill="none" stroke="#efd24a" stroke-width="0.9" stroke-linecap="round"/>
<path d="M49.1 836.5h0M48.5 842.7h0M49.1 835.0h0M59.4 832.2h0M53.2 830.9h0M47.7 835.3h0M51.9 832.7h0M54.0 829.8h0M56.7 827.9h0M65.1 826.0h0M47.1 830.8h0M46.0 829.7h0M53.2 828.1h0M55.5 836.0h0M55.0 832.5h0M59.0 830.2h0M56.8 833.1h0M38.0 843.9h0M46.0 838.1h0M55.7 826.9h0M45.2 832.8h0M56.9 825.1h0" fill="none" stroke="#9c5aa8" stroke-width="0.9" stroke-linecap="round"/>
<path d="M69.9 835.5h0M60.7 819.2h0M74.3 822.6h0M71.4 816.0h0M67.1 803.6h0M68.4 833.2h0M60.8 821.3h0M75.6 832.7h0M79.3 815.7h0M66.5 837.1h0M66.1 825.2h0M63.0 817.5h0M45.8 818.4h0M52.0 814.6h0M61.9 833.8h0M76.0 826.1h0M65.6 811.6h0M73.7 816.1h0M68.9 830.5h0M68.3 822.6h0M61.7 831.3h0M74.1 828.6h0" fill="none" stroke="#9c5aa8" stroke-width="0.9" stroke-linecap="round"/>
<path d="M61.4 826.2h0M45.7 839.8h0M57.5 826.2h0M51.0 833.0h0M59.5 826.5h0M54.9 827.5h0M60.1 830.4h0M42.5 838.6h0M46.1 826.7h0M46.4 842.3h0M46.8 838.8h0M45.1 836.9h0M59.4 824.8h0M47.9 833.9h0M61.0 825.4h0M49.3 840.5h0M41.6 840.2h0M54.8 826.6h0M45.7 841.1h0M56.8 821.7h0M42.8 841.3h0M56.7 832.3h0" fill="none" stroke="#d0609a" stroke-width="0.9" stroke-linecap="round"/>
<path d="M63.9 812.3h0M66.1 831.1h0M67.5 833.0h0M65.3 828.9h0M70.0 829.7h0M69.9 824.4h0M66.0 833.0h0M69.5 826.9h0M75.1 815.6h0M63.1 822.5h0M80.2 814.3h0M61.6 814.8h0M66.7 814.2h0M63.2 827.1h0M61.0 822.8h0M60.3 821.2h0M74.1 806.6h0M70.3 824.7h0M69.4 824.9h0M73.2 812.3h0M68.8 828.1h0M80.3 811.8h0" fill="none" stroke="#d0609a" stroke-width="0.9" stroke-linecap="round"/>
<path d="M53.6 825.8h0M47.5 836.6h0M66.2 826.7h0M60.6 828.8h0M57.9 824.5h0M49.8 834.0h0M70.2 829.5h0M43.1 844.2h0M57.4 833.6h0M56.1 828.0h0M51.8 831.0h0M54.4 831.5h0M42.0 839.5h0M44.3 834.3h0M42.2 846.0h0M50.1 840.6h0M51.7 835.3h0M41.6 838.5h0M57.3 823.2h0M47.4 842.2h0M44.2 840.3h0M37.0 840.5h0" fill="none" stroke="#6a5aa8" stroke-width="0.9" stroke-linecap="round"/>
<path d="M67.3 828.6h0M72.4 818.5h0M62.7 814.7h0M72.2 822.1h0M62.8 820.0h0M72.7 817.5h0M68.9 818.0h0M49.0 823.6h0M70.4 829.5h0M80.4 817.1h0M74.7 825.1h0M70.5 829.6h0M77.0 812.7h0M81.8 821.5h0M64.5 817.3h0M68.1 813.9h0M78.7 826.4h0M62.7 829.6h0M71.8 823.6h0M77.7 822.2h0M67.8 827.0h0M55.2 813.3h0" fill="none" stroke="#6a5aa8" stroke-width="0.9" stroke-linecap="round"/>
<path d="M41.3 838.9h0M55.0 828.1h0M44.8 837.6h0M61.1 827.7h0M53.1 830.6h0M57.0 824.5h0M42.9 839.6h0M45.1 839.4h0M58.5 828.0h0M44.3 837.9h0M61.7 826.8h0M47.6 838.5h0M44.1 837.2h0M41.7 838.5h0M40.9 838.0h0M48.3 835.5h0M54.9 834.1h0M44.2 839.3h0M42.4 833.5h0M40.3 842.9h0M47.1 829.4h0M41.3 843.7h0" fill="none" stroke="#f4b850" stroke-width="0.9" stroke-linecap="round"/>
<path d="M70.0 809.0h0M64.3 805.7h0M73.1 830.4h0M78.2 812.1h0M87.0 837.5h0M69.0 807.0h0M62.9 831.3h0M86.5 818.6h0M55.1 815.2h0M85.3 822.9h0M58.7 806.1h0M75.0 829.4h0M66.1 821.3h0M70.6 820.2h0M65.5 818.3h0M65.2 832.8h0M73.1 831.1h0M84.7 804.6h0M69.4 830.6h0M68.2 818.1h0M73.1 818.7h0M63.2 820.5h0" fill="none" stroke="#f4b850" stroke-width="0.9" stroke-linecap="round"/>
<path d="M63.1 800.0h0M62.6 809.8h0M66.0 810.6h0M60.7 803.8h0M65.4 812.2h0M62.2 805.6h0M61.4 811.7h0M64.0 798.2h0M62.5 802.4h0M62.2 801.1h0M61.6 809.9h0M64.6 814.8h0M60.1 801.3h0M60.7 809.3h0M65.1 807.1h0M63.1 800.8h0M65.0 803.2h0M60.8 800.1h0M65.1 806.8h0M65.2 809.6h0" fill="none" stroke="#6a5aa8" stroke-width="0.9" stroke-linecap="round"/>
<path d="M80.7 818.7h0M82.2 831.7h0M77.6 823.2h0M75.2 826.5h0M74.9 822.0h0M66.0 815.8h0M84.6 823.1h0M69.0 821.4h0M77.8 819.2h0M71.1 821.6h0M87.4 827.0h0M68.4 816.8h0M66.2 821.4h0M77.5 825.1h0M75.7 819.4h0M71.2 815.4h0M74.9 824.6h0M84.8 826.1h0M66.9 821.3h0M71.7 817.2h0M70.6 817.5h0M66.3 815.1h0M83.0 822.9h0M65.6 816.0h0M74.9 819.2h0" fill="none" stroke="#e9c84a" stroke-width="0.9" stroke-linecap="round"/>
<path d="M75.0 816.9h0M67.4 815.3h0M73.5 810.9h0M62.3 805.5h0M73.9 809.9h0M62.6 807.3h0M64.8 801.3h0M61.3 812.0h0M66.7 814.9h0M67.7 812.0h0M64.9 808.8h0M70.5 818.3h0M71.4 816.8h0M63.0 808.9h0M74.3 806.4h0" fill="none" stroke="#e9c84a" stroke-width="0.9" stroke-linecap="round"/>
<path d="M72.5 818.5h0M71.2 825.1h0M69.6 826.3h0M77.8 818.4h0M72.5 819.0h0M78.1 824.2h0M81.6 828.6h0M73.0 822.8h0M84.6 826.5h0M81.2 831.2h0M71.3 821.2h0M70.1 821.6h0M84.6 824.8h0M79.8 826.4h0M75.4 821.9h0M81.5 823.2h0M77.2 823.6h0M69.1 828.8h0M80.0 817.6h0M81.7 827.1h0M68.0 818.2h0M67.8 819.8h0M77.3 822.4h0M83.6 820.6h0M76.5 816.7h0" fill="none" stroke="#b05aa0" stroke-width="0.9" stroke-linecap="round"/>
<path d="M61.4 806.4h0M65.9 806.5h0M69.0 806.1h0M65.2 807.1h0M67.9 806.3h0M62.2 811.7h0M66.2 805.5h0M69.1 815.8h0M73.3 816.1h0M63.8 811.9h0M65.7 809.5h0M68.3 815.5h0M64.8 806.9h0M66.2 810.9h0M77.8 812.8h0" fill="none" stroke="#b05aa0" stroke-width="0.9" stroke-linecap="round"/>
<path d="M79.9 826.1h0M83.4 824.3h0M83.5 816.6h0M72.9 821.1h0M77.9 815.3h0M77.9 824.1h0M68.5 815.4h0M76.8 825.7h0M72.8 824.6h0M78.2 820.5h0M77.7 823.4h0M73.6 821.8h0M61.8 822.4h0M84.4 825.3h0M73.2 822.7h0M79.3 819.8h0M71.3 819.8h0M80.9 829.7h0M82.6 825.5h0M73.7 814.8h0M69.7 821.4h0M76.3 819.1h0M85.1 822.2h0M85.3 824.9h0M85.8 832.0h0" fill="none" stroke="#7a5ab0" stroke-width="0.9" stroke-linecap="round"/>
<path d="M63.5 810.2h0M68.0 813.8h0M72.2 813.5h0M63.7 808.5h0M70.9 808.8h0M71.3 816.8h0M67.0 816.6h0M67.8 807.0h0M63.6 814.8h0M71.0 809.3h0M62.6 809.5h0M68.4 809.4h0M66.4 809.4h0M74.0 812.1h0M62.2 811.2h0" fill="none" stroke="#7a5ab0" stroke-width="0.9" stroke-linecap="round"/>
<path d="M73.3 821.8h0M73.7 822.6h0M73.8 823.9h0M85.8 821.2h0M74.6 824.4h0M70.9 821.6h0M87.3 826.7h0M71.6 818.5h0M65.4 818.9h0M85.5 829.5h0M70.4 815.1h0M77.2 830.7h0M69.0 823.7h0M82.5 822.3h0M67.9 813.2h0M72.9 816.8h0M65.4 818.7h0M75.8 813.4h0M67.3 819.9h0M81.2 825.4h0M70.9 821.9h0M85.1 819.8h0M83.7 823.0h0M67.0 821.2h0M71.3 831.6h0" fill="none" stroke="#d8609a" stroke-width="0.9" stroke-linecap="round"/>
<path d="M67.4 809.2h0M64.5 801.1h0M64.5 808.1h0M70.9 813.6h0M73.7 804.4h0M62.6 815.3h0M65.8 814.8h0M65.5 809.2h0M73.5 820.7h0M66.6 816.5h0M75.7 814.3h0M71.0 811.9h0M63.7 799.4h0M70.2 816.2h0M61.0 815.1h0" fill="none" stroke="#d8609a" stroke-width="0.9" stroke-linecap="round"/>
<path d="M56.2 775.0C56.6 773.6 57.6 773.6 58.8 773.4C60.0 773.2 62.2 773.4 63.5 773.8C64.8 774.2 66.1 774.6 66.6 776.0C67.1 777.4 66.6 780.0 66.3 782.0C66.0 784.0 65.2 786.0 64.8 788.0C64.4 790.0 64.2 791.9 64.0 794.0C63.8 796.1 63.9 799.3 63.6 800.5C63.3 801.7 62.5 802.1 62.2 801.0C61.9 799.9 62.1 796.2 61.7 794.0C61.3 791.8 60.9 790.0 60.0 788.0C59.1 786.0 57.2 784.2 56.6 782.0C56.0 779.8 55.8 776.4 56.2 775.0Z" fill="#1b1f62" />
<path d="M63.5 792.0h0M63.7 783.3h0M63.1 774.6h0M65.0 786.1h0M57.9 785.8h0M63.6 788.6h0M60.2 779.7h0M58.1 779.1h0M62.7 794.0h0M62.8 782.9h0M59.5 774.7h0M63.4 774.2h0M63.6 799.2h0M63.4 790.3h0M60.9 773.0h0M62.8 791.2h0M59.8 772.7h0M66.2 784.2h0M60.1 780.6h0M63.7 775.4h0M59.1 784.1h0M58.1 773.0h0M58.9 786.9h0M61.7 780.4h0M61.8 774.5h0M59.6 780.9h0M63.8 790.0h0M56.1 776.4h0M64.4 797.1h0M62.9 790.3h0M61.5 780.4h0M58.5 779.0h0M56.3 775.5h0M66.8 776.3h0M64.0 788.0h0M65.2 787.1h0M60.8 773.4h0M63.8 773.7h0M61.7 799.6h0M63.5 776.0h0M64.1 793.1h0M62.3 784.7h0M61.7 780.6h0M59.8 778.2h0M62.5 774.4h0M57.4 774.0h0M62.7 790.8h0M66.9 781.2h0M58.2 779.1h0M61.3 784.9h0" fill="none" stroke="#1b1f62" stroke-width="1.0" stroke-linecap="round"/>
<path d="M60.5 818.5C60.9 817.0 61.9 817.0 62.8 816.8C63.7 816.6 65.2 816.5 65.8 817.5C66.4 818.5 66.5 820.9 66.6 823.0C66.7 825.1 67.1 829.0 66.3 830.3C65.5 831.6 63.0 831.3 62.0 830.6C61.0 829.9 60.5 828.0 60.3 826.0C60.0 824.0 60.1 820.0 60.5 818.5Z" fill="#f4e04c" />
<path d="M62.4 830.6h0M62.0 828.7h0M63.7 817.6h0M59.7 825.4h0M65.0 819.6h0M64.9 828.8h0M65.2 819.8h0M66.7 830.2h0M63.8 816.8h0M62.4 830.0h0M60.0 820.5h0M62.3 817.3h0M62.3 819.1h0M62.9 825.5h0M64.7 817.5h0M63.7 816.9h0M63.0 828.4h0M61.6 828.7h0M61.4 822.1h0M63.9 824.3h0M65.1 830.6h0M65.0 819.4h0M61.1 823.4h0M61.7 824.5h0M60.2 826.7h0M62.8 816.8h0M66.2 829.6h0M62.6 831.2h0M60.8 827.2h0M66.9 819.2h0" fill="none" stroke="#f4e04c" stroke-width="1.0" stroke-linecap="round"/>
<path d="M65.6 814.5C65.6 813.8 66.7 812.8 67.5 812.6C68.3 812.4 70.0 812.6 70.6 813.2C71.2 813.8 71.4 815.8 70.9 816.4C70.4 817.0 68.4 817.2 67.5 816.9C66.6 816.6 65.6 815.2 65.6 814.5Z" fill="#7a4a90" />
<path d="M69.0 814.6h0M65.6 815.6h0M68.9 815.6h0M70.3 816.7h0M65.7 813.6h0M65.8 814.7h0M69.5 816.6h0M68.2 817.2h0M70.6 816.7h0M70.4 813.1h0M67.2 812.1h0M70.1 814.6h0M67.8 816.9h0M71.5 816.3h0" fill="none" stroke="#7a4a90" stroke-width="1.0" stroke-linecap="round"/>
<path d="M84.4 825.5C84.6 823.9 85.7 821.4 87.0 820.0C88.3 818.6 90.4 817.6 92.0 817.0C93.6 816.4 95.9 815.8 96.8 816.6C97.7 817.4 97.4 819.8 97.4 822.0C97.4 824.2 97.5 828.2 97.0 830.0C96.5 831.8 95.8 832.4 94.5 832.8C93.2 833.2 90.4 833.0 89.0 832.5C87.6 832.0 86.8 830.7 86.0 829.5C85.2 828.3 84.2 827.1 84.4 825.5Z" fill="#5352a8" />
<path d="M87.6 826.8h0M84.5 827.8h0M97.5 824.8h0M85.7 825.9h0M84.6 824.0h0M84.8 823.2h0M95.5 829.0h0M96.1 823.9h0M95.1 825.9h0M89.6 818.4h0M89.8 818.2h0M95.7 826.7h0M96.3 825.7h0M85.9 820.7h0M95.9 826.2h0M93.0 827.1h0M89.9 830.8h0M97.4 826.3h0M91.8 823.1h0M97.2 819.5h0M96.3 818.5h0M83.8 826.1h0M87.2 826.7h0M96.9 829.1h0M87.7 826.6h0M87.8 829.3h0M87.4 831.3h0M93.5 831.7h0M88.6 832.8h0M92.1 820.4h0M93.0 821.3h0M92.5 820.1h0M85.7 829.2h0M87.6 822.3h0M97.2 830.5h0M92.4 832.4h0M92.7 826.2h0M88.3 822.6h0M91.9 820.2h0M93.0 831.2h0M94.1 819.8h0M89.9 830.9h0M91.6 825.0h0M92.4 825.6h0M93.5 825.7h0" fill="none" stroke="#5352a8" stroke-width="1.0" stroke-linecap="round"/>
<path d="M64.8 839.5C65.2 838.2 66.0 837.2 66.8 837.0C67.6 836.8 68.9 837.0 69.4 838.0C69.9 839.0 69.9 841.3 69.9 843.0C69.9 844.7 69.8 847.4 69.2 848.4C68.6 849.4 67.3 849.4 66.5 848.8C65.7 848.2 64.9 846.5 64.6 845.0C64.3 843.5 64.4 840.8 64.8 839.5Z" fill="#5a56aa" />
<path d="M67.6 839.4h0M64.7 842.1h0M65.8 843.9h0M67.4 842.3h0M65.0 846.8h0M64.4 839.3h0M65.7 838.9h0M67.4 838.5h0M68.2 844.2h0M68.1 842.6h0M68.0 840.2h0M67.0 845.4h0M65.3 846.0h0M67.8 849.3h0M68.1 843.6h0M69.1 840.1h0M66.4 842.0h0M68.9 845.8h0M70.6 842.8h0M66.5 837.4h0" fill="none" stroke="#5a56aa" stroke-width="1.0" stroke-linecap="round"/>
<path d="M14.2 840.0C14.6 837.8 15.4 838.1 16.5 837.8C17.6 837.5 19.8 837.8 21.0 838.2C22.2 838.7 23.0 839.2 23.5 840.5C24.0 841.8 24.0 844.1 23.8 846.0C23.6 847.9 23.1 850.4 22.5 852.0C21.9 853.6 21.1 855.1 20.0 855.6C18.9 856.1 17.0 856.1 16.0 855.3C15.0 854.5 14.1 853.5 13.8 851.0C13.5 848.5 13.8 842.2 14.2 840.0Z" fill="#7b5cb0" />
<path d="M13.2 848.5h0M21.3 848.9h0M22.1 845.5h0M21.6 848.7h0M20.4 847.6h0M20.7 847.9h0M14.1 850.1h0M21.2 845.3h0M24.3 846.3h0M14.9 846.9h0M17.2 840.2h0M23.3 840.4h0M21.3 840.3h0M19.0 856.3h0M23.5 845.7h0M20.4 845.9h0M14.9 843.9h0M18.1 853.9h0M14.3 847.5h0M18.5 847.7h0M22.2 848.6h0M16.8 855.5h0M19.9 842.3h0M19.4 853.8h0M13.5 849.6h0M18.7 842.6h0M14.8 841.5h0M18.1 845.2h0M20.0 842.2h0M20.2 846.2h0M22.2 852.6h0M19.3 843.5h0M16.0 850.8h0M18.1 850.3h0M16.0 853.7h0M16.1 853.9h0M18.1 844.8h0M19.7 847.1h0M19.4 847.9h0M22.5 842.3h0" fill="none" stroke="#7b5cb0" stroke-width="1.0" stroke-linecap="round"/>
<path d="M22.5 841.0C23.2 839.4 25.4 839.8 27.0 839.5C28.6 839.2 30.2 838.9 32.0 839.0C33.8 839.1 36.8 839.3 37.5 840.0C38.2 840.7 37.1 841.9 36.0 843.0C34.9 844.1 32.7 845.4 31.0 846.5C29.3 847.6 27.3 849.1 26.0 849.5C24.7 849.9 23.6 850.4 23.0 849.0C22.4 847.6 21.8 842.6 22.5 841.0Z" fill="#c8549a" />
<path d="M26.9 844.1h0M25.7 842.7h0M29.7 839.5h0M25.0 844.1h0M35.1 841.5h0M31.5 839.3h0M25.7 840.5h0M30.1 846.5h0M25.5 846.5h0M30.2 840.3h0M23.1 846.0h0M23.1 844.8h0M25.0 841.4h0M34.4 843.6h0M24.1 846.4h0M29.1 844.7h0M34.7 841.2h0M34.6 839.5h0M23.8 844.3h0M24.8 845.0h0M26.4 849.6h0M28.9 848.1h0M34.5 844.2h0M28.3 839.7h0M33.1 842.0h0M30.4 842.5h0M28.2 847.6h0M21.8 844.0h0M30.2 840.0h0M33.9 841.3h0M28.4 841.2h0M31.6 843.4h0M33.1 843.3h0M23.4 844.2h0M25.9 841.8h0" fill="none" stroke="#c8549a" stroke-width="1.0" stroke-linecap="round"/>
<defs><linearGradient id="gF1" x1="0" x2="1"><stop offset="0.000" stop-color="#1b1e5e"/><stop offset="0.143" stop-color="#3f3f98"/><stop offset="0.286" stop-color="#6a4fb0"/><stop offset="0.429" stop-color="#a04fa8"/><stop offset="0.571" stop-color="#d8588a"/><stop offset="0.714" stop-color="#f08a60"/><stop offset="0.857" stop-color="#f6c850"/><stop offset="1.000" stop-color="#f8e85a"/></linearGradient></defs>
<rect x="65.60" y="855.00" width="25.80" height="4.20" fill="url(#gF1)" />
<text x="78.60" y="864.80" font-size="5.3" font-family='"Liberation Sans", Arial, sans-serif' text-anchor="middle" fill="#333">0.5 0.7 0.9</text>
<line x1="10.40" y1="860.40" x2="10.40" y2="826.50" stroke="#111" stroke-width="0.95" />
<path d="M8.5 827.2L10.4 824.0L12.3 827.2Z" fill="#111" />
<line x1="9.95" y1="860.40" x2="44.90" y2="860.40" stroke="#111" stroke-width="0.95" />
<path d="M44.2 858.5L47.4 860.4L44.2 862.3Z" fill="#111" />
<text x="8.50" y="850.90" font-size="8.3" font-family='"Liberation Sans", Arial, sans-serif' text-anchor="middle" fill="#111" transform="rotate(-90 8.50 850.90)">FDL2</text>
<text x="23.90" y="870.26" font-size="8.3" font-family='"Liberation Sans", Arial, sans-serif' text-anchor="middle" fill="#111">FDL1</text>
<text x="181.50" y="766.53" font-size="7.95" font-family='"Liberation Sans", Arial, sans-serif' text-anchor="middle" fill="#222">PAX6 locus accessibility</text>
<path d="M178.0 826.5h0M165.2 838.3h0M168.1 838.7h0M184.9 825.9h0M162.8 837.4h0M164.1 840.1h0M168.8 833.0h0M162.5 837.7h0M173.8 831.4h0M165.8 844.2h0M171.4 832.9h0M173.0 830.0h0M174.6 826.5h0M186.1 820.7h0M175.3 829.5h0M163.9 838.3h0M172.0 830.3h0M172.2 837.2h0M179.6 828.4h0M166.6 837.7h0M176.5 826.1h0M178.8 820.3h0" fill="none" stroke="#efd24a" stroke-width="0.9" stroke-linecap="round"/>
<path d="M183.7 825.8h0M188.0 817.3h0M196.0 815.7h0M182.9 819.6h0M191.2 823.9h0M190.4 832.0h0M196.1 821.7h0M209.6 810.7h0M193.7 816.7h0M208.4 825.0h0M198.1 825.8h0M203.1 818.5h0M198.8 809.4h0M196.1 831.5h0M198.5 827.4h0M177.3 823.4h0M189.1 834.5h0M195.9 827.8h0M201.8 826.8h0M181.2 816.5h0M175.5 832.1h0M190.2 812.8h0" fill="none" stroke="#efd24a" stroke-width="0.9" stroke-linecap="round"/>
<path d="M182.4 829.4h0M168.5 828.3h0M184.2 832.5h0M174.2 838.9h0M178.5 828.3h0M165.1 838.3h0M168.9 835.2h0M168.8 838.2h0M173.8 830.0h0M178.5 823.9h0M171.2 835.5h0M181.0 835.0h0M179.5 834.8h0M164.1 841.3h0M168.9 837.7h0M175.9 838.2h0M169.7 832.9h0M186.9 822.2h0M186.6 824.1h0M170.7 834.4h0M168.7 839.5h0M163.2 840.7h0" fill="none" stroke="#7b6ac0" stroke-width="0.9" stroke-linecap="round"/>
<path d="M183.8 827.3h0M198.2 813.5h0M199.1 832.5h0M193.0 834.0h0M174.9 833.3h0M186.0 825.0h0M184.6 841.7h0M188.5 827.9h0M180.4 820.4h0M195.0 821.8h0M185.9 834.3h0M179.7 823.4h0M190.4 819.9h0M196.8 824.6h0M190.3 827.8h0M191.1 826.8h0M201.6 824.6h0M192.2 818.3h0M202.7 830.2h0M195.9 825.1h0M185.3 823.4h0M194.1 813.7h0" fill="none" stroke="#7b6ac0" stroke-width="0.9" stroke-linecap="round"/>
<path d="M173.5 833.6h0M175.9 831.6h0M161.8 841.7h0M172.5 842.5h0M186.5 826.0h0M175.6 827.5h0M164.6 836.6h0M179.7 831.1h0M165.6 836.7h0M169.7 833.6h0M169.0 837.2h0M171.7 842.7h0M174.6 825.1h0M173.7 831.5h0M169.8 832.6h0M174.3 834.5h0M164.2 838.7h0M176.2 833.8h0M179.7 832.8h0M180.1 822.0h0M182.1 828.3h0M171.3 834.6h0" fill="none" stroke="#5a5ab0" stroke-width="0.9" stroke-linecap="round"/>
<path d="M185.8 824.2h0M179.8 818.5h0M198.1 815.7h0M190.8 820.0h0M182.1 807.5h0M185.0 816.8h0M183.8 822.4h0M194.3 827.8h0M194.7 813.7h0M202.7 825.6h0M197.6 812.8h0M200.4 840.8h0M196.0 831.7h0M187.3 824.2h0M191.5 828.1h0M193.1 825.0h0M184.8 813.6h0M191.8 842.7h0M184.2 827.1h0M202.4 817.9h0M179.0 825.8h0M191.6 816.1h0" fill="none" stroke="#5a5ab0" stroke-width="0.9" stroke-linecap="round"/>
<path d="M163.9 835.9h0M179.3 835.1h0M167.9 835.0h0M178.9 832.5h0M179.0 830.1h0M174.2 831.6h0M172.8 840.9h0M180.1 825.7h0M180.6 829.4h0M170.5 836.3h0M165.9 834.2h0M173.8 840.2h0M186.6 823.4h0M164.5 836.2h0M180.7 824.3h0M180.3 826.2h0M177.3 827.3h0M181.9 832.3h0M181.0 827.7h0M170.1 826.6h0M173.9 827.5h0M164.9 836.3h0" fill="none" stroke="#3a3a9a" stroke-width="0.9" stroke-linecap="round"/>
<path d="M193.4 829.3h0M183.5 832.9h0M185.3 820.7h0M205.2 827.8h0M192.4 807.8h0M192.7 820.2h0M190.3 831.7h0M187.7 837.3h0M192.4 824.3h0M189.5 823.8h0M202.7 825.0h0M184.1 816.9h0M201.3 827.4h0M185.3 822.0h0M192.8 827.6h0M184.4 823.8h0M181.7 816.9h0M190.2 833.8h0M191.3 836.2h0M195.1 833.3h0M190.8 808.7h0M174.7 819.6h0" fill="none" stroke="#3a3a9a" stroke-width="0.9" stroke-linecap="round"/>
<path d="M184.5 822.5h0M167.5 836.3h0M170.3 841.4h0M175.9 832.8h0M172.7 835.2h0M168.8 845.0h0M177.6 837.4h0M171.5 832.3h0M186.3 827.2h0M183.2 832.0h0M169.6 835.2h0M169.2 843.4h0M186.0 824.1h0M165.5 836.9h0M176.9 825.8h0M167.4 840.1h0M170.3 841.9h0M164.1 839.7h0M167.0 839.3h0M172.9 830.3h0M173.3 839.6h0M166.3 832.4h0" fill="none" stroke="#a070c0" stroke-width="0.9" stroke-linecap="round"/>
<path d="M199.5 826.9h0M180.8 837.8h0M188.2 819.3h0M190.7 823.4h0M189.0 822.7h0M198.2 830.3h0M186.6 821.7h0M186.0 819.5h0M191.2 820.5h0M196.7 815.7h0M195.1 828.9h0M189.5 820.4h0M196.8 820.0h0M189.4 824.7h0M172.3 828.5h0M193.9 827.6h0M181.1 819.7h0M195.5 827.4h0M187.3 819.4h0M204.1 825.1h0M201.8 812.3h0M195.4 818.6h0" fill="none" stroke="#a070c0" stroke-width="0.9" stroke-linecap="round"/>
<path d="M183.5 803.3h0M184.5 809.0h0M185.7 803.9h0M188.4 810.4h0M188.5 817.7h0M187.2 809.4h0M185.1 806.0h0M187.0 803.8h0M185.9 810.8h0M183.0 813.3h0M185.4 802.5h0M185.3 803.8h0M184.5 803.0h0M185.7 812.6h0M183.0 810.1h0M184.8 808.4h0M187.6 809.3h0M183.8 809.3h0M185.6 815.1h0M184.5 809.9h0" fill="none" stroke="#7a50b8" stroke-width="0.9" stroke-linecap="round"/>
<path d="M202.6 824.4h0M195.7 827.4h0M201.6 826.1h0M209.6 830.4h0M196.7 821.4h0M205.2 822.6h0M199.0 817.6h0M204.2 826.0h0M194.1 826.5h0M205.4 831.2h0M203.4 822.3h0M205.7 826.2h0M204.2 832.3h0M201.2 828.4h0M206.9 817.8h0M187.5 814.8h0M204.9 824.8h0M192.9 821.4h0M198.3 825.5h0M188.9 813.0h0M182.2 818.4h0M189.5 820.2h0M194.6 813.9h0M199.5 828.8h0M206.4 828.0h0" fill="none" stroke="#e9c84a" stroke-width="0.9" stroke-linecap="round"/>
<path d="M191.7 812.7h0M181.2 809.0h0M188.8 811.4h0M182.4 804.7h0M189.1 807.8h0M187.4 812.2h0M181.1 799.1h0M191.4 812.4h0M185.2 818.1h0M183.7 807.7h0M194.2 820.3h0M184.2 805.2h0M189.9 814.4h0M193.3 818.5h0M194.8 813.9h0" fill="none" stroke="#e9c84a" stroke-width="0.9" stroke-linecap="round"/>
<path d="M205.1 828.4h0M190.5 819.0h0M190.3 822.2h0M203.3 823.1h0M197.1 827.0h0M196.4 823.9h0M198.7 819.0h0M198.5 827.0h0M189.4 823.6h0M188.8 819.6h0M193.4 822.9h0M201.7 824.4h0M197.0 826.7h0M202.4 823.7h0M191.4 823.7h0M206.9 820.4h0M193.4 818.7h0M200.1 822.4h0M193.7 817.6h0M198.2 827.2h0M189.5 820.0h0M199.5 820.3h0M195.9 833.0h0M203.8 825.8h0M186.9 817.4h0" fill="none" stroke="#5a5ab0" stroke-width="0.9" stroke-linecap="round"/>
<path d="M197.6 816.1h0M192.3 807.7h0M188.5 814.0h0M190.5 810.2h0M188.9 804.2h0M186.7 814.0h0M195.0 808.6h0M189.7 808.4h0M187.6 810.5h0M197.6 810.3h0M189.7 815.8h0M188.0 805.5h0M182.4 808.3h0M183.6 809.8h0M181.5 820.6h0" fill="none" stroke="#5a5ab0" stroke-width="0.9" stroke-linecap="round"/>
<path d="M194.1 819.1h0M202.6 826.6h0M204.4 824.9h0M207.3 826.0h0M201.8 821.5h0M193.7 827.8h0M203.8 825.4h0M198.4 821.3h0M195.1 814.4h0M199.5 828.4h0M207.7 829.2h0M192.9 827.1h0M201.8 822.8h0M195.5 826.0h0M209.7 825.1h0M209.3 825.7h0M204.8 827.3h0M203.8 827.5h0M196.0 823.2h0M194.2 830.7h0M198.3 825.2h0M189.0 814.0h0M194.3 822.8h0M206.9 827.9h0M201.5 828.8h0" fill="none" stroke="#3a3a9a" stroke-width="0.9" stroke-linecap="round"/>
<path d="M186.9 816.3h0M181.4 804.3h0M187.6 806.2h0M192.2 814.9h0M186.4 809.8h0M179.4 803.8h0M188.9 813.2h0M188.5 808.8h0M194.2 809.1h0M194.3 807.9h0M180.7 814.9h0M188.5 813.4h0M190.7 811.1h0M183.9 804.2h0M189.9 813.1h0" fill="none" stroke="#3a3a9a" stroke-width="0.9" stroke-linecap="round"/>
<path d="M196.0 822.0h0M198.5 828.4h0M189.1 824.8h0M194.1 816.2h0M203.7 825.2h0M203.7 829.8h0M201.4 825.1h0M195.3 820.4h0M193.8 823.2h0M202.6 825.9h0M204.2 822.7h0M200.6 822.3h0M202.4 823.6h0M191.8 819.5h0M193.1 821.8h0M197.4 824.7h0M207.4 826.9h0M193.7 819.6h0M187.0 812.2h0M206.5 824.7h0M208.7 822.4h0M206.0 821.6h0M197.2 827.1h0M204.2 827.0h0M200.9 818.5h0" fill="none" stroke="#8a6ac0" stroke-width="0.9" stroke-linecap="round"/>
<path d="M194.3 808.9h0M185.2 801.2h0M189.5 803.7h0M194.2 816.3h0M188.9 814.0h0M186.3 809.1h0M185.9 809.9h0M190.0 804.6h0M185.6 815.3h0M185.7 815.0h0M192.1 814.3h0M184.5 799.2h0M190.6 802.7h0M189.9 811.4h0M193.8 819.6h0" fill="none" stroke="#8a6ac0" stroke-width="0.9" stroke-linecap="round"/>
<path d="M178.2 775.0C178.6 773.6 179.6 773.6 180.8 773.4C182.0 773.2 184.2 773.4 185.5 773.8C186.8 774.2 188.1 774.6 188.6 776.0C189.1 777.4 188.6 780.0 188.3 782.0C188.0 784.0 187.2 786.0 186.8 788.0C186.4 790.0 186.2 791.9 186.0 794.0C185.8 796.1 185.9 799.3 185.6 800.5C185.3 801.7 184.5 802.1 184.2 801.0C183.9 799.9 184.1 796.2 183.7 794.0C183.3 791.8 182.8 790.0 182.0 788.0C181.2 786.0 179.2 784.2 178.6 782.0C178.0 779.8 177.8 776.4 178.2 775.0Z" fill="#7a4fb8" />
<path d="M188.7 776.1h0M185.8 788.7h0M182.3 779.4h0M187.6 781.9h0M186.1 800.3h0M182.4 774.5h0M187.5 787.0h0M179.4 779.3h0M187.7 779.6h0M186.3 783.0h0M186.6 791.9h0M182.5 786.0h0M184.1 792.8h0M182.2 787.8h0M179.7 776.6h0M183.4 800.4h0M183.4 791.2h0M185.6 791.0h0M182.5 792.5h0M186.7 778.6h0M181.8 780.1h0M183.4 776.3h0M181.9 775.0h0M182.2 785.8h0M183.8 777.4h0M183.6 784.6h0M183.3 784.6h0M185.5 789.9h0M183.0 794.8h0M184.8 787.4h0M179.8 783.7h0M184.4 780.3h0M183.0 782.0h0M184.3 791.5h0M184.5 800.0h0M182.7 783.4h0M186.4 788.8h0M180.1 774.8h0M183.9 799.2h0M184.7 787.5h0M180.9 777.4h0M187.0 788.5h0M184.5 784.8h0M185.5 783.1h0M186.3 784.9h0M185.7 787.3h0M185.0 799.5h0M185.4 775.4h0M183.5 780.8h0M185.2 777.5h0" fill="none" stroke="#7a4fb8" stroke-width="1.0" stroke-linecap="round"/>
<path d="M182.5 818.5C182.9 817.0 183.9 817.0 184.8 816.8C185.7 816.6 187.2 816.5 187.8 817.5C188.4 818.5 188.5 820.9 188.6 823.0C188.7 825.1 189.1 829.0 188.3 830.3C187.5 831.6 185.0 831.3 184.0 830.6C183.0 829.9 182.6 828.0 182.3 826.0C182.1 824.0 182.1 820.0 182.5 818.5Z" fill="#f2de4a" />
<path d="M183.9 819.9h0M183.7 824.7h0M188.3 825.9h0M186.6 827.7h0M184.6 822.6h0M186.6 819.2h0M187.5 830.2h0M188.7 819.4h0M182.5 825.5h0M184.2 818.8h0M186.3 824.3h0M185.7 823.9h0M186.4 828.0h0M187.2 826.9h0M188.0 823.2h0M186.6 817.7h0M182.1 823.0h0M186.9 819.6h0M189.1 820.5h0M185.4 823.2h0M183.5 825.8h0M184.4 821.3h0M185.0 824.9h0M183.4 830.4h0M182.3 826.7h0M182.0 824.2h0M184.1 830.6h0M185.0 828.9h0M181.7 819.6h0M189.3 821.7h0" fill="none" stroke="#f2de4a" stroke-width="1.0" stroke-linecap="round"/>
<path d="M187.6 814.5C187.6 813.8 188.7 812.8 189.5 812.6C190.3 812.4 192.0 812.6 192.6 813.2C193.2 813.8 193.4 815.8 192.9 816.4C192.4 817.0 190.4 817.2 189.5 816.9C188.6 816.6 187.6 815.2 187.6 814.5Z" fill="#1e2060" />
<path d="M189.3 814.9h0M189.4 813.6h0M190.1 814.6h0M188.1 814.9h0M190.8 815.2h0M191.9 814.5h0M187.6 813.6h0M189.7 814.2h0M188.9 815.0h0M191.0 812.6h0M189.8 812.6h0M190.5 816.1h0M187.6 814.5h0M191.4 814.0h0" fill="none" stroke="#1e2060" stroke-width="1.0" stroke-linecap="round"/>
<path d="M203.8 827.5C203.9 825.9 205.2 823.4 206.5 822.0C207.8 820.6 210.0 819.6 211.8 819.0C213.5 818.4 215.8 817.8 216.8 818.6C217.7 819.4 217.4 821.8 217.4 824.0C217.5 826.2 217.5 830.2 217.0 832.0C216.5 833.8 215.8 834.4 214.4 834.8C213.0 835.2 210.1 835.0 208.6 834.5C207.1 834.0 206.3 832.7 205.4 831.5C204.6 830.3 203.6 829.1 203.8 827.5Z" fill="#15184f" />
<path d="M217.4 826.6h0M216.2 819.0h0M208.9 830.2h0M215.7 826.6h0M216.1 831.3h0M209.3 830.4h0M210.8 819.8h0M216.7 832.8h0M216.6 822.0h0M214.8 818.5h0M210.6 823.2h0M210.7 824.6h0M211.4 825.5h0M214.5 829.5h0M207.2 821.3h0M206.6 823.6h0M209.4 826.8h0M214.6 835.3h0M207.0 823.1h0M212.7 818.5h0M212.0 828.2h0M214.2 831.0h0M208.4 833.5h0M211.7 827.3h0M215.0 823.3h0M216.7 829.0h0M213.5 828.0h0M206.2 827.8h0M208.0 823.3h0M206.9 831.5h0M212.9 820.2h0M213.7 833.4h0M212.1 833.5h0M211.4 826.8h0M209.2 827.9h0M216.9 828.4h0M214.3 826.1h0M216.4 831.5h0M210.7 823.2h0M212.7 819.1h0M210.9 825.4h0M212.1 822.8h0M216.8 826.4h0M215.6 822.4h0M216.5 827.5h0" fill="none" stroke="#15184f" stroke-width="1.0" stroke-linecap="round"/>
<path d="M186.8 839.5C187.2 838.2 188.0 837.2 188.8 837.0C189.6 836.8 190.9 837.0 191.4 838.0C191.9 839.0 191.9 841.3 191.9 843.0C191.9 844.7 191.8 847.4 191.2 848.4C190.6 849.4 189.3 849.4 188.5 848.8C187.7 848.2 186.9 846.5 186.6 845.0C186.3 843.5 186.4 840.8 186.8 839.5Z" fill="#5a5aaa" />
<path d="M189.6 842.0h0M192.3 843.7h0M189.5 841.1h0M189.0 839.8h0M188.9 839.7h0M186.3 841.1h0M186.0 845.1h0M188.0 839.8h0M189.6 840.1h0M190.8 840.3h0M190.5 839.7h0M190.2 841.0h0M189.3 839.9h0M189.5 844.9h0M191.6 839.6h0M189.7 843.8h0M191.8 842.6h0M188.6 841.6h0M192.5 844.0h0M189.5 846.6h0" fill="none" stroke="#5a5aaa" stroke-width="1.0" stroke-linecap="round"/>
<path d="M136.2 840.0C136.6 837.8 137.4 838.1 138.5 837.8C139.6 837.5 141.8 837.8 143.0 838.2C144.2 838.7 145.0 839.2 145.5 840.5C146.0 841.8 146.0 844.1 145.8 846.0C145.6 847.9 145.1 850.4 144.5 852.0C143.9 853.6 143.1 855.1 142.0 855.6C140.9 856.1 139.0 856.1 138.0 855.3C137.0 854.5 136.1 853.5 135.8 851.0C135.5 848.5 135.8 842.2 136.2 840.0Z" fill="#4152ae" />
<path d="M142.0 847.1h0M142.6 842.1h0M139.4 837.2h0M143.4 853.0h0M143.8 839.1h0M138.7 854.9h0M144.2 839.9h0M137.4 851.2h0M142.6 837.6h0M141.1 840.7h0M145.0 847.4h0M135.2 844.7h0M145.3 850.9h0M138.1 849.6h0M143.9 847.8h0M136.3 841.8h0M143.5 839.4h0M139.4 855.1h0M139.7 840.0h0M142.5 843.8h0M144.2 844.1h0M144.6 853.0h0M137.1 847.6h0M140.2 839.4h0M145.6 843.6h0M142.1 838.2h0M142.9 839.5h0M142.7 846.1h0M140.5 841.2h0M136.8 853.4h0M142.0 851.5h0M143.6 844.8h0M141.4 842.9h0M142.6 845.4h0M144.1 842.7h0M139.4 838.6h0M135.5 841.2h0M135.2 845.2h0M139.4 854.1h0M136.1 853.1h0" fill="none" stroke="#4152ae" stroke-width="1.0" stroke-linecap="round"/>
<path d="M144.5 841.0C145.2 839.4 147.4 839.8 149.0 839.5C150.6 839.2 152.2 838.9 154.0 839.0C155.8 839.1 158.8 839.3 159.5 840.0C160.2 840.7 159.1 841.9 158.0 843.0C156.9 844.1 154.7 845.4 153.0 846.5C151.3 847.6 149.3 849.1 148.0 849.5C146.7 849.9 145.6 850.4 145.0 849.0C144.4 847.6 143.8 842.6 144.5 841.0Z" fill="#4a58b0" />
<path d="M149.6 841.2h0M153.8 842.5h0M156.5 842.3h0M152.3 841.6h0M147.9 843.3h0M149.5 846.9h0M154.5 842.8h0M155.5 843.9h0M156.1 838.7h0M150.5 847.2h0M155.2 844.3h0M156.5 844.1h0M145.7 844.5h0M156.2 840.2h0M151.4 848.3h0M149.5 842.6h0M155.3 845.1h0M148.5 840.1h0M158.9 840.1h0M146.1 848.4h0M144.0 844.5h0M154.1 840.9h0M144.8 843.9h0M152.9 843.9h0M153.3 838.9h0M149.7 848.2h0M148.5 840.5h0M146.7 849.6h0M158.1 843.1h0M149.2 842.7h0M155.0 839.6h0M159.3 840.2h0M156.0 842.5h0M144.3 846.2h0M147.9 848.9h0" fill="none" stroke="#4a58b0" stroke-width="1.0" stroke-linecap="round"/>
<rect x="186.20" y="853.80" width="25.30" height="4.40" fill="url(#gF1)" />
<text x="198.80" y="864.00" font-size="5.3" font-family='"Liberation Sans", Arial, sans-serif' text-anchor="middle" fill="#333">1.0 1.5</text>
<line x1="131.20" y1="860.50" x2="131.20" y2="826.70" stroke="#111" stroke-width="0.95" />
<path d="M129.3 827.4L131.2 824.2L133.1 827.4Z" fill="#111" />
<line x1="130.75" y1="860.50" x2="164.70" y2="860.50" stroke="#111" stroke-width="0.95" />
<path d="M164.0 858.6L167.2 860.5L164.0 862.4Z" fill="#111" />
<text x="129.30" y="851.00" font-size="8.3" font-family='"Liberation Sans", Arial, sans-serif' text-anchor="middle" fill="#111" transform="rotate(-90 129.30 851.00)">FDL2</text>
<text x="144.70" y="870.36" font-size="8.3" font-family='"Liberation Sans", Arial, sans-serif' text-anchor="middle" fill="#111">FDL1</text>
<text x="245.28" y="636.20" font-size="12.6" font-family='"Liberation Sans", Arial, sans-serif' font-weight="bold">G</text>
<text x="322.40" y="641.91" font-size="7.0" font-family='"Liberation Sans", Arial, sans-serif' text-anchor="middle" fill="#222">RG expression in multiome</text>
<g stroke="#222" stroke-width="0.18">
<line x1="273.40" y1="649.20" x2="275.00" y2="649.20" stroke="#111" stroke-width="0.6" />
<text x="272.60" y="650.86" font-size="4.55" font-family='"DejaVu Sans", sans-serif' text-anchor="end" fill="#262626">CADM1</text>
<line x1="273.40" y1="653.68" x2="275.00" y2="653.68" stroke="#111" stroke-width="0.6" />
<text x="272.60" y="655.34" font-size="4.55" font-family='"DejaVu Sans", sans-serif' text-anchor="end" fill="#262626">GPM6A</text>
<line x1="273.40" y1="658.16" x2="275.00" y2="658.16" stroke="#111" stroke-width="0.6" />
<text x="272.60" y="659.81" font-size="4.55" font-family='"DejaVu Sans", sans-serif' text-anchor="end" fill="#262626">DCLK1</text>
<line x1="273.40" y1="662.63" x2="275.00" y2="662.63" stroke="#111" stroke-width="0.6" />
<text x="272.60" y="664.29" font-size="4.55" font-family='"DejaVu Sans", sans-serif' text-anchor="end" fill="#262626">NRG3</text>
<line x1="273.40" y1="667.11" x2="275.00" y2="667.11" stroke="#111" stroke-width="0.6" />
<text x="272.60" y="668.77" font-size="4.55" font-family='"DejaVu Sans", sans-serif' text-anchor="end" fill="#262626">TUBA1A</text>
<line x1="273.40" y1="671.59" x2="275.00" y2="671.59" stroke="#111" stroke-width="0.6" />
<text x="272.60" y="673.25" font-size="4.55" font-family='"DejaVu Sans", sans-serif' text-anchor="end" font-weight="bold" fill="#111">PTPRZ1</text>
<line x1="273.40" y1="676.07" x2="275.00" y2="676.07" stroke="#111" stroke-width="0.6" />
<text x="272.60" y="677.72" font-size="4.55" font-family='"DejaVu Sans", sans-serif' text-anchor="end" fill="#262626">CTNND2</text>
<line x1="273.40" y1="680.54" x2="275.00" y2="680.54" stroke="#111" stroke-width="0.6" />
<text x="272.60" y="682.20" font-size="4.55" font-family='"DejaVu Sans", sans-serif' text-anchor="end" fill="#262626">KAZN</text>
<line x1="273.40" y1="685.02" x2="275.00" y2="685.02" stroke="#111" stroke-width="0.6" />
<text x="272.60" y="686.68" font-size="4.55" font-family='"DejaVu Sans", sans-serif' text-anchor="end" fill="#262626">NFIA</text>
<line x1="273.40" y1="689.50" x2="275.00" y2="689.50" stroke="#111" stroke-width="0.6" />
<text x="272.60" y="691.16" font-size="4.55" font-family='"DejaVu Sans", sans-serif' text-anchor="end" fill="#262626">COL11A1</text>
<line x1="273.40" y1="693.98" x2="275.00" y2="693.98" stroke="#111" stroke-width="0.6" />
<text x="272.60" y="695.63" font-size="4.55" font-family='"DejaVu Sans", sans-serif' text-anchor="end" fill="#262626">PRKG1</text>
<line x1="273.40" y1="698.45" x2="275.00" y2="698.45" stroke="#111" stroke-width="0.6" />
<text x="272.60" y="700.11" font-size="4.55" font-family='"DejaVu Sans", sans-serif' text-anchor="end" fill="#262626">ADGRV1</text>
<line x1="273.40" y1="702.93" x2="275.00" y2="702.93" stroke="#111" stroke-width="0.6" />
<text x="272.60" y="704.59" font-size="4.55" font-family='"DejaVu Sans", sans-serif' text-anchor="end" fill="#262626">ANK2</text>
<line x1="273.40" y1="707.41" x2="275.00" y2="707.41" stroke="#111" stroke-width="0.6" />
<text x="272.60" y="709.07" font-size="4.55" font-family='"DejaVu Sans", sans-serif' text-anchor="end" fill="#262626">GPM6B</text>
<line x1="273.40" y1="711.89" x2="275.00" y2="711.89" stroke="#111" stroke-width="0.6" />
<text x="272.60" y="713.54" font-size="4.55" font-family='"DejaVu Sans", sans-serif' text-anchor="end" fill="#262626">AKAP6</text>
<line x1="273.40" y1="716.36" x2="275.00" y2="716.36" stroke="#111" stroke-width="0.6" />
<text x="272.60" y="718.02" font-size="4.55" font-family='"DejaVu Sans", sans-serif' text-anchor="end" fill="#262626">NRXN1</text>
<line x1="273.40" y1="720.84" x2="275.00" y2="720.84" stroke="#111" stroke-width="0.6" />
<text x="272.60" y="722.50" font-size="4.55" font-family='"DejaVu Sans", sans-serif' text-anchor="end" fill="#262626">DLG2</text>
<line x1="273.40" y1="725.32" x2="275.00" y2="725.32" stroke="#111" stroke-width="0.6" />
<text x="272.60" y="726.98" font-size="4.55" font-family='"DejaVu Sans", sans-serif' text-anchor="end" fill="#262626">NAV3</text>
<line x1="273.40" y1="729.80" x2="275.00" y2="729.80" stroke="#111" stroke-width="0.6" />
<text x="272.60" y="731.45" font-size="4.55" font-family='"DejaVu Sans", sans-serif' text-anchor="end" fill="#262626">CASC15</text>
<line x1="273.40" y1="734.27" x2="275.00" y2="734.27" stroke="#111" stroke-width="0.6" />
<text x="272.60" y="735.93" font-size="4.55" font-family='"DejaVu Sans", sans-serif' text-anchor="end" fill="#262626">NCAM2</text>
<line x1="273.40" y1="738.75" x2="275.00" y2="738.75" stroke="#111" stroke-width="0.6" />
<text x="272.60" y="740.41" font-size="4.55" font-family='"DejaVu Sans", sans-serif' text-anchor="end" fill="#262626">DLGAP1</text>
<line x1="273.40" y1="743.23" x2="275.00" y2="743.23" stroke="#111" stroke-width="0.6" />
<text x="272.60" y="744.89" font-size="4.55" font-family='"DejaVu Sans", sans-serif' text-anchor="end" fill="#262626">ADGRB3</text>
<line x1="273.40" y1="747.71" x2="275.00" y2="747.71" stroke="#111" stroke-width="0.6" />
<text x="272.60" y="749.36" font-size="4.55" font-family='"DejaVu Sans", sans-serif' text-anchor="end" fill="#262626">TUBB2B</text>
<line x1="273.40" y1="752.18" x2="275.00" y2="752.18" stroke="#111" stroke-width="0.6" />
<text x="272.60" y="753.84" font-size="4.55" font-family='"DejaVu Sans", sans-serif' text-anchor="end" fill="#262626">KIF1A</text>
<line x1="273.40" y1="756.66" x2="275.00" y2="756.66" stroke="#111" stroke-width="0.6" />
<text x="272.60" y="758.32" font-size="4.55" font-family='"DejaVu Sans", sans-serif' text-anchor="end" fill="#262626">DACH1</text>
<line x1="273.40" y1="761.14" x2="275.00" y2="761.14" stroke="#111" stroke-width="0.6" />
<text x="272.60" y="762.80" font-size="4.55" font-family='"DejaVu Sans", sans-serif' text-anchor="end" fill="#262626">NKAIN3</text>
<line x1="273.40" y1="765.62" x2="275.00" y2="765.62" stroke="#111" stroke-width="0.6" />
<text x="272.60" y="767.27" font-size="4.55" font-family='"DejaVu Sans", sans-serif' text-anchor="end" fill="#262626">PARD3B</text>
<line x1="273.40" y1="770.09" x2="275.00" y2="770.09" stroke="#111" stroke-width="0.6" />
<text x="272.60" y="771.75" font-size="4.55" font-family='"DejaVu Sans", sans-serif' text-anchor="end" fill="#262626">C1orf61</text>
<line x1="273.40" y1="774.57" x2="275.00" y2="774.57" stroke="#111" stroke-width="0.6" />
<text x="272.60" y="776.23" font-size="4.55" font-family='"DejaVu Sans", sans-serif' text-anchor="end" fill="#262626">SHROOM3</text>
<line x1="273.40" y1="779.05" x2="275.00" y2="779.05" stroke="#111" stroke-width="0.6" />
<text x="272.60" y="780.71" font-size="4.55" font-family='"DejaVu Sans", sans-serif' text-anchor="end" fill="#262626">MAP2</text>
<line x1="273.40" y1="783.53" x2="275.00" y2="783.53" stroke="#111" stroke-width="0.6" />
<text x="272.60" y="785.19" font-size="4.55" font-family='"DejaVu Sans", sans-serif' text-anchor="end" fill="#262626">MARCH1</text>
<line x1="273.40" y1="788.00" x2="275.00" y2="788.00" stroke="#111" stroke-width="0.6" />
<text x="272.60" y="789.66" font-size="4.55" font-family='"DejaVu Sans", sans-serif' text-anchor="end" font-weight="bold" fill="#111">HOPX</text>
<line x1="273.40" y1="792.48" x2="275.00" y2="792.48" stroke="#111" stroke-width="0.6" />
<text x="272.60" y="794.14" font-size="4.55" font-family='"DejaVu Sans", sans-serif' text-anchor="end" fill="#262626">PLXDC2</text>
<line x1="273.40" y1="796.96" x2="275.00" y2="796.96" stroke="#111" stroke-width="0.6" />
<text x="272.60" y="798.62" font-size="4.55" font-family='"DejaVu Sans", sans-serif' text-anchor="end" fill="#262626">NRCAM</text>
<line x1="273.40" y1="801.44" x2="275.00" y2="801.44" stroke="#111" stroke-width="0.6" />
<text x="272.60" y="803.10" font-size="4.55" font-family='"DejaVu Sans", sans-serif' text-anchor="end" fill="#262626">PALLD</text>
<line x1="273.40" y1="805.91" x2="275.00" y2="805.91" stroke="#111" stroke-width="0.6" />
<text x="272.60" y="807.57" font-size="4.55" font-family='"DejaVu Sans", sans-serif' text-anchor="end" fill="#262626">PPP2R2B</text>
<line x1="273.40" y1="810.39" x2="275.00" y2="810.39" stroke="#111" stroke-width="0.6" />
<text x="272.60" y="812.05" font-size="4.55" font-family='"DejaVu Sans", sans-serif' text-anchor="end" fill="#262626">KIF5C</text>
<line x1="273.40" y1="814.87" x2="275.00" y2="814.87" stroke="#111" stroke-width="0.6" />
<text x="272.60" y="816.53" font-size="4.55" font-family='"DejaVu Sans", sans-serif' text-anchor="end" fill="#262626">TRIM9</text>
<line x1="273.40" y1="819.35" x2="275.00" y2="819.35" stroke="#111" stroke-width="0.6" />
<text x="272.60" y="821.01" font-size="4.55" font-family='"DejaVu Sans", sans-serif' text-anchor="end" fill="#262626">PTN</text>
<line x1="273.40" y1="823.82" x2="275.00" y2="823.82" stroke="#111" stroke-width="0.6" />
<text x="272.60" y="825.48" font-size="4.55" font-family='"DejaVu Sans", sans-serif' text-anchor="end" fill="#262626">SORBS1</text>
<line x1="273.40" y1="828.30" x2="275.00" y2="828.30" stroke="#111" stroke-width="0.6" />
<text x="272.60" y="829.96" font-size="4.55" font-family='"DejaVu Sans", sans-serif' text-anchor="end" fill="#262626">CADM2</text>
<line x1="273.40" y1="832.78" x2="275.00" y2="832.78" stroke="#111" stroke-width="0.6" />
<text x="272.60" y="834.44" font-size="4.55" font-family='"DejaVu Sans", sans-serif' text-anchor="end" fill="#262626">FYN</text>
<line x1="273.40" y1="837.26" x2="275.00" y2="837.26" stroke="#111" stroke-width="0.6" />
<text x="272.60" y="838.92" font-size="4.55" font-family='"DejaVu Sans", sans-serif' text-anchor="end" fill="#262626">NTRK2</text>
<line x1="273.40" y1="841.73" x2="275.00" y2="841.73" stroke="#111" stroke-width="0.6" />
<text x="272.60" y="843.39" font-size="4.55" font-family='"DejaVu Sans", sans-serif' text-anchor="end" fill="#262626">SYT11</text>
<line x1="273.40" y1="846.21" x2="275.00" y2="846.21" stroke="#111" stroke-width="0.6" />
<text x="272.60" y="847.87" font-size="4.55" font-family='"DejaVu Sans", sans-serif' text-anchor="end" font-weight="bold" fill="#111">FABP7</text>
<line x1="273.40" y1="850.69" x2="275.00" y2="850.69" stroke="#111" stroke-width="0.6" />
<text x="272.60" y="852.35" font-size="4.55" font-family='"DejaVu Sans", sans-serif' text-anchor="end" fill="#262626">GFAP</text>
<line x1="273.40" y1="855.17" x2="275.00" y2="855.17" stroke="#111" stroke-width="0.6" />
<text x="272.60" y="856.83" font-size="4.55" font-family='"DejaVu Sans", sans-serif' text-anchor="end" fill="#262626">NEDD4L</text>
<line x1="273.40" y1="859.64" x2="275.00" y2="859.64" stroke="#111" stroke-width="0.6" />
<text x="272.60" y="861.30" font-size="4.55" font-family='"DejaVu Sans", sans-serif' text-anchor="end" fill="#262626">SLC35F1</text>
<line x1="273.40" y1="864.12" x2="275.00" y2="864.12" stroke="#111" stroke-width="0.6" />
<text x="272.60" y="865.78" font-size="4.55" font-family='"DejaVu Sans", sans-serif' text-anchor="end" fill="#262626">NRG1</text>
<line x1="273.40" y1="868.60" x2="275.00" y2="868.60" stroke="#111" stroke-width="0.6" />
<text x="272.60" y="870.26" font-size="4.55" font-family='"DejaVu Sans", sans-serif' text-anchor="end" font-weight="bold" fill="#111">MOXD1</text>
</g>
<circle cx="360.40" cy="649.20" r="1.72" fill="none" stroke="#111" stroke-width="1.15" />
<circle cx="353.90" cy="653.68" r="1.72" fill="none" stroke="#111" stroke-width="1.15" />
<circle cx="335.30" cy="658.16" r="1.72" fill="none" stroke="#111" stroke-width="1.15" />
<circle cx="324.30" cy="662.63" r="1.72" fill="none" stroke="#111" stroke-width="1.15" />
<circle cx="321.30" cy="667.11" r="1.72" fill="none" stroke="#111" stroke-width="1.15" />
<circle cx="320.00" cy="671.59" r="1.72" fill="none" stroke="#111" stroke-width="1.15" />
<circle cx="318.90" cy="676.07" r="1.72" fill="none" stroke="#111" stroke-width="1.15" />
<circle cx="317.30" cy="680.54" r="1.72" fill="none" stroke="#111" stroke-width="1.15" />
<circle cx="316.50" cy="685.02" r="1.72" fill="none" stroke="#111" stroke-width="1.15" />
<circle cx="315.70" cy="689.50" r="1.72" fill="none" stroke="#111" stroke-width="1.15" />
<circle cx="314.90" cy="693.98" r="1.72" fill="none" stroke="#111" stroke-width="1.15" />
<circle cx="313.10" cy="698.45" r="1.72" fill="none" stroke="#111" stroke-width="1.15" />
<circle cx="312.00" cy="702.93" r="1.72" fill="none" stroke="#111" stroke-width="1.15" />
<circle cx="311.10" cy="707.41" r="1.72" fill="none" stroke="#111" stroke-width="1.15" />
<circle cx="310.00" cy="711.89" r="1.72" fill="none" stroke="#111" stroke-width="1.15" />
<circle cx="309.70" cy="716.36" r="1.72" fill="none" stroke="#111" stroke-width="1.15" />
<circle cx="309.50" cy="720.84" r="1.72" fill="none" stroke="#111" stroke-width="1.15" />
<circle cx="308.90" cy="725.32" r="1.72" fill="none" stroke="#111" stroke-width="1.15" />
<circle cx="306.90" cy="729.80" r="1.72" fill="none" stroke="#111" stroke-width="1.15" />
<circle cx="305.10" cy="734.27" r="1.72" fill="none" stroke="#111" stroke-width="1.15" />
<circle cx="304.60" cy="738.75" r="1.72" fill="none" stroke="#111" stroke-width="1.15" />
<circle cx="304.60" cy="743.23" r="1.72" fill="none" stroke="#111" stroke-width="1.15" />
<circle cx="302.00" cy="747.71" r="1.72" fill="none" stroke="#111" stroke-width="1.15" />
<circle cx="300.80" cy="752.18" r="1.72" fill="none" stroke="#111" stroke-width="1.15" />
<circle cx="299.70" cy="756.66" r="1.72" fill="none" stroke="#111" stroke-width="1.15" />
<circle cx="299.20" cy="761.14" r="1.72" fill="none" stroke="#111" stroke-width="1.15" />
<circle cx="298.00" cy="765.62" r="1.72" fill="none" stroke="#111" stroke-width="1.15" />
<circle cx="298.00" cy="770.09" r="1.72" fill="none" stroke="#111" stroke-width="1.15" />
<circle cx="297.70" cy="774.57" r="1.72" fill="none" stroke="#111" stroke-width="1.15" />
<circle cx="297.70" cy="779.05" r="1.72" fill="none" stroke="#111" stroke-width="1.15" />
<circle cx="297.40" cy="783.53" r="1.72" fill="none" stroke="#111" stroke-width="1.15" />
<circle cx="295.80" cy="788.00" r="1.72" fill="none" stroke="#111" stroke-width="1.15" />
<circle cx="295.70" cy="792.48" r="1.72" fill="none" stroke="#111" stroke-width="1.15" />
<circle cx="295.40" cy="796.96" r="1.72" fill="none" stroke="#111" stroke-width="1.15" />
<circle cx="295.10" cy="801.44" r="1.72" fill="none" stroke="#111" stroke-width="1.15" />
<circle cx="295.10" cy="805.91" r="1.72" fill="none" stroke="#111" stroke-width="1.15" />
<circle cx="294.60" cy="810.39" r="1.72" fill="none" stroke="#111" stroke-width="1.15" />
<circle cx="293.80" cy="814.87" r="1.72" fill="none" stroke="#111" stroke-width="1.15" />
<circle cx="292.80" cy="819.35" r="1.72" fill="none" stroke="#111" stroke-width="1.15" />
<circle cx="292.30" cy="823.82" r="1.72" fill="none" stroke="#111" stroke-width="1.15" />
<circle cx="292.00" cy="828.30" r="1.72" fill="none" stroke="#111" stroke-width="1.15" />
<circle cx="291.20" cy="832.78" r="1.72" fill="none" stroke="#111" stroke-width="1.15" />
<circle cx="290.80" cy="837.26" r="1.72" fill="none" stroke="#111" stroke-width="1.15" />
<circle cx="290.80" cy="841.73" r="1.72" fill="none" stroke="#111" stroke-width="1.15" />
<circle cx="289.70" cy="846.21" r="1.72" fill="none" stroke="#111" stroke-width="1.15" />
<circle cx="289.20" cy="850.69" r="1.72" fill="none" stroke="#111" stroke-width="1.15" />
<circle cx="289.20" cy="855.17" r="1.72" fill="none" stroke="#111" stroke-width="1.15" />
<circle cx="288.90" cy="859.64" r="1.72" fill="none" stroke="#111" stroke-width="1.15" />
<circle cx="288.90" cy="864.12" r="1.72" fill="none" stroke="#111" stroke-width="1.15" />
<circle cx="288.90" cy="868.60" r="1.72" fill="none" stroke="#111" stroke-width="1.15" />
<line x1="275.00" y1="645.00" x2="275.00" y2="879.80" stroke="#111" stroke-width="1.2" />
<line x1="274.40" y1="879.20" x2="375.00" y2="879.20" stroke="#111" stroke-width="1.2" />
<line x1="275.50" y1="879.20" x2="275.50" y2="881.20" stroke="#111" stroke-width="0.8" />
<text x="275.50" y="887.87" font-size="6.6" font-family='"Liberation Sans", Arial, sans-serif' text-anchor="middle" fill="#222">10</text>
<line x1="310.73" y1="879.20" x2="310.73" y2="881.20" stroke="#111" stroke-width="0.8" />
<text x="310.73" y="887.87" font-size="6.6" font-family='"Liberation Sans", Arial, sans-serif' text-anchor="middle" fill="#222">20</text>
<line x1="345.96" y1="879.20" x2="345.96" y2="881.20" stroke="#111" stroke-width="0.8" />
<text x="345.96" y="887.87" font-size="6.6" font-family='"Liberation Sans", Arial, sans-serif' text-anchor="middle" fill="#222">30</text>
<text x="324.2" y="896.3" font-size="6.8" font-family='"Liberation Sans", Arial, sans-serif' text-anchor="middle" fill="#222">−log(adj. <tspan font-style="italic">P</tspan>)</text>
<text x="373.47" y="636.10" font-size="12.6" font-family='"Liberation Sans", Arial, sans-serif' font-weight="bold">H</text>
<rect x="386.00" y="636.00" width="133.00" height="135.00" fill="#f8f8f8" stroke="#e2e2e2" stroke-width="0.8" />
<text x="451.50" y="639.87" font-size="4.3" font-family='"DejaVu Sans", sans-serif' text-anchor="middle" font-weight="bold" fill="#111">Enrichment plot:</text>
<text x="452.60" y="645.77" font-size="4.3" font-family='"DejaVu Sans", sans-serif' text-anchor="middle" font-weight="bold" fill="#111">GUENTHER_GROWTH_SPHERICAL_VS_ADHERENT_UP</text>
<rect x="401.00" y="648.30" width="111.20" height="48.00" fill="#fff" stroke="#c8c8c8" stroke-width="0.6" />
<line x1="401.00" y1="694.80" x2="512.20" y2="694.80" stroke="#f0f0f0" stroke-width="0.4" />
<text x="399.80" y="696.11" font-size="3.6" font-family='"DejaVu Sans", sans-serif' text-anchor="end" fill="#333">0.0</text>
<line x1="400.20" y1="694.80" x2="401.00" y2="694.80" stroke="#555" stroke-width="0.4" />
<line x1="401.00" y1="689.60" x2="512.20" y2="689.60" stroke="#f0f0f0" stroke-width="0.4" />
<text x="399.80" y="690.91" font-size="3.6" font-family='"DejaVu Sans", sans-serif' text-anchor="end" fill="#333">0.1</text>
<line x1="400.20" y1="689.60" x2="401.00" y2="689.60" stroke="#555" stroke-width="0.4" />
<line x1="401.00" y1="684.40" x2="512.20" y2="684.40" stroke="#f0f0f0" stroke-width="0.4" />
<text x="399.80" y="685.71" font-size="3.6" font-family='"DejaVu Sans", sans-serif' text-anchor="end" fill="#333">0.2</text>
<line x1="400.20" y1="684.40" x2="401.00" y2="684.40" stroke="#555" stroke-width="0.4" />
<line x1="401.00" y1="679.20" x2="512.20" y2="679.20" stroke="#f0f0f0" stroke-width="0.4" />
<text x="399.80" y="680.51" font-size="3.6" font-family='"DejaVu Sans", sans-serif' text-anchor="end" fill="#333">0.3</text>
<line x1="400.20" y1="679.20" x2="401.00" y2="679.20" stroke="#555" stroke-width="0.4" />
<line x1="401.00" y1="674.00" x2="512.20" y2="674.00" stroke="#f0f0f0" stroke-width="0.4" />
<text x="399.80" y="675.31" font-size="3.6" font-family='"DejaVu Sans", sans-serif' text-anchor="end" fill="#333">0.4</text>
<line x1="400.20" y1="674.00" x2="401.00" y2="674.00" stroke="#555" stroke-width="0.4" />
<line x1="401.00" y1="668.80" x2="512.20" y2="668.80" stroke="#f0f0f0" stroke-width="0.4" />
<text x="399.80" y="670.11" font-size="3.6" font-family='"DejaVu Sans", sans-serif' text-anchor="end" fill="#333">0.5</text>
<line x1="400.20" y1="668.80" x2="401.00" y2="668.80" stroke="#555" stroke-width="0.4" />
<line x1="401.00" y1="663.60" x2="512.20" y2="663.60" stroke="#f0f0f0" stroke-width="0.4" />
<text x="399.80" y="664.91" font-size="3.6" font-family='"DejaVu Sans", sans-serif' text-anchor="end" fill="#333">0.6</text>
<line x1="400.20" y1="663.60" x2="401.00" y2="663.60" stroke="#555" stroke-width="0.4" />
<line x1="401.00" y1="658.40" x2="512.20" y2="658.40" stroke="#f0f0f0" stroke-width="0.4" />
<text x="399.80" y="659.71" font-size="3.6" font-family='"DejaVu Sans", sans-serif' text-anchor="end" fill="#333">0.7</text>
<line x1="400.20" y1="658.40" x2="401.00" y2="658.40" stroke="#555" stroke-width="0.4" />
<line x1="401.00" y1="653.20" x2="512.20" y2="653.20" stroke="#f0f0f0" stroke-width="0.4" />
<text x="399.80" y="654.51" font-size="3.6" font-family='"DejaVu Sans", sans-serif' text-anchor="end" fill="#333">0.8</text>
<line x1="400.20" y1="653.20" x2="401.00" y2="653.20" stroke="#555" stroke-width="0.4" />
<line x1="401.00" y1="648.00" x2="512.20" y2="648.00" stroke="#f0f0f0" stroke-width="0.4" />
<text x="399.80" y="649.31" font-size="3.6" font-family='"DejaVu Sans", sans-serif' text-anchor="end" fill="#333">0.9</text>
<line x1="400.20" y1="648.00" x2="401.00" y2="648.00" stroke="#555" stroke-width="0.4" />
<line x1="423.00" y1="648.30" x2="423.00" y2="696.30" stroke="#f0f0f0" stroke-width="0.4" />
<line x1="445.00" y1="648.30" x2="445.00" y2="696.30" stroke="#f0f0f0" stroke-width="0.4" />
<line x1="467.00" y1="648.30" x2="467.00" y2="696.30" stroke="#f0f0f0" stroke-width="0.4" />
<line x1="489.00" y1="648.30" x2="489.00" y2="696.30" stroke="#f0f0f0" stroke-width="0.4" />
<line x1="511.00" y1="648.30" x2="511.00" y2="696.30" stroke="#f0f0f0" stroke-width="0.4" />
<text x="392.20" y="672.30" font-size="3.6" font-family='"DejaVu Sans", sans-serif' text-anchor="middle" fill="#333" transform="rotate(-90 392.20 672.30)">Enrichment score (ES)</text>
<path d="M401.0 694.8L401.3 668.0L401.8 663.0L402.5 660.0L403.4 657.5L404.5 655.0L406.0 653.2L408.3 651.2L412.0 653.0L420.0 656.5L440.0 664.0L460.0 672.0L475.0 678.5L495.0 687.0L495.4 684.5L500.0 688.0L512.0 694.8" fill="none" stroke="#4caf50" stroke-width="0.8" stroke-linejoin="round"/>
<rect x="401.00" y="697.20" width="111.20" height="16.20" fill="#fff" stroke="#c8c8c8" stroke-width="0.5" />
<line x1="401.50" y1="697.70" x2="401.50" y2="712.90" stroke="#222" stroke-width="0.35" />
<line x1="402.00" y1="697.70" x2="402.00" y2="712.90" stroke="#222" stroke-width="0.35" />
<line x1="402.50" y1="697.70" x2="402.50" y2="712.90" stroke="#222" stroke-width="0.35" />
<line x1="403.00" y1="697.70" x2="403.00" y2="712.90" stroke="#222" stroke-width="0.35" />
<line x1="403.30" y1="697.70" x2="403.30" y2="712.90" stroke="#222" stroke-width="0.35" />
<line x1="403.80" y1="697.70" x2="403.80" y2="712.90" stroke="#222" stroke-width="0.35" />
<line x1="404.20" y1="697.70" x2="404.20" y2="712.90" stroke="#222" stroke-width="0.35" />
<line x1="404.80" y1="697.70" x2="404.80" y2="712.90" stroke="#222" stroke-width="0.35" />
<line x1="405.50" y1="697.70" x2="405.50" y2="712.90" stroke="#222" stroke-width="0.35" />
<line x1="406.30" y1="697.70" x2="406.30" y2="712.90" stroke="#222" stroke-width="0.35" />
<line x1="407.00" y1="697.70" x2="407.00" y2="712.90" stroke="#222" stroke-width="0.35" />
<line x1="407.80" y1="697.70" x2="407.80" y2="712.90" stroke="#222" stroke-width="0.35" />
<line x1="408.30" y1="697.70" x2="408.30" y2="712.90" stroke="#222" stroke-width="0.35" />
<line x1="421.20" y1="697.70" x2="421.20" y2="712.90" stroke="#222" stroke-width="0.35" />
<line x1="456.70" y1="697.70" x2="456.70" y2="712.90" stroke="#222" stroke-width="0.35" />
<line x1="495.20" y1="697.70" x2="495.20" y2="712.90" stroke="#222" stroke-width="0.35" />
<line x1="446.20" y1="697.70" x2="446.20" y2="712.90" stroke="#9a9a9a" stroke-width="0.9" />
<line x1="447.20" y1="697.70" x2="447.20" y2="712.90" stroke="#9a9a9a" stroke-width="0.9" />
<line x1="448.20" y1="697.70" x2="448.20" y2="712.90" stroke="#9a9a9a" stroke-width="0.9" />
<line x1="449.20" y1="697.70" x2="449.20" y2="712.90" stroke="#9a9a9a" stroke-width="0.9" />
<line x1="405.50" y1="697.70" x2="405.50" y2="712.90" stroke="#9a9a9a" stroke-width="0.9" />
<line x1="406.50" y1="697.70" x2="406.50" y2="712.90" stroke="#9a9a9a" stroke-width="0.9" />
<defs><linearGradient id="gH636" x1="0" x2="1"><stop offset="0" stop-color="#e31a2a"/><stop offset="0.2" stop-color="#e73040"/><stop offset="0.275" stop-color="#ea4c5c"/><stop offset="0.28" stop-color="#f4bdd0"/><stop offset="0.33" stop-color="#eec8dc"/><stop offset="0.335" stop-color="#d8d0e8"/><stop offset="0.6" stop-color="#ccc6e4"/><stop offset="0.63" stop-color="#c4bee0"/><stop offset="0.635" stop-color="#6e6cbc"/><stop offset="0.75" stop-color="#6462b4"/><stop offset="0.755" stop-color="#3a3aa0"/><stop offset="0.955" stop-color="#36369c"/><stop offset="0.96" stop-color="#1c1c72"/><stop offset="1" stop-color="#1c1c72"/></linearGradient></defs>
<rect x="401.00" y="713.80" width="111.20" height="4.10" fill="url(#gH636)" />
<rect x="401.00" y="718.60" width="111.20" height="33.80" fill="#fff" stroke="#c8c8c8" stroke-width="0.5" />
<text x="401.80" y="720.80" font-size="2.65" font-family='"DejaVu Sans", sans-serif' fill="#e02020">'na_pos' (positively correlated)</text>
<path d="M401.0 729.0L401.0 723.5L403.0 725.8L411.0 726.8L441.0 728.0L461.0 728.8L481.0 729.8L501.0 731.0L508.2 733.5L510.7 738.0L511.4 750.9L511.7 729.0Z" fill="#bdbdbd" stroke="#9a9a9a" stroke-width="0.3" />
<text x="399.80" y="721.25" font-size="2.6" font-family='"DejaVu Sans", sans-serif' text-anchor="end" fill="#333">20</text>
<text x="399.80" y="725.62" font-size="2.6" font-family='"DejaVu Sans", sans-serif' text-anchor="end" fill="#333">10</text>
<text x="399.80" y="729.99" font-size="2.6" font-family='"DejaVu Sans", sans-serif' text-anchor="end" fill="#333">0</text>
<text x="399.80" y="734.36" font-size="2.6" font-family='"DejaVu Sans", sans-serif' text-anchor="end" fill="#333">-10</text>
<text x="399.80" y="738.73" font-size="2.6" font-family='"DejaVu Sans", sans-serif' text-anchor="end" fill="#333">-20</text>
<text x="399.80" y="743.10" font-size="2.6" font-family='"DejaVu Sans", sans-serif' text-anchor="end" fill="#333">-30</text>
<text x="399.80" y="747.47" font-size="2.6" font-family='"DejaVu Sans", sans-serif' text-anchor="end" fill="#333">-40</text>
<text x="392.20" y="731.50" font-size="3.1" font-family='"DejaVu Sans", sans-serif' text-anchor="middle" fill="#333" transform="rotate(-90 392.20 731.50)">Ranked list metric (PreRanked)</text>
<text x="439.00" y="735.04" font-size="2.3" font-family='"DejaVu Sans", sans-serif' text-anchor="middle" fill="#333">Zero cross at 8961</text>
<text x="478.50" y="749.00" font-size="2.6" font-family='"DejaVu Sans", sans-serif' text-anchor="middle" fill="#3040a0">'na_neg' (negatively correlated)</text>
<line x1="401.00" y1="752.40" x2="401.00" y2="753.40" stroke="#555" stroke-width="0.4" />
<text x="401.00" y="756.73" font-size="3.1" font-family='"DejaVu Sans", sans-serif' text-anchor="middle" fill="#333">0</text>
<line x1="424.00" y1="752.40" x2="424.00" y2="753.40" stroke="#555" stroke-width="0.4" />
<text x="424.00" y="756.73" font-size="3.1" font-family='"DejaVu Sans", sans-serif' text-anchor="middle" fill="#333">5,000</text>
<line x1="447.00" y1="752.40" x2="447.00" y2="753.40" stroke="#555" stroke-width="0.4" />
<text x="447.00" y="756.73" font-size="3.1" font-family='"DejaVu Sans", sans-serif' text-anchor="middle" fill="#333">10,000</text>
<line x1="470.00" y1="752.40" x2="470.00" y2="753.40" stroke="#555" stroke-width="0.4" />
<text x="470.00" y="756.73" font-size="3.1" font-family='"DejaVu Sans", sans-serif' text-anchor="middle" fill="#333">15,000</text>
<line x1="493.00" y1="752.40" x2="493.00" y2="753.40" stroke="#555" stroke-width="0.4" />
<text x="493.00" y="756.73" font-size="3.1" font-family='"DejaVu Sans", sans-serif' text-anchor="middle" fill="#333">20,000</text>
<text x="450.60" y="762.09" font-size="3.0" font-family='"DejaVu Sans", sans-serif' text-anchor="middle" fill="#333">Rank in ordered dataset</text>
<rect x="404.20" y="763.10" width="94.60" height="6.20" fill="#fafaea" stroke="#a0a0a0" stroke-width="0.5" />
<line x1="405.80" y1="766.10" x2="408.20" y2="766.10" stroke="#4caf50" stroke-width="0.7" />
<text x="408.60" y="767.23" font-size="3.1" font-family='"DejaVu Sans", sans-serif' fill="#222">Enrichment profile</text>
<line x1="442.30" y1="766.10" x2="444.50" y2="766.10" stroke="#444" stroke-width="0.6" />
<text x="445.00" y="767.23" font-size="3.1" font-family='"DejaVu Sans", sans-serif' fill="#222">Hits</text>
<text x="465.40" y="767.23" font-size="3.1" font-family='"DejaVu Sans", sans-serif' fill="#222">Ranking metric scores</text>
<rect x="386.00" y="774.80" width="133.00" height="134.70" fill="#f8f8f8" stroke="#e2e2e2" stroke-width="0.8" />
<text x="451.50" y="778.67" font-size="4.3" font-family='"DejaVu Sans", sans-serif' text-anchor="middle" font-weight="bold" fill="#111">Enrichment plot:</text>
<text x="452.60" y="784.57" font-size="4.3" font-family='"DejaVu Sans", sans-serif' text-anchor="middle" font-weight="bold" fill="#111">TCGA_GLIOBLASTOMA_COPY_NUMBER_DN</text>
<rect x="401.00" y="788.30" width="111.20" height="47.30" fill="#fff" stroke="#c8c8c8" stroke-width="0.6" />
<line x1="401.00" y1="834.00" x2="512.20" y2="834.00" stroke="#f0f0f0" stroke-width="0.4" />
<text x="399.80" y="835.31" font-size="3.6" font-family='"DejaVu Sans", sans-serif' text-anchor="end" fill="#333">0.0</text>
<line x1="400.20" y1="834.00" x2="401.00" y2="834.00" stroke="#555" stroke-width="0.4" />
<line x1="401.00" y1="826.20" x2="512.20" y2="826.20" stroke="#f0f0f0" stroke-width="0.4" />
<text x="399.80" y="827.51" font-size="3.6" font-family='"DejaVu Sans", sans-serif' text-anchor="end" fill="#333">0.1</text>
<line x1="400.20" y1="826.20" x2="401.00" y2="826.20" stroke="#555" stroke-width="0.4" />
<line x1="401.00" y1="818.40" x2="512.20" y2="818.40" stroke="#f0f0f0" stroke-width="0.4" />
<text x="399.80" y="819.71" font-size="3.6" font-family='"DejaVu Sans", sans-serif' text-anchor="end" fill="#333">0.2</text>
<line x1="400.20" y1="818.40" x2="401.00" y2="818.40" stroke="#555" stroke-width="0.4" />
<line x1="401.00" y1="810.60" x2="512.20" y2="810.60" stroke="#f0f0f0" stroke-width="0.4" />
<text x="399.80" y="811.91" font-size="3.6" font-family='"DejaVu Sans", sans-serif' text-anchor="end" fill="#333">0.3</text>
<line x1="400.20" y1="810.60" x2="401.00" y2="810.60" stroke="#555" stroke-width="0.4" />
<line x1="401.00" y1="802.80" x2="512.20" y2="802.80" stroke="#f0f0f0" stroke-width="0.4" />
<text x="399.80" y="804.11" font-size="3.6" font-family='"DejaVu Sans", sans-serif' text-anchor="end" fill="#333">0.4</text>
<line x1="400.20" y1="802.80" x2="401.00" y2="802.80" stroke="#555" stroke-width="0.4" />
<line x1="401.00" y1="795.00" x2="512.20" y2="795.00" stroke="#f0f0f0" stroke-width="0.4" />
<text x="399.80" y="796.31" font-size="3.6" font-family='"DejaVu Sans", sans-serif' text-anchor="end" fill="#333">0.5</text>
<line x1="400.20" y1="795.00" x2="401.00" y2="795.00" stroke="#555" stroke-width="0.4" />
<line x1="423.00" y1="788.30" x2="423.00" y2="835.60" stroke="#f0f0f0" stroke-width="0.4" />
<line x1="445.00" y1="788.30" x2="445.00" y2="835.60" stroke="#f0f0f0" stroke-width="0.4" />
<line x1="467.00" y1="788.30" x2="467.00" y2="835.60" stroke="#f0f0f0" stroke-width="0.4" />
<line x1="489.00" y1="788.30" x2="489.00" y2="835.60" stroke="#f0f0f0" stroke-width="0.4" />
<line x1="511.00" y1="788.30" x2="511.00" y2="835.60" stroke="#f0f0f0" stroke-width="0.4" />
<text x="392.20" y="811.95" font-size="3.6" font-family='"DejaVu Sans", sans-serif' text-anchor="middle" fill="#333" transform="rotate(-90 392.20 811.95)">Enrichment score (ES)</text>
<path d="M401.2 834.0L401.8 826.0L402.4 819.0L403.2 812.0L404.2 804.4L406.0 806.0L407.5 802.0L409.0 799.5L411.0 797.0L413.0 795.0L415.0 793.5L417.0 794.5L418.5 792.0L420.4 790.2L424.0 790.5L428.0 792.0L432.0 795.0L436.0 797.5L440.0 800.0L445.0 803.5L450.0 806.8L455.0 808.5L458.0 809.5L462.0 811.0L465.0 815.0L466.5 816.5L468.0 814.0L470.0 816.0L472.0 815.0L473.7 812.5L477.0 814.5L480.0 816.5L482.3 818.7L483.5 814.0L485.0 815.5L495.0 822.0L511.4 834.0" fill="none" stroke="#4caf50" stroke-width="0.8" stroke-linejoin="round"/>
<rect x="401.00" y="836.60" width="111.20" height="15.80" fill="#fff" stroke="#c8c8c8" stroke-width="0.5" />
<line x1="403.90" y1="837.10" x2="403.90" y2="851.90" stroke="#222" stroke-width="0.35" />
<line x1="405.00" y1="837.10" x2="405.00" y2="851.90" stroke="#222" stroke-width="0.35" />
<line x1="406.00" y1="837.10" x2="406.00" y2="851.90" stroke="#222" stroke-width="0.35" />
<line x1="407.20" y1="837.10" x2="407.20" y2="851.90" stroke="#222" stroke-width="0.35" />
<line x1="408.50" y1="837.10" x2="408.50" y2="851.90" stroke="#222" stroke-width="0.35" />
<line x1="409.60" y1="837.10" x2="409.60" y2="851.90" stroke="#222" stroke-width="0.35" />
<line x1="410.30" y1="837.10" x2="410.30" y2="851.90" stroke="#222" stroke-width="0.35" />
<line x1="411.50" y1="837.10" x2="411.50" y2="851.90" stroke="#222" stroke-width="0.35" />
<line x1="412.60" y1="837.10" x2="412.60" y2="851.90" stroke="#222" stroke-width="0.35" />
<line x1="413.80" y1="837.10" x2="413.80" y2="851.90" stroke="#222" stroke-width="0.35" />
<line x1="414.70" y1="837.10" x2="414.70" y2="851.90" stroke="#222" stroke-width="0.35" />
<line x1="415.60" y1="837.10" x2="415.60" y2="851.90" stroke="#222" stroke-width="0.35" />
<line x1="416.70" y1="837.10" x2="416.70" y2="851.90" stroke="#222" stroke-width="0.35" />
<line x1="418.20" y1="837.10" x2="418.20" y2="851.90" stroke="#222" stroke-width="0.35" />
<line x1="419.50" y1="837.10" x2="419.50" y2="851.90" stroke="#222" stroke-width="0.35" />
<line x1="421.00" y1="837.10" x2="421.00" y2="851.90" stroke="#222" stroke-width="0.35" />
<line x1="424.20" y1="837.10" x2="424.20" y2="851.90" stroke="#222" stroke-width="0.35" />
<line x1="428.50" y1="837.10" x2="428.50" y2="851.90" stroke="#222" stroke-width="0.35" />
<line x1="437.00" y1="837.10" x2="437.00" y2="851.90" stroke="#222" stroke-width="0.35" />
<line x1="441.50" y1="837.10" x2="441.50" y2="851.90" stroke="#222" stroke-width="0.35" />
<line x1="452.20" y1="837.10" x2="452.20" y2="851.90" stroke="#222" stroke-width="0.35" />
<line x1="457.00" y1="837.10" x2="457.00" y2="851.90" stroke="#222" stroke-width="0.35" />
<line x1="469.50" y1="837.10" x2="469.50" y2="851.90" stroke="#222" stroke-width="0.35" />
<line x1="473.80" y1="837.10" x2="473.80" y2="851.90" stroke="#222" stroke-width="0.35" />
<line x1="483.50" y1="837.10" x2="483.50" y2="851.90" stroke="#222" stroke-width="0.35" />
<line x1="410.50" y1="837.10" x2="410.50" y2="851.90" stroke="#9a9a9a" stroke-width="0.9" />
<line x1="413.00" y1="837.10" x2="413.00" y2="851.90" stroke="#9a9a9a" stroke-width="0.9" />
<line x1="416.00" y1="837.10" x2="416.00" y2="851.90" stroke="#9a9a9a" stroke-width="0.9" />
<line x1="419.00" y1="837.10" x2="419.00" y2="851.90" stroke="#9a9a9a" stroke-width="0.9" />
<line x1="437.60" y1="837.10" x2="437.60" y2="851.90" stroke="#9a9a9a" stroke-width="0.9" />
<line x1="470.00" y1="837.10" x2="470.00" y2="851.90" stroke="#9a9a9a" stroke-width="0.9" />
<defs><linearGradient id="gH774" x1="0" x2="1"><stop offset="0" stop-color="#e31a2a"/><stop offset="0.2" stop-color="#e73040"/><stop offset="0.275" stop-color="#ea4c5c"/><stop offset="0.28" stop-color="#f4bdd0"/><stop offset="0.33" stop-color="#eec8dc"/><stop offset="0.335" stop-color="#d8d0e8"/><stop offset="0.6" stop-color="#ccc6e4"/><stop offset="0.63" stop-color="#c4bee0"/><stop offset="0.635" stop-color="#6e6cbc"/><stop offset="0.75" stop-color="#6462b4"/><stop offset="0.755" stop-color="#3a3aa0"/><stop offset="0.955" stop-color="#36369c"/><stop offset="0.96" stop-color="#1c1c72"/><stop offset="1" stop-color="#1c1c72"/></linearGradient></defs>
<rect x="401.00" y="852.90" width="111.20" height="4.00" fill="url(#gH774)" />
<rect x="401.00" y="857.50" width="111.20" height="31.10" fill="#fff" stroke="#c8c8c8" stroke-width="0.5" />
<text x="401.80" y="859.80" font-size="2.65" font-family='"DejaVu Sans", sans-serif' fill="#e02020">'na_pos' (positively correlated)</text>
<path d="M401.0 866.0L401.0 860.5L403.0 862.8L411.0 863.8L441.0 865.0L461.0 865.8L481.0 866.8L501.0 868.0L508.2 870.5L510.7 875.0L511.4 887.1L511.7 866.0Z" fill="#bdbdbd" stroke="#9a9a9a" stroke-width="0.3" />
<text x="399.80" y="860.15" font-size="2.6" font-family='"DejaVu Sans", sans-serif' text-anchor="end" fill="#333">20</text>
<text x="399.80" y="864.52" font-size="2.6" font-family='"DejaVu Sans", sans-serif' text-anchor="end" fill="#333">10</text>
<text x="399.80" y="868.89" font-size="2.6" font-family='"DejaVu Sans", sans-serif' text-anchor="end" fill="#333">0</text>
<text x="399.80" y="873.26" font-size="2.6" font-family='"DejaVu Sans", sans-serif' text-anchor="end" fill="#333">-10</text>
<text x="399.80" y="877.63" font-size="2.6" font-family='"DejaVu Sans", sans-serif' text-anchor="end" fill="#333">-20</text>
<text x="399.80" y="882.00" font-size="2.6" font-family='"DejaVu Sans", sans-serif' text-anchor="end" fill="#333">-30</text>
<text x="399.80" y="886.37" font-size="2.6" font-family='"DejaVu Sans", sans-serif' text-anchor="end" fill="#333">-40</text>
<text x="392.20" y="869.05" font-size="3.1" font-family='"DejaVu Sans", sans-serif' text-anchor="middle" fill="#333" transform="rotate(-90 392.20 869.05)">Ranked list metric (PreRanked)</text>
<text x="439.00" y="872.04" font-size="2.3" font-family='"DejaVu Sans", sans-serif' text-anchor="middle" fill="#333">Zero cross at 8961</text>
<text x="478.50" y="885.20" font-size="2.6" font-family='"DejaVu Sans", sans-serif' text-anchor="middle" fill="#3040a0">'na_neg' (negatively correlated)</text>
<line x1="401.00" y1="888.60" x2="401.00" y2="889.60" stroke="#555" stroke-width="0.4" />
<text x="401.00" y="892.93" font-size="3.1" font-family='"DejaVu Sans", sans-serif' text-anchor="middle" fill="#333">0</text>
<line x1="424.00" y1="888.60" x2="424.00" y2="889.60" stroke="#555" stroke-width="0.4" />
<text x="424.00" y="892.93" font-size="3.1" font-family='"DejaVu Sans", sans-serif' text-anchor="middle" fill="#333">5,000</text>
<line x1="447.00" y1="888.60" x2="447.00" y2="889.60" stroke="#555" stroke-width="0.4" />
<text x="447.00" y="892.93" font-size="3.1" font-family='"DejaVu Sans", sans-serif' text-anchor="middle" fill="#333">10,000</text>
<line x1="470.00" y1="888.60" x2="470.00" y2="889.60" stroke="#555" stroke-width="0.4" />
<text x="470.00" y="892.93" font-size="3.1" font-family='"DejaVu Sans", sans-serif' text-anchor="middle" fill="#333">15,000</text>
<line x1="493.00" y1="888.60" x2="493.00" y2="889.60" stroke="#555" stroke-width="0.4" />
<text x="493.00" y="892.93" font-size="3.1" font-family='"DejaVu Sans", sans-serif' text-anchor="middle" fill="#333">20,000</text>
<text x="450.60" y="898.29" font-size="3.0" font-family='"DejaVu Sans", sans-serif' text-anchor="middle" fill="#333">Rank in ordered dataset</text>
<rect x="404.20" y="901.90" width="94.60" height="6.20" fill="#fafaea" stroke="#a0a0a0" stroke-width="0.5" />
<line x1="405.80" y1="904.90" x2="408.20" y2="904.90" stroke="#4caf50" stroke-width="0.7" />
<text x="408.60" y="906.03" font-size="3.1" font-family='"DejaVu Sans", sans-serif' fill="#222">Enrichment profile</text>
<line x1="442.30" y1="904.90" x2="444.50" y2="904.90" stroke="#444" stroke-width="0.6" />
<text x="445.00" y="906.03" font-size="3.1" font-family='"DejaVu Sans", sans-serif' fill="#222">Hits</text>
<text x="465.40" y="906.03" font-size="3.1" font-family='"DejaVu Sans", sans-serif' fill="#222">Ranking metric scores</text>
<text x="48.47" y="923.60" font-size="12.6" font-family='"Liberation Sans", Arial, sans-serif' font-weight="bold">I</text>
<rect x="78.30" y="981.56" width="4.00" height="40.79" fill="#dcbcdc" />
<rect x="78.30" y="976.26" width="4.00" height="5.35" fill="#bd168a" />
<rect x="78.30" y="970.97" width="4.00" height="5.35" fill="#f5d21a" />
<rect x="78.30" y="963.23" width="4.00" height="7.79" fill="#41b6e6" />
<rect x="78.30" y="960.99" width="4.00" height="2.29" fill="#232477" />
<text x="82.30" y="1025.60" font-size="5.6" font-family='"DejaVu Sans", sans-serif' text-anchor="end" fill="#222" transform="rotate(-90 82.30 1025.60)" stroke="#222" stroke-width="0.15">BT920</text>
<line x1="80.30" y1="1022.00" x2="80.30" y2="1023.80" stroke="#111" stroke-width="0.8" />
<rect x="83.66" y="1003.56" width="4.00" height="18.79" fill="#dcbcdc" />
<rect x="83.66" y="1002.34" width="4.00" height="1.27" fill="#bd168a" />
<rect x="83.66" y="996.84" width="4.00" height="5.55" fill="#f5d21a" />
<rect x="83.66" y="949.38" width="4.00" height="47.51" fill="#232477" />
<text x="87.66" y="1025.60" font-size="5.6" font-family='"DejaVu Sans", sans-serif' text-anchor="end" fill="#222" transform="rotate(-90 87.66 1025.60)" stroke="#222" stroke-width="0.15">MGH110</text>
<line x1="85.66" y1="1022.00" x2="85.66" y2="1023.80" stroke="#111" stroke-width="0.8" />
<rect x="89.02" y="1010.08" width="4.00" height="12.27" fill="#dcbcdc" />
<rect x="89.02" y="1007.63" width="4.00" height="2.49" fill="#bd168a" />
<rect x="89.02" y="997.86" width="4.00" height="9.83" fill="#f5d21a" />
<rect x="89.02" y="970.36" width="4.00" height="27.55" fill="#41b6e6" />
<rect x="89.02" y="941.84" width="4.00" height="28.57" fill="#232477" />
<text x="93.02" y="1025.60" font-size="5.6" font-family='"DejaVu Sans", sans-serif' text-anchor="end" fill="#222" transform="rotate(-90 93.02 1025.60)" stroke="#222" stroke-width="0.15">MGH115</text>
<line x1="91.02" y1="1022.00" x2="91.02" y2="1023.80" stroke="#111" stroke-width="0.8" />
<rect x="94.39" y="1013.74" width="4.00" height="8.61" fill="#dcbcdc" />
<rect x="94.39" y="944.08" width="4.00" height="69.72" fill="#bd168a" />
<rect x="94.39" y="938.99" width="4.00" height="5.14" fill="#f5d21a" />
<rect x="94.39" y="933.28" width="4.00" height="5.75" fill="#232477" />
<text x="98.39" y="1025.60" font-size="5.6" font-family='"DejaVu Sans", sans-serif' text-anchor="end" fill="#222" transform="rotate(-90 98.39 1025.60)" stroke="#222" stroke-width="0.15">MGH66</text>
<line x1="96.39" y1="1022.00" x2="96.39" y2="1023.80" stroke="#111" stroke-width="0.8" />
<rect x="99.75" y="1013.74" width="4.00" height="8.61" fill="#dcbcdc" />
<rect x="99.75" y="1004.17" width="4.00" height="9.62" fill="#bd168a" />
<rect x="99.75" y="968.12" width="4.00" height="36.10" fill="#f5d21a" />
<rect x="99.75" y="962.82" width="4.00" height="5.35" fill="#41b6e6" />
<rect x="99.75" y="953.04" width="4.00" height="9.83" fill="#232477" />
<text x="103.75" y="1025.60" font-size="5.6" font-family='"DejaVu Sans", sans-serif' text-anchor="end" fill="#222" transform="rotate(-90 103.75 1025.60)" stroke="#222" stroke-width="0.15">BT771</text>
<line x1="101.75" y1="1022.00" x2="101.75" y2="1023.80" stroke="#111" stroke-width="0.8" />
<rect x="105.11" y="1017.21" width="4.00" height="5.14" fill="#dcbcdc" />
<rect x="105.11" y="987.67" width="4.00" height="29.59" fill="#bd168a" />
<rect x="105.11" y="976.26" width="4.00" height="11.46" fill="#f5d21a" />
<rect x="105.11" y="962.00" width="4.00" height="14.31" fill="#232477" />
<text x="109.11" y="1025.60" font-size="5.6" font-family='"DejaVu Sans", sans-serif' text-anchor="end" fill="#222" transform="rotate(-90 109.11 1025.60)" stroke="#222" stroke-width="0.15">MGH121</text>
<line x1="107.11" y1="1022.00" x2="107.11" y2="1023.80" stroke="#111" stroke-width="0.8" />
<rect x="110.47" y="1020.06" width="4.00" height="2.29" fill="#dcbcdc" />
<rect x="110.47" y="1015.78" width="4.00" height="4.33" fill="#41b6e6" />
<rect x="110.47" y="971.99" width="4.00" height="43.85" fill="#232477" />
<text x="114.47" y="1025.60" font-size="5.6" font-family='"DejaVu Sans", sans-serif' text-anchor="end" fill="#222" transform="rotate(-90 114.47 1025.60)" stroke="#222" stroke-width="0.15">MGH85</text>
<line x1="112.47" y1="1022.00" x2="112.47" y2="1023.80" stroke="#111" stroke-width="0.8" />
<rect x="115.83" y="1020.06" width="4.00" height="2.29" fill="#dcbcdc" />
<rect x="115.83" y="990.12" width="4.00" height="29.99" fill="#bd168a" />
<rect x="115.83" y="977.28" width="4.00" height="12.88" fill="#f5d21a" />
<text x="119.83" y="1025.60" font-size="5.6" font-family='"DejaVu Sans", sans-serif' text-anchor="end" fill="#222" transform="rotate(-90 119.83 1025.60)" stroke="#222" stroke-width="0.15">BT830</text>
<line x1="117.83" y1="1022.00" x2="117.83" y2="1023.80" stroke="#111" stroke-width="0.8" />
<rect x="121.20" y="1020.06" width="4.00" height="2.29" fill="#dcbcdc" />
<rect x="121.20" y="989.71" width="4.00" height="30.40" fill="#41b6e6" />
<rect x="121.20" y="954.06" width="4.00" height="35.70" fill="#232477" />
<text x="125.20" y="1025.60" font-size="5.6" font-family='"DejaVu Sans", sans-serif' text-anchor="end" fill="#222" transform="rotate(-90 125.20 1025.60)" stroke="#222" stroke-width="0.15">BT1160</text>
<line x1="123.20" y1="1022.00" x2="123.20" y2="1023.80" stroke="#111" stroke-width="0.8" />
<rect x="126.56" y="1020.06" width="4.00" height="2.29" fill="#dcbcdc" />
<rect x="126.56" y="1006.21" width="4.00" height="13.90" fill="#bd168a" />
<rect x="126.56" y="993.99" width="4.00" height="12.27" fill="#f5d21a" />
<rect x="126.56" y="990.73" width="4.00" height="3.31" fill="#41b6e6" />
<rect x="126.56" y="979.93" width="4.00" height="10.85" fill="#232477" />
<text x="130.56" y="1025.60" font-size="5.6" font-family='"DejaVu Sans", sans-serif' text-anchor="end" fill="#222" transform="rotate(-90 130.56 1025.60)" stroke="#222" stroke-width="0.15">MGH100</text>
<line x1="128.56" y1="1022.00" x2="128.56" y2="1023.80" stroke="#111" stroke-width="0.8" />
<rect x="131.92" y="1021.28" width="4.00" height="1.07" fill="#dcbcdc" />
<rect x="131.92" y="1018.23" width="4.00" height="3.11" fill="#bd168a" />
<rect x="131.92" y="997.86" width="4.00" height="20.42" fill="#f5d21a" />
<rect x="131.92" y="970.36" width="4.00" height="27.55" fill="#41b6e6" />
<rect x="131.92" y="959.97" width="4.00" height="10.44" fill="#232477" />
<text x="135.92" y="1025.60" font-size="5.6" font-family='"DejaVu Sans", sans-serif' text-anchor="end" fill="#222" transform="rotate(-90 135.92 1025.60)" stroke="#222" stroke-width="0.15">MGH102</text>
<line x1="133.92" y1="1022.00" x2="133.92" y2="1023.80" stroke="#111" stroke-width="0.8" />
<rect x="137.28" y="1020.06" width="4.00" height="2.29" fill="#bd168a" />
<rect x="137.28" y="1015.78" width="4.00" height="4.33" fill="#41b6e6" />
<rect x="137.28" y="958.13" width="4.00" height="57.70" fill="#232477" />
<text x="141.28" y="1025.60" font-size="5.6" font-family='"DejaVu Sans", sans-serif' text-anchor="end" fill="#222" transform="rotate(-90 141.28 1025.60)" stroke="#222" stroke-width="0.15">BT749</text>
<line x1="139.28" y1="1022.00" x2="139.28" y2="1023.80" stroke="#111" stroke-width="0.8" />
<rect x="142.64" y="1006.62" width="4.00" height="15.73" fill="#bd168a" />
<rect x="142.64" y="990.12" width="4.00" height="16.55" fill="#f5d21a" />
<rect x="142.64" y="987.67" width="4.00" height="2.49" fill="#232477" />
<text x="146.64" y="1025.60" font-size="5.6" font-family='"DejaVu Sans", sans-serif' text-anchor="end" fill="#222" transform="rotate(-90 146.64 1025.60)" stroke="#222" stroke-width="0.15">MGH105C</text>
<line x1="144.64" y1="1022.00" x2="144.64" y2="1023.80" stroke="#111" stroke-width="0.8" />
<rect x="148.01" y="1019.45" width="4.00" height="2.90" fill="#bd168a" />
<rect x="148.01" y="1005.60" width="4.00" height="13.90" fill="#f5d21a" />
<rect x="148.01" y="969.34" width="4.00" height="36.31" fill="#41b6e6" />
<rect x="148.01" y="947.34" width="4.00" height="22.05" fill="#232477" />
<text x="152.01" y="1025.60" font-size="5.6" font-family='"DejaVu Sans", sans-serif' text-anchor="end" fill="#222" transform="rotate(-90 152.01 1025.60)" stroke="#222" stroke-width="0.15">MGH124</text>
<line x1="150.01" y1="1022.00" x2="150.01" y2="1023.80" stroke="#111" stroke-width="0.8" />
<rect x="153.37" y="1006.62" width="4.00" height="15.73" fill="#bd168a" />
<rect x="153.37" y="996.84" width="4.00" height="9.83" fill="#f5d21a" />
<rect x="153.37" y="995.41" width="4.00" height="1.48" fill="#232477" />
<text x="157.37" y="1025.60" font-size="5.6" font-family='"DejaVu Sans", sans-serif' text-anchor="end" fill="#222" transform="rotate(-90 157.37 1025.60)" stroke="#222" stroke-width="0.15">MGH129</text>
<line x1="155.37" y1="1022.00" x2="155.37" y2="1023.80" stroke="#111" stroke-width="0.8" />
<rect x="158.73" y="1020.67" width="4.00" height="1.68" fill="#bd168a" />
<rect x="158.73" y="979.93" width="4.00" height="40.79" fill="#232477" />
<text x="162.73" y="1025.60" font-size="5.6" font-family='"DejaVu Sans", sans-serif' text-anchor="end" fill="#222" transform="rotate(-90 162.73 1025.60)" stroke="#222" stroke-width="0.15">BT786</text>
<line x1="160.73" y1="1022.00" x2="160.73" y2="1023.80" stroke="#111" stroke-width="0.8" />
<rect x="164.09" y="1005.60" width="4.00" height="16.75" fill="#f5d21a" />
<rect x="164.09" y="989.71" width="4.00" height="15.94" fill="#41b6e6" />
<rect x="164.09" y="967.71" width="4.00" height="22.05" fill="#232477" />
<text x="168.09" y="1025.60" font-size="5.6" font-family='"DejaVu Sans", sans-serif' text-anchor="end" fill="#222" transform="rotate(-90 168.09 1025.60)" stroke="#222" stroke-width="0.15">MGH122</text>
<line x1="166.09" y1="1022.00" x2="166.09" y2="1023.80" stroke="#111" stroke-width="0.8" />
<rect x="169.45" y="997.86" width="4.00" height="24.49" fill="#bd168a" />
<rect x="169.45" y="994.80" width="4.00" height="3.11" fill="#f5d21a" />
<text x="173.45" y="1025.60" font-size="5.6" font-family='"DejaVu Sans", sans-serif' text-anchor="end" fill="#222" transform="rotate(-90 173.45 1025.60)" stroke="#222" stroke-width="0.15">MGH104</text>
<line x1="171.45" y1="1022.00" x2="171.45" y2="1023.80" stroke="#111" stroke-width="0.8" />
<rect x="174.82" y="996.84" width="4.00" height="25.51" fill="#bd168a" />
<rect x="174.82" y="982.99" width="4.00" height="13.90" fill="#f5d21a" />
<rect x="174.82" y="982.37" width="4.00" height="0.66" fill="#232477" />
<text x="178.82" y="1025.60" font-size="5.6" font-family='"DejaVu Sans", sans-serif' text-anchor="end" fill="#222" transform="rotate(-90 178.82 1025.60)" stroke="#222" stroke-width="0.15">MGH101</text>
<line x1="176.82" y1="1022.00" x2="176.82" y2="1023.80" stroke="#111" stroke-width="0.8" />
<rect x="180.18" y="1007.63" width="4.00" height="14.72" fill="#bd168a" />
<rect x="180.18" y="996.84" width="4.00" height="10.85" fill="#f5d21a" />
<rect x="180.18" y="987.67" width="4.00" height="9.22" fill="#232477" />
<text x="184.18" y="1025.60" font-size="5.6" font-family='"DejaVu Sans", sans-serif' text-anchor="end" fill="#222" transform="rotate(-90 184.18 1025.60)" stroke="#222" stroke-width="0.15">MGH105D</text>
<line x1="182.18" y1="1022.00" x2="182.18" y2="1023.80" stroke="#111" stroke-width="0.8" />
<rect x="185.54" y="1004.37" width="4.00" height="17.98" fill="#bd168a" />
<rect x="185.54" y="989.71" width="4.00" height="14.72" fill="#f5d21a" />
<rect x="185.54" y="986.65" width="4.00" height="3.11" fill="#41b6e6" />
<rect x="185.54" y="971.78" width="4.00" height="14.92" fill="#232477" />
<text x="189.54" y="1025.60" font-size="5.6" font-family='"DejaVu Sans", sans-serif' text-anchor="end" fill="#222" transform="rotate(-90 189.54 1025.60)" stroke="#222" stroke-width="0.15">MGH113</text>
<line x1="187.54" y1="1022.00" x2="187.54" y2="1023.80" stroke="#111" stroke-width="0.8" />
<rect x="190.90" y="1010.69" width="4.00" height="11.66" fill="#bd168a" />
<rect x="190.90" y="992.56" width="4.00" height="18.18" fill="#f5d21a" />
<rect x="190.90" y="991.13" width="4.00" height="1.48" fill="#232477" />
<text x="194.90" y="1025.60" font-size="5.6" font-family='"DejaVu Sans", sans-serif' text-anchor="end" fill="#222" transform="rotate(-90 194.90 1025.60)" stroke="#222" stroke-width="0.15">MGH105A</text>
<line x1="192.90" y1="1022.00" x2="192.90" y2="1023.80" stroke="#111" stroke-width="0.8" />
<rect x="196.26" y="1001.12" width="4.00" height="21.23" fill="#f5d21a" />
<rect x="196.26" y="999.28" width="4.00" height="1.88" fill="#232477" />
<text x="200.26" y="1025.60" font-size="5.6" font-family='"DejaVu Sans", sans-serif' text-anchor="end" fill="#222" transform="rotate(-90 200.26 1025.60)" stroke="#222" stroke-width="0.15">MGH105B</text>
<line x1="198.26" y1="1022.00" x2="198.26" y2="1023.80" stroke="#111" stroke-width="0.8" />
<rect x="201.63" y="1006.00" width="4.00" height="16.35" fill="#bd168a" />
<rect x="201.63" y="990.93" width="4.00" height="15.12" fill="#f5d21a" />
<rect x="201.63" y="990.12" width="4.00" height="0.86" fill="#232477" />
<text x="205.63" y="1025.60" font-size="5.6" font-family='"DejaVu Sans", sans-serif' text-anchor="end" fill="#222" transform="rotate(-90 205.63 1025.60)" stroke="#222" stroke-width="0.15">MGH125</text>
<line x1="203.63" y1="1022.00" x2="203.63" y2="1023.80" stroke="#111" stroke-width="0.8" />
<rect x="206.99" y="990.12" width="4.00" height="32.23" fill="#f5d21a" />
<text x="210.99" y="1025.60" font-size="5.6" font-family='"DejaVu Sans", sans-serif' text-anchor="end" fill="#222" transform="rotate(-90 210.99 1025.60)" stroke="#222" stroke-width="0.15">BT1187</text>
<line x1="208.99" y1="1022.00" x2="208.99" y2="1023.80" stroke="#111" stroke-width="0.8" />
<line x1="71.30" y1="928.50" x2="71.30" y2="1022.60" stroke="#111" stroke-width="1.25" />
<line x1="70.70" y1="1022.00" x2="217.00" y2="1022.00" stroke="#111" stroke-width="1.25" />
<line x1="69.30" y1="1022.30" x2="71.30" y2="1022.30" stroke="#111" stroke-width="0.8" />
<text x="67.90" y="1024.40" font-size="6.1" font-family='"Liberation Sans", Arial, sans-serif' text-anchor="end" fill="#222">0</text>
<line x1="69.30" y1="1001.93" x2="71.30" y2="1001.93" stroke="#111" stroke-width="0.8" />
<text x="67.90" y="1004.03" font-size="6.1" font-family='"Liberation Sans", Arial, sans-serif' text-anchor="end" fill="#222">100</text>
<line x1="69.30" y1="981.56" x2="71.30" y2="981.56" stroke="#111" stroke-width="0.8" />
<text x="67.90" y="983.66" font-size="6.1" font-family='"Liberation Sans", Arial, sans-serif' text-anchor="end" fill="#222">200</text>
<line x1="69.30" y1="961.19" x2="71.30" y2="961.19" stroke="#111" stroke-width="0.8" />
<text x="67.90" y="963.29" font-size="6.1" font-family='"Liberation Sans", Arial, sans-serif' text-anchor="end" fill="#222">300</text>
<line x1="69.30" y1="940.82" x2="71.30" y2="940.82" stroke="#111" stroke-width="0.8" />
<text x="67.90" y="942.92" font-size="6.1" font-family='"Liberation Sans", Arial, sans-serif' text-anchor="end" fill="#222">400</text>
<text x="51.60" y="970.00" font-size="9.9" font-family='"Liberation Sans", Arial, sans-serif' text-anchor="middle" fill="#111" transform="rotate(-90 51.60 970.00)">count</text>
<text x="139.00" y="1066.77" font-size="10.1" font-family='"Liberation Sans", Arial, sans-serif' text-anchor="middle" fill="#111">Primary GBM tumors</text>
<circle cx="222.00" cy="958.70" r="2.90" fill="#232477" />
<text x="226.40" y="961.62" font-size="8.5" font-family='"Liberation Sans", Arial, sans-serif' fill="#111">OPC</text>
<circle cx="222.00" cy="968.70" r="2.90" fill="#41b6e6" />
<text x="226.40" y="971.62" font-size="8.5" font-family='"Liberation Sans", Arial, sans-serif' fill="#111">NPC</text>
<circle cx="222.00" cy="978.70" r="2.90" fill="#f5d21a" />
<text x="226.40" y="981.62" font-size="8.5" font-family='"Liberation Sans", Arial, sans-serif' fill="#111">MES</text>
<circle cx="222.00" cy="988.70" r="2.90" fill="#bd168a" />
<text x="226.40" y="991.62" font-size="8.5" font-family='"Liberation Sans", Arial, sans-serif' fill="#111">AC</text>
<circle cx="222.00" cy="998.70" r="2.90" fill="#dcbcdc" />
<text x="226.40" y="1001.62" font-size="8.5" font-family='"Liberation Sans", Arial, sans-serif' fill="#111">RG</text>
<text x="261.91" y="923.50" font-size="12.6" font-family='"Liberation Sans", Arial, sans-serif' font-weight="bold">J</text>
<path d="M325.4 1045.4h0M341.7 1043.4h0M331.4 1045.2h0M317.4 1045.4h0M341.7 1044.0h0M299.5 1043.4h0M317.6 1045.5h0M323.0 1044.0h0M294.4 1045.3h0M340.4 1044.6h0M332.7 1044.4h0M300.8 1043.7h0M325.2 1045.5h0M338.1 1045.4h0M304.4 1044.8h0M338.1 1042.2h0M308.5 1044.1h0M328.2 1045.1h0M304.2 1043.8h0M342.9 1044.8h0M339.2 1045.2h0M302.2 1044.4h0M301.2 1044.6h0M324.4 1045.1h0M294.0 1045.0h0M309.5 1044.5h0M335.4 1044.5h0M318.2 1045.4h0M329.6 1042.5h0M294.9 1044.4h0M331.9 1045.4h0M333.8 1045.3h0M312.4 1045.4h0M296.2 1045.4h0M303.0 1044.7h0M332.2 1045.3h0M341.0 1044.5h0M311.8 1045.1h0M320.5 1045.4h0M331.8 1044.9h0M334.3 1045.3h0M341.9 1045.2h0M298.4 1044.6h0M340.4 1044.1h0M311.1 1044.2h0M309.7 1044.8h0M309.9 1045.3h0M301.3 1045.1h0M328.8 1044.8h0M296.2 1045.5h0M343.9 1044.3h0M305.8 1045.2h0M324.0 1044.9h0M315.2 1044.3h0M296.6 1045.2h0M318.9 1045.3h0M336.4 1044.2h0M342.1 1044.1h0M325.8 1045.4h0M315.9 1044.9h0M301.4 1044.9h0M316.8 1044.7h0M344.6 1043.5h0M316.8 1042.9h0M318.6 1045.3h0M308.6 1044.1h0M314.3 1044.8h0M344.0 1044.6h0M342.6 1044.5h0M311.0 1044.5h0M298.3 1045.2h0M337.9 1043.4h0M312.1 1045.0h0M329.1 1043.5h0M327.5 1045.4h0M329.6 1044.4h0M308.1 1043.5h0M328.9 1045.3h0M308.7 1043.9h0M323.3 1044.9h0M294.4 1044.6h0M327.9 1045.2h0M317.3 1044.8h0M334.3 1043.9h0M311.5 1044.3h0M335.9 1044.0h0M311.6 1044.2h0M328.8 1043.5h0M343.4 1044.1h0M320.7 1045.1h0M302.2 1044.0h0M318.0 1043.1h0M328.9 1045.1h0M302.5 1043.6h0M333.4 1044.0h0M315.2 1044.6h0M325.5 1045.2h0M330.4 1043.8h0M295.2 1044.8h0M326.8 1044.4h0M304.9 1044.8h0M295.9 1044.0h0M317.8 1045.4h0M300.6 1045.1h0M309.9 1045.2h0M295.6 1044.8h0M317.4 1044.3h0M323.8 1044.4h0M305.9 1045.5h0M314.4 1045.5h0M307.9 1045.0h0M336.0 1045.2h0M312.8 1043.9h0M298.6 1045.1h0M321.5 1044.7h0M342.5 1044.2h0M335.4 1043.6h0M326.4 1044.4h0M312.6 1044.5h0M322.4 1044.2h0M342.4 1043.9h0M311.6 1045.2h0M339.2 1044.9h0M322.5 1045.5h0M325.0 1044.4h0M339.1 1044.2h0M312.9 1044.7h0M308.6 1045.1h0M343.2 1043.3h0M340.2 1043.4h0M324.1 1045.3h0M319.0 1042.1h0M314.9 1044.1h0M318.8 1042.4h0M308.3 1044.9h0M325.4 1045.4h0M316.3 1044.9h0M335.8 1043.5h0M294.5 1044.6h0M341.3 1045.3h0M333.5 1045.5h0M301.6 1044.6h0M344.0 1045.1h0M317.9 1043.9h0M326.6 1043.9h0M299.8 1044.3h0M332.4 1045.0h0M310.9 1044.1h0M308.9 1044.2h0M312.1 1045.3h0M331.6 1045.2h0M306.6 1045.3h0M316.9 1043.3h0M321.5 1044.3h0M294.5 1045.3h0M323.0 1044.3h0M329.8 1044.6h0M340.1 1044.5h0M313.4 1043.7h0M303.8 1044.0h0M308.8 1045.3h0M336.3 1045.1h0M329.1 1044.6h0M333.5 1045.1h0M340.1 1044.7h0M321.7 1044.4h0M319.1 1045.2h0M323.6 1044.9h0M335.0 1044.7h0M335.4 1045.1h0M334.0 1045.4h0M330.5 1045.3h0M343.5 1043.6h0M296.3 1045.5h0M336.6 1045.2h0M342.2 1043.8h0M330.0 1044.8h0M340.4 1044.8h0M301.4 1044.6h0M302.0 1044.7h0M325.4 1045.0h0M313.1 1045.3h0M297.4 1044.0h0M331.5 1044.9h0M338.4 1044.7h0M309.8 1044.6h0M324.3 1042.7h0M312.8 1045.3h0M296.6 1045.3h0M325.9 1044.9h0M319.5 1044.2h0M325.3 1044.7h0M307.2 1044.6h0M331.9 1045.2h0M320.1 1044.9h0M312.6 1044.9h0M331.2 1044.7h0M327.1 1043.8h0M298.1 1045.2h0M300.1 1045.0h0M322.3 1017.4h0M336.0 1008.4h0M320.6 981.1h0M343.3 978.8h0M333.3 992.8h0M342.0 994.6h0M329.0 992.2h0M342.1 990.7h0M330.4 1009.3h0M321.8 1022.7h0M329.0 984.5h0M321.5 1022.1h0M324.3 1000.4h0M334.9 1018.6h0M331.6 1017.6h0M335.0 1012.8h0M317.7 1028.7h0M327.6 1022.4h0M330.2 997.3h0M329.0 996.4h0M336.6 1006.5h0M328.2 1003.1h0M308.4 1018.7h0M320.8 1025.2h0M323.9 1005.8h0M331.3 989.5h0M321.5 997.2h0M332.2 1005.2h0M328.0 987.4h0M332.3 984.2h0M329.2 979.5h0M349.5 968.4h0M312.8 987.9h0M322.7 1035.5h0M305.5 1021.6h0M338.7 970.8h0M324.5 979.3h0M327.4 1014.7h0M328.8 997.7h0M328.6 994.3h0M307.2 997.7h0M322.7 996.6h0M320.5 1008.6h0M326.5 1034.8h0M331.8 986.0h0M322.0 1026.0h0M329.2 1001.6h0M343.6 971.7h0M325.7 1002.4h0M319.3 1015.2h0M331.2 994.8h0M337.1 1005.0h0M331.1 1001.5h0M328.3 996.3h0M325.5 1001.7h0M327.8 983.4h0M327.1 998.0h0M353.0 960.9h0M333.1 976.1h0M318.5 1000.6h0M335.3 985.6h0M337.5 976.4h0M339.5 1001.2h0M332.3 1008.0h0M340.0 985.8h0M315.8 1015.3h0M318.6 995.3h0M324.5 987.5h0M331.3 1010.8h0M334.3 984.2h0M342.2 968.6h0M331.7 1013.3h0M330.9 993.6h0M328.3 994.4h0M316.9 1005.2h0M328.3 995.6h0M327.2 1009.4h0M330.6 984.7h0M325.1 1000.0h0M320.9 1003.4h0M328.3 1026.7h0M339.2 1006.2h0M328.9 1026.6h0M311.7 1009.8h0M326.1 1034.4h0M326.2 970.2h0M324.4 1000.2h0M333.5 991.5h0M327.0 975.3h0M327.4 996.7h0M329.2 1025.6h0M331.2 997.9h0M334.3 982.1h0M343.0 1020.7h0M322.9 1017.8h0M320.0 1004.5h0M327.4 1000.8h0M312.7 1039.1h0M327.5 1011.7h0M322.4 1011.7h0M325.5 1025.8h0M343.9 996.5h0M334.3 983.9h0M337.3 1002.4h0M318.7 1005.6h0M303.4 1042.5h0M324.5 1012.0h0M332.1 1016.2h0M353.2 955.6h0M340.4 982.7h0M308.5 1021.6h0M323.0 1000.5h0M327.1 991.2h0M319.9 1019.4h0M328.2 1016.7h0M323.9 996.1h0M346.4 984.8h0M336.0 1014.7h0M323.8 1001.5h0M333.6 1015.3h0M333.8 993.0h0M340.5 970.1h0M333.3 1003.8h0M330.6 1015.8h0M315.9 1041.2h0M327.2 1001.8h0M315.5 1019.6h0M332.0 980.6h0M327.2 999.6h0M324.6 989.5h0M313.4 1015.8h0M306.3 996.6h0M336.9 1031.9h0M323.2 1035.2h0M311.5 1030.3h0M319.8 993.1h0M323.2 1029.5h0M327.3 996.0h0M335.8 984.1h0M314.0 1035.1h0M326.4 1020.7h0M335.1 1000.9h0M327.4 1010.7h0M328.5 1030.6h0M347.8 989.9h0M327.2 1029.8h0M331.1 976.8h0M333.8 1004.4h0M340.0 992.2h0M327.6 1002.3h0M323.5 1000.5h0M339.3 1003.3h0M324.7 1000.7h0M323.6 1030.5h0M326.2 1023.0h0M333.2 1005.2h0M325.6 991.5h0M334.9 971.0h0M328.9 1015.3h0M339.6 979.4h0M337.7 1025.5h0M326.8 1023.8h0M317.7 1004.5h0M334.9 1003.6h0M325.7 980.0h0M334.2 997.9h0M332.8 995.2h0M316.1 1026.9h0M330.7 988.2h0M316.7 1031.6h0M322.5 1038.0h0M338.4 982.1h0M340.3 1029.3h0M320.4 978.0h0M330.1 971.0h0M334.0 1013.8h0M333.2 989.1h0M330.5 992.7h0M335.8 971.9h0M340.9 967.6h0M326.6 1039.4h0M333.2 1025.0h0M349.5 999.0h0M331.7 992.9h0M334.1 990.3h0M320.7 996.5h0M321.5 1039.0h0M336.6 982.7h0M319.2 1018.2h0M337.7 973.8h0M317.9 994.2h0M303.6 1030.5h0M331.7 1000.9h0M329.1 1031.9h0M326.8 995.1h0M319.3 1010.8h0M322.3 998.9h0M313.4 1020.0h0M331.2 1023.2h0M325.7 988.9h0M334.9 1013.4h0M337.7 985.0h0M329.2 973.1h0M335.0 987.6h0M337.1 979.5h0M340.1 990.6h0M311.3 993.6h0M335.7 983.8h0M328.5 1003.9h0M329.1 1019.4h0M335.4 992.4h0M319.1 1008.6h0M325.0 1007.0h0M318.0 1007.1h0M334.8 986.7h0M342.2 994.0h0M325.0 1006.6h0M315.2 997.4h0M316.4 1006.4h0M339.4 1004.9h0M326.5 1008.5h0M344.4 978.3h0M311.5 1002.3h0M337.9 1028.6h0M302.4 984.2h0M329.0 1041.8h0M338.1 964.0h0M305.6 1005.6h0M334.8 995.0h0M321.5 1003.4h0M320.4 1008.8h0M325.7 1014.0h0M333.3 977.9h0M336.5 984.1h0M344.1 1007.4h0M328.8 998.3h0M339.7 1031.6h0M324.0 1013.6h0M330.0 957.6h0M330.4 1001.7h0M332.2 979.2h0M326.5 972.8h0M316.6 992.7h0M334.8 975.7h0M342.9 989.6h0M332.1 992.9h0M322.4 1024.0h0M320.8 995.4h0M328.9 977.0h0M327.2 979.8h0M327.6 1013.4h0M313.3 1016.8h0M344.6 981.2h0M318.3 1003.4h0M315.1 1039.8h0M338.7 982.1h0M337.3 987.1h0M327.0 1000.6h0M325.1 986.3h0M320.1 995.2h0M355.2 987.8h0M326.3 993.8h0M331.7 1001.5h0M313.3 1010.4h0M318.8 1017.1h0M335.3 1001.3h0M311.1 1034.4h0M333.9 982.1h0M315.8 1016.5h0M331.0 979.0h0M332.0 995.0h0M325.2 997.1h0M335.5 996.8h0M325.5 972.8h0M327.8 1017.9h0M334.6 1018.4h0M317.9 997.6h0M328.4 987.4h0M335.5 1008.1h0M332.9 1004.0h0M330.2 995.4h0M327.4 1027.9h0M331.0 998.8h0M333.2 1016.5h0M330.0 1004.2h0M324.1 1012.5h0M325.8 1031.2h0M323.0 1017.5h0M332.6 1000.2h0M341.5 975.2h0M331.1 995.1h0M314.8 1011.8h0M340.1 1007.4h0M340.6 976.1h0M330.9 1007.4h0M328.4 1017.1h0M328.0 1001.7h0M328.8 1024.8h0M336.9 1004.4h0M331.9 987.0h0M326.2 958.8h0M329.3 993.3h0M325.8 999.2h0M316.3 1004.7h0M324.7 1016.3h0M335.3 977.0h0M324.2 1026.5h0M332.8 985.1h0M316.3 1015.8h0M338.0 1005.0h0M322.9 1025.8h0M332.1 1033.4h0M326.9 995.3h0M327.6 985.2h0M333.9 1005.2h0M318.8 1033.6h0M332.7 999.6h0M329.2 1018.4h0M339.0 973.4h0M335.2 1015.0h0M352.5 957.7h0M318.0 996.6h0M327.0 1018.6h0M321.0 1001.8h0M331.0 995.2h0M326.1 1024.2h0M330.5 1004.8h0M326.3 993.4h0M344.0 995.3h0M337.2 1005.5h0M336.0 981.1h0M328.5 997.7h0M320.9 1017.5h0M337.1 977.5h0M349.3 996.1h0M323.8 1005.9h0M328.7 1011.3h0M324.3 1009.1h0M340.1 990.2h0M321.1 1005.2h0M322.3 1003.9h0M306.8 1032.0h0M318.2 996.2h0M335.6 1002.0h0M332.5 1019.0h0M330.2 995.3h0M338.1 998.7h0M308.1 1011.6h0M318.1 1024.7h0M324.8 975.8h0M327.7 981.5h0M328.9 1027.7h0M332.4 987.8h0M322.9 1037.8h0M332.0 989.3h0M337.0 980.9h0M335.9 968.1h0M338.1 975.2h0M328.1 984.8h0M342.6 975.4h0M339.9 966.0h0M321.5 988.6h0M321.1 1028.0h0M343.2 1015.1h0M326.4 987.8h0M331.8 1005.3h0M319.5 1003.4h0M333.1 998.1h0M319.1 1039.9h0M328.1 1003.5h0M335.9 999.0h0M336.7 1014.8h0M312.1 1004.4h0M324.2 1022.8h0M326.9 1026.6h0M325.0 1031.9h0M329.8 1011.4h0M327.7 1003.1h0M332.3 1029.3h0M329.6 1005.6h0M317.5 1020.1h0M332.9 988.2h0M346.6 986.4h0M329.5 965.2h0M322.7 1024.4h0M323.9 1018.5h0M328.0 1000.1h0M321.2 1031.9h0M327.7 1025.7h0M320.7 1005.0h0M327.3 1021.9h0M314.9 1036.7h0M314.5 1009.0h0M335.0 988.7h0M331.1 1008.1h0M329.7 999.6h0M328.6 1011.0h0M318.2 1009.1h0M331.7 1018.8h0M326.0 1005.7h0M332.8 1028.4h0M316.7 1036.1h0M336.0 1014.5h0M347.9 973.9h0M334.6 995.7h0M336.1 986.0h0M335.6 982.9h0M333.9 988.6h0M338.3 990.0h0M323.4 978.9h0M323.8 1000.4h0M347.6 991.0h0M325.7 1017.9h0M319.6 1000.8h0M326.3 1002.4h0M312.4 1012.4h0M321.5 1040.0h0M342.9 1015.9h0M330.8 1018.5h0M320.6 1035.2h0" fill="none" stroke="#f2d20c" stroke-width="1.7" stroke-linecap="round"/>
<path d="M364.0 1045.2h0M337.1 1044.2h0M342.4 1045.5h0M359.6 1043.7h0M337.1 1043.3h0M343.9 1045.0h0M333.3 1044.6h0M335.3 1044.8h0M340.9 1044.8h0M346.2 1045.5h0M333.7 1044.0h0M366.9 1045.4h0M362.1 1044.3h0M332.8 1043.1h0M335.5 1045.1h0M353.1 1045.5h0M359.1 1043.4h0M347.2 1045.2h0M365.4 1044.3h0M336.3 1044.6h0M346.2 1043.4h0M338.6 1044.7h0M341.1 1045.3h0M350.5 1045.1h0M338.2 1044.7h0M333.3 1044.1h0M358.0 1044.6h0M363.0 1044.9h0M359.9 1044.8h0M334.5 1043.8h0M349.8 1044.0h0M365.3 1044.7h0M354.4 1044.1h0M347.9 1045.1h0M346.9 1044.9h0M347.1 1044.7h0M332.4 1045.1h0M340.9 1044.7h0M333.2 1044.6h0M341.0 1042.9h0M333.4 1043.9h0M333.1 1043.1h0M343.0 1045.0h0M347.6 1043.8h0M333.5 1044.8h0M356.3 1044.7h0M347.3 1045.2h0M338.5 1045.2h0M340.8 1045.3h0M349.2 1043.3h0M343.1 1043.2h0M351.8 1045.4h0M347.2 1044.6h0M345.4 1044.1h0M346.2 1044.6h0M363.8 1044.6h0M341.6 1044.4h0M352.6 1044.3h0M336.5 1043.7h0M331.3 1044.9h0M333.9 1045.4h0M332.3 1042.9h0M332.8 1044.8h0M355.2 1044.8h0M331.0 1044.8h0M342.6 1045.3h0M356.6 1043.2h0M362.4 1045.4h0M353.7 1045.1h0M348.1 1044.9h0M342.1 1045.1h0M364.1 1045.1h0M344.1 1044.9h0M366.2 1042.7h0M344.8 1043.0h0M334.7 1042.3h0M358.7 1045.3h0M340.5 1044.2h0M336.4 1043.1h0M345.3 1044.0h0M339.6 1044.6h0M353.5 1044.6h0M347.3 1045.4h0M361.5 1045.2h0M355.3 1045.4h0M352.2 1044.1h0M349.2 1043.8h0M341.6 1044.3h0M342.8 1045.0h0M366.0 1045.0h0M331.4 1044.5h0M350.1 1045.5h0M331.4 1044.9h0M360.3 1042.0h0M338.3 1045.2h0M334.4 1045.4h0M337.1 1044.5h0M339.3 1045.4h0M332.2 1042.5h0M358.4 1043.0h0M365.4 1044.4h0M339.6 1043.7h0M336.2 1045.4h0M336.5 1045.1h0M357.6 1045.3h0M341.5 1045.5h0M362.7 1044.4h0M358.1 1043.9h0M365.1 1044.4h0M351.9 1045.1h0M351.6 1009.4h0M351.4 996.5h0M354.9 1007.4h0M352.2 998.3h0M362.7 1012.5h0M360.3 1030.9h0M345.0 1024.5h0M345.6 1008.2h0M339.6 1042.5h0M354.1 1024.8h0M352.8 1011.2h0M346.1 1022.0h0M360.2 1008.6h0M353.0 1002.4h0M345.6 1034.3h0M349.0 990.3h0M357.9 976.6h0M361.5 994.3h0M347.7 1039.7h0M332.8 1020.8h0M342.0 1035.8h0M357.5 1005.7h0M340.4 1015.2h0M365.1 992.2h0M345.9 1002.0h0M334.0 1026.8h0M348.1 996.5h0M341.1 1032.9h0M349.1 1003.2h0M339.3 1016.0h0M348.9 1021.5h0M340.5 1012.7h0M353.6 1005.7h0M353.9 1013.7h0M344.1 1017.3h0M359.5 1007.0h0M357.2 997.3h0M355.4 1015.0h0M343.3 998.7h0M350.7 1016.3h0M353.1 1000.3h0M360.3 1019.3h0M351.6 995.8h0M346.7 1015.3h0M344.5 1038.7h0M340.3 1016.6h0M349.9 1017.5h0M338.0 1021.3h0M345.0 996.4h0M343.2 1002.1h0M341.3 1034.0h0M365.5 1017.3h0M348.3 1038.7h0M353.7 991.2h0M349.6 1018.3h0M352.3 1024.3h0M340.4 1018.4h0M349.3 1040.8h0M329.9 1017.5h0M340.5 1012.3h0M360.5 1009.6h0M366.4 992.3h0M345.2 1032.6h0M356.8 1040.7h0M358.8 995.6h0M341.0 1035.0h0M368.7 1011.9h0M353.7 1017.4h0M333.1 1007.8h0M367.2 1014.1h0M343.9 994.6h0M338.2 1025.1h0M339.6 1043.4h0M340.9 1018.3h0M345.3 1033.4h0M375.2 989.4h0M347.4 999.2h0M358.1 1007.5h0M359.0 1015.1h0M346.8 989.0h0M352.9 989.9h0M333.6 1036.7h0M343.6 1015.7h0M351.6 998.8h0M356.9 1010.8h0M357.0 999.9h0M347.7 1006.3h0M348.5 994.1h0M347.3 1014.7h0M344.6 1019.0h0M362.5 986.5h0M360.2 998.8h0M353.3 1032.0h0M357.9 1019.9h0M354.8 1013.4h0M360.0 1019.1h0M359.5 1009.2h0M367.2 1007.2h0M350.7 1042.2h0M360.3 1008.5h0M331.6 1016.6h0M356.6 1015.7h0M364.2 1008.6h0M350.7 1007.9h0M341.7 1010.3h0M344.2 1013.5h0M362.4 1013.6h0M346.2 991.2h0M352.4 996.9h0M357.7 1003.4h0M365.4 1006.8h0M337.9 1024.1h0M346.6 1032.7h0M348.5 1008.7h0M356.9 1009.4h0M350.9 1012.6h0M348.1 1027.9h0M352.9 999.5h0M345.5 1016.2h0M358.7 1024.1h0M355.8 1008.7h0M361.8 1021.2h0M348.2 991.6h0M371.3 994.1h0M365.1 1015.4h0M361.7 1003.2h0M358.7 1027.6h0M353.9 1001.4h0M362.8 1000.4h0M356.4 995.7h0M368.4 1025.2h0M335.4 1020.6h0M367.6 977.1h0M359.4 1022.8h0M358.1 1018.7h0M360.5 1010.6h0M368.3 1018.4h0M366.2 1016.0h0M359.0 1004.1h0M350.9 1017.8h0M347.0 1004.3h0M355.3 1001.9h0M342.9 1019.6h0M351.0 997.9h0M364.3 1013.8h0M371.4 997.1h0M357.3 1004.8h0M351.0 1039.7h0M343.9 1029.2h0M350.3 1030.3h0M354.4 1001.8h0M354.1 1009.5h0M374.5 1013.0h0M346.4 1003.2h0M349.1 988.2h0M346.2 1015.9h0M368.5 1028.5h0M362.2 1003.1h0M354.6 990.2h0M347.0 1005.8h0M347.9 995.4h0M341.0 1019.4h0M347.5 1031.6h0M361.8 1013.7h0M342.9 1032.4h0M355.8 1035.1h0M355.5 996.4h0M353.2 1010.1h0M348.8 1027.8h0M352.0 1009.8h0M366.2 1002.7h0M345.7 1003.7h0M350.0 1024.7h0M358.2 1010.8h0M340.1 1030.4h0M347.4 984.1h0M340.5 1034.9h0M363.7 984.8h0M349.0 994.0h0M351.4 1027.3h0M351.3 999.9h0M366.0 1009.2h0M340.0 1016.0h0M347.9 1025.5h0M356.2 1007.7h0M340.8 1029.5h0M365.3 1009.4h0M369.1 1040.9h0M342.1 1018.1h0M343.0 1015.3h0M352.9 1033.1h0M369.2 977.5h0M336.4 1025.7h0M339.9 1025.7h0M347.9 1019.0h0M362.6 989.4h0M349.1 1008.2h0M358.4 1033.6h0M352.9 1028.1h0M363.0 988.3h0M355.1 989.2h0M349.6 1026.3h0M364.9 1006.4h0M355.3 1031.6h0M358.9 1010.8h0M350.9 1030.4h0M345.0 1023.3h0M353.6 993.1h0M335.7 1043.0h0M343.1 1029.0h0M344.2 1035.1h0M345.8 1009.9h0M348.2 1029.3h0M357.8 1008.1h0M342.9 999.8h0M345.9 1031.5h0M355.5 1024.1h0M342.6 997.4h0M347.8 1030.3h0M353.8 1014.7h0M333.7 1029.8h0M356.6 1017.9h0M356.2 1029.0h0M359.9 1014.7h0M345.1 1036.0h0M360.8 1009.6h0M348.3 1010.1h0M350.6 1019.5h0M355.2 1018.7h0M360.6 973.5h0M336.0 1021.4h0M348.1 1005.8h0M333.6 990.4h0M359.5 978.0h0M362.8 1023.5h0M350.6 989.1h0M362.7 1019.5h0M354.5 991.1h0M364.4 1012.5h0M355.9 1002.9h0M350.0 1017.9h0M361.3 1008.4h0M351.6 995.5h0M363.1 998.8h0M348.3 1027.3h0M341.9 1027.9h0M355.1 1031.4h0M344.1 1032.7h0M354.0 1018.6h0M366.5 985.4h0M352.7 1014.7h0M362.4 1021.1h0M361.3 1027.5h0M348.7 1009.7h0M353.5 1036.9h0M344.6 1014.9h0M337.3 993.5h0M345.7 1014.2h0M378.5 1003.3h0M354.9 1002.6h0M350.9 1029.1h0M337.8 1016.9h0M350.2 993.6h0M354.0 1001.8h0M342.4 1022.9h0M356.3 1016.4h0M358.5 1016.0h0M349.6 1008.4h0M341.2 979.0h0M340.3 996.9h0M366.7 1009.2h0M356.2 996.1h0M355.7 1001.2h0M349.2 1006.8h0M347.1 1032.9h0M350.2 1002.8h0M355.0 1005.8h0M348.6 1012.8h0M344.8 1018.7h0M353.1 1024.8h0M366.3 1035.3h0M358.3 1014.8h0M361.8 1015.8h0M360.1 1020.6h0M344.9 1020.1h0M352.5 1027.9h0M363.3 1023.7h0M349.9 1012.7h0M350.9 997.9h0M343.4 1002.9h0M362.8 1007.1h0M370.6 1027.7h0M346.6 1038.0h0M354.7 1028.6h0M329.4 1024.0h0M339.8 1026.3h0M347.1 994.5h0M329.2 1022.5h0M383.9 996.9h0M354.8 1013.3h0M359.9 1003.0h0M357.8 1027.9h0M351.9 1006.2h0M352.1 1005.2h0M361.9 988.1h0M354.1 1003.5h0M348.4 1020.8h0M359.0 1029.2h0M363.2 1024.9h0M351.2 1025.9h0M343.8 1010.5h0M335.7 1000.3h0M336.3 1010.6h0M349.4 1019.4h0M355.2 991.9h0M353.8 1023.4h0M352.1 998.2h0M342.4 1014.2h0M363.8 1016.9h0M350.5 1000.1h0M346.4 1016.7h0M349.4 1011.1h0M362.5 1020.3h0M342.9 1004.9h0M346.5 1019.5h0M341.2 1023.5h0M355.4 995.7h0M359.1 1028.7h0M348.7 1005.0h0M343.8 1032.0h0M348.9 998.2h0M340.9 1007.1h0M358.8 1020.2h0M340.1 1024.2h0M348.5 1025.2h0M352.5 978.0h0M360.9 990.1h0M351.4 995.7h0M345.3 1013.3h0M362.8 972.9h0M357.2 1008.6h0M351.4 1028.5h0M357.7 985.1h0M358.6 1011.1h0M349.5 1029.6h0M365.0 1006.9h0M363.2 1021.5h0M359.1 997.3h0M350.6 1022.7h0M377.0 975.4h0M364.4 1017.3h0M365.8 996.8h0M368.8 1006.5h0M349.9 1030.7h0M348.3 1015.2h0M366.5 975.5h0M354.8 1006.0h0M348.0 1030.4h0M345.3 1014.2h0M353.5 1039.5h0M350.6 1030.3h0M342.5 1017.4h0M343.8 1014.6h0M328.1 1018.1h0M353.7 1020.4h0M343.6 1042.9h0M340.8 992.2h0M355.5 1013.7h0M345.5 1027.5h0M340.3 1015.3h0M360.7 1025.7h0M357.6 1018.0h0M354.9 1026.7h0M359.2 984.1h0M346.0 1021.6h0M360.8 1020.0h0M346.5 999.0h0M344.6 1020.8h0M327.8 1034.5h0M349.6 1026.1h0M346.7 1035.7h0M342.4 1001.3h0M340.2 1000.4h0M338.5 1001.6h0M350.4 1005.1h0M349.7 1007.5h0M374.4 1037.9h0M346.0 1010.7h0M365.9 1026.6h0M352.4 999.9h0M347.0 1015.8h0M354.4 996.9h0M356.0 1005.4h0M345.7 1024.6h0M373.1 1022.4h0M348.4 1026.1h0M352.6 1027.1h0M359.0 1021.6h0M346.4 1040.4h0M347.4 1040.5h0M349.1 1007.4h0M335.7 993.0h0M359.7 1006.5h0M348.3 999.7h0M356.1 1018.1h0M353.5 1010.8h0M343.8 996.5h0M338.9 1013.6h0M343.1 1019.1h0M349.8 1012.0h0M366.9 1013.1h0M357.4 1004.5h0M354.4 1030.1h0M352.0 1039.2h0M362.9 984.8h0M353.7 1004.4h0M351.8 1041.9h0M349.0 1000.4h0M351.3 1026.6h0M324.0 1011.4h0" fill="none" stroke="#3ab4e4" stroke-width="1.7" stroke-linecap="round"/>
<path d="M390.1 960.7h0M365.7 935.7h0M360.1 941.7h0M376.6 946.6h0M371.6 951.9h0M341.6 948.4h0M370.4 936.3h0M373.5 952.2h0M371.8 975.7h0M367.3 957.1h0M365.6 956.1h0M367.2 933.2h0M376.0 946.4h0M379.0 936.6h0M378.9 940.3h0M355.0 944.8h0M356.5 955.9h0M344.9 946.1h0M378.2 952.1h0M363.2 960.4h0M369.1 930.2h0M364.9 935.8h0M372.1 943.7h0M372.7 959.9h0M363.8 942.0h0M371.6 927.6h0M363.3 953.2h0M360.9 947.8h0M356.4 960.8h0M368.0 955.8h0M365.0 943.3h0M364.5 932.2h0M368.9 940.3h0M379.5 943.9h0M352.0 952.4h0M374.8 951.9h0M357.0 940.2h0M388.9 942.2h0M375.8 924.3h0M360.1 951.9h0M362.9 951.6h0M365.2 956.7h0M362.7 945.4h0M385.2 953.5h0M366.1 951.7h0M364.7 948.4h0M357.1 947.8h0M357.8 943.2h0M374.8 935.8h0M366.0 936.1h0M363.1 938.7h0M391.1 932.8h0M384.6 930.6h0M361.3 941.3h0M355.3 939.8h0M376.8 935.6h0M373.6 940.6h0M361.1 964.1h0M369.8 932.0h0M373.4 944.0h0M370.9 936.2h0M371.4 948.9h0M354.1 967.5h0M361.0 948.9h0M357.1 943.8h0M352.4 944.1h0M380.0 941.9h0M348.1 948.1h0M359.3 944.7h0M361.9 951.3h0M367.8 932.0h0M363.1 943.2h0M349.9 925.7h0M356.4 945.7h0M351.3 941.9h0M355.8 945.4h0M358.8 948.7h0M361.4 954.2h0M363.1 953.0h0M361.5 949.3h0M354.4 944.4h0M370.5 941.2h0M349.8 942.2h0M372.5 960.4h0M374.2 967.1h0M367.4 936.7h0M376.5 925.7h0M368.6 933.5h0M367.3 934.9h0M353.2 955.2h0M377.8 936.6h0M353.6 948.3h0M348.5 948.8h0M373.9 960.0h0M364.2 940.5h0M363.4 943.0h0M358.4 953.9h0M365.2 963.3h0M363.9 959.7h0M357.9 929.7h0M361.2 949.7h0M372.9 950.0h0M359.3 945.8h0M370.8 952.3h0M364.6 963.7h0M352.9 947.6h0M358.7 942.7h0M372.1 964.4h0M368.0 941.7h0M361.7 943.0h0M357.4 941.1h0M366.5 924.1h0M346.7 959.3h0M368.7 932.3h0M353.3 958.2h0M360.0 941.2h0M356.2 936.0h0M379.1 942.8h0M375.7 957.3h0M355.3 939.8h0M373.2 956.0h0M360.5 940.0h0M364.6 952.0h0M364.9 934.9h0M360.2 958.5h0M377.3 945.6h0M345.8 945.3h0M373.8 930.0h0M374.1 941.6h0M368.3 937.9h0M380.8 936.3h0M350.4 936.1h0M366.7 944.8h0M362.9 935.6h0M365.3 940.4h0M365.3 933.2h0M354.3 941.7h0M370.1 942.3h0M362.7 930.6h0M358.6 923.1h0M376.9 945.8h0M373.2 935.3h0M362.0 957.0h0M363.7 932.7h0M374.5 936.6h0M369.8 951.4h0M359.9 942.9h0M363.2 954.3h0M353.2 933.7h0M364.4 939.0h0M355.7 958.9h0M373.9 937.7h0M374.1 949.2h0M361.3 940.8h0M362.5 929.8h0M377.7 948.0h0M375.1 942.8h0M373.5 936.9h0M363.4 940.7h0M383.9 926.9h0M369.6 945.4h0M369.6 934.1h0M366.5 935.4h0M376.0 938.1h0M366.1 946.8h0M360.5 943.8h0M370.4 964.3h0M373.9 950.3h0M375.1 927.3h0M380.5 931.4h0M359.3 922.8h0M362.1 926.5h0M358.5 944.4h0M355.4 944.7h0M372.3 930.1h0M351.0 949.7h0M358.5 932.1h0M369.3 929.6h0M366.6 923.8h0M368.4 933.9h0M372.8 937.3h0M358.9 946.5h0M380.2 923.7h0M363.1 936.5h0M350.8 934.2h0M365.1 966.2h0M357.3 947.6h0M362.2 943.7h0M358.0 963.4h0M381.1 949.4h0M355.1 960.9h0M362.4 930.3h0M359.6 944.8h0M378.8 941.2h0M356.2 955.8h0M371.5 948.0h0M363.4 929.7h0M369.8 926.0h0M359.2 943.4h0M369.6 937.4h0M346.7 958.4h0M370.9 961.6h0M349.8 954.5h0M361.1 935.0h0M371.6 946.2h0M356.7 954.8h0M377.2 935.6h0M371.4 963.0h0M347.7 935.9h0M385.8 932.5h0M358.2 962.4h0M353.5 941.2h0M368.6 949.0h0M372.0 924.9h0M370.4 947.2h0M354.6 949.2h0M358.7 925.4h0M362.1 925.4h0M361.0 940.8h0M370.8 943.1h0M367.4 940.9h0M364.2 941.2h0M365.1 926.0h0M365.9 941.1h0M370.4 941.5h0M375.7 943.9h0M365.5 939.6h0M360.3 951.4h0M369.9 931.4h0M363.4 952.9h0M359.8 946.9h0M362.9 944.7h0M385.0 949.8h0M355.9 950.8h0M352.8 935.2h0M352.3 954.1h0M356.5 941.3h0M364.5 949.8h0M361.7 937.2h0M359.6 928.1h0M386.3 930.6h0M350.0 943.1h0M375.8 931.4h0M368.5 950.4h0M373.4 935.2h0M367.5 960.5h0M373.3 937.3h0M372.4 945.8h0M382.0 927.8h0M370.0 952.4h0M360.3 961.1h0M368.8 948.1h0M362.8 967.7h0M368.3 954.9h0M344.6 929.4h0M382.8 939.6h0M345.3 948.7h0M373.5 950.0h0M374.4 929.9h0M371.3 934.3h0M355.3 950.7h0M354.6 961.2h0M373.4 944.0h0M373.6 943.7h0M356.2 930.4h0M376.8 942.1h0M370.6 960.9h0M360.3 930.5h0M367.3 943.3h0M379.3 924.3h0M356.4 949.6h0M368.3 953.4h0M371.2 933.9h0M366.5 958.0h0M364.1 943.2h0M369.4 942.1h0M362.6 924.9h0M379.0 945.9h0M353.8 933.7h0M359.4 956.7h0M368.2 955.5h0M358.4 946.6h0M366.3 947.7h0M376.7 931.7h0M384.2 932.2h0M369.3 930.7h0M364.9 930.8h0M360.8 948.8h0M340.8 956.7h0M369.5 935.9h0M367.1 937.7h0M389.6 935.0h0M368.2 943.0h0M371.8 953.6h0M375.7 930.2h0M358.6 959.3h0M366.0 936.7h0M360.1 950.8h0M353.2 956.7h0M380.6 935.8h0" fill="none" stroke="#26257c" stroke-width="1.7" stroke-linecap="round"/>
<path d="M371.5 956.4h0M366.5 950.0h0M358.0 950.3h0M382.9 958.0h0M362.4 974.4h0M379.8 968.7h0M360.2 959.0h0M362.3 945.4h0M350.3 961.7h0M360.8 964.6h0M379.1 971.9h0M376.5 950.4h0M372.5 955.3h0M371.0 966.5h0M378.9 954.9h0M360.1 954.7h0M361.7 954.3h0M366.4 966.0h0M373.3 956.1h0M356.9 953.4h0M365.3 962.6h0M363.2 959.9h0M367.1 949.2h0M378.2 953.8h0M368.4 980.6h0M376.2 944.3h0M366.4 952.4h0M363.3 964.2h0M365.1 967.9h0M363.4 965.7h0M361.3 952.0h0M370.2 959.6h0M379.1 945.1h0M368.9 959.7h0M376.9 973.7h0M359.1 978.3h0M369.6 965.3h0M380.5 957.7h0M361.9 951.6h0M378.5 960.2h0M383.5 961.0h0M367.2 977.8h0M385.9 946.4h0M357.3 929.0h0M367.9 957.0h0M350.7 994.3h0M368.5 968.4h0M389.5 931.7h0M366.6 945.3h0M365.2 965.8h0M364.6 964.3h0M364.7 946.0h0M359.0 951.9h0M358.2 969.0h0M380.5 981.6h0M369.8 971.5h0M363.2 968.3h0M353.3 975.7h0M362.0 972.4h0M358.4 958.6h0M372.9 951.6h0M377.1 943.1h0M378.4 963.5h0M365.9 969.1h0M353.5 949.0h0M371.5 986.0h0M371.6 946.4h0M362.3 962.3h0M363.0 965.5h0M354.7 967.7h0M358.7 964.8h0M377.3 949.8h0M380.0 964.6h0M357.3 964.2h0M361.4 981.6h0M358.6 971.0h0M364.5 965.9h0M376.1 965.9h0M381.1 962.8h0M372.8 945.4h0M364.8 952.8h0M363.4 960.7h0M370.9 958.7h0M367.4 948.1h0M374.0 962.6h0M369.9 970.0h0M378.6 952.1h0M376.0 958.6h0M379.2 945.6h0M360.8 964.3h0M352.0 963.1h0M368.9 956.0h0M359.1 986.4h0M377.5 958.7h0M378.8 952.2h0M355.1 958.9h0M371.4 950.2h0M359.1 986.0h0M380.2 981.6h0M365.3 965.6h0M380.8 957.8h0M369.1 969.6h0M359.5 970.3h0M375.5 973.8h0M374.9 940.6h0M365.6 953.6h0M365.9 956.2h0M369.4 958.7h0M365.0 961.3h0M341.2 969.7h0M358.4 959.5h0M385.0 954.9h0M369.5 988.4h0M371.3 946.6h0M368.3 949.2h0M371.1 977.1h0M373.5 968.7h0M374.9 946.4h0M355.9 967.1h0M379.8 944.0h0M371.5 944.0h0M369.6 982.7h0M382.0 963.8h0M368.3 961.6h0M359.6 983.6h0M363.6 975.9h0M374.9 949.7h0M370.9 948.5h0M373.2 968.3h0M369.2 962.8h0M369.5 938.9h0M362.8 978.0h0M393.9 953.6h0M357.9 972.7h0M381.6 946.7h0M354.6 990.6h0M374.2 955.4h0M384.1 952.3h0M368.2 953.1h0M380.2 960.3h0M364.1 936.6h0M371.3 934.7h0M367.2 944.3h0M374.3 970.5h0M371.4 966.7h0M381.9 962.4h0M371.8 957.0h0M369.1 978.7h0M375.3 986.8h0M358.0 947.2h0M356.0 980.9h0M365.9 968.9h0M356.6 959.9h0M378.6 971.4h0M371.4 975.0h0M369.3 969.8h0M363.7 941.0h0M393.3 952.0h0M361.3 955.1h0M354.7 972.2h0M374.9 958.7h0M370.1 961.2h0M388.3 937.5h0M366.2 959.1h0M368.1 992.5h0M361.6 965.0h0M370.5 946.4h0M363.4 959.5h0M367.1 954.8h0M358.2 959.2h0M362.7 947.7h0M370.8 964.9h0M372.9 957.3h0M371.8 976.8h0M358.8 959.4h0M371.7 956.8h0M362.5 970.9h0M365.5 956.7h0M357.7 957.1h0M372.8 964.5h0M362.7 956.1h0M375.1 955.3h0M368.9 954.3h0M373.5 949.9h0M351.1 984.4h0M377.5 943.8h0M346.9 967.5h0M382.3 940.8h0M359.6 943.8h0M373.0 958.3h0M356.5 962.1h0M369.5 946.5h0M369.1 966.3h0M366.1 956.7h0M360.6 955.0h0M377.6 959.1h0M374.7 954.4h0M383.9 948.7h0M372.4 949.1h0M378.7 963.5h0M360.0 964.0h0M370.0 946.8h0M363.2 948.3h0M373.3 956.1h0M363.3 957.3h0M366.7 974.6h0M372.1 947.3h0M366.2 964.4h0M354.2 970.4h0M378.3 968.5h0M370.5 958.9h0M373.6 932.8h0M367.1 942.4h0M392.7 963.2h0M381.3 970.1h0M370.6 963.9h0M369.6 970.6h0M367.6 947.6h0M362.4 968.9h0M385.3 970.0h0M362.2 966.1h0M354.1 962.7h0M386.2 955.9h0M353.4 968.4h0M362.0 945.5h0M366.8 954.3h0M364.8 972.1h0M385.9 936.6h0M368.3 956.2h0M374.5 961.2h0M368.2 970.2h0M378.4 941.7h0M362.4 958.1h0M364.7 957.7h0M364.0 964.0h0M381.7 956.7h0M369.9 962.7h0M365.4 966.8h0M365.3 988.8h0M367.8 969.3h0M371.5 940.1h0M355.9 986.3h0M370.9 961.0h0M370.3 958.7h0M380.5 955.8h0M363.6 957.6h0M374.4 960.4h0M376.9 958.7h0M360.0 966.0h0M355.5 953.5h0M362.4 953.1h0M367.0 970.2h0M366.8 959.6h0M376.5 943.2h0M353.1 978.8h0M370.8 968.3h0M378.8 994.2h0M375.7 963.4h0M360.7 977.4h0M364.6 956.2h0M367.1 959.3h0M361.6 967.4h0M370.1 961.4h0M376.4 960.4h0M381.2 949.6h0M373.8 974.1h0M365.6 969.5h0M365.7 964.5h0M383.9 948.6h0M368.2 941.0h0M378.0 946.1h0M368.4 946.4h0M365.8 960.2h0M367.0 940.0h0M370.9 966.6h0M369.4 961.6h0M368.1 955.3h0M382.4 957.2h0M357.8 978.7h0M360.9 965.7h0M376.9 965.0h0M364.0 957.2h0M349.1 974.7h0M364.7 966.9h0M380.2 968.6h0M371.5 949.0h0M369.6 965.7h0M371.7 940.2h0M367.2 953.7h0M367.1 970.4h0M355.5 966.9h0M380.6 959.9h0M356.7 975.5h0M366.6 963.7h0M376.4 971.3h0M368.5 960.9h0M371.5 949.6h0M368.1 943.1h0M356.0 963.0h0M373.5 959.9h0M369.2 958.8h0M380.7 959.4h0M363.3 981.0h0M366.4 965.9h0M355.1 967.1h0M364.7 950.4h0M379.0 975.5h0M373.1 963.1h0M353.3 971.0h0M359.4 951.2h0M360.8 987.2h0M370.4 967.3h0M375.4 987.0h0M354.5 964.0h0M375.4 945.4h0M376.4 972.3h0M370.0 968.5h0M375.2 965.5h0M366.0 969.7h0M369.2 975.7h0M367.9 971.1h0M372.7 957.6h0M362.3 995.0h0M364.6 971.9h0M375.5 964.9h0M358.9 961.0h0M350.1 968.0h0M379.1 970.8h0M370.2 966.4h0M364.1 965.5h0M375.1 968.9h0M371.6 969.5h0M389.2 961.4h0M363.2 950.2h0M375.8 971.5h0M361.6 949.2h0M372.0 956.1h0M357.5 971.8h0M361.2 971.7h0M373.3 958.3h0M353.8 981.7h0M365.9 971.7h0M391.8 937.8h0M371.3 968.6h0M383.6 940.5h0M366.1 964.4h0M362.5 951.3h0M367.9 960.3h0M367.0 971.6h0M380.6 956.4h0M369.6 970.1h0M380.8 952.1h0M364.1 983.8h0M358.5 964.6h0M355.8 975.6h0M368.9 964.3h0M379.9 963.5h0M381.7 956.5h0M381.1 952.6h0M381.8 937.9h0M356.0 990.8h0M378.5 950.4h0M375.4 961.9h0M377.2 947.9h0M371.4 977.2h0M360.0 990.8h0M375.5 968.1h0M355.4 961.3h0M361.4 963.6h0M358.3 970.2h0M381.5 957.8h0M365.8 969.8h0M346.8 942.5h0M373.0 984.8h0M377.9 968.5h0M374.7 965.2h0M362.2 962.7h0M381.6 958.2h0M370.3 967.7h0M387.0 955.2h0M363.7 980.0h0M367.8 952.1h0M383.3 938.8h0M366.4 960.0h0M359.6 965.4h0M382.0 942.9h0M358.2 941.9h0M393.9 936.7h0M360.8 963.4h0M373.9 944.4h0M379.1 991.8h0M360.3 960.1h0M376.1 963.4h0M385.7 953.3h0M354.1 977.2h0M368.7 966.6h0M371.2 964.7h0M356.6 990.1h0M364.0 952.4h0M377.8 951.1h0M372.8 968.5h0M359.7 959.6h0M363.9 971.2h0M375.3 964.5h0M381.4 963.1h0M376.3 957.8h0M365.0 971.3h0M359.9 976.3h0M373.7 957.0h0M372.7 962.4h0M360.7 965.1h0M374.6 972.2h0M358.4 968.1h0M367.3 974.0h0M371.9 951.8h0M381.8 975.6h0M378.4 966.9h0M368.8 959.1h0M366.2 969.5h0M375.5 946.1h0M376.7 967.8h0M388.9 950.9h0M367.2 956.6h0M381.1 959.3h0M362.3 982.5h0M390.9 942.6h0M365.1 972.7h0M345.8 978.0h0M360.8 950.6h0M363.8 975.6h0M351.3 963.5h0M370.0 952.6h0M371.4 942.2h0M366.0 973.6h0M377.7 971.1h0M372.3 976.0h0M385.3 955.4h0M365.4 984.9h0M355.2 972.0h0M371.6 946.7h0M372.0 971.0h0M376.7 963.9h0M359.8 978.0h0M361.0 978.0h0M363.9 961.5h0M375.5 972.0h0M349.7 966.4h0M370.3 988.3h0M375.0 953.2h0M364.2 967.2h0M366.3 961.4h0M365.4 952.8h0M365.6 967.2h0M376.2 950.5h0M374.1 959.0h0M370.8 983.3h0M371.8 959.9h0M357.3 957.0h0M375.4 959.6h0M378.5 952.3h0M364.5 976.7h0M366.4 967.1h0M369.8 939.7h0M358.9 960.9h0M386.1 977.6h0M373.5 961.5h0M371.4 949.6h0M367.9 954.1h0M370.2 972.6h0M383.2 946.8h0M367.0 958.3h0M371.6 947.3h0M367.7 955.3h0M374.2 976.4h0M367.5 982.5h0M365.3 984.9h0M374.2 966.2h0M357.3 958.0h0M373.1 964.4h0M386.5 942.0h0M358.4 968.7h0M364.1 959.0h0M368.9 971.2h0M371.0 955.7h0M368.3 969.4h0M363.2 955.2h0M383.5 950.1h0M359.3 971.6h0M369.0 977.7h0M359.6 948.8h0M357.7 963.6h0M363.0 959.7h0M366.7 961.5h0M379.8 961.6h0M356.1 981.1h0M359.1 968.6h0M370.1 964.8h0M380.0 959.8h0M359.6 987.7h0M363.1 974.3h0M361.7 969.3h0M370.9 983.6h0M385.9 968.3h0M368.0 966.9h0M363.1 972.5h0M370.8 975.1h0M366.8 956.9h0M354.0 991.3h0M389.3 964.6h0M365.0 962.3h0M369.9 971.5h0M378.3 958.9h0M373.2 966.3h0M369.3 959.0h0M378.9 959.7h0M360.5 969.2h0M361.3 951.2h0M380.8 967.6h0M358.0 966.7h0M357.8 960.1h0M370.6 978.0h0M365.2 944.5h0M371.8 946.7h0M362.3 954.1h0M361.6 964.7h0M366.5 982.2h0M365.4 956.6h0M348.9 972.9h0M370.1 962.6h0M342.4 950.1h0M362.2 946.7h0M370.5 952.3h0M365.0 975.2h0M360.4 985.0h0M382.1 950.5h0M371.6 961.1h0M353.3 992.0h0M370.6 958.0h0M374.9 937.4h0M372.8 965.5h0M380.2 972.2h0M369.7 962.3h0M373.1 956.0h0M359.3 974.2h0M377.7 939.5h0M372.9 965.8h0M375.3 959.6h0M371.2 963.1h0M355.3 962.8h0M359.0 958.0h0M361.5 986.1h0M364.8 968.0h0M378.0 960.6h0M370.9 938.5h0M364.8 963.1h0M367.2 957.3h0M365.9 953.4h0M363.8 943.9h0M370.1 939.4h0M371.1 946.0h0M381.1 951.1h0M369.8 967.8h0M357.2 967.6h0M364.0 985.3h0M361.7 955.9h0M352.3 975.6h0M352.9 981.7h0M367.9 979.7h0M358.4 962.3h0M375.1 955.0h0M362.8 948.7h0M379.5 951.4h0M367.9 948.5h0M371.2 976.5h0M362.8 974.7h0M361.8 955.7h0M373.7 994.9h0M372.9 977.5h0M368.8 971.0h0M358.1 968.9h0M364.7 962.2h0M374.5 968.8h0M371.8 956.6h0M366.0 944.7h0M373.9 956.3h0M369.6 962.3h0M377.4 974.3h0M368.5 962.0h0M348.1 970.9h0M378.4 963.8h0M372.4 982.1h0M362.1 963.3h0M373.8 949.5h0M373.1 943.2h0M368.5 938.5h0M384.3 952.8h0M378.1 984.5h0M354.9 959.8h0M362.6 948.9h0M365.5 958.9h0M361.5 977.9h0M358.0 943.1h0M367.8 966.2h0M366.4 964.0h0M364.0 936.9h0M359.5 961.9h0M365.4 976.8h0M360.9 960.3h0M351.0 963.5h0M369.2 977.7h0M369.8 956.2h0M364.3 971.7h0M380.1 968.2h0M380.9 970.2h0M375.2 970.4h0M365.9 941.1h0M365.8 966.2h0M379.7 964.4h0M364.5 956.9h0M376.4 978.1h0M359.5 978.9h0M365.3 966.6h0M369.1 969.7h0M382.7 959.4h0M365.6 944.5h0M356.6 954.8h0M356.5 971.2h0M374.7 968.2h0M375.2 951.9h0M370.5 970.1h0M352.5 961.7h0M370.8 960.0h0M385.3 965.1h0M369.7 976.2h0M359.1 980.0h0M363.0 959.7h0M357.7 974.4h0M361.3 946.3h0M353.2 983.4h0M363.9 959.4h0M365.5 969.4h0M375.2 977.0h0M360.4 978.2h0M362.4 962.5h0M360.2 975.4h0M355.2 986.9h0M371.6 944.4h0M369.9 964.1h0M354.8 956.1h0M375.3 971.7h0M357.9 960.7h0M367.2 958.7h0M381.5 944.4h0M371.1 944.9h0M372.4 964.3h0M365.4 956.6h0M375.0 964.5h0M378.2 967.2h0M364.3 959.5h0M368.9 957.1h0M363.9 952.1h0M365.2 955.9h0M378.7 950.0h0M371.6 970.4h0M363.9 948.7h0M375.0 959.8h0M391.4 950.3h0M373.6 964.6h0M384.4 940.2h0M357.1 964.7h0M377.5 972.6h0M365.8 944.2h0M362.2 971.1h0M367.9 953.6h0M355.0 967.6h0M347.3 970.4h0M356.7 982.5h0M365.2 947.7h0M372.6 940.8h0M379.0 950.2h0M373.1 960.3h0M363.3 959.1h0M359.3 963.8h0M369.4 951.7h0M382.7 969.9h0M354.8 980.1h0M368.1 956.6h0M361.0 958.2h0M357.9 964.0h0M369.8 972.2h0M369.4 957.9h0M368.2 981.7h0M370.4 968.4h0M381.0 963.3h0M372.7 946.1h0M373.9 967.0h0M358.5 968.9h0M372.1 949.9h0M384.7 967.4h0M376.9 954.4h0M379.6 958.7h0M378.0 951.3h0M376.7 947.2h0M367.0 950.3h0M368.8 970.3h0M363.3 946.6h0M371.8 984.1h0M376.1 942.8h0M366.4 961.3h0M353.8 953.5h0M374.1 957.1h0M352.9 985.1h0M360.9 957.6h0M352.8 963.9h0M394.3 947.8h0M365.8 964.6h0M372.2 967.1h0M367.7 972.7h0M371.6 969.8h0M364.7 963.0h0M368.8 952.3h0M363.4 966.9h0M365.8 949.7h0M373.3 977.8h0M352.9 970.5h0M386.8 943.3h0M367.0 967.2h0M366.8 973.0h0M354.5 959.6h0M357.8 969.5h0M372.8 975.2h0M374.1 949.5h0M370.4 951.0h0M359.1 960.6h0M366.3 971.7h0M368.2 982.3h0M350.5 988.9h0M351.6 968.1h0M362.4 955.7h0M356.8 979.9h0M351.3 954.9h0M379.7 956.9h0M367.9 974.6h0M363.3 974.0h0M371.2 948.8h0M374.7 946.1h0M356.5 951.2h0M369.8 976.3h0M383.9 951.5h0M360.3 965.6h0M355.8 999.1h0M355.9 987.9h0M343.0 997.4h0M353.4 983.7h0M357.8 986.6h0M357.4 999.7h0M363.5 1006.7h0M352.9 995.9h0M353.5 1009.7h0M360.7 967.9h0M355.4 954.2h0M341.3 977.4h0M352.0 992.8h0M357.1 969.4h0M358.6 995.2h0M353.9 995.0h0M336.5 1001.0h0M346.8 993.1h0M356.0 992.1h0M380.2 985.1h0M349.2 988.6h0M352.1 984.7h0M361.5 978.1h0M368.4 984.4h0M338.6 1007.7h0M345.4 965.7h0M346.1 1019.8h0M323.0 974.1h0M354.0 1016.3h0M352.2 979.3h0M361.0 1011.7h0M350.9 986.8h0M343.7 981.0h0M352.2 977.5h0M344.5 985.5h0M334.3 974.4h0M338.2 999.5h0M356.6 1006.9h0M357.9 1013.5h0M350.1 986.3h0M352.5 982.9h0M358.6 1000.4h0M359.7 980.7h0M354.2 985.5h0M364.5 999.9h0M370.0 966.4h0M354.3 1008.5h0M365.7 985.0h0M374.0 987.8h0M358.5 971.9h0M345.4 988.6h0M344.0 961.3h0M344.0 978.6h0M338.9 982.5h0M351.4 986.3h0M349.0 997.1h0M347.5 1000.3h0M358.0 977.1h0M361.3 980.4h0M347.6 978.8h0M368.4 991.1h0M357.8 967.7h0M357.8 967.7h0M350.2 1012.3h0M347.2 990.0h0M325.9 996.5h0M349.7 967.0h0M353.6 1017.0h0M365.1 978.5h0M348.0 998.5h0M356.1 967.6h0M349.2 996.7h0M348.4 991.6h0M331.9 979.1h0M346.2 971.5h0M360.2 975.1h0M356.6 1021.9h0M364.0 990.8h0M349.0 1012.2h0M350.0 990.1h0M365.4 966.7h0M358.2 1019.8h0M342.7 979.6h0M349.5 969.2h0M358.0 1001.2h0M340.2 997.2h0M361.9 983.3h0M342.2 991.9h0M357.9 993.7h0M346.3 963.5h0M346.7 1000.7h0M355.8 971.6h0M355.3 991.9h0M349.7 1004.0h0M357.5 1011.1h0M355.6 1013.5h0M357.6 986.8h0M368.0 1011.1h0M355.0 1015.3h0M340.6 988.0h0M353.3 995.4h0M342.9 997.9h0M348.5 1005.6h0M356.9 1019.6h0M364.4 996.1h0M362.8 977.3h0M355.8 990.6h0M362.5 983.6h0M359.8 999.8h0M362.1 1012.3h0M356.1 1001.7h0M345.7 1007.1h0M358.7 999.0h0M346.7 962.6h0M352.2 985.8h0M349.5 986.5h0M365.8 979.1h0M346.4 982.5h0M354.2 977.7h0M349.0 986.6h0" fill="none" stroke="#c0168a" stroke-width="1.7" stroke-linecap="round"/>
<path d="M365.9 972.5h0M361.4 980.0h0M382.6 956.8h0M375.6 979.4h0M365.4 944.2h0M373.5 959.6h0M382.3 981.4h0M371.4 979.1h0M380.4 972.1h0M392.0 966.4h0M375.8 974.4h0M390.7 965.7h0M364.1 947.7h0M380.1 963.3h0M366.8 976.5h0M383.8 984.9h0M356.2 967.6h0M368.0 980.9h0M370.4 951.7h0M371.5 948.3h0M385.0 963.5h0M366.9 991.3h0M375.0 976.0h0M375.4 934.0h0M386.1 972.4h0M379.6 970.9h0M391.9 977.0h0M378.0 954.0h0M356.2 984.7h0M371.2 965.2h0M363.6 977.1h0M372.2 978.5h0M366.5 981.3h0M380.0 957.1h0M367.5 961.4h0M366.1 975.3h0M376.0 957.2h0M388.7 975.3h0M366.7 951.9h0M368.2 943.1h0M367.6 975.5h0M371.9 960.6h0M368.8 960.5h0M379.8 970.2h0M352.0 965.3h0M367.0 941.1h0M352.1 959.3h0M364.3 960.7h0M367.1 978.6h0M364.8 972.3h0M369.6 977.4h0M367.1 971.3h0M373.9 951.3h0M392.4 956.1h0M369.7 956.0h0M381.9 955.1h0M360.8 951.1h0M370.9 968.1h0M374.6 960.7h0M365.0 960.4h0M391.6 956.7h0M378.6 956.1h0M366.2 957.3h0M390.0 952.7h0M366.9 968.9h0M360.2 959.6h0M358.5 950.1h0M381.9 950.0h0M385.7 955.2h0M374.3 984.2h0M371.3 969.2h0M378.6 951.4h0M382.8 965.6h0M378.8 953.0h0M372.4 959.0h0M375.3 956.7h0M388.1 988.6h0M370.6 975.0h0M367.9 978.8h0M365.7 959.9h0M378.3 973.1h0M361.4 974.7h0M371.2 958.6h0M367.3 948.4h0M379.9 959.5h0M363.7 952.3h0M369.7 962.4h0M384.6 964.6h0M370.6 957.0h0M373.7 963.6h0" fill="none" stroke="#e8a8dc" stroke-width="1.5" stroke-linecap="round"/>
<path d="M375.2 942.0h0M357.9 949.1h0M370.5 946.9h0M374.7 933.3h0M353.9 940.9h0M356.3 947.4h0M365.5 945.9h0M381.5 948.8h0M365.1 931.2h0M382.0 934.3h0M378.2 942.3h0M376.3 942.0h0M378.0 955.2h0M375.0 946.0h0M363.0 943.7h0M369.5 943.4h0M354.2 952.7h0M369.6 933.1h0M365.1 941.6h0M358.0 938.5h0M362.6 959.9h0M383.9 945.5h0M365.0 928.3h0M359.6 962.0h0M371.0 934.1h0M359.3 950.5h0M374.1 946.5h0M364.6 947.0h0M386.1 955.2h0M374.1 943.0h0M379.2 966.2h0M368.5 939.6h0M350.9 973.9h0M383.5 934.7h0M359.7 954.6h0M372.6 931.2h0M359.1 944.4h0M378.3 950.2h0M372.3 928.4h0M347.1 962.0h0M385.5 940.8h0M375.0 936.9h0M374.6 926.0h0M381.1 929.2h0M355.3 955.6h0M383.7 945.9h0M364.0 958.3h0M354.5 949.3h0M371.8 940.1h0M361.8 954.1h0M347.9 940.8h0M353.9 934.3h0M371.6 960.6h0M366.8 928.0h0M353.1 942.9h0M370.9 938.0h0M366.0 924.0h0M367.5 952.8h0M357.4 952.0h0M358.2 946.6h0M352.2 923.7h0M369.2 945.6h0M379.6 924.9h0M352.7 940.6h0M355.2 954.2h0M370.1 945.3h0M370.3 948.2h0M372.7 937.1h0M348.4 948.8h0M343.3 961.9h0M369.0 932.3h0M354.1 952.1h0M361.8 955.8h0M379.0 928.6h0M366.6 946.6h0M365.9 943.9h0M360.2 957.9h0M364.3 938.7h0M364.9 928.0h0M348.4 951.1h0M371.8 928.2h0M364.6 940.1h0M367.3 937.7h0M367.0 940.0h0M374.5 942.3h0M366.0 954.0h0M358.3 945.2h0M371.7 943.9h0M381.7 943.7h0M368.4 945.9h0M379.4 940.9h0M354.7 952.2h0M343.2 939.3h0M389.0 940.5h0M373.0 930.9h0M363.7 949.9h0M377.9 951.3h0M371.4 935.3h0M357.2 965.0h0M373.2 941.2h0M372.1 953.6h0M360.9 937.9h0M367.5 940.7h0M361.1 941.6h0M368.0 933.3h0M369.8 936.5h0M353.8 938.9h0M342.1 955.4h0M375.6 962.3h0M376.4 953.0h0M371.7 948.2h0M358.9 950.5h0M372.3 945.1h0M372.6 941.2h0M357.1 930.0h0M359.6 947.6h0M379.2 923.9h0M368.6 929.8h0M371.3 952.1h0M359.9 943.3h0M377.5 945.7h0M360.8 953.4h0M363.3 953.6h0M369.4 932.9h0M366.9 963.9h0M351.5 947.6h0M378.2 946.1h0M372.8 942.4h0M376.6 953.1h0M354.0 951.8h0M366.4 941.0h0M385.3 933.8h0M355.1 936.7h0M347.2 939.5h0M364.8 953.4h0M361.3 949.6h0M370.8 943.9h0M375.6 947.5h0M370.1 926.5h0M365.2 937.2h0M370.7 963.5h0M376.7 950.3h0M362.0 948.6h0M374.1 941.0h0M364.1 945.1h0M360.8 932.1h0M355.8 943.4h0M364.1 941.8h0M360.1 952.2h0M372.5 934.5h0M357.9 960.2h0M361.4 941.2h0M356.4 955.4h0M340.4 946.0h0M357.8 935.0h0M370.6 940.6h0M367.7 935.9h0M367.6 937.8h0M376.7 947.2h0M353.3 944.9h0M361.6 922.8h0M364.6 954.4h0M365.7 942.8h0M380.6 935.5h0M375.8 938.2h0M356.4 946.3h0M380.9 944.3h0M342.6 954.5h0M363.5 950.8h0M369.0 937.4h0M373.1 934.6h0M360.4 948.7h0M373.1 936.3h0M346.5 941.6h0M379.3 952.2h0M364.4 923.2h0M363.1 929.5h0M358.7 946.2h0M358.3 946.8h0M367.6 949.9h0M366.8 949.4h0M375.8 939.8h0M375.5 950.8h0M365.4 930.2h0M358.7 930.7h0M364.2 936.9h0M368.2 942.3h0M371.1 934.5h0M359.5 932.5h0M360.0 944.0h0M372.8 956.0h0M367.9 936.4h0M374.3 932.5h0M355.5 958.2h0M374.4 947.8h0M369.9 937.3h0M364.9 947.0h0M354.8 957.5h0M370.9 940.8h0M366.1 931.2h0M375.7 956.0h0M364.4 942.1h0M359.4 946.2h0M363.3 933.0h0M355.1 967.4h0M377.4 934.7h0M362.9 948.3h0M372.4 935.5h0M357.7 930.7h0M379.4 942.7h0M336.1 934.3h0M375.0 945.3h0M354.2 943.2h0M376.4 930.8h0M363.0 955.4h0M347.5 959.1h0M355.0 956.8h0M377.1 951.8h0M342.4 941.4h0M369.2 943.5h0M352.7 988.2h0M356.3 1007.0h0M349.1 1005.5h0M346.4 976.7h0M350.6 981.7h0M355.1 957.3h0M331.5 997.1h0M356.6 990.0h0M355.5 951.8h0M355.2 973.3h0M350.0 996.4h0M346.2 960.7h0M361.3 966.3h0M347.4 1012.5h0M348.4 998.5h0M353.6 1007.7h0M336.2 964.8h0M345.2 986.7h0M346.9 993.2h0M342.2 993.4h0M340.2 977.7h0M343.8 1014.0h0M344.0 977.2h0M348.1 995.1h0M335.9 1003.7h0M346.3 991.4h0M358.0 974.7h0M350.3 1014.6h0M360.5 991.1h0M328.8 966.8h0M347.9 979.0h0M346.1 985.3h0M338.2 998.0h0M351.9 963.9h0M334.9 982.6h0M351.4 1021.3h0M346.0 996.2h0M336.5 1000.9h0M350.3 970.9h0M341.0 990.2h0M353.6 980.5h0M335.2 971.3h0M363.7 991.5h0M366.3 1022.3h0M336.0 990.2h0M360.8 982.7h0M351.6 1003.3h0M344.7 993.7h0M355.8 996.0h0M341.9 984.7h0M361.8 1022.6h0M338.9 976.1h0M344.6 959.3h0M335.8 1013.4h0M357.5 985.7h0M349.4 989.1h0M341.9 1001.4h0M352.9 977.5h0M353.3 991.3h0M331.0 982.2h0M349.0 985.7h0M338.3 1004.3h0M363.1 979.7h0M348.8 1013.8h0M348.4 945.0h0M330.2 1001.4h0M336.6 995.6h0M356.0 995.6h0M352.0 988.6h0M356.5 1013.3h0M349.1 974.8h0M362.5 975.3h0M361.5 970.5h0M354.5 1042.1h0M359.2 965.7h0M351.1 983.6h0M350.2 996.9h0M345.5 1044.0h0M338.9 986.1h0M357.0 1004.9h0M360.4 991.1h0M345.2 986.3h0M358.6 1008.2h0M355.8 965.8h0M346.5 967.8h0M349.5 981.6h0M334.6 982.1h0M343.6 1024.3h0M359.4 1004.8h0M347.6 955.3h0M347.2 997.7h0M366.0 984.4h0M355.6 954.1h0M355.9 994.8h0M344.4 989.5h0M362.1 970.9h0M343.0 998.6h0M348.8 981.1h0M348.3 1003.4h0M362.3 976.4h0M345.6 977.5h0M340.3 995.5h0M338.4 991.6h0M341.2 992.1h0M326.7 988.7h0M349.7 968.9h0M338.7 983.3h0M341.1 965.8h0M352.0 992.7h0M325.5 970.8h0M360.5 988.1h0M340.9 971.5h0M346.7 1002.8h0M358.5 977.2h0M356.8 989.9h0M356.8 997.3h0M342.3 1013.6h0M348.9 1015.8h0M342.4 1015.9h0M347.4 948.7h0M340.0 1002.5h0M342.4 1001.1h0M348.7 946.0h0M349.5 970.8h0M339.4 1000.4h0M353.2 979.9h0M348.1 998.6h0M343.6 987.2h0M368.2 963.8h0M338.9 980.3h0M352.0 983.2h0M328.4 992.6h0M355.4 995.5h0M341.7 989.3h0M349.9 997.2h0M345.7 976.5h0M346.5 1026.6h0M340.6 982.0h0M350.9 992.6h0M348.3 1004.9h0M353.0 996.3h0M358.9 1015.2h0M345.4 976.3h0M345.4 993.8h0M341.2 995.8h0M345.6 996.1h0M345.1 1002.2h0M335.7 1002.2h0M351.3 973.5h0M344.8 1016.7h0M349.2 991.2h0M341.6 976.9h0M355.0 1003.2h0M345.3 978.3h0M340.4 982.3h0M359.3 984.7h0M354.2 1000.8h0M331.2 976.3h0M368.0 1001.8h0M347.5 1000.4h0M340.5 1044.4h0M353.2 1043.7h0M354.1 1045.0h0M359.4 1044.8h0M339.8 1044.5h0M351.1 1044.8h0M329.8 1044.6h0M350.4 1043.1h0M340.2 1045.2h0M352.7 1044.7h0M353.6 1043.8h0M350.4 1044.4h0M352.7 1043.8h0M356.9 1044.3h0M351.0 1044.8h0" fill="none" stroke="#26257c" stroke-width="1.7" stroke-linecap="round"/>
<path d="M323.9 1018.5h0M315.8 1015.3h0M344.0 995.3h0M332.6 1000.2h0M328.9 1027.7h0M319.8 993.1h0M320.9 1003.4h0M332.7 999.6h0M328.3 996.3h0M333.3 977.9h0M328.4 987.4h0M339.3 1003.3h0M335.7 983.8h0M344.1 1007.4h0M325.5 1025.8h0M335.5 1008.1h0M333.9 1005.2h0M327.4 1000.8h0M331.0 979.0h0M317.7 1028.7h0M323.2 1029.5h0M319.1 1008.6h0M307.2 997.7h0M332.3 1008.0h0M330.0 957.6h0M335.5 996.8h0M339.9 966.0h0M320.8 1025.2h0M308.5 1021.6h0M320.0 1004.5h0M313.3 1016.8h0M332.8 985.1h0M328.1 984.8h0M332.3 984.2h0M332.8 1028.4h0M328.7 1011.3h0M326.3 993.8h0M334.8 986.7h0M328.5 1003.9h0M327.0 1000.6h0M336.5 984.1h0M344.4 978.3h0M333.8 1004.4h0M332.0 980.6h0M321.2 1031.9h0M313.3 1010.4h0M328.0 1001.7h0M303.4 1042.5h0M315.8 1016.5h0M320.4 978.0h0M303.6 1030.5h0M329.0 992.2h0M329.5 965.2h0M330.2 995.4h0M312.7 1039.1h0M331.3 989.5h0M336.1 986.0h0M339.4 1004.9h0M324.4 1000.2h0M337.1 977.5h0M326.3 1002.4h0M336.7 1014.8h0M343.2 1015.1h0M323.9 1005.8h0M322.3 1017.4h0M340.6 976.1h0M302.4 984.2h0M336.0 1014.7h0M322.7 1024.4h0M349.3 996.1h0M335.0 987.6h0M337.7 985.0h0M328.3 995.6h0M330.6 984.7h0M338.7 970.8h0M321.1 1005.2h0M328.6 1011.0h0M325.7 980.0h0M330.8 1018.5h0M335.9 968.1h0M331.1 1008.1h0M326.4 1020.7h0M338.0 1005.0h0M343.3 978.8h0M327.6 1002.3h0M335.8 971.9h0M325.7 1014.0h0M332.4 987.8h0M318.8 1017.1h0M308.1 1011.6h0M328.0 1000.1h0M328.1 1003.5h0M343.0 1020.7h0M340.1 1007.4h0M326.5 972.8h0M355.2 987.8h0M308.4 1018.7h0M331.0 995.2h0M325.5 1001.7h0M315.5 1019.6h0M331.7 1001.5h0M325.7 1002.4h0M328.2 1016.7h0M327.4 1014.7h0M325.1 1000.0h0M323.0 1017.5h0M327.6 1022.4h0M334.9 971.0h0M352.5 957.7h0M335.0 1012.8h0M330.1 971.0h0M323.5 1000.5h0M326.2 970.2h0M331.8 986.0h0M321.5 1040.0h0M340.1 990.6h0M327.0 1018.6h0M322.4 1024.0h0M316.6 992.7h0M334.9 1018.6h0" fill="none" stroke="#f2d20c" stroke-width="1.6" stroke-linecap="round"/>
<path d="M355.1 1045.3h0M347.3 1043.5h0M332.9 1044.3h0M332.7 1044.6h0M340.5 1044.9h0M346.5 1044.2h0M355.3 1044.8h0M347.7 1044.4h0M334.2 1044.3h0M352.9 1045.1h0M348.5 1042.9h0M337.1 1044.3h0" fill="none" stroke="#111" stroke-width="1.5" stroke-linecap="round"/>
<line x1="290.20" y1="914.50" x2="290.20" y2="1052.80" stroke="#111" stroke-width="1.2" />
<line x1="289.60" y1="1052.20" x2="403.80" y2="1052.20" stroke="#111" stroke-width="1.2" />
<line x1="288.20" y1="1045.50" x2="290.20" y2="1045.50" stroke="#111" stroke-width="0.9" />
<text x="285.80" y="1048.22" font-size="7.9" font-family='"Liberation Sans", Arial, sans-serif' text-anchor="end" fill="#222">0</text>
<line x1="288.20" y1="1021.64" x2="290.20" y2="1021.64" stroke="#111" stroke-width="0.9" />
<text x="285.80" y="1024.36" font-size="7.9" font-family='"Liberation Sans", Arial, sans-serif' text-anchor="end" fill="#222">2</text>
<line x1="288.20" y1="997.78" x2="290.20" y2="997.78" stroke="#111" stroke-width="0.9" />
<text x="285.80" y="1000.50" font-size="7.9" font-family='"Liberation Sans", Arial, sans-serif' text-anchor="end" fill="#222">4</text>
<line x1="288.20" y1="973.92" x2="290.20" y2="973.92" stroke="#111" stroke-width="0.9" />
<text x="285.80" y="976.64" font-size="7.9" font-family='"Liberation Sans", Arial, sans-serif' text-anchor="end" fill="#222">6</text>
<line x1="288.20" y1="950.06" x2="290.20" y2="950.06" stroke="#111" stroke-width="0.9" />
<text x="285.80" y="952.78" font-size="7.9" font-family='"Liberation Sans", Arial, sans-serif' text-anchor="end" fill="#222">8</text>
<line x1="288.20" y1="926.20" x2="290.20" y2="926.20" stroke="#111" stroke-width="0.9" />
<text x="285.80" y="928.92" font-size="7.9" font-family='"Liberation Sans", Arial, sans-serif' text-anchor="end" fill="#222">10</text>
<line x1="317.70" y1="1052.20" x2="317.70" y2="1054.20" stroke="#111" stroke-width="0.9" />
<text x="317.70" y="1061.42" font-size="7.9" font-family='"Liberation Sans", Arial, sans-serif' text-anchor="middle" fill="#222">0</text>
<line x1="347.60" y1="1052.20" x2="347.60" y2="1054.20" stroke="#111" stroke-width="0.9" />
<text x="347.60" y="1061.42" font-size="7.9" font-family='"Liberation Sans", Arial, sans-serif' text-anchor="middle" fill="#222">1</text>
<line x1="377.50" y1="1052.20" x2="377.50" y2="1054.20" stroke="#111" stroke-width="0.9" />
<text x="377.50" y="1061.42" font-size="7.9" font-family='"Liberation Sans", Arial, sans-serif' text-anchor="middle" fill="#222">2</text>
<text x="273.40" y="983.50" font-size="8.0" font-family='"Liberation Sans", Arial, sans-serif' text-anchor="middle" fill="#222" transform="rotate(-90 273.40 983.50)">PTPRZ1 expression</text>
<text x="347.00" y="1071.38" font-size="7.8" font-family='"Liberation Sans", Arial, sans-serif' text-anchor="middle" fill="#222">RG score</text>
<text x="294.4" y="926.6" font-size="7.4" font-family='"Liberation Sans", Arial, sans-serif' fill="#222"><tspan font-style="italic">R</tspan> = 0.81</text>
</svg></body></html>
